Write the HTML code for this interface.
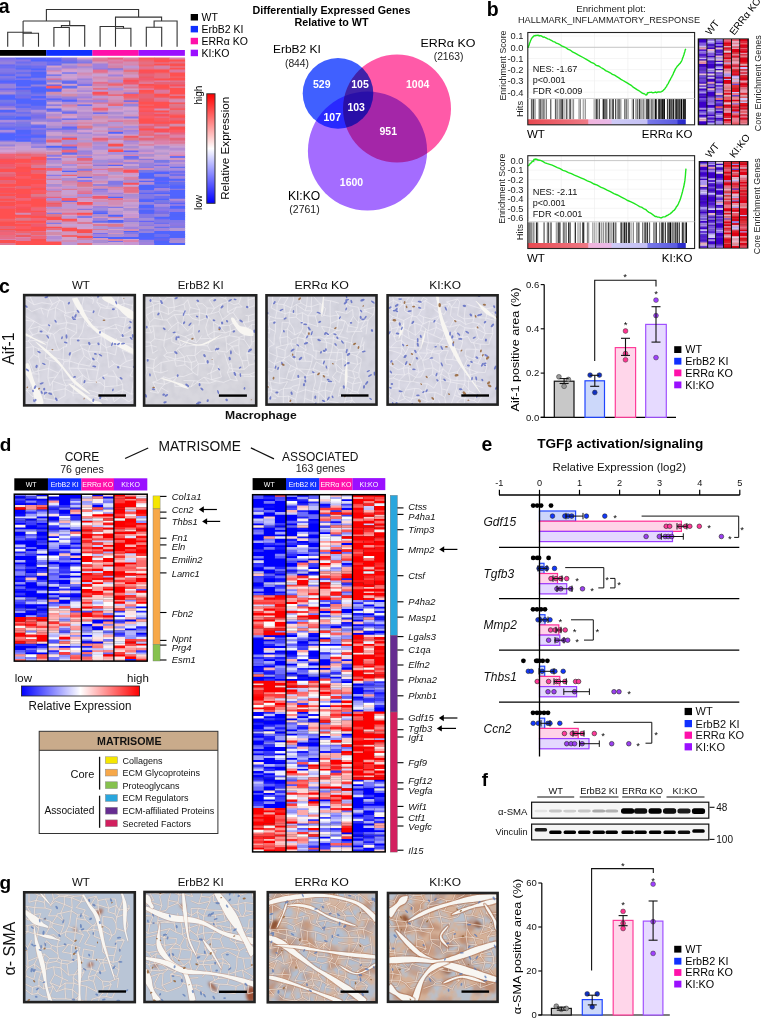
<!DOCTYPE html>
<html><head><meta charset="utf-8"><style>
html,body{margin:0;padding:0;background:#fff;}
svg{display:block;}
text{font-family:"Liberation Sans",sans-serif;}
</style></head><body>
<svg width="761" height="1019" viewBox="0 0 761 1019">
<rect width="761" height="1019" fill="#fff"/>
<text x="-1.2" y="12.8" font-size="19.50" font-weight="bold">a</text>
<polyline points="23.1,46.8 23.1,33.3 38.5,33.3 38.5,46.8" fill="none" stroke="#333" stroke-width="1.10"/>
<polyline points="7.7,46.8 7.7,32.2 31.2,32.2 31.2,33.3" fill="none" stroke="#333" stroke-width="1.10"/>
<line x1="23.1" y1="33.3" x2="23.1" y2="21.0" stroke="#333" stroke-width="1.10"/>
<polyline points="53.9,46.8 53.9,27.5 69.3,27.5 69.3,46.8" fill="none" stroke="#333" stroke-width="1.10"/>
<polyline points="61.4,27.5 61.4,25.6 84.7,25.6 84.7,46.8" fill="none" stroke="#333" stroke-width="1.10"/>
<polyline points="23.1,21.0 69.7,21.0 69.7,25.6" fill="none" stroke="#333" stroke-width="1.10"/>
<polyline points="46.4,21.0 46.4,9.5 138.6,9.5 138.6,17.1" fill="none" stroke="#333" stroke-width="1.10"/>
<polyline points="115.5,46.8 115.5,28.3 130.9,28.3 130.9,46.8" fill="none" stroke="#333" stroke-width="1.10"/>
<polyline points="100.1,46.8 100.1,26.5 123.5,26.5 123.5,28.3" fill="none" stroke="#333" stroke-width="1.10"/>
<polyline points="115.5,28.3 115.5,17.1 161.6,17.1 161.6,21.0" fill="none" stroke="#333" stroke-width="1.10"/>
<polyline points="146.3,46.8 146.3,27.3 161.7,27.3 161.7,46.8" fill="none" stroke="#333" stroke-width="1.10"/>
<polyline points="154.1,27.3 154.1,21.0 177.1,21.0 177.1,46.8" fill="none" stroke="#333" stroke-width="1.10"/>
<rect x="0.0" y="50.0" width="46.3" height="5.8" fill="#000000"/>
<rect x="46.2" y="50.0" width="46.3" height="5.8" fill="#1030ff"/>
<rect x="92.4" y="50.0" width="46.3" height="5.8" fill="#ff10aa"/>
<rect x="138.6" y="50.0" width="46.3" height="5.8" fill="#9a10ff"/>
<path stroke="#786ef0" stroke-width="2.76" d="M0 59h15.7M30.8 115.2h15.7M0 123.2h15.7M15.4 129.2h15.7M154 165.3h15.7M154 171.3h15.7M154 211.4h15.7M154 219.4h15.7M92.4 233.5h15.7M107.8 241.5h15.7"/>
<path stroke="#5a64fa" stroke-width="2.76" d="M15.4 59h15.7M30.8 59h15.7M46.2 65h15.7M30.8 75h15.7M61.6 83.1h15.7M46.2 85.1h15.7M77 85.1h15.7M30.8 87.1h15.7M0 95.1h15.7M123.2 101.1h15.7M92.4 113.1h15.7M61.6 119.2h15.7M30.8 127.2h15.7M30.8 135.2h15.7M107.8 165.3h15.7M77 177.3h15.7M154 177.3h15.7M138.6 181.3h15.7M169.4 185.3h15.7M154 187.3h15.7M138.6 193.4h15.7M138.6 199.4h15.7M169.4 203.4h15.7M138.6 213.4h15.7"/>
<path stroke="#6464fa" stroke-width="2.76" d="M46.2 59h15.7M0 65h15.7M0 83.1h15.7M0 89.1h15.7M0 105.1h15.7M61.6 127.2h15.7M0 133.2h15.7M15.4 135.2h15.7M15.4 139.2h15.7M123.2 151.2h15.7M154 181.3h15.7M138.6 221.4h15.7M138.6 239.5h15.7"/>
<path stroke="#8c78dc" stroke-width="2.76" d="M61.6 59h15.7M0 107.1h15.7M30.8 113.1h15.7M138.6 159.3h15.7M92.4 165.3h15.7M169.4 181.3h15.7M169.4 189.4h15.7M77 209.4h15.7M169.4 225.4h15.7"/>
<path stroke="#d2a0c8" stroke-width="2.76" d="M77 59h15.7M46.2 67h15.7M92.4 81.1h15.7M46.2 83.1h15.7M61.6 85.1h15.7M77 87.1h15.7M92.4 87.1h15.7M61.6 89.1h15.7M123.2 89.1h15.7M123.2 107.1h15.7M123.2 119.2h15.7M92.4 121.2h15.7M123.2 125.2h15.7M46.2 135.2h15.7M123.2 135.2h15.7M138.6 143.2h15.7M46.2 145.2h15.7M123.2 145.2h15.7M154 145.2h15.7M0 147.2h15.7M46.2 151.2h15.7M92.4 153.3h15.7M61.6 155.3h15.7M107.8 155.3h15.7M154 155.3h15.7M46.2 157.3h15.7M138.6 157.3h15.7M107.8 167.3h15.7M92.4 173.3h15.7M107.8 175.3h15.7M77 179.3h15.7M46.2 183.3h15.7M92.4 183.3h15.7M77 201.4h15.7M123.2 207.4h15.7M61.6 215.4h15.7M77 221.4h15.7M92.4 223.4h15.7M107.8 229.5h15.7M46.2 235.5h15.7M61.6 237.5h15.7M61.6 239.5h15.7M123.2 239.5h15.7"/>
<path stroke="#dc82a0" stroke-width="2.76" d="M92.4 59h15.7M169.4 67h15.7M46.2 71h15.7M92.4 73h15.7M169.4 87.1h15.7M169.4 95.1h15.7M169.4 99.1h15.7M123.2 121.2h15.7M77 123.2h15.7M107.8 127.2h15.7M107.8 131.2h15.7M169.4 135.2h15.7M169.4 141.2h15.7M77 143.2h15.7M77 145.2h15.7M138.6 145.2h15.7M30.8 153.3h15.7M107.8 171.3h15.7M123.2 177.3h15.7M107.8 187.3h15.7M107.8 217.4h15.7M61.6 227.5h15.7M61.6 231.5h15.7M77 235.5h15.7M107.8 239.5h15.7"/>
<path stroke="#e66482" stroke-width="2.76" d="M107.8 59h15.7M169.4 133.2h15.7M154 135.2h15.7M46.2 197.4h15.7"/>
<path stroke="#dc82aa" stroke-width="2.76" d="M123.2 59h15.7M169.4 59h15.7M107.8 61h15.7M123.2 65h15.7M154 81.1h15.7M138.6 83.1h15.7M138.6 89.1h15.7M123.2 103.1h15.7M169.4 137.2h15.7M92.4 141.2h15.7M154 141.2h15.7M154 143.2h15.7M0 153.3h15.7M123.2 155.3h15.7M169.4 155.3h15.7M61.6 163.3h15.7M77 215.4h15.7M15.4 237.5h15.7M0 239.5h15.7M123.2 241.5h15.7"/>
<path stroke="#fa5a5a" stroke-width="2.76" d="M138.6 59h15.7M123.2 71h15.7M138.6 93.1h15.7M107.8 105.1h15.7M169.4 115.2h15.7M30.8 193.4h15.7M15.4 217.4h15.7M0 221.4h15.7"/>
<path stroke="#f05a64" stroke-width="2.76" d="M154 59h15.7M138.6 77.1h15.7M154 89.1h15.7M107.8 95.1h15.7M154 97.1h15.7M138.6 99.1h15.7M138.6 101.1h15.7M138.6 115.2h15.7M154 121.2h15.7M123.2 137.2h15.7M30.8 179.3h15.7M30.8 187.3h15.7M0 193.4h15.7M46.2 203.4h15.7M30.8 215.4h15.7M15.4 235.5h15.7"/>
<path stroke="#8c78e6" stroke-width="2.76" d="M0 61h15.7M15.4 61h15.7M30.8 65h15.7M0 69h15.7M92.4 69h15.7M30.8 71h15.7M15.4 79.1h15.7M15.4 87.1h15.7M0 91.1h15.7M123.2 93.1h15.7M30.8 95.1h15.7M30.8 99.1h15.7M61.6 99.1h15.7M0 113.1h15.7M30.8 119.2h15.7M46.2 121.2h15.7M30.8 129.2h15.7M0 141.2h15.7M46.2 155.3h15.7M46.2 159.3h15.7M138.6 167.3h15.7M169.4 173.3h15.7M46.2 175.3h15.7M77 181.3h15.7M169.4 201.4h15.7M169.4 205.4h15.7M154 209.4h15.7M169.4 209.4h15.7M169.4 211.4h15.7M123.2 221.4h15.7M169.4 223.4h15.7M138.6 225.4h15.7"/>
<path stroke="#5064ff" stroke-width="2.76" d="M30.8 61h15.7M46.2 61h15.7M15.4 69h15.7M30.8 69h15.7M15.4 73h15.7M61.6 73h15.7M0 75h15.7M15.4 77.1h15.7M30.8 77.1h15.7M0 81.1h15.7M15.4 81.1h15.7M30.8 81.1h15.7M15.4 83.1h15.7M15.4 85.1h15.7M15.4 89.1h15.7M30.8 89.1h15.7M46.2 89.1h15.7M46.2 91.1h15.7M0 97.1h15.7M30.8 97.1h15.7M0 99.1h15.7M15.4 99.1h15.7M46.2 99.1h15.7M15.4 101.1h15.7M30.8 101.1h15.7M61.6 101.1h15.7M15.4 103.1h15.7M30.8 105.1h15.7M77 105.1h15.7M15.4 107.1h15.7M46.2 109.1h15.7M15.4 117.2h15.7M0 119.2h15.7M15.4 119.2h15.7M0 129.2h15.7M15.4 133.2h15.7M107.8 133.2h15.7M0 135.2h15.7M0 137.2h15.7M15.4 137.2h15.7M30.8 137.2h15.7M0 139.2h15.7M15.4 141.2h15.7M61.6 147.2h15.7M61.6 171.3h15.7M138.6 173.3h15.7M154 173.3h15.7M138.6 175.3h15.7M154 179.3h15.7M169.4 179.3h15.7M154 183.3h15.7M138.6 185.3h15.7M169.4 187.3h15.7M138.6 189.4h15.7M169.4 191.4h15.7M154 193.4h15.7M169.4 193.4h15.7M169.4 195.4h15.7M107.8 197.4h15.7M154 199.4h15.7M138.6 201.4h15.7M138.6 205.4h15.7M138.6 207.4h15.7M169.4 207.4h15.7M92.4 213.4h15.7M169.4 213.4h15.7M107.8 215.4h15.7M154 217.4h15.7M169.4 217.4h15.7M169.4 219.4h15.7M123.2 231.5h15.7M154 231.5h15.7M169.4 231.5h15.7M138.6 233.5h15.7M154 233.5h15.7M169.4 233.5h15.7M92.4 237.5h15.7M107.8 237.5h15.7M123.2 237.5h15.7M138.6 237.5h15.7M154 237.5h15.7M169.4 237.5h15.7M154 243.5h15.7M169.4 243.5h15.7"/>
<path stroke="#786ee6" stroke-width="2.76" d="M61.6 61h15.7M0 73h15.7M15.4 91.1h15.7M15.4 97.1h15.7M46.2 105.1h15.7M30.8 117.2h15.7M30.8 133.2h15.7M154 203.4h15.7M154 213.4h15.7"/>
<path stroke="#9682dc" stroke-width="2.76" d="M77 61h15.7M0 63h15.7M77 67h15.7M77 79.1h15.7M0 85.1h15.7M30.8 85.1h15.7M0 87.1h15.7M61.6 97.1h15.7M123.2 105.1h15.7M15.4 111.1h15.7M61.6 111.1h15.7M46.2 119.2h15.7M15.4 121.2h15.7M30.8 121.2h15.7M77 129.2h15.7M77 133.2h15.7M61.6 137.2h15.7M0 145.2h15.7M77 151.2h15.7M123.2 159.3h15.7M138.6 163.3h15.7M138.6 165.3h15.7M154 175.3h15.7M92.4 185.3h15.7M107.8 185.3h15.7M154 195.4h15.7M138.6 203.4h15.7M154 215.4h15.7M138.6 223.4h15.7M138.6 231.5h15.7M138.6 241.5h15.7"/>
<path stroke="#dc7896" stroke-width="2.76" d="M92.4 61h15.7M154 63h15.7M138.6 67h15.7M154 69h15.7M169.4 81.1h15.7M107.8 83.1h15.7M123.2 87.1h15.7M154 93.1h15.7M123.2 99.1h15.7M154 99.1h15.7M92.4 103.1h15.7M107.8 103.1h15.7M154 113.1h15.7M107.8 139.2h15.7M154 139.2h15.7M169.4 143.2h15.7M107.8 149.2h15.7M15.4 153.3h15.7M77 163.3h15.7M30.8 165.3h15.7M30.8 167.3h15.7M123.2 169.3h15.7M77 171.3h15.7M46.2 179.3h15.7M61.6 189.4h15.7M46.2 191.4h15.7M77 197.4h15.7M46.2 201.4h15.7M61.6 221.4h15.7M77 223.4h15.7M92.4 225.4h15.7M92.4 229.5h15.7M15.4 233.5h15.7M30.8 235.5h15.7M46.2 241.5h15.7M0 243.5h15.7"/>
<path stroke="#e66e8c" stroke-width="2.76" d="M123.2 61h15.7M138.6 69h15.7M92.4 71h15.7M46.2 79.1h15.7M92.4 83.1h15.7M154 101.1h15.7M154 117.2h15.7M107.8 121.2h15.7M138.6 131.2h15.7M61.6 145.2h15.7M77 183.3h15.7M123.2 189.4h15.7M77 193.4h15.7M107.8 199.4h15.7M61.6 213.4h15.7M30.8 231.5h15.7M0 237.5h15.7"/>
<path stroke="#f0646e" stroke-width="2.76" d="M138.6 61h15.7M138.6 65h15.7M154 73h15.7M169.4 77.1h15.7M107.8 85.1h15.7M123.2 97.1h15.7M138.6 105.1h15.7M138.6 135.2h15.7M15.4 155.3h15.7M15.4 163.3h15.7M30.8 163.3h15.7M30.8 173.3h15.7M61.6 175.3h15.7M0 183.3h15.7M0 187.3h15.7M0 201.4h15.7M30.8 207.4h15.7M0 219.4h15.7M15.4 223.4h15.7M30.8 223.4h15.7M77 229.5h15.7M15.4 231.5h15.7M30.8 233.5h15.7M61.6 235.5h15.7"/>
<path stroke="#ff5050" stroke-width="2.76" d="M154 61h15.7M169.4 61h15.7M154 65h15.7M169.4 69h15.7M138.6 71h15.7M154 71h15.7M169.4 73h15.7M169.4 75h15.7M154 79.1h15.7M169.4 79.1h15.7M154 85.1h15.7M154 87.1h15.7M169.4 89.1h15.7M138.6 91.1h15.7M169.4 91.1h15.7M169.4 93.1h15.7M154 95.1h15.7M138.6 103.1h15.7M154 103.1h15.7M169.4 103.1h15.7M154 105.1h15.7M138.6 107.1h15.7M169.4 109.1h15.7M138.6 111.1h15.7M154 111.1h15.7M169.4 117.2h15.7M138.6 119.2h15.7M138.6 121.2h15.7M169.4 121.2h15.7M138.6 123.2h15.7M154 123.2h15.7M169.4 123.2h15.7M138.6 129.2h15.7M154 129.2h15.7M169.4 129.2h15.7M61.6 139.2h15.7M107.8 151.2h15.7M30.8 157.3h15.7M15.4 159.3h15.7M30.8 159.3h15.7M0 161.3h15.7M15.4 161.3h15.7M0 169.3h15.7M15.4 169.3h15.7M30.8 169.3h15.7M0 171.3h15.7M15.4 171.3h15.7M15.4 175.3h15.7M30.8 175.3h15.7M30.8 177.3h15.7M0 179.3h15.7M15.4 179.3h15.7M15.4 181.3h15.7M30.8 181.3h15.7M15.4 183.3h15.7M30.8 183.3h15.7M0 185.3h15.7M15.4 185.3h15.7M15.4 189.4h15.7M30.8 189.4h15.7M0 191.4h15.7M15.4 191.4h15.7M15.4 193.4h15.7M0 195.4h15.7M15.4 197.4h15.7M0 199.4h15.7M30.8 199.4h15.7M15.4 201.4h15.7M30.8 201.4h15.7M15.4 203.4h15.7M30.8 203.4h15.7M0 205.4h15.7M30.8 205.4h15.7M0 209.4h15.7M0 211.4h15.7M30.8 211.4h15.7M0 213.4h15.7M77 213.4h15.7M0 215.4h15.7M15.4 215.4h15.7M0 217.4h15.7M30.8 217.4h15.7M46.2 217.4h15.7M46.2 219.4h15.7M61.6 219.4h15.7M15.4 221.4h15.7M30.8 221.4h15.7M0 225.4h15.7M15.4 225.4h15.7M30.8 227.5h15.7M46.2 227.5h15.7M0 229.5h15.7M15.4 229.5h15.7M30.8 229.5h15.7M61.6 229.5h15.7M15.4 241.5h15.7M30.8 241.5h15.7M15.4 243.5h15.7M30.8 243.5h15.7M46.2 243.5h15.7"/>
<path stroke="#6e6ef0" stroke-width="2.76" d="M15.4 63h15.7M46.2 63h15.7M0 67h15.7M30.8 67h15.7M0 79.1h15.7M15.4 95.1h15.7M0 103.1h15.7M15.4 105.1h15.7M30.8 107.1h15.7M30.8 109.1h15.7M46.2 111.1h15.7M15.4 113.1h15.7M61.6 113.1h15.7M30.8 125.2h15.7M0 127.2h15.7M15.4 127.2h15.7M30.8 131.2h15.7M30.8 141.2h15.7M123.2 157.3h15.7M169.4 157.3h15.7M169.4 171.3h15.7M169.4 175.3h15.7M154 191.4h15.7M154 197.4h15.7M61.6 201.4h15.7M138.6 209.4h15.7M92.4 211.4h15.7M154 223.4h15.7M154 235.5h15.7"/>
<path stroke="#8278e6" stroke-width="2.76" d="M30.8 63h15.7M77 63h15.7M15.4 65h15.7M0 71h15.7M15.4 71h15.7M15.4 75h15.7M0 77.1h15.7M30.8 79.1h15.7M46.2 101.1h15.7M15.4 109.1h15.7M0 115.2h15.7M15.4 115.2h15.7M123.2 117.2h15.7M77 119.2h15.7M15.4 123.2h15.7M0 125.2h15.7M30.8 139.2h15.7M30.8 143.2h15.7M30.8 147.2h15.7M61.6 149.2h15.7M77 169.3h15.7M107.8 181.3h15.7M107.8 183.3h15.7M92.4 189.4h15.7M138.6 191.4h15.7M138.6 195.4h15.7M138.6 197.4h15.7M107.8 207.4h15.7M154 207.4h15.7M46.2 213.4h15.7M138.6 215.4h15.7M77 217.4h15.7M138.6 217.4h15.7M154 221.4h15.7M169.4 221.4h15.7M46.2 223.4h15.7M169.4 227.5h15.7M138.6 229.5h15.7M123.2 233.5h15.7"/>
<path stroke="#646ef0" stroke-width="2.76" d="M61.6 63h15.7M15.4 67h15.7M107.8 69h15.7M46.2 75h15.7M61.6 81.1h15.7M61.6 87.1h15.7M30.8 93.1h15.7M0 117.2h15.7M46.2 129.2h15.7M61.6 129.2h15.7M61.6 153.3h15.7M169.4 167.3h15.7M169.4 183.3h15.7M154 185.3h15.7M92.4 221.4h15.7M154 227.5h15.7"/>
<path stroke="#d296be" stroke-width="2.76" d="M92.4 63h15.7M61.6 69h15.7M77 75h15.7M107.8 77.1h15.7M123.2 77.1h15.7M92.4 79.1h15.7M61.6 91.1h15.7M107.8 97.1h15.7M77 99.1h15.7M107.8 99.1h15.7M77 103.1h15.7M61.6 107.1h15.7M92.4 107.1h15.7M107.8 109.1h15.7M61.6 115.2h15.7M123.2 115.2h15.7M92.4 119.2h15.7M107.8 119.2h15.7M77 121.2h15.7M77 125.2h15.7M92.4 127.2h15.7M123.2 129.2h15.7M61.6 135.2h15.7M77 139.2h15.7M107.8 143.2h15.7M169.4 145.2h15.7M123.2 149.2h15.7M15.4 151.2h15.7M30.8 151.2h15.7M169.4 159.3h15.7M123.2 161.3h15.7M107.8 177.3h15.7M61.6 185.3h15.7M77 187.3h15.7M123.2 193.4h15.7M61.6 195.4h15.7M92.4 195.4h15.7M92.4 199.4h15.7M123.2 199.4h15.7M92.4 205.4h15.7M107.8 205.4h15.7M46.2 211.4h15.7M61.6 211.4h15.7M77 211.4h15.7M92.4 217.4h15.7M123.2 217.4h15.7M61.6 223.4h15.7M46.2 225.4h15.7M61.6 233.5h15.7M107.8 233.5h15.7M92.4 239.5h15.7"/>
<path stroke="#dc78a0" stroke-width="2.76" d="M107.8 63h15.7M169.4 71h15.7M154 91.1h15.7M92.4 99.1h15.7M138.6 125.2h15.7M92.4 169.3h15.7M77 191.4h15.7M15.4 239.5h15.7"/>
<path stroke="#d28cb4" stroke-width="2.76" d="M123.2 63h15.7M77 65h15.7M107.8 65h15.7M77 73h15.7M92.4 77.1h15.7M107.8 79.1h15.7M123.2 85.1h15.7M107.8 87.1h15.7M107.8 91.1h15.7M123.2 91.1h15.7M107.8 93.1h15.7M107.8 101.1h15.7M169.4 101.1h15.7M154 109.1h15.7M92.4 111.1h15.7M46.2 117.2h15.7M92.4 123.2h15.7M154 127.2h15.7M92.4 131.2h15.7M154 133.2h15.7M138.6 137.2h15.7M46.2 139.2h15.7M138.6 141.2h15.7M77 147.2h15.7M77 155.3h15.7M61.6 157.3h15.7M61.6 161.3h15.7M77 161.3h15.7M107.8 163.3h15.7M138.6 169.3h15.7M77 175.3h15.7M92.4 181.3h15.7M61.6 183.3h15.7M92.4 187.3h15.7M77 189.4h15.7M107.8 189.4h15.7M46.2 193.4h15.7M46.2 195.4h15.7M92.4 201.4h15.7M107.8 201.4h15.7M123.2 201.4h15.7M61.6 203.4h15.7M107.8 203.4h15.7M77 205.4h15.7M46.2 209.4h15.7M61.6 209.4h15.7M15.4 213.4h15.7M46.2 221.4h15.7M123.2 229.5h15.7M77 233.5h15.7M61.6 241.5h15.7"/>
<path stroke="#e66e82" stroke-width="2.76" d="M138.6 63h15.7M169.4 63h15.7M154 75h15.7M154 77.1h15.7M123.2 79.1h15.7M138.6 81.1h15.7M92.4 89.1h15.7M92.4 95.1h15.7M169.4 107.1h15.7M169.4 113.1h15.7M138.6 133.2h15.7M154 137.2h15.7M30.8 155.3h15.7M15.4 157.3h15.7M0 173.3h15.7M123.2 187.3h15.7M123.2 191.4h15.7M46.2 229.5h15.7M0 235.5h15.7M77 243.5h15.7"/>
<path stroke="#b496d2" stroke-width="2.76" d="M61.6 65h15.7M46.2 95.1h15.7M123.2 111.1h15.7M107.8 123.2h15.7M61.6 133.2h15.7M77 137.2h15.7M77 141.2h15.7M0 143.2h15.7M15.4 143.2h15.7M107.8 147.2h15.7M154 149.2h15.7M154 153.3h15.7M46.2 163.3h15.7M107.8 173.3h15.7M107.8 211.4h15.7M123.2 223.4h15.7M92.4 227.5h15.7M169.4 229.5h15.7"/>
<path stroke="#a082dc" stroke-width="2.76" d="M92.4 65h15.7M61.6 67h15.7M92.4 67h15.7M107.8 75h15.7M77 83.1h15.7M77 91.1h15.7M46.2 97.1h15.7M77 97.1h15.7M77 101.1h15.7M92.4 101.1h15.7M46.2 131.2h15.7M61.6 131.2h15.7M123.2 131.2h15.7M123.2 141.2h15.7M77 153.3h15.7M77 157.3h15.7M107.8 161.3h15.7M169.4 161.3h15.7M123.2 163.3h15.7M169.4 177.3h15.7M154 189.4h15.7M92.4 191.4h15.7M107.8 193.4h15.7M92.4 207.4h15.7M92.4 219.4h15.7M123.2 219.4h15.7M154 225.4h15.7M123.2 227.5h15.7M154 229.5h15.7M92.4 235.5h15.7M123.2 235.5h15.7M169.4 239.5h15.7M138.6 243.5h15.7"/>
<path stroke="#fa5050" stroke-width="2.76" d="M169.4 65h15.7M138.6 85.1h15.7M169.4 97.1h15.7M169.4 127.2h15.7M107.8 145.2h15.7M15.4 167.3h15.7M0 203.4h15.7M15.4 209.4h15.7M0 223.4h15.7M77 231.5h15.7M77 237.5h15.7M30.8 239.5h15.7M0 241.5h15.7"/>
<path stroke="#d282aa" stroke-width="2.76" d="M107.8 67h15.7M154 67h15.7M123.2 69h15.7M92.4 85.1h15.7M61.6 105.1h15.7M61.6 123.2h15.7M92.4 175.3h15.7M123.2 179.3h15.7M61.6 181.3h15.7M77 239.5h15.7"/>
<path stroke="#be96d2" stroke-width="2.76" d="M123.2 67h15.7M77 69h15.7M46.2 77.1h15.7M61.6 79.1h15.7M77 89.1h15.7M92.4 91.1h15.7M92.4 97.1h15.7M77 107.1h15.7M107.8 107.1h15.7M77 109.1h15.7M77 115.2h15.7M92.4 115.2h15.7M61.6 121.2h15.7M46.2 123.2h15.7M46.2 125.2h15.7M107.8 125.2h15.7M77 135.2h15.7M15.4 145.2h15.7M92.4 145.2h15.7M0 149.2h15.7M77 149.2h15.7M138.6 149.2h15.7M92.4 155.3h15.7M92.4 159.3h15.7M154 159.3h15.7M169.4 163.3h15.7M92.4 167.3h15.7M61.6 173.3h15.7M46.2 177.3h15.7M92.4 179.3h15.7M61.6 187.3h15.7M61.6 197.4h15.7M92.4 203.4h15.7M61.6 205.4h15.7M123.2 205.4h15.7M61.6 207.4h15.7M107.8 213.4h15.7M61.6 217.4h15.7M107.8 223.4h15.7M123.2 225.4h15.7M92.4 231.5h15.7M46.2 239.5h15.7M77 241.5h15.7M61.6 243.5h15.7"/>
<path stroke="#aa8cdc" stroke-width="2.76" d="M46.2 69h15.7M77 81.1h15.7M107.8 89.1h15.7M61.6 103.1h15.7M30.8 111.1h15.7M0 121.2h15.7M123.2 127.2h15.7M0 131.2h15.7M123.2 133.2h15.7M61.6 143.2h15.7M30.8 145.2h15.7M92.4 147.2h15.7M92.4 149.2h15.7M107.8 153.3h15.7M123.2 153.3h15.7M107.8 159.3h15.7M154 163.3h15.7M61.6 165.3h15.7M169.4 165.3h15.7M169.4 169.3h15.7M92.4 193.4h15.7M77 195.4h15.7M46.2 199.4h15.7M154 205.4h15.7M107.8 227.5h15.7"/>
<path stroke="#d2a0d2" stroke-width="2.76" d="M61.6 71h15.7M46.2 73h15.7M61.6 77.1h15.7M123.2 109.1h15.7M107.8 111.1h15.7M61.6 117.2h15.7M77 131.2h15.7M107.8 135.2h15.7M0 151.2h15.7M123.2 213.4h15.7M77 219.4h15.7M77 227.5h15.7"/>
<path stroke="#c8a0d2" stroke-width="2.76" d="M77 71h15.7M61.6 75h15.7M92.4 75h15.7M61.6 93.1h15.7M77 93.1h15.7M46.2 103.1h15.7M46.2 107.1h15.7M61.6 109.1h15.7M77 111.1h15.7M46.2 113.1h15.7M123.2 113.1h15.7M107.8 115.2h15.7M30.8 123.2h15.7M92.4 129.2h15.7M46.2 133.2h15.7M92.4 133.2h15.7M107.8 141.2h15.7M46.2 143.2h15.7M15.4 147.2h15.7M138.6 147.2h15.7M169.4 147.2h15.7M15.4 149.2h15.7M30.8 149.2h15.7M92.4 151.2h15.7M154 151.2h15.7M169.4 151.2h15.7M92.4 157.3h15.7M107.8 157.3h15.7M154 157.3h15.7M61.6 159.3h15.7M46.2 165.3h15.7M123.2 165.3h15.7M61.6 167.3h15.7M46.2 171.3h15.7M46.2 173.3h15.7M123.2 175.3h15.7M61.6 177.3h15.7M107.8 179.3h15.7M46.2 181.3h15.7M123.2 185.3h15.7M61.6 191.4h15.7M61.6 193.4h15.7M123.2 203.4h15.7M107.8 209.4h15.7M123.2 211.4h15.7M107.8 219.4h15.7M61.6 225.4h15.7M77 225.4h15.7M46.2 231.5h15.7M92.4 243.5h15.7M107.8 243.5h15.7"/>
<path stroke="#b48cd2" stroke-width="2.76" d="M107.8 71h15.7M107.8 81.1h15.7M77 95.1h15.7M0 109.1h15.7M77 113.1h15.7M46.2 115.2h15.7M77 117.2h15.7M107.8 117.2h15.7M61.6 125.2h15.7M92.4 135.2h15.7M107.8 137.2h15.7M123.2 143.2h15.7M169.4 149.2h15.7M138.6 151.2h15.7M46.2 161.3h15.7M138.6 161.3h15.7M92.4 163.3h15.7M154 167.3h15.7M61.6 169.3h15.7M92.4 177.3h15.7M138.6 179.3h15.7M138.6 183.3h15.7M46.2 189.4h15.7M107.8 195.4h15.7M123.2 197.4h15.7M169.4 199.4h15.7M46.2 207.4h15.7M107.8 231.5h15.7M46.2 237.5h15.7"/>
<path stroke="#5064fa" stroke-width="2.76" d="M30.8 73h15.7M30.8 83.1h15.7M30.8 91.1h15.7M30.8 103.1h15.7M0 111.1h15.7M15.4 131.2h15.7M46.2 147.2h15.7M138.6 177.3h15.7M138.6 187.3h15.7M169.4 197.4h15.7M138.6 211.4h15.7M169.4 215.4h15.7M107.8 221.4h15.7M138.6 235.5h15.7M169.4 235.5h15.7M154 241.5h15.7"/>
<path stroke="#d296c8" stroke-width="2.76" d="M107.8 73h15.7M123.2 75h15.7M92.4 105.1h15.7M92.4 137.2h15.7M138.6 153.3h15.7M169.4 153.3h15.7M77 165.3h15.7M123.2 173.3h15.7M46.2 187.3h15.7M77 199.4h15.7"/>
<path stroke="#d28caa" stroke-width="2.76" d="M123.2 73h15.7M46.2 93.1h15.7M61.6 95.1h15.7M92.4 117.2h15.7M123.2 123.2h15.7M169.4 125.2h15.7M46.2 153.3h15.7M77 167.3h15.7M77 173.3h15.7M46.2 233.5h15.7"/>
<path stroke="#fa505a" stroke-width="2.76" d="M138.6 73h15.7M123.2 81.1h15.7M169.4 85.1h15.7M92.4 93.1h15.7M154 107.1h15.7M154 115.2h15.7M154 131.2h15.7M0 159.3h15.7M0 163.3h15.7M123.2 171.3h15.7M15.4 173.3h15.7M0 177.3h15.7M123.2 183.3h15.7M0 189.4h15.7M15.4 195.4h15.7M77 203.4h15.7M15.4 207.4h15.7M15.4 211.4h15.7"/>
<path stroke="#e66478" stroke-width="2.76" d="M138.6 75h15.7M154 83.1h15.7M169.4 83.1h15.7M138.6 95.1h15.7M138.6 97.1h15.7M169.4 119.2h15.7M154 125.2h15.7M138.6 127.2h15.7M92.4 139.2h15.7M138.6 139.2h15.7M169.4 139.2h15.7M46.2 141.2h15.7M0 157.3h15.7M77 159.3h15.7M0 167.3h15.7M30.8 171.3h15.7M0 175.3h15.7M0 181.3h15.7M15.4 187.3h15.7M0 197.4h15.7M46.2 205.4h15.7M0 227.5h15.7M0 231.5h15.7"/>
<path stroke="#c896d2" stroke-width="2.76" d="M77 77.1h15.7M92.4 171.3h15.7M107.8 191.4h15.7M77 207.4h15.7M123.2 215.4h15.7M123.2 243.5h15.7"/>
<path stroke="#f05a6e" stroke-width="2.76" d="M138.6 79.1h15.7M123.2 83.1h15.7M138.6 113.1h15.7M30.8 161.3h15.7M0 165.3h15.7M30.8 197.4h15.7M92.4 197.4h15.7M0 207.4h15.7M30.8 213.4h15.7M30.8 225.4h15.7"/>
<path stroke="#8c82dc" stroke-width="2.76" d="M46.2 81.1h15.7"/>
<path stroke="#fa5a64" stroke-width="2.76" d="M46.2 87.1h15.7M138.6 87.1h15.7M123.2 95.1h15.7M138.6 109.1h15.7M138.6 117.2h15.7M154 119.2h15.7M169.4 131.2h15.7M15.4 165.3h15.7M15.4 177.3h15.7M30.8 185.3h15.7M30.8 191.4h15.7M61.6 199.4h15.7M15.4 205.4h15.7M15.4 227.5h15.7"/>
<path stroke="#aa8cd2" stroke-width="2.76" d="M0 93.1h15.7M107.8 113.1h15.7M92.4 125.2h15.7M46.2 127.2h15.7M46.2 137.2h15.7M61.6 141.2h15.7M92.4 143.2h15.7M123.2 147.2h15.7M154 147.2h15.7M46.2 149.2h15.7M138.6 155.3h15.7M46.2 167.3h15.7M123.2 167.3h15.7M61.6 179.3h15.7M123.2 181.3h15.7M46.2 185.3h15.7M123.2 195.4h15.7M123.2 209.4h15.7M92.4 215.4h15.7M138.6 227.5h15.7M107.8 235.5h15.7M92.4 241.5h15.7M169.4 241.5h15.7"/>
<path stroke="#7878e6" stroke-width="2.76" d="M15.4 93.1h15.7M0 101.1h15.7M15.4 125.2h15.7M154 161.3h15.7M138.6 171.3h15.7M154 201.4h15.7"/>
<path stroke="#dc788c" stroke-width="2.76" d="M169.4 105.1h15.7M169.4 111.1h15.7M77 127.2h15.7M123.2 139.2h15.7M107.8 169.3h15.7M77 185.3h15.7M30.8 195.4h15.7M46.2 215.4h15.7M15.4 219.4h15.7M107.8 225.4h15.7"/>
<path stroke="#f06478" stroke-width="2.76" d="M92.4 109.1h15.7M61.6 151.2h15.7M0 155.3h15.7M46.2 169.3h15.7M15.4 199.4h15.7M30.8 209.4h15.7M30.8 219.4h15.7M0 233.5h15.7M30.8 237.5h15.7"/>
<path stroke="#a08cdc" stroke-width="2.76" d="M107.8 129.2h15.7M92.4 161.3h15.7M154 169.3h15.7M92.4 209.4h15.7M138.6 219.4h15.7"/>
<path stroke="#6464f0" stroke-width="2.76" d="M154 239.5h15.7"/>
<rect x="190.7" y="14.0" width="7.3" height="6.5" fill="#000000"/>
<text x="201.5" y="21.0" font-size="10.50">WT</text>
<rect x="190.7" y="25.9" width="7.3" height="6.5" fill="#1030ff"/>
<text x="201.5" y="32.9" font-size="10.50">ErbB2 KI</text>
<rect x="190.7" y="37.8" width="7.3" height="6.5" fill="#ff10aa"/>
<text x="201.5" y="44.8" font-size="10.50">ERR&#945; KO</text>
<rect x="190.7" y="49.7" width="7.3" height="6.5" fill="#9a10ff"/>
<text x="201.5" y="56.7" font-size="10.50">KI:KO</text>
<defs><linearGradient id="gA" x1="0" y1="0" x2="0" y2="1"><stop offset="0" stop-color="#ff0000"/><stop offset="0.5" stop-color="#ffffff"/><stop offset="1" stop-color="#0000ff"/></linearGradient><linearGradient id="gH" x1="0" y1="0" x2="1" y2="0"><stop offset="0" stop-color="#0000ff"/><stop offset="0.5" stop-color="#ffffff"/><stop offset="1" stop-color="#ff0000"/></linearGradient></defs>
<rect x="206.8" y="93.8" width="8.2" height="109.5" fill="url(#gA)" stroke="#333" stroke-width="1.00"/>
<text x="201.5" y="104.5" font-size="10.00" transform="rotate(-90 201.5 104.5)">high</text>
<text x="201.5" y="210.0" font-size="10.00" transform="rotate(-90 201.5 210.0)">low</text>
<text x="229.0" y="199.8" font-size="11.70" transform="rotate(-90 229.0 199.8)" textLength="103.0" lengthAdjust="spacingAndGlyphs">Relative Expression</text>
<text x="331.5" y="13.6" font-size="10.70" font-weight="bold" text-anchor="middle" textLength="158.0" lengthAdjust="spacingAndGlyphs">Differentially Expressed Genes</text>
<text x="331.5" y="25.7" font-size="10.70" font-weight="bold" text-anchor="middle" textLength="74.0" lengthAdjust="spacingAndGlyphs">Relative to WT</text>
<g style="isolation:isolate">
<circle cx="397" cy="108.6" r="54" fill="#ff5aa8" style="mix-blend-mode:multiply"/>
<circle cx="367.5" cy="151" r="59.6" fill="#a46cff" style="mix-blend-mode:multiply"/>
<circle cx="338" cy="93.4" r="35.3" fill="#4060ff" style="mix-blend-mode:multiply"/>
</g>
<text x="272.9" y="53.1" font-size="11.70" textLength="48.0" lengthAdjust="spacingAndGlyphs">ErbB2 KI</text>
<text x="297.0" y="66.5" font-size="10.30" text-anchor="middle" fill="#222">(844)</text>
<text x="420.5" y="47.1" font-size="11.70" textLength="55.0" lengthAdjust="spacingAndGlyphs">ERR&#945; KO</text>
<text x="448.6" y="60.2" font-size="10.30" text-anchor="middle" fill="#222">(2163)</text>
<text x="287.9" y="199.8" font-size="12.10">KI:KO</text>
<text x="304.5" y="213.3" font-size="10.50" text-anchor="middle" fill="#222">(2761)</text>
<text x="321.8" y="88.0" font-size="10.50" font-weight="bold" text-anchor="middle" fill="#fff">529</text>
<text x="360.0" y="88.0" font-size="10.50" font-weight="bold" text-anchor="middle" fill="#fff">105</text>
<text x="417.7" y="88.0" font-size="10.50" font-weight="bold" text-anchor="middle" fill="#fff">1004</text>
<text x="356.2" y="110.8" font-size="10.50" font-weight="bold" text-anchor="middle" fill="#fff">103</text>
<text x="332.3" y="121.3" font-size="10.50" font-weight="bold" text-anchor="middle" fill="#fff">107</text>
<text x="388.3" y="135.0" font-size="10.50" font-weight="bold" text-anchor="middle" fill="#fff">951</text>
<text x="351.5" y="185.8" font-size="10.50" font-weight="bold" text-anchor="middle" fill="#fff">1600</text>
<text x="486.7" y="15.8" font-size="19.50" font-weight="bold">b</text>
<text x="611.0" y="12.0" font-size="9.60" text-anchor="middle" fill="#222">Enrichment plot:</text>
<text x="609.0" y="23.0" font-size="9.60" text-anchor="middle" fill="#222" textLength="182.0" lengthAdjust="spacingAndGlyphs">HALLMARK_INFLAMMATORY_RESPONSE</text>
<line x1="561.2" y1="32.5" x2="561.2" y2="98.5" stroke="#ededed" stroke-width="0.60"/>
<line x1="594.5" y1="32.5" x2="594.5" y2="98.5" stroke="#ededed" stroke-width="0.60"/>
<line x1="627.9" y1="32.5" x2="627.9" y2="98.5" stroke="#ededed" stroke-width="0.60"/>
<line x1="661.2" y1="32.5" x2="661.2" y2="98.5" stroke="#ededed" stroke-width="0.60"/>
<line x1="527.8" y1="36.0" x2="694.6" y2="36.0" stroke="#efefef" stroke-width="0.60"/>
<text x="523.5" y="39.3" font-size="9.30" text-anchor="end" fill="#222">0.1</text>
<line x1="527.8" y1="47.3" x2="694.6" y2="47.3" stroke="#efefef" stroke-width="0.60"/>
<text x="523.5" y="50.6" font-size="9.30" text-anchor="end" fill="#222">0.0</text>
<line x1="527.8" y1="58.5" x2="694.6" y2="58.5" stroke="#efefef" stroke-width="0.60"/>
<text x="523.5" y="61.8" font-size="9.30" text-anchor="end" fill="#222">-0.1</text>
<line x1="527.8" y1="69.6" x2="694.6" y2="69.6" stroke="#efefef" stroke-width="0.60"/>
<text x="523.5" y="72.9" font-size="9.30" text-anchor="end" fill="#222">-0.2</text>
<line x1="527.8" y1="80.9" x2="694.6" y2="80.9" stroke="#efefef" stroke-width="0.60"/>
<text x="523.5" y="84.2" font-size="9.30" text-anchor="end" fill="#222">-0.3</text>
<line x1="527.8" y1="92.2" x2="694.6" y2="92.2" stroke="#efefef" stroke-width="0.60"/>
<text x="523.5" y="95.5" font-size="9.30" text-anchor="end" fill="#222">-0.4</text>
<line x1="527.8" y1="47.3" x2="694.6" y2="47.3" stroke="#bbbbbb" stroke-width="0.80"/>
<polyline points="528.1,47.9 528.3,47.2 528.5,46.4 528.8,45.6 529.1,45.2 529.4,43.8 529.7,42.9 530.1,42.0 530.5,40.8 530.9,40.0 531.2,39.2 531.6,38.7 532.0,37.9 532.4,37.4 532.7,37.4 533.1,36.7 533.4,36.6 533.8,36.2 534.1,35.6 534.5,35.7 535.0,35.6 535.4,35.7 535.9,35.3 536.4,35.5 537.0,35.4 537.6,35.2 538.2,35.7 538.8,35.3 539.5,35.9 540.2,35.6 540.9,35.7 541.6,36.1 542.5,36.7 543.3,37.2 544.3,36.9 545.4,37.7 546.5,38.2 547.7,38.9 549.0,39.1 550.3,39.9 551.7,40.5 553.2,41.6 554.7,41.9 556.3,43.2 558.0,43.6 559.8,44.5 561.6,45.8 563.6,46.7 565.6,47.5 567.8,49.1 570.1,50.0 572.5,51.8 575.1,53.2 577.7,54.7 580.4,56.1 583.1,57.5 585.9,59.1 588.5,60.6 591.2,62.4 593.7,63.3 596.2,65.3 598.6,66.0 600.9,67.5 603.3,68.8 605.6,70.6 607.9,71.6 610.2,72.8 612.4,74.4 614.6,75.2 616.8,76.6 618.9,77.9 621.0,79.3 623.0,80.5 625.0,81.7 627.1,82.8 629.1,84.1 631.2,85.3 633.2,87.2 635.1,88.4 637.0,89.7 638.7,90.5 640.4,91.7 641.9,92.9 643.2,93.5 644.4,93.8 645.3,94.5 646.0,95.0 646.5,94.6 646.8,94.6 646.9,94.5 647.0,94.5 647.1,94.3 647.2,93.5 647.4,93.2 647.6,92.9 648.1,92.8 648.7,92.7 649.5,92.4 650.5,92.4 651.6,92.3 652.8,92.8 654.1,92.6 655.4,92.1 656.7,92.7 658.0,92.0 659.2,92.0 660.4,92.1 661.4,91.7 662.4,91.2 663.2,90.4 664.0,89.6 664.7,89.1 665.4,87.9 666.0,87.1 666.6,86.3 667.1,85.1 667.6,84.3 668.2,83.6 668.7,82.5 669.2,81.4 669.8,80.5 670.4,79.4 670.9,78.1 671.5,77.3 672.1,76.0 672.6,75.1 673.1,74.1 673.7,72.6 674.2,71.6 674.7,70.7 675.2,69.4 675.7,68.4 676.2,67.9 676.7,67.2 677.1,66.5 677.6,65.9 678.1,65.6 678.5,65.0 678.9,64.6 679.4,64.1 679.8,63.5 680.2,63.3 680.6,62.4 681.0,62.0 681.4,61.5 681.8,60.6 682.2,59.5 682.6,58.1 683.1,57.0 683.5,55.8 683.9,54.7 684.3,53.3 684.6,52.3 684.9,51.4 685.2,49.9 685.5,49.4 685.7,48.7" fill="none" stroke="#1ee61e" stroke-width="1.40"/>
<rect x="530.9" y="99.1" width="1.6" height="20.2" fill="#656565"/>
<rect x="532.8" y="99.1" width="1.6" height="20.2" fill="#454545"/>
<rect x="534.4" y="99.1" width="1.6" height="20.2" fill="#b1b1b1"/>
<rect x="538.7" y="99.1" width="0.8" height="20.2" fill="#383838"/>
<rect x="539.5" y="99.1" width="1.6" height="20.2" fill="#646464"/>
<rect x="541.4" y="99.1" width="1.0" height="20.2" fill="#727272"/>
<rect x="542.4" y="99.1" width="1.6" height="20.2" fill="#818181"/>
<rect x="544.0" y="99.1" width="1.3" height="20.2" fill="#9c9c9c"/>
<rect x="545.9" y="99.1" width="0.8" height="20.2" fill="#4a4a4a"/>
<rect x="550.3" y="99.1" width="1.0" height="20.2" fill="#333333"/>
<rect x="554.9" y="99.1" width="1.6" height="20.2" fill="#5e5e5e"/>
<rect x="557.1" y="99.1" width="1.3" height="20.2" fill="#8c8c8c"/>
<rect x="559.4" y="99.1" width="0.8" height="20.2" fill="#535353"/>
<rect x="560.2" y="99.1" width="0.8" height="20.2" fill="#747474"/>
<rect x="561.3" y="99.1" width="1.6" height="20.2" fill="#282828"/>
<rect x="563.2" y="99.1" width="1.6" height="20.2" fill="#adadad"/>
<rect x="565.8" y="99.1" width="1.0" height="20.2" fill="#3b3b3b"/>
<rect x="567.4" y="99.1" width="0.8" height="20.2" fill="#828282"/>
<rect x="569.3" y="99.1" width="1.6" height="20.2" fill="#494949"/>
<rect x="571.5" y="99.1" width="1.3" height="20.2" fill="#b3b3b3"/>
<rect x="573.1" y="99.1" width="1.0" height="20.2" fill="#868686"/>
<rect x="578.4" y="99.1" width="1.0" height="20.2" fill="#9c9c9c"/>
<rect x="579.7" y="99.1" width="1.0" height="20.2" fill="#5f5f5f"/>
<rect x="582.6" y="99.1" width="1.6" height="20.2" fill="#aeaeae"/>
<rect x="584.8" y="99.1" width="1.0" height="20.2" fill="#838383"/>
<rect x="593.4" y="99.1" width="1.6" height="20.2" fill="#b8b8b8"/>
<rect x="595.6" y="99.1" width="1.3" height="20.2" fill="#2a2a2a"/>
<rect x="596.9" y="99.1" width="1.3" height="20.2" fill="#7a7a7a"/>
<rect x="598.8" y="99.1" width="1.0" height="20.2" fill="#313131"/>
<rect x="602.1" y="99.1" width="0.8" height="20.2" fill="#b3b3b3"/>
<rect x="602.9" y="99.1" width="1.3" height="20.2" fill="#262626"/>
<rect x="604.2" y="99.1" width="1.6" height="20.2" fill="#4e4e4e"/>
<rect x="606.1" y="99.1" width="1.3" height="20.2" fill="#565656"/>
<rect x="609.0" y="99.1" width="1.6" height="20.2" fill="#5f5f5f"/>
<rect x="611.6" y="99.1" width="1.6" height="20.2" fill="#626262"/>
<rect x="613.2" y="99.1" width="0.8" height="20.2" fill="#272727"/>
<rect x="615.0" y="99.1" width="1.3" height="20.2" fill="#4e4e4e"/>
<rect x="617.3" y="99.1" width="1.6" height="20.2" fill="#6c6c6c"/>
<rect x="618.9" y="99.1" width="1.3" height="20.2" fill="#757575"/>
<rect x="620.5" y="99.1" width="0.8" height="20.2" fill="#616161"/>
<rect x="624.2" y="99.1" width="1.3" height="20.2" fill="#616161"/>
<rect x="625.8" y="99.1" width="1.3" height="20.2" fill="#7b7b7b"/>
<rect x="627.4" y="99.1" width="1.3" height="20.2" fill="#989898"/>
<rect x="631.7" y="99.1" width="1.0" height="20.2" fill="#8e8e8e"/>
<rect x="633.0" y="99.1" width="1.0" height="20.2" fill="#3f3f3f"/>
<rect x="635.4" y="99.1" width="1.0" height="20.2" fill="#777777"/>
<rect x="636.7" y="99.1" width="1.6" height="20.2" fill="#6f6f6f"/>
<rect x="638.9" y="99.1" width="1.6" height="20.2" fill="#404040"/>
<rect x="641.1" y="99.1" width="0.8" height="20.2" fill="#949494"/>
<rect x="642.5" y="99.1" width="1.3" height="20.2" fill="#686868"/>
<rect x="644.1" y="99.1" width="1.6" height="20.2" fill="#bbbbbb"/>
<rect x="646.3" y="99.1" width="1.0" height="20.2" fill="#0c0c0c"/>
<rect x="647.3" y="99.1" width="1.6" height="20.2" fill="#1d1d1d"/>
<rect x="649.5" y="99.1" width="0.8" height="20.2" fill="#333333"/>
<rect x="651.3" y="99.1" width="1.3" height="20.2" fill="#3f3f3f"/>
<rect x="653.6" y="99.1" width="0.8" height="20.2" fill="#2e2e2e"/>
<rect x="655.0" y="99.1" width="1.0" height="20.2" fill="#0d0d0d"/>
<rect x="656.3" y="99.1" width="0.8" height="20.2" fill="#060606"/>
<rect x="658.1" y="99.1" width="1.0" height="20.2" fill="#333333"/>
<rect x="659.1" y="99.1" width="1.6" height="20.2" fill="#161616"/>
<rect x="661.3" y="99.1" width="1.6" height="20.2" fill="#010101"/>
<rect x="662.9" y="99.1" width="0.8" height="20.2" fill="#060606"/>
<rect x="663.7" y="99.1" width="1.3" height="20.2" fill="#0d0d0d"/>
<rect x="666.9" y="99.1" width="1.3" height="20.2" fill="#3d3d3d"/>
<rect x="668.8" y="99.1" width="1.6" height="20.2" fill="#202020"/>
<rect x="670.4" y="99.1" width="1.0" height="20.2" fill="#3b3b3b"/>
<rect x="671.4" y="99.1" width="1.0" height="20.2" fill="#131313"/>
<rect x="672.7" y="99.1" width="1.6" height="20.2" fill="#1e1e1e"/>
<rect x="675.3" y="99.1" width="1.6" height="20.2" fill="#131313"/>
<rect x="677.2" y="99.1" width="1.6" height="20.2" fill="#2d2d2d"/>
<rect x="679.1" y="99.1" width="1.3" height="20.2" fill="#272727"/>
<rect x="680.7" y="99.1" width="1.3" height="20.2" fill="#020202"/>
<rect x="682.6" y="99.1" width="1.6" height="20.2" fill="#1d1d1d"/>
<rect x="684.2" y="99.1" width="1.6" height="20.2" fill="#010101"/>
<defs><linearGradient id="rb11" x1="0" y1="0" x2="1" y2="0"><stop offset="0" stop-color="#e84850"/><stop offset="0.36" stop-color="#ee7a86"/><stop offset="0.365" stop-color="#f2b4dc"/><stop offset="0.5" stop-color="#e8b8e8"/><stop offset="0.505" stop-color="#cdcaf6"/><stop offset="0.715" stop-color="#c4c0f4"/><stop offset="0.72" stop-color="#7878e8"/><stop offset="0.895" stop-color="#5a5ae0"/><stop offset="0.9" stop-color="#3030d0"/><stop offset="0.945" stop-color="#2828c8"/><stop offset="0.947" stop-color="#ffffff"/><stop offset="1" stop-color="#ffffff"/></linearGradient></defs>
<rect x="527.8" y="119.3" width="166.8" height="5.5" fill="url(#rb11)"/>
<rect x="527.8" y="32.5" width="166.8" height="92.3" fill="none" stroke="#222" stroke-width="1.10"/>
<line x1="527.8" y1="98.5" x2="694.6" y2="98.5" stroke="#c8c8c8" stroke-width="0.80"/>
<text x="532.7" y="71.6" font-size="9.90" fill="#111" textLength="44.7" lengthAdjust="spacingAndGlyphs">NES: -1.67</text>
<text x="532.7" y="82.6" font-size="9.90" fill="#111" textLength="32.9" lengthAdjust="spacingAndGlyphs">p&lt;0.001</text>
<text x="532.7" y="93.6" font-size="9.90" fill="#111" textLength="49.7" lengthAdjust="spacingAndGlyphs">FDR &lt;0.009</text>
<text x="505.5" y="65.5" font-size="9.40" text-anchor="middle" fill="#222" transform="rotate(-90 505.5 65.5)" textLength="70.0" lengthAdjust="spacingAndGlyphs">Enrichment Score</text>
<text x="523.2" y="108.9" font-size="9.40" text-anchor="middle" fill="#222" transform="rotate(-90 523.2 108.9)">Hits</text>
<text x="527.0" y="138.0" font-size="11.50">WT</text>
<text x="692.5" y="138.0" font-size="11.50" text-anchor="end">ERR&#945; KO</text>
<rect x="697.7" y="38.4" width="51.2" height="86.9" fill="#111"/>
<path stroke="#3c00c8" stroke-width="2.03" d="M699.2 40.2h7.2M699.2 41.9h7.2M699.2 50h7.2M699.2 54.9h7.2M699.2 59.8h7.2M699.2 64.7h7.2M699.2 89.2h7.2M699.2 94.1h7.2M699.2 97.4h7.2M699.2 102.3h7.2M699.2 103.9h7.2M699.2 105.5h7.2M699.2 107.2h7.2M699.2 110.4h7.2M699.2 115.3h7.2M699.2 121.9h7.2M699.2 123.5h7.2M707.4 48.4h7.2M707.4 56.6h7.2M707.4 64.7h7.2M707.4 66.4h7.2M707.4 68h7.2M707.4 72.9h7.2M707.4 76.2h7.2M707.4 79.4h7.2M707.4 81.1h7.2M707.4 87.6h7.2M707.4 92.5h7.2M707.4 94.1h7.2M707.4 95.8h7.2M707.4 105.5h7.2M707.4 107.2h7.2M707.4 115.3h7.2M707.4 121.9h7.2M715.6 43.5h7.2M715.6 46.8h7.2M715.6 54.9h7.2M715.6 61.5h7.2M715.6 69.6h7.2M715.6 77.8h7.2M715.6 82.7h7.2M715.6 86h7.2M715.6 100.7h7.2M715.6 118.6h7.2"/>
<path stroke="#825adc" stroke-width="2.03" d="M699.2 43.5h7.2M699.2 45.1h7.2M699.2 53.3h7.2M707.4 53.3h7.2M707.4 54.9h7.2M715.6 89.2h7.2"/>
<path stroke="#c8b4f0" stroke-width="2.03" d="M699.2 46.8h7.2M699.2 58.2h7.2M699.2 87.6h7.2M707.4 51.7h7.2M707.4 59.8h7.2M707.4 77.8h7.2"/>
<path stroke="#e696aa" stroke-width="2.03" d="M699.2 48.4h7.2M723.8 59.8h7.2M723.8 71.3h7.2M723.8 84.3h7.2M732 48.4h7.2M732 54.9h7.2M732 61.5h7.2M740.2 53.3h7.2M740.2 74.5h7.2"/>
<path stroke="#9678e6" stroke-width="2.03" d="M699.2 51.7h7.2M707.4 40.2h7.2M707.4 120.2h7.2M715.6 90.9h7.2M715.6 117h7.2M732 112.1h7.2"/>
<path stroke="#6e3cd2" stroke-width="2.03" d="M699.2 56.6h7.2"/>
<path stroke="#e6aabe" stroke-width="2.03" d="M699.2 61.5h7.2M723.8 72.9h7.2M723.8 108.8h7.2M732 63.1h7.2M740.2 81.1h7.2"/>
<path stroke="#e68ca0" stroke-width="2.03" d="M699.2 63.1h7.2M723.8 86h7.2M723.8 102.3h7.2M723.8 123.5h7.2M732 58.2h7.2M732 99h7.2M740.2 92.5h7.2M740.2 117h7.2"/>
<path stroke="#460ac8" stroke-width="2.03" d="M699.2 66.4h7.2"/>
<path stroke="#6432d2" stroke-width="2.03" d="M699.2 68h7.2M699.2 72.9h7.2M715.6 72.9h7.2"/>
<path stroke="#5a28d2" stroke-width="2.03" d="M699.2 69.6h7.2M707.4 63.1h7.2M715.6 81.1h7.2M715.6 103.9h7.2M715.6 108.8h7.2"/>
<path stroke="#6e46d2" stroke-width="2.03" d="M699.2 71.3h7.2M699.2 79.4h7.2M699.2 86h7.2M707.4 46.8h7.2M707.4 97.4h7.2M732 84.3h7.2"/>
<path stroke="#e6bed2" stroke-width="2.03" d="M699.2 74.5h7.2M699.2 84.3h7.2M715.6 59.8h7.2M723.8 103.9h7.2"/>
<path stroke="#785adc" stroke-width="2.03" d="M699.2 76.2h7.2M707.4 90.9h7.2M715.6 53.3h7.2M715.6 102.3h7.2"/>
<path stroke="#643cd2" stroke-width="2.03" d="M699.2 77.8h7.2M699.2 90.9h7.2M707.4 84.3h7.2M715.6 76.2h7.2M715.6 120.2h7.2M732 95.8h7.2"/>
<path stroke="#6e46dc" stroke-width="2.03" d="M699.2 81.1h7.2"/>
<path stroke="#501ec8" stroke-width="2.03" d="M699.2 82.7h7.2M699.2 95.8h7.2M715.6 51.7h7.2"/>
<path stroke="#aa96e6" stroke-width="2.03" d="M699.2 92.5h7.2"/>
<path stroke="#7850dc" stroke-width="2.03" d="M699.2 99h7.2M707.4 113.7h7.2M715.6 41.9h7.2"/>
<path stroke="#5a32d2" stroke-width="2.03" d="M699.2 100.7h7.2M715.6 95.8h7.2"/>
<path stroke="#aa8ce6" stroke-width="2.03" d="M699.2 108.8h7.2M715.6 87.6h7.2"/>
<path stroke="#6e50dc" stroke-width="2.03" d="M699.2 112.1h7.2"/>
<path stroke="#a082e6" stroke-width="2.03" d="M699.2 113.7h7.2M707.4 58.2h7.2M707.4 103.9h7.2M707.4 117h7.2M715.6 92.5h7.2M715.6 110.4h7.2M715.6 123.5h7.2"/>
<path stroke="#461ec8" stroke-width="2.03" d="M699.2 117h7.2M715.6 50h7.2"/>
<path stroke="#e6c8dc" stroke-width="2.03" d="M699.2 118.6h7.2M732 41.9h7.2"/>
<path stroke="#e6b4c8" stroke-width="2.03" d="M699.2 120.2h7.2M707.4 50h7.2M707.4 89.2h7.2M715.6 48.4h7.2M715.6 56.6h7.2M715.6 94.1h7.2M723.8 112.1h7.2"/>
<path stroke="#c8befa" stroke-width="2.03" d="M707.4 41.9h7.2M715.6 68h7.2M723.8 76.2h7.2M732 81.1h7.2M732 92.5h7.2"/>
<path stroke="#8c6ee6" stroke-width="2.03" d="M707.4 43.5h7.2M715.6 45.1h7.2"/>
<path stroke="#4614c8" stroke-width="2.03" d="M707.4 45.1h7.2M707.4 61.5h7.2M707.4 118.6h7.2M715.6 105.5h7.2"/>
<path stroke="#beaaf0" stroke-width="2.03" d="M707.4 69.6h7.2M715.6 84.3h7.2M715.6 115.3h7.2M723.8 79.4h7.2"/>
<path stroke="#a08ce6" stroke-width="2.03" d="M707.4 71.3h7.2M715.6 121.9h7.2"/>
<path stroke="#e6d2dc" stroke-width="2.03" d="M707.4 74.5h7.2"/>
<path stroke="#e6a0b4" stroke-width="2.03" d="M707.4 82.7h7.2M723.8 46.8h7.2M723.8 118.6h7.2M740.2 71.3h7.2M740.2 90.9h7.2M740.2 113.7h7.2"/>
<path stroke="#8264dc" stroke-width="2.03" d="M707.4 86h7.2M707.4 112.1h7.2M715.6 113.7h7.2"/>
<path stroke="#8c6edc" stroke-width="2.03" d="M707.4 99h7.2M707.4 102.3h7.2M715.6 66.4h7.2M715.6 74.5h7.2M715.6 79.4h7.2M715.6 97.4h7.2M732 103.9h7.2"/>
<path stroke="#8c64dc" stroke-width="2.03" d="M707.4 100.7h7.2"/>
<path stroke="#b4a0f0" stroke-width="2.03" d="M707.4 108.8h7.2M715.6 58.2h7.2M732 76.2h7.2"/>
<path stroke="#beb4f0" stroke-width="2.03" d="M707.4 110.4h7.2M723.8 63.1h7.2"/>
<path stroke="#b4aaf0" stroke-width="2.03" d="M707.4 123.5h7.2"/>
<path stroke="#9682e6" stroke-width="2.03" d="M715.6 40.2h7.2"/>
<path stroke="#c8bef0" stroke-width="2.03" d="M715.6 63.1h7.2M740.2 102.3h7.2"/>
<path stroke="#3c0ac8" stroke-width="2.03" d="M715.6 64.7h7.2M715.6 112.1h7.2"/>
<path stroke="#e6d2e6" stroke-width="2.03" d="M715.6 71.3h7.2M732 45.1h7.2M732 68h7.2"/>
<path stroke="#e66e82" stroke-width="2.03" d="M715.6 99h7.2M732 46.8h7.2M740.2 87.6h7.2"/>
<path stroke="#e65a6e" stroke-width="2.03" d="M715.6 107.2h7.2M732 40.2h7.2M732 108.8h7.2M740.2 48.4h7.2"/>
<path stroke="#e66478" stroke-width="2.03" d="M723.8 40.2h7.2M740.2 82.7h7.2M740.2 120.2h7.2"/>
<path stroke="#e65064" stroke-width="2.03" d="M723.8 41.9h7.2M723.8 61.5h7.2M723.8 64.7h7.2M723.8 97.4h7.2M732 64.7h7.2"/>
<path stroke="#dc0014" stroke-width="2.03" d="M723.8 43.5h7.2M723.8 53.3h7.2M723.8 58.2h7.2M723.8 66.4h7.2M723.8 68h7.2M723.8 77.8h7.2M723.8 81.1h7.2M723.8 82.7h7.2M723.8 100.7h7.2M723.8 105.5h7.2M723.8 113.7h7.2M723.8 115.3h7.2M723.8 120.2h7.2M732 50h7.2M732 51.7h7.2M732 100.7h7.2M732 110.4h7.2M732 117h7.2M740.2 40.2h7.2M740.2 45.1h7.2M740.2 51.7h7.2M740.2 58.2h7.2M740.2 59.8h7.2M740.2 61.5h7.2M740.2 66.4h7.2M740.2 79.4h7.2M740.2 84.3h7.2M740.2 105.5h7.2M740.2 108.8h7.2"/>
<path stroke="#dc141e" stroke-width="2.03" d="M723.8 45.1h7.2M732 71.3h7.2M732 89.2h7.2M740.2 103.9h7.2"/>
<path stroke="#dc1428" stroke-width="2.03" d="M723.8 48.4h7.2M732 56.6h7.2M732 107.2h7.2"/>
<path stroke="#dc3246" stroke-width="2.03" d="M723.8 50h7.2M723.8 54.9h7.2M732 115.3h7.2M740.2 54.9h7.2M740.2 107.2h7.2M740.2 115.3h7.2"/>
<path stroke="#e6c8d2" stroke-width="2.03" d="M723.8 51.7h7.2"/>
<path stroke="#e6465a" stroke-width="2.03" d="M723.8 56.6h7.2M723.8 121.9h7.2"/>
<path stroke="#e68296" stroke-width="2.03" d="M723.8 69.6h7.2M723.8 110.4h7.2M732 43.5h7.2M732 118.6h7.2M732 120.2h7.2M740.2 89.2h7.2M740.2 100.7h7.2M740.2 110.4h7.2M740.2 123.5h7.2"/>
<path stroke="#aa96f0" stroke-width="2.03" d="M723.8 74.5h7.2"/>
<path stroke="#e67882" stroke-width="2.03" d="M723.8 87.6h7.2M740.2 56.6h7.2"/>
<path stroke="#e68c96" stroke-width="2.03" d="M723.8 89.2h7.2"/>
<path stroke="#dc3c46" stroke-width="2.03" d="M723.8 90.9h7.2M732 53.3h7.2"/>
<path stroke="#e6788c" stroke-width="2.03" d="M723.8 92.5h7.2M732 82.7h7.2M732 94.1h7.2M732 113.7h7.2M732 121.9h7.2"/>
<path stroke="#dc0a1e" stroke-width="2.03" d="M723.8 94.1h7.2M732 74.5h7.2M732 90.9h7.2M740.2 46.8h7.2M740.2 77.8h7.2M740.2 118.6h7.2"/>
<path stroke="#e6aab4" stroke-width="2.03" d="M723.8 95.8h7.2M732 79.4h7.2"/>
<path stroke="#e65a64" stroke-width="2.03" d="M723.8 99h7.2M732 123.5h7.2M740.2 43.5h7.2M740.2 97.4h7.2"/>
<path stroke="#dc1e32" stroke-width="2.03" d="M723.8 107.2h7.2M723.8 117h7.2M732 72.9h7.2M740.2 50h7.2M740.2 86h7.2"/>
<path stroke="#e6828c" stroke-width="2.03" d="M732 59.8h7.2M732 97.4h7.2"/>
<path stroke="#dc283c" stroke-width="2.03" d="M732 66.4h7.2M740.2 41.9h7.2"/>
<path stroke="#dc323c" stroke-width="2.03" d="M732 69.6h7.2M732 86h7.2M740.2 69.6h7.2"/>
<path stroke="#d2befa" stroke-width="2.03" d="M732 77.8h7.2M740.2 68h7.2"/>
<path stroke="#dc2832" stroke-width="2.03" d="M732 87.6h7.2M740.2 94.1h7.2"/>
<path stroke="#e696a0" stroke-width="2.03" d="M732 102.3h7.2"/>
<path stroke="#e6505a" stroke-width="2.03" d="M732 105.5h7.2"/>
<path stroke="#dc1e28" stroke-width="2.03" d="M740.2 63.1h7.2M740.2 76.2h7.2"/>
<path stroke="#e6a0aa" stroke-width="2.03" d="M740.2 64.7h7.2M740.2 95.8h7.2"/>
<path stroke="#dc3c50" stroke-width="2.03" d="M740.2 72.9h7.2"/>
<path stroke="#d2c8fa" stroke-width="2.03" d="M740.2 99h7.2"/>
<path stroke="#e6646e" stroke-width="2.03" d="M740.2 112.1h7.2"/>
<path stroke="#e66e78" stroke-width="2.03" d="M740.2 121.9h7.2"/>
<text x="760.9" y="83.3" font-size="9.60" text-anchor="middle" fill="#222" transform="rotate(-90 760.9 83.3)" textLength="96.0" lengthAdjust="spacingAndGlyphs">Core Enrichment Genes</text>
<text x="710.2" y="35.8" font-size="10.00" fill="#000" transform="rotate(-52 710.2 35.8)">WT</text>
<text x="734.2" y="35.8" font-size="10.00" fill="#000" transform="rotate(-52 734.2 35.8)">ERR&#945; KO</text>
<line x1="561.2" y1="155.7" x2="561.2" y2="221.7" stroke="#ededed" stroke-width="0.60"/>
<line x1="594.5" y1="155.7" x2="594.5" y2="221.7" stroke="#ededed" stroke-width="0.60"/>
<line x1="627.9" y1="155.7" x2="627.9" y2="221.7" stroke="#ededed" stroke-width="0.60"/>
<line x1="661.2" y1="155.7" x2="661.2" y2="221.7" stroke="#ededed" stroke-width="0.60"/>
<line x1="527.8" y1="160.6" x2="694.6" y2="160.6" stroke="#efefef" stroke-width="0.60"/>
<text x="523.5" y="163.9" font-size="9.30" text-anchor="end" fill="#222">0.0</text>
<line x1="527.8" y1="170.1" x2="694.6" y2="170.1" stroke="#efefef" stroke-width="0.60"/>
<text x="523.5" y="173.4" font-size="9.30" text-anchor="end" fill="#222">-0.1</text>
<line x1="527.8" y1="179.7" x2="694.6" y2="179.7" stroke="#efefef" stroke-width="0.60"/>
<text x="523.5" y="183.0" font-size="9.30" text-anchor="end" fill="#222">-0.2</text>
<line x1="527.8" y1="189.2" x2="694.6" y2="189.2" stroke="#efefef" stroke-width="0.60"/>
<text x="523.5" y="192.5" font-size="9.30" text-anchor="end" fill="#222">-0.3</text>
<line x1="527.8" y1="198.8" x2="694.6" y2="198.8" stroke="#efefef" stroke-width="0.60"/>
<text x="523.5" y="202.1" font-size="9.30" text-anchor="end" fill="#222">-0.4</text>
<line x1="527.8" y1="208.3" x2="694.6" y2="208.3" stroke="#efefef" stroke-width="0.60"/>
<text x="523.5" y="211.6" font-size="9.30" text-anchor="end" fill="#222">-0.5</text>
<line x1="527.8" y1="217.8" x2="694.6" y2="217.8" stroke="#efefef" stroke-width="0.60"/>
<text x="523.5" y="221.1" font-size="9.30" text-anchor="end" fill="#222">-0.6</text>
<line x1="527.8" y1="160.6" x2="694.6" y2="160.6" stroke="#bbbbbb" stroke-width="0.80"/>
<polyline points="528.1,166.3 528.3,165.6 528.6,165.4 529.0,165.1 529.4,164.8 529.8,164.2 530.2,163.4 530.7,163.1 531.2,162.9 531.7,162.1 532.1,161.5 532.6,161.6 533.0,161.2 533.3,160.7 533.6,160.2 533.7,160.4 533.8,159.5 533.9,159.8 534.1,159.5 534.3,159.5 534.7,159.4 535.2,159.1 535.9,159.2 536.8,159.3 538.0,160.0 539.5,160.2 541.2,160.7 543.1,161.7 545.1,162.8 547.4,163.7 549.7,164.3 552.2,165.2 554.8,166.4 557.4,167.6 560.1,168.6 562.9,170.3 565.6,171.2 568.4,172.6 571.4,173.7 574.4,175.2 577.5,176.4 580.8,177.8 584.0,179.1 587.3,180.8 590.7,182.1 594.0,184.0 597.3,185.2 600.6,187.2 603.8,188.4 607.1,190.2 610.4,191.7 613.9,193.7 617.4,195.0 620.9,196.8 624.3,198.5 627.7,200.5 631.0,201.8 634.1,203.3 637.0,205.0 639.6,206.6 642.0,207.4 644.1,209.0 645.9,209.7 647.5,211.2 649.0,212.4 650.2,212.9 651.4,213.5 652.4,214.5 653.4,215.0 654.4,215.9 655.3,216.5 656.3,216.5 657.4,217.1 658.5,217.1 659.6,217.3 660.6,217.9 661.6,217.8 662.6,217.2 663.5,216.9 664.4,216.9 665.4,216.6 666.3,215.9 667.1,215.5 668.0,215.1 668.9,214.3 669.8,214.2 670.6,213.3 671.5,212.7 672.4,211.7 673.2,210.8 674.0,210.5 674.8,209.5 675.6,208.5 676.3,206.9 677.1,206.1 677.7,205.2 678.4,203.7 679.0,202.3 679.6,201.0 680.2,199.6 680.7,198.0 681.2,196.3 681.7,194.6 682.2,192.8 682.6,191.4 683.0,189.4 683.4,188.1 683.8,186.5 684.1,184.8 684.4,183.5 684.7,181.7 684.9,180.4 685.1,178.5 685.3,176.9 685.4,175.8 685.5,174.2 685.6,172.9 685.7,171.2 685.8,170.7 685.9,169.4 686.0,168.7" fill="none" stroke="#1ee61e" stroke-width="1.40"/>
<rect x="528.3" y="222.3" width="1.6" height="20.7" fill="#6d6d6d"/>
<rect x="530.5" y="222.3" width="1.0" height="20.7" fill="#1a1a1a"/>
<rect x="532.5" y="222.3" width="1.3" height="20.7" fill="#797979"/>
<rect x="534.1" y="222.3" width="0.8" height="20.7" fill="#b2b2b2"/>
<rect x="535.9" y="222.3" width="1.3" height="20.7" fill="#2a2a2a"/>
<rect x="537.2" y="222.3" width="1.0" height="20.7" fill="#515151"/>
<rect x="543.3" y="222.3" width="1.6" height="20.7" fill="#808080"/>
<rect x="546.8" y="222.3" width="0.8" height="20.7" fill="#717171"/>
<rect x="547.6" y="222.3" width="1.6" height="20.7" fill="#545454"/>
<rect x="550.2" y="222.3" width="1.6" height="20.7" fill="#6b6b6b"/>
<rect x="555.7" y="222.3" width="1.3" height="20.7" fill="#a2a2a2"/>
<rect x="557.6" y="222.3" width="1.3" height="20.7" fill="#3b3b3b"/>
<rect x="559.2" y="222.3" width="0.8" height="20.7" fill="#323232"/>
<rect x="560.0" y="222.3" width="0.8" height="20.7" fill="#7f7f7f"/>
<rect x="562.8" y="222.3" width="1.0" height="20.7" fill="#4f4f4f"/>
<rect x="563.8" y="222.3" width="1.6" height="20.7" fill="#8e8e8e"/>
<rect x="565.4" y="222.3" width="1.6" height="20.7" fill="#8f8f8f"/>
<rect x="568.0" y="222.3" width="1.6" height="20.7" fill="#333333"/>
<rect x="569.9" y="222.3" width="1.0" height="20.7" fill="#6a6a6a"/>
<rect x="573.9" y="222.3" width="1.0" height="20.7" fill="#cacaca"/>
<rect x="574.9" y="222.3" width="1.0" height="20.7" fill="#1c1c1c"/>
<rect x="577.6" y="222.3" width="0.8" height="20.7" fill="#6d6d6d"/>
<rect x="579.4" y="222.3" width="1.6" height="20.7" fill="#9d9d9d"/>
<rect x="582.0" y="222.3" width="1.0" height="20.7" fill="#5d5d5d"/>
<rect x="583.0" y="222.3" width="1.3" height="20.7" fill="#323232"/>
<rect x="586.9" y="222.3" width="0.8" height="20.7" fill="#505050"/>
<rect x="588.0" y="222.3" width="1.3" height="20.7" fill="#a0a0a0"/>
<rect x="592.5" y="222.3" width="0.8" height="20.7" fill="#626262"/>
<rect x="594.3" y="222.3" width="1.0" height="20.7" fill="#8d8d8d"/>
<rect x="595.9" y="222.3" width="1.6" height="20.7" fill="#c8c8c8"/>
<rect x="598.6" y="222.3" width="1.6" height="20.7" fill="#3f3f3f"/>
<rect x="601.2" y="222.3" width="0.8" height="20.7" fill="#888888"/>
<rect x="602.6" y="222.3" width="1.6" height="20.7" fill="#929292"/>
<rect x="605.2" y="222.3" width="1.0" height="20.7" fill="#6f6f6f"/>
<rect x="606.2" y="222.3" width="1.3" height="20.7" fill="#979797"/>
<rect x="608.1" y="222.3" width="1.3" height="20.7" fill="#313131"/>
<rect x="610.4" y="222.3" width="1.3" height="20.7" fill="#858585"/>
<rect x="612.7" y="222.3" width="1.6" height="20.7" fill="#3f3f3f"/>
<rect x="614.9" y="222.3" width="1.6" height="20.7" fill="#737373"/>
<rect x="620.5" y="222.3" width="1.3" height="20.7" fill="#191919"/>
<rect x="622.4" y="222.3" width="1.0" height="20.7" fill="#6a6a6a"/>
<rect x="623.7" y="222.3" width="1.6" height="20.7" fill="#222222"/>
<rect x="625.6" y="222.3" width="1.6" height="20.7" fill="#313131"/>
<rect x="628.2" y="222.3" width="1.6" height="20.7" fill="#101010"/>
<rect x="630.4" y="222.3" width="1.3" height="20.7" fill="#a3a3a3"/>
<rect x="632.7" y="222.3" width="1.3" height="20.7" fill="#8b8b8b"/>
<rect x="636.3" y="222.3" width="1.3" height="20.7" fill="#646464"/>
<rect x="638.2" y="222.3" width="1.3" height="20.7" fill="#454545"/>
<rect x="642.3" y="222.3" width="1.0" height="20.7" fill="#434343"/>
<rect x="644.3" y="222.3" width="1.6" height="20.7" fill="#414141"/>
<rect x="646.5" y="222.3" width="1.6" height="20.7" fill="#333333"/>
<rect x="649.1" y="222.3" width="1.0" height="20.7" fill="#515151"/>
<rect x="653.4" y="222.3" width="1.0" height="20.7" fill="#464646"/>
<rect x="654.7" y="222.3" width="0.8" height="20.7" fill="#616161"/>
<rect x="655.8" y="222.3" width="1.0" height="20.7" fill="#1c1c1c"/>
<rect x="659.0" y="222.3" width="0.8" height="20.7" fill="#5b5b5b"/>
<rect x="660.8" y="222.3" width="1.0" height="20.7" fill="#303030"/>
<rect x="662.1" y="222.3" width="1.6" height="20.7" fill="#252525"/>
<rect x="664.7" y="222.3" width="1.3" height="20.7" fill="#3e3e3e"/>
<rect x="667.0" y="222.3" width="0.8" height="20.7" fill="#494949"/>
<rect x="668.1" y="222.3" width="1.6" height="20.7" fill="#404040"/>
<rect x="669.7" y="222.3" width="1.6" height="20.7" fill="#030303"/>
<rect x="671.9" y="222.3" width="0.8" height="20.7" fill="#585858"/>
<rect x="672.7" y="222.3" width="1.0" height="20.7" fill="#5d5d5d"/>
<rect x="674.5" y="222.3" width="0.8" height="20.7" fill="#2c2c2c"/>
<rect x="675.3" y="222.3" width="1.0" height="20.7" fill="#141414"/>
<rect x="676.6" y="222.3" width="1.6" height="20.7" fill="#3a3a3a"/>
<rect x="678.8" y="222.3" width="1.0" height="20.7" fill="#232323"/>
<rect x="681.8" y="222.3" width="1.0" height="20.7" fill="#070707"/>
<rect x="683.1" y="222.3" width="1.3" height="20.7" fill="#4e4e4e"/>
<rect x="685.4" y="222.3" width="1.6" height="20.7" fill="#111111"/>
<defs><linearGradient id="rb12" x1="0" y1="0" x2="1" y2="0"><stop offset="0" stop-color="#e84850"/><stop offset="0.36" stop-color="#ee7a86"/><stop offset="0.365" stop-color="#f2b4dc"/><stop offset="0.5" stop-color="#e8b8e8"/><stop offset="0.505" stop-color="#cdcaf6"/><stop offset="0.715" stop-color="#c4c0f4"/><stop offset="0.72" stop-color="#7878e8"/><stop offset="0.895" stop-color="#5a5ae0"/><stop offset="0.9" stop-color="#3030d0"/><stop offset="0.945" stop-color="#2828c8"/><stop offset="0.947" stop-color="#ffffff"/><stop offset="1" stop-color="#ffffff"/></linearGradient></defs>
<rect x="527.8" y="243.0" width="166.8" height="5.5" fill="url(#rb12)"/>
<rect x="527.8" y="155.7" width="166.8" height="92.8" fill="none" stroke="#222" stroke-width="1.10"/>
<line x1="527.8" y1="221.7" x2="694.6" y2="221.7" stroke="#c8c8c8" stroke-width="0.80"/>
<text x="532.7" y="194.6" font-size="9.90" fill="#111" textLength="44.7" lengthAdjust="spacingAndGlyphs">NES: -2.11</text>
<text x="532.7" y="205.6" font-size="9.90" fill="#111" textLength="32.9" lengthAdjust="spacingAndGlyphs">p&lt;0.001</text>
<text x="532.7" y="216.6" font-size="9.90" fill="#111" textLength="49.7" lengthAdjust="spacingAndGlyphs">FDR &lt;0.001</text>
<text x="505.5" y="188.7" font-size="9.40" text-anchor="middle" fill="#222" transform="rotate(-90 505.5 188.7)" textLength="70.0" lengthAdjust="spacingAndGlyphs">Enrichment Score</text>
<text x="523.2" y="232.1" font-size="9.40" text-anchor="middle" fill="#222" transform="rotate(-90 523.2 232.1)">Hits</text>
<text x="527.0" y="261.7" font-size="11.50">WT</text>
<text x="692.5" y="261.7" font-size="11.50" text-anchor="end">KI:KO</text>
<rect x="698.7" y="161.0" width="49.7" height="87.6" fill="#111"/>
<path stroke="#3c0ac8" stroke-width="2.05" d="M700.2 162.8h6.9M700.2 187.5h6.9M716.1 167.8h6.9"/>
<path stroke="#aa96e6" stroke-width="2.05" d="M700.2 164.5h6.9M700.2 220.5h6.9"/>
<path stroke="#e696aa" stroke-width="2.05" d="M700.2 166.1h6.9M716.1 202.4h6.9M724 232h6.9M740 177.7h6.9"/>
<path stroke="#3c00c8" stroke-width="2.05" d="M700.2 167.8h6.9M700.2 169.4h6.9M700.2 172.7h6.9M700.2 174.4h6.9M700.2 179.3h6.9M700.2 199.1h6.9M700.2 202.4h6.9M700.2 212.2h6.9M700.2 222.1h6.9M700.2 228.7h6.9M700.2 232h6.9M708.2 172.7h6.9M708.2 174.4h6.9M708.2 176h6.9M708.2 177.7h6.9M708.2 185.9h6.9M708.2 190.8h6.9M708.2 197.4h6.9M708.2 199.1h6.9M708.2 200.7h6.9M708.2 204h6.9M708.2 210.6h6.9M708.2 212.2h6.9M708.2 220.5h6.9M708.2 238.6h6.9M708.2 241.9h6.9M708.2 243.5h6.9M716.1 164.5h6.9M716.1 174.4h6.9M716.1 176h6.9M716.1 177.7h6.9M716.1 190.8h6.9M716.1 192.5h6.9M716.1 194.1h6.9M716.1 199.1h6.9M716.1 205.6h6.9M716.1 210.6h6.9M716.1 212.2h6.9M716.1 217.2h6.9M716.1 223.8h6.9M716.1 225.4h6.9M716.1 227h6.9M716.1 233.6h6.9M716.1 235.3h6.9M716.1 238.6h6.9M716.1 240.2h6.9M716.1 241.9h6.9M716.1 243.5h6.9"/>
<path stroke="#6e46d2" stroke-width="2.05" d="M700.2 171.1h6.9M708.2 169.4h6.9M708.2 192.5h6.9"/>
<path stroke="#460ac8" stroke-width="2.05" d="M700.2 176h6.9M700.2 197.4h6.9M700.2 204h6.9M716.1 185.9h6.9"/>
<path stroke="#9678e6" stroke-width="2.05" d="M700.2 177.7h6.9M708.2 218.8h6.9M708.2 233.6h6.9M708.2 246.8h6.9M716.1 215.5h6.9"/>
<path stroke="#b496f0" stroke-width="2.05" d="M700.2 181h6.9"/>
<path stroke="#aa96f0" stroke-width="2.05" d="M700.2 182.6h6.9M700.2 184.2h6.9M700.2 207.3h6.9M700.2 208.9h6.9M700.2 217.2h6.9M732 207.3h6.9"/>
<path stroke="#e6bed2" stroke-width="2.05" d="M700.2 185.9h6.9M724 189.2h6.9M732 179.3h6.9M732 205.6h6.9M732 241.9h6.9M732 245.2h6.9"/>
<path stroke="#643cd2" stroke-width="2.05" d="M700.2 189.2h6.9M700.2 210.6h6.9M700.2 213.9h6.9M700.2 241.9h6.9"/>
<path stroke="#beaaf0" stroke-width="2.05" d="M700.2 190.8h6.9M708.2 179.3h6.9M716.1 204h6.9M732 197.4h6.9"/>
<path stroke="#d2c8fa" stroke-width="2.05" d="M700.2 192.5h6.9M708.2 208.9h6.9M708.2 235.3h6.9M708.2 236.9h6.9"/>
<path stroke="#b4a0f0" stroke-width="2.05" d="M700.2 194.1h6.9M708.2 164.5h6.9M708.2 182.6h6.9M716.1 189.2h6.9M716.1 230.3h6.9M724 181h6.9M732 227h6.9M740 232h6.9"/>
<path stroke="#4614c8" stroke-width="2.05" d="M700.2 195.8h6.9M700.2 200.7h6.9M700.2 240.2h6.9M708.2 166.1h6.9M708.2 184.2h6.9M708.2 189.2h6.9M716.1 169.4h6.9M716.1 187.5h6.9M716.1 213.9h6.9"/>
<path stroke="#501ec8" stroke-width="2.05" d="M700.2 205.6h6.9M700.2 227h6.9M700.2 236.9h6.9M708.2 181h6.9M708.2 217.2h6.9M708.2 222.1h6.9M708.2 225.4h6.9M716.1 184.2h6.9M716.1 236.9h6.9"/>
<path stroke="#8c6edc" stroke-width="2.05" d="M700.2 215.5h6.9M708.2 215.5h6.9M708.2 228.7h6.9M708.2 245.2h6.9M716.1 171.1h6.9M732 200.7h6.9"/>
<path stroke="#785adc" stroke-width="2.05" d="M700.2 218.8h6.9"/>
<path stroke="#a082e6" stroke-width="2.05" d="M700.2 223.8h6.9M708.2 171.1h6.9M708.2 223.8h6.9M732 164.5h6.9"/>
<path stroke="#aa8ce6" stroke-width="2.05" d="M700.2 225.4h6.9M708.2 240.2h6.9M716.1 200.7h6.9"/>
<path stroke="#c8befa" stroke-width="2.05" d="M700.2 230.3h6.9M708.2 194.1h6.9M716.1 181h6.9"/>
<path stroke="#a08ce6" stroke-width="2.05" d="M700.2 233.6h6.9"/>
<path stroke="#5028d2" stroke-width="2.05" d="M700.2 235.3h6.9M732 189.2h6.9"/>
<path stroke="#5a28d2" stroke-width="2.05" d="M700.2 238.6h6.9M708.2 195.8h6.9M708.2 202.4h6.9M708.2 232h6.9M716.1 207.3h6.9"/>
<path stroke="#e6aab4" stroke-width="2.05" d="M700.2 243.5h6.9"/>
<path stroke="#e6c8dc" stroke-width="2.05" d="M700.2 245.2h6.9"/>
<path stroke="#6432d2" stroke-width="2.05" d="M700.2 246.8h6.9M708.2 205.6h6.9M716.1 179.3h6.9M716.1 245.2h6.9"/>
<path stroke="#8c6ee6" stroke-width="2.05" d="M708.2 162.8h6.9M716.1 232h6.9"/>
<path stroke="#e6a0b4" stroke-width="2.05" d="M708.2 167.8h6.9M724 200.7h6.9M732 238.6h6.9M740 236.9h6.9"/>
<path stroke="#7850dc" stroke-width="2.05" d="M708.2 187.5h6.9M708.2 207.3h6.9M708.2 227h6.9M708.2 230.3h6.9M716.1 197.4h6.9M716.1 218.8h6.9M716.1 228.7h6.9M724 218.8h6.9"/>
<path stroke="#e6b4c8" stroke-width="2.05" d="M708.2 213.9h6.9M724 236.9h6.9M732 177.7h6.9M732 194.1h6.9M732 195.8h6.9M732 212.2h6.9M732 225.4h6.9"/>
<path stroke="#e6d2e6" stroke-width="2.05" d="M716.1 162.8h6.9M716.1 172.7h6.9M732 236.9h6.9"/>
<path stroke="#beb4f0" stroke-width="2.05" d="M716.1 166.1h6.9M732 181h6.9"/>
<path stroke="#8264dc" stroke-width="2.05" d="M716.1 182.6h6.9M716.1 222.1h6.9"/>
<path stroke="#c8b4f0" stroke-width="2.05" d="M716.1 195.8h6.9M716.1 208.9h6.9M724 194.1h6.9M740 215.5h6.9"/>
<path stroke="#5a32d2" stroke-width="2.05" d="M716.1 220.5h6.9M732 169.4h6.9"/>
<path stroke="#8c64dc" stroke-width="2.05" d="M716.1 246.8h6.9"/>
<path stroke="#dc2832" stroke-width="2.05" d="M724 162.8h6.9M732 162.8h6.9M732 218.8h6.9"/>
<path stroke="#dc283c" stroke-width="2.05" d="M724 164.5h6.9M724 182.6h6.9M724 204h6.9M740 218.8h6.9M740 245.2h6.9"/>
<path stroke="#dc0a14" stroke-width="2.05" d="M724 166.1h6.9M732 171.1h6.9M740 238.6h6.9"/>
<path stroke="#dc4650" stroke-width="2.05" d="M724 167.8h6.9M724 243.5h6.9M740 223.8h6.9"/>
<path stroke="#e66478" stroke-width="2.05" d="M724 169.4h6.9M724 185.9h6.9M724 223.8h6.9"/>
<path stroke="#e65a6e" stroke-width="2.05" d="M724 171.1h6.9M732 182.6h6.9M732 187.5h6.9M732 213.9h6.9M740 171.1h6.9"/>
<path stroke="#dc0014" stroke-width="2.05" d="M724 172.7h6.9M724 176h6.9M724 177.7h6.9M724 179.3h6.9M724 184.2h6.9M724 208.9h6.9M724 210.6h6.9M724 222.1h6.9M724 225.4h6.9M724 233.6h6.9M724 246.8h6.9M732 166.1h6.9M732 176h6.9M732 192.5h6.9M732 202.4h6.9M732 210.6h6.9M732 217.2h6.9M732 220.5h6.9M732 223.8h6.9M732 233.6h6.9M732 235.3h6.9M732 246.8h6.9M740 164.5h6.9M740 172.7h6.9M740 174.4h6.9M740 182.6h6.9M740 190.8h6.9M740 194.1h6.9M740 200.7h6.9M740 202.4h6.9M740 208.9h6.9M740 217.2h6.9M740 230.3h6.9M740 233.6h6.9M740 235.3h6.9M740 243.5h6.9"/>
<path stroke="#e65064" stroke-width="2.05" d="M724 174.4h6.9M732 190.8h6.9M732 199.1h6.9M740 228.7h6.9"/>
<path stroke="#e6788c" stroke-width="2.05" d="M724 187.5h6.9M724 190.8h6.9M724 205.6h6.9M724 207.3h6.9M724 227h6.9M732 167.8h6.9M740 204h6.9"/>
<path stroke="#dc3c46" stroke-width="2.05" d="M724 192.5h6.9M724 195.8h6.9M724 199.1h6.9M740 192.5h6.9"/>
<path stroke="#e68c96" stroke-width="2.05" d="M724 197.4h6.9M732 243.5h6.9"/>
<path stroke="#dc3246" stroke-width="2.05" d="M724 202.4h6.9"/>
<path stroke="#e68296" stroke-width="2.05" d="M724 212.2h6.9M732 172.7h6.9"/>
<path stroke="#dc141e" stroke-width="2.05" d="M724 213.9h6.9M732 232h6.9M740 169.4h6.9"/>
<path stroke="#e6aabe" stroke-width="2.05" d="M724 215.5h6.9M732 240.2h6.9M740 167.8h6.9M740 176h6.9"/>
<path stroke="#e66e78" stroke-width="2.05" d="M724 217.2h6.9M740 205.6h6.9M740 241.9h6.9"/>
<path stroke="#e66e82" stroke-width="2.05" d="M724 220.5h6.9M740 179.3h6.9M740 227h6.9"/>
<path stroke="#dc1e28" stroke-width="2.05" d="M724 228.7h6.9M724 241.9h6.9M740 162.8h6.9M740 220.5h6.9M740 240.2h6.9"/>
<path stroke="#e6465a" stroke-width="2.05" d="M724 230.3h6.9M740 166.1h6.9M740 184.2h6.9"/>
<path stroke="#e68ca0" stroke-width="2.05" d="M724 235.3h6.9M732 204h6.9"/>
<path stroke="#dc323c" stroke-width="2.05" d="M724 238.6h6.9M732 208.9h6.9M740 222.1h6.9"/>
<path stroke="#dc0a1e" stroke-width="2.05" d="M724 240.2h6.9M724 245.2h6.9M740 185.9h6.9M740 210.6h6.9M740 212.2h6.9M740 213.9h6.9"/>
<path stroke="#e6505a" stroke-width="2.05" d="M732 174.4h6.9M732 215.5h6.9M740 181h6.9M740 189.2h6.9"/>
<path stroke="#dc1e32" stroke-width="2.05" d="M732 184.2h6.9"/>
<path stroke="#dc3c50" stroke-width="2.05" d="M732 185.9h6.9M732 230.3h6.9M740 195.8h6.9M740 225.4h6.9"/>
<path stroke="#9682e6" stroke-width="2.05" d="M732 222.1h6.9"/>
<path stroke="#c8bef0" stroke-width="2.05" d="M732 228.7h6.9"/>
<path stroke="#e65a64" stroke-width="2.05" d="M740 187.5h6.9"/>
<path stroke="#dc1428" stroke-width="2.05" d="M740 197.4h6.9M740 199.1h6.9"/>
<path stroke="#e696a0" stroke-width="2.05" d="M740 207.3h6.9"/>
<path stroke="#dc465a" stroke-width="2.05" d="M740 246.8h6.9"/>
<text x="760.4" y="206.3" font-size="9.60" text-anchor="middle" fill="#222" transform="rotate(-90 760.4 206.3)" textLength="96.0" lengthAdjust="spacingAndGlyphs">Core Enrichment Genes</text>
<text x="710.2" y="158.4" font-size="10.00" fill="#000" transform="rotate(-52 710.2 158.4)">WT</text>
<text x="734.2" y="158.4" font-size="10.00" fill="#000" transform="rotate(-52 734.2 158.4)">KI:KO</text>
<defs><filter id="mb" x="-5%" y="-5%" width="110%" height="110%"><feGaussianBlur stdDeviation="0.55"/></filter><filter id="pb" x="-20%" y="-20%" width="140%" height="140%"><feGaussianBlur stdDeviation="1.6"/></filter><filter id="tb1" x="0" y="0" width="100%" height="100%"><feTurbulence type="fractalNoise" baseFrequency="0.07" numOctaves="3" seed="4"/><feColorMatrix type="matrix" values="0 0 0 0 0.68  0 0 0 0 0.46  0 0 0 0 0.34  3.4 0 0 0 -1.25"/></filter><filter id="tb2" x="0" y="0" width="100%" height="100%"><feTurbulence type="fractalNoise" baseFrequency="0.07" numOctaves="3" seed="9"/><feColorMatrix type="matrix" values="0 0 0 0 0.66  0 0 0 0 0.44  0 0 0 0 0.32  3.6 0 0 0 -1.25"/></filter><filter id="tb3" x="0" y="0" width="100%" height="100%"><feTurbulence type="fractalNoise" baseFrequency="0.12" numOctaves="2" seed="2"/><feColorMatrix type="matrix" values="0 0 0 0 0.55  0 0 0 0 0.55  0 0 0 0 0.62  2.0 0 0 0 -0.8"/></filter></defs>
<text x="-0.9" y="292.5" font-size="19.50" font-weight="bold">c</text>
<text x="80.9" y="288.8" font-size="11.50" text-anchor="middle" fill="#111">WT</text>
<text x="200.7" y="288.8" font-size="11.50" text-anchor="middle" fill="#111" textLength="46.0" lengthAdjust="spacingAndGlyphs">ErbB2 KI</text>
<text x="321.7" y="288.8" font-size="11.50" text-anchor="middle" fill="#111" textLength="54.5" lengthAdjust="spacingAndGlyphs">ERR&#945; KO</text>
<text x="445.2" y="288.8" font-size="11.50" text-anchor="middle" fill="#111" textLength="31.7" lengthAdjust="spacingAndGlyphs">KI:KO</text>
<text x="14.5" y="348.6" font-size="16.30" text-anchor="middle" fill="#111" transform="rotate(-90 14.5 348.6)" textLength="32.2" lengthAdjust="spacingAndGlyphs">Aif-1</text>
<text x="260.9" y="419.4" font-size="11.00" font-weight="bold" text-anchor="middle" fill="#111" textLength="71.6" lengthAdjust="spacingAndGlyphs">Macrophage</text>
<defs><clipPath id="cl1"><rect x="24.2" y="295.1" width="110.6" height="110.3"/></clipPath></defs>
<g clip-path="url(#cl1)"><g filter="url(#mb)">
<rect x="21.2" y="292.1" width="116.6" height="116.3" fill="#d9d8e2"/>
<rect x="24.2" y="295.1" width="110.6" height="110.3" filter="url(#tb3)" opacity="0.50"/>
<path d="M13.9 291.2L18.7 294.7M18.7 294.7L23.3 291.8M18.7 294.7L16.8 299.7M16.8 299.7L13.6 306.9M13.6 306.9L24.3 306.3M16.6 313.2L20.5 313.1M16.6 313.2L18.3 319M18.3 319L20.6 319.7M18.3 319L12.8 325.8M12.8 325.8L24.4 330.4M12.8 325.8L16.5 334.5M14.3 340.9L22.7 342.3M14.3 340.9L15.2 348.2M15.2 348.2L25.2 347.9M15.2 348.2L12.1 355.1M12.1 355.1L24.9 357.2M12.6 359.7L23.6 359.3M12.6 359.7L15.8 370.4M15.8 370.4L19.3 366.1M15.8 370.4L14.5 378.5M14.5 378.5L20.7 379.1M14.5 378.5L12.6 381.8M12.6 381.8L24.1 385.2M12.5 388.7L18.8 390.9M14.1 392.8L23 398.5M24.1 288.6L34.8 286.2M24.1 288.6L23.3 291.8M23.3 291.8L30.4 297.3M23.3 291.8L25.5 298.6M25.5 298.6L33.9 304.8M25.5 298.6L24.3 306.3M24.3 306.3L31.8 311.5M24.3 306.3L20.5 313.1M20.5 313.1L29.5 318.6M20.5 313.1L20.6 319.7M20.6 319.7L34.4 321.3M24.4 330.4L22.1 336.6M22.1 336.6L32.7 334.9M22.1 336.6L22.7 342.3M22.7 342.3L28.3 341M22.7 342.3L25.2 347.9M25.2 347.9L33.3 346.6M25.2 347.9L24.9 357.2M23.6 359.3L19.3 366.1M19.3 366.1L20.7 379.1M20.7 379.1L24.1 385.2M24.1 385.2L18.8 390.9M18.8 390.9L26.5 390.6M18.8 390.9L23 398.5M34.8 286.2L41.6 290.9M34.8 286.2L30.4 297.3M30.4 297.3L39.3 294M30.4 297.3L33.9 304.8M33.9 304.8L41.9 302.7M31.8 311.5L40.9 308M29.5 318.6L34.4 321.3M34.4 321.3L41.3 325.3M34.4 321.3L28.7 329.3M28.7 329.3L39.4 326.3M28.7 329.3L32.7 334.9M32.7 334.9L38 333.1M32.7 334.9L28.3 341M28.3 341L37.3 340.2M28.3 341L33.3 346.6M33.3 346.6L38.4 348.7M33.3 346.6L33.8 354.5M33.8 354.5L38.8 357.4M33.8 354.5L28.7 360.2M28.7 360.2L33.6 372.4M33.6 372.4L37.9 370.9M33.6 372.4L29.1 373.6M29.1 373.6L39 374.1M29.1 373.6L31 385.7M31 385.7L26.5 390.6M26.5 390.6L39.4 391.7M26.5 390.6L32 396.4M32 396.4L36.3 396.3M41.6 290.9L39.3 294M39.3 294L46.4 292.7M41.9 302.7L52.5 304.3M40.9 308L48.6 310.4M40.9 308L43.4 314.5M41.3 325.3L51.6 324.8M39.4 326.3L48.1 332.8M39.4 326.3L38 333.1M38 333.1L51.1 333.4M37.3 340.2L47.4 342.7M38.4 348.7L46.3 350.6M38.4 348.7L38.8 357.4M38.8 357.4L40.2 364.4M40.2 364.4L37.9 370.9M37.9 370.9L48.6 368.5M37.9 370.9L39 374.1M39 374.1L38.8 382.1M39.4 391.7L45.5 391.8M39.4 391.7L36.3 396.3M49.3 287.7L46.4 292.7M46.4 292.7L56.1 294.1M46.4 292.7L52.5 304.3M52.5 304.3L59.7 300.2M52.5 304.3L48.6 310.4M48.6 310.4L55.7 307.5M48.6 310.4L47.2 317.5M51.6 324.8L48.1 332.8M48.1 332.8L51.1 333.4M51.1 333.4L53.6 334.4M51.1 333.4L47.4 342.7M47.4 342.7L46.3 350.6M46.3 350.6L59 350.2M46.3 350.6L45.2 358.2M45.2 358.2L54.2 357.4M45.2 358.2L49.9 360.4M49.9 360.4L58.8 362.5M49.9 360.4L48.6 368.5M48.6 368.5L58.4 373.1M48.6 368.5L47.9 378.1M47.9 378.1L55.9 377M47.9 378.1L50 385.7M50 385.7L52.8 381.1M45.5 391.8L51.9 391.2M45.5 391.8L44 398.4M44 398.4L56.2 400.7M57.5 287.7L56.1 294.1M56.1 294.1L65.6 293.8M56.1 294.1L59.7 300.2M59.7 300.2L63.1 301.6M59.7 300.2L55.7 307.5M55.7 307.5L65.9 313.1M55.7 307.5L54.9 317.8M54.9 317.8L57.6 324.2M57.6 324.2L66.9 322.6M59.5 329.6L65.7 327.7M59.5 329.6L53.6 334.4M53.6 334.4L56.5 344.8M56.5 344.8L59 350.2M59 350.2L63.6 347.1M54.2 357.4L63 359.7M58.4 373.1L61.7 368.2M58.4 373.1L55.9 377M55.9 377L52.8 381.1M52.8 381.1L66.2 385.9M52.8 381.1L51.9 391.2M51.9 391.2L65.2 388.8M51.9 391.2L56.2 400.7M56.2 400.7L65.1 395.8M67 292.9L65.6 293.8M63.1 301.6L65.9 313.1M65.9 313.1L75.1 311.3M65.9 313.1L64.3 314.8M64.3 314.8L73.1 318.8M64.3 314.8L66.9 322.6M66.9 322.6L76.7 324.5M66.9 322.6L65.7 327.7M65.7 327.7L76.7 332.8M65.7 327.7L67.3 339.7M67.3 339.7L66.4 346.6M66.4 346.6L63.6 347.1M63.6 347.1L63 359.7M63 359.7L69.7 360.2M63 359.7L64.1 361.8M64.1 361.8L69.6 361M64.1 361.8L61.7 368.2M61.7 368.2L63.3 380.2M63.3 380.2L75.4 379.9M63.3 380.2L66.2 385.9M66.2 385.9L74.9 382.3M66.2 385.9L65.2 388.8M65.2 388.8L73 393.1M65.2 388.8L65.1 395.8M75 286.7L86.3 291.7M75 286.7L77.3 294.1M75 304.4L82 305.3M75 304.4L75.1 311.3M75.1 311.3L82.7 310.2M75.1 311.3L73.1 318.8M73.1 318.8L85.2 316.6M76.7 324.5L76.7 332.8M76.7 332.8L70.4 338.1M70.4 338.1L78.5 338.5M70.4 338.1L70.4 344.8M72.1 352.9L82.3 348.4M72.1 352.9L69.7 360.2M69.6 361L78.6 363.9M69.6 361L69.1 368.2M69.1 368.2L78 368.3M69.1 368.2L75.4 379.9M75.4 379.9L82.5 375.1M75.4 379.9L74.9 382.3M74.9 382.3L80.6 387.2M74.9 382.3L73 393.1M73 393.1L79.8 393.4M73 393.1L73.2 396.3M86.3 291.7L88.7 292.2M86.3 291.7L84.3 295.4M84.3 295.4L93.8 299.5M84.3 295.4L82 305.3M82 305.3L82.7 310.2M82.7 310.2L94 312.3M82.7 310.2L85.2 316.6M85.2 316.6L92.5 320.1M85.2 316.6L84.7 320.8M84.7 320.8L87.5 325.6M84.7 320.8L82.2 332M82.2 332L78.5 338.5M78.5 338.5L88.5 339M80.1 344.9L90.2 344.7M80.1 344.9L82.3 348.4M82.3 348.4L88.4 351.5M82.3 348.4L84.2 355.9M84.2 355.9L92.1 361.1M84.2 355.9L78.6 363.9M78.6 363.9L89.7 366.1M78.6 363.9L78 368.3M78 368.3L86.5 368.8M78 368.3L82.5 375.1M82.5 375.1L89.3 380.3M82.5 375.1L80.6 387.2M80.6 387.2L86.3 382.4M82.3 395.9L86.1 395.9M88.7 292.2L99.4 292.5M88.7 292.2L93.8 299.5M93.8 299.5L92.6 303.9M92.5 320.1L87.5 325.6M87.5 325.6L97.1 326.9M87.5 325.6L91.1 327.5M91.1 327.5L96.5 332.5M88.5 339L101.4 336.2M90.2 344.7L100.9 343.4M90.2 344.7L88.4 351.5M88.4 351.5L100 351.9M88.4 351.5L92.1 361.1M92.1 361.1L96.9 360.6M92.1 361.1L89.7 366.1M86.5 368.8L98.1 370.2M86.5 368.8L89.3 380.3M89.3 380.3L95.9 381.2M86.3 382.4L100.5 382.8M88.7 390.2L99.8 393.3M86.1 395.9L93.6 395.8M99.4 292.5L107.9 293.4M97.5 299.3L96.8 302.3M96.8 302.3L107.5 307.2M96.8 302.3L100.6 307.5M100.6 307.5L105.9 308.3M100.6 307.5L98.1 315.2M98.1 315.2L107 319M97.1 326.9L109.8 327.2M97.1 326.9L96.5 332.5M96.5 332.5L104 329M96.5 332.5L101.4 336.2M101.4 336.2L104.5 338.6M101.4 336.2L100.9 343.4M100.9 343.4L106.1 347.6M100.9 343.4L100 351.9M100 351.9L107.3 352.4M100 351.9L96.9 360.6M96.9 360.6L99.2 363.6M99.2 363.6L98.1 370.2M98.1 370.2L95.9 381.2M95.9 381.2L103.7 375.5M95.9 381.2L100.5 382.8M100.5 382.8L104.7 386.7M99.8 393.3L103.3 394.5M93.6 395.8L107.6 400.2M107.9 293.4L110.7 296M110.7 296L118.7 295.7M110.7 296L107.5 307.2M107.5 307.2L116.3 306.3M107.5 307.2L105.9 308.3M105.9 308.3L117.1 309.5M107 319L118.6 316.9M109.8 327.2L115.3 324.4M109.8 327.2L104 329M104 329L117 328.5M104 329L104.5 338.6M104.5 338.6L106.1 347.6M106.1 347.6L117.2 344.2M106.1 347.6L107.3 352.4M107.3 352.4L115.4 355M107.3 352.4L107.7 356.3M107.7 356.3L108.8 367.6M108.8 367.6L114.4 363.9M108.1 373.8L103.7 375.5M103.7 375.5L116.6 376.9M103.7 375.5L104.7 386.7M104.7 386.7L117.1 385.8M104.7 386.7L103.3 394.5M103.3 394.5L112.3 394.2M103.3 394.5L107.6 400.2M116.7 288.7L122.7 292.5M116.7 288.7L118.7 295.7M118.7 295.7L121.9 295.8M118.7 295.7L116.3 306.3M116.3 306.3L124.2 303.5M116.3 306.3L117.1 309.5M117.1 309.5L118.6 316.9M118.6 316.9L126 317.8M115.3 324.4L124.2 327M115.3 324.4L117 328.5M117 328.5L122 335.1M116.3 338.2L117.2 344.2M117.2 344.2L125.8 343.6M117.2 344.2L115.4 355M111.8 360.4L114.4 363.9M114.4 363.9L120.2 365.7M112.9 370.1L116.6 376.9M116.6 376.9L120.7 380.4M116.6 376.9L117.1 385.8M117.1 385.8L122.6 384.4M112.3 394.2L122.8 389.7M112.3 394.2L114.1 401.7M114.1 401.7L121 396.5M122.7 292.5L135.8 290.8M122.7 292.5L121.9 295.8M121.9 295.8L134.8 297.2M121.9 295.8L124.2 303.5M124.2 303.5L132.6 305.5M124.2 303.5L123.1 312M126 317.8L134.7 315.7M126 317.8L124.2 327M124.2 327L130.6 322M124.2 327L122 335.1M122 335.1L132.4 329.4M122 335.1L120.6 337.6M120.6 337.6L132.4 336.5M125.8 343.6L132.2 344.1M122.3 349.8L133.4 354.5M122.3 349.8L126.3 361.4M126.3 361.4L134.7 358.9M126.3 361.4L120.2 365.7M120.2 365.7L133.9 368.3M120.2 365.7L120.6 369M120.7 380.4L122.6 384.4M122.6 384.4L122.8 389.7M122.8 389.7L131.3 394.2M122.8 389.7L121 396.5M121 396.5L128.8 401.8M135.8 290.8L143.5 289.7M134.8 297.2L132.6 305.5M132.6 305.5L138.7 302.1M132.6 305.5L131.3 312.1M131.3 312.1L134.7 315.7M134.7 315.7L142.6 321.7M134.7 315.7L130.6 322M130.6 322L132.4 329.4M132.4 329.4L132.4 336.5M132.4 336.5L139.8 338.5M132.2 344.1L139.5 347.9M132.2 344.1L133.4 354.5M133.4 354.5L140.9 354.6M133.4 354.5L134.7 358.9M134.7 358.9L142.4 361.2M134.7 358.9L133.9 368.3M133.9 368.3L139.9 365.4M133.9 368.3L130 375.8M130 375.8L134.1 377.1M134.1 377.1L140.5 381.9M134.1 377.1L132.5 387.4M132.5 387.4L140.4 384.7M132.5 387.4L131.3 394.2M131.3 394.2L139.4 392.7M128.8 401.8L136.3 397M143.5 289.7L149.9 295M143.5 289.7L144.8 300.2M144.8 300.2L138.7 302.1M138.7 302.1L139.1 313.1M139.1 313.1L150.5 309M139.1 313.1L142.6 321.7M142.6 321.7L148.3 317.9M142.6 321.7L143.6 323.6M143.6 323.6L149.3 323.2M143.6 323.6L138.8 329.4M138.8 329.4L150 333.3M138.8 329.4L139.8 338.5M139.5 347.9L149.2 343.4M139.5 347.9L140.9 354.6M140.9 354.6L150.7 355.3M140.9 354.6L142.4 361.2M142.4 361.2L150.7 361.4M142.4 361.2L139.9 365.4M139.9 365.4L146.5 364.8M139.8 372.5L144.9 374.9M139.8 372.5L140.5 381.9M140.5 381.9L150.1 382.8M140.5 381.9L140.4 384.7M140.4 384.7L148.2 388.6M140.4 384.7L139.4 392.7M139.4 392.7L149.8 390.8M136.3 397L144.2 402.5M151.6 295.8L152.7 307.1M152.7 307.1L150.5 309M150.5 309L148.3 317.9M148.3 317.9L149.3 323.2M149.3 323.2L150 333.3M150 333.3L149.9 339.3M149.2 343.4L150.7 355.3M144.9 374.9L150.1 382.8M150.1 382.8L148.2 388.6M148.2 388.6L149.8 390.8M149.8 390.8L144.2 402.5" fill="none" stroke="#f4f2f6" stroke-width="0.8" opacity="0.70"/>
<path d="M101.7 297.8L102.9 299.4L105 301.1L107.9 302.6L111.1 304.1L114.3 305.8L117.1 307.7L119.7 310.1L122.4 312.9L125.3 315.5L128.2 317.7L131 319L133.2 319.6L135.8 313.9L133.9 311.9L131.1 310L127.8 308.3L124.1 306.8L120.8 305.3L118 303.6L115.5 301.3L113.2 298.6L111 296L108.9 293.9L106.8 292.7z" fill="#f8f6f2"/>
<path d="M71.9 298.5L73.4 302L75.9 306.8L79.3 312.4L83.4 318.2L88 324L93 329.2L99 334.3L106.3 339.6L114.3 344.6L122.1 348.9L128.9 352.2L133.8 354.2L133.9 349.3L128.2 345.8L120.9 341.9L112.7 337.8L104.6 333.6L97.6 329.3L92.4 324.8L88.3 319.3L84.9 313.1L82.1 307.1L79.6 301.7L77.2 297.5z" fill="#f8f6f2"/>
<path d="M35.1 341.6L37.4 344L40.6 347.3L44.5 351L48.7 354.9L52.8 358.7L56.5 362.2L59.6 365.4L62.6 368.8L65.2 372.2L67.8 375.7L70.3 379.1L72.9 382.2L75.9 385L79.2 387.6L82.6 389.9L85.8 391.9L88.5 393.4L90.4 394.5L89.9 393.5L88 391.6L85.4 389.3L82.5 386.7L79.5 384.1L76.5 381.4L73.7 378.7L70.9 375.9L68.2 372.7L65.4 369.3L62.7 365.7L59.8 362.1L56.6 358.6L52.6 354.9L48.3 351.1L43.9 347.5L39.8 344.4L36.6 342.2z" fill="#f8f6f2"/>
<path d="M21.1 364.9L21.6 367.3L23 370.2L25 373.5L27.4 376.9L29.6 380.5L31.2 384.1L32.2 388L33 392.4L33.9 396.8L35 400.9L36.5 404.1L38 406.4L43.6 403.3L43.1 400.1L41.9 396.4L40.1 392.3L37.9 388.3L35.7 384.4L34.1 380.8L32.8 376.8L31.7 372.7L30.7 368.7L29.5 365.3L28.1 362.9z" fill="#f8f6f2"/>
<path d="M68.3 383.6L70.4 386L73.7 389.2L77.8 392.6L82.3 395.8L86.5 398.6L89.9 400.9L92.4 402.8L94.6 404.4L96.6 405.8L98.3 406.6L99.7 407L100.9 407L101.9 403.3L100.8 402.5L99.3 401.8L97.4 401.3L95.2 400.7L92.6 399.7L89.7 397.9L86.1 395L82 391.7L77.6 388.4L73.4 385.6L69.9 383.8z" fill="#f8f6f2"/>
<path d="M23.7 334.6L26.3 336.1L30.4 337.7L35 339.7L39.4 342.3L43.3 344L46.3 344.9L45.4 343.8L42.2 341.7L37.9 339.7L33.2 337.5L29.1 335L25.9 333.2z" fill="#f8f6f2"/>
<g fill="#4f5fc0" opacity="0.75"><ellipse cx="103.5" cy="378.1" rx="1.7" ry="0.8" transform="rotate(55 103.5 378.1)"/><ellipse cx="75.5" cy="315.9" rx="2.1" ry="1.0" transform="rotate(111 75.5 315.9)"/><ellipse cx="100.0" cy="332.3" rx="1.4" ry="0.9" transform="rotate(102 100.0 332.3)"/><ellipse cx="78.1" cy="311.3" rx="1.9" ry="0.9" transform="rotate(48 78.1 311.3)"/><ellipse cx="129.7" cy="327.6" rx="1.4" ry="1.0" transform="rotate(144 129.7 327.6)"/><ellipse cx="131.2" cy="338.3" rx="2.0" ry="0.8" transform="rotate(44 131.2 338.3)"/><ellipse cx="100.3" cy="397.3" rx="1.9" ry="1.1" transform="rotate(98 100.3 397.3)"/><ellipse cx="93.6" cy="311.8" rx="1.5" ry="0.9" transform="rotate(111 93.6 311.8)"/><ellipse cx="44.8" cy="393.1" rx="1.7" ry="0.8" transform="rotate(105 44.8 393.1)"/><ellipse cx="89.3" cy="343.5" rx="1.8" ry="1.1" transform="rotate(64 89.3 343.5)"/><ellipse cx="121.1" cy="378.3" rx="1.7" ry="0.9" transform="rotate(33 121.1 378.3)"/><ellipse cx="43.8" cy="363.9" rx="2.0" ry="0.8" transform="rotate(27 43.8 363.9)"/><ellipse cx="36.6" cy="366.5" rx="1.7" ry="1.1" transform="rotate(103 36.6 366.5)"/><ellipse cx="39.0" cy="352.0" rx="2.0" ry="0.8" transform="rotate(33 39.0 352.0)"/><ellipse cx="74.5" cy="376.9" rx="1.5" ry="0.8" transform="rotate(170 74.5 376.9)"/><ellipse cx="62.0" cy="337.8" rx="1.5" ry="0.8" transform="rotate(108 62.0 337.8)"/><ellipse cx="68.9" cy="303.1" rx="1.5" ry="0.9" transform="rotate(126 68.9 303.1)"/><ellipse cx="95.4" cy="353.9" rx="1.5" ry="0.9" transform="rotate(9 95.4 353.9)"/><ellipse cx="132.8" cy="335.9" rx="1.9" ry="1.0" transform="rotate(89 132.8 335.9)"/><ellipse cx="55.6" cy="321.2" rx="1.7" ry="0.9" transform="rotate(57 55.6 321.2)"/><ellipse cx="93.4" cy="359.1" rx="1.7" ry="1.0" transform="rotate(48 93.4 359.1)"/><ellipse cx="56.3" cy="399.3" rx="2.0" ry="1.1" transform="rotate(59 56.3 399.3)"/><ellipse cx="72.8" cy="317.6" rx="1.3" ry="1.1" transform="rotate(66 72.8 317.6)"/><ellipse cx="35.5" cy="400.2" rx="1.4" ry="1.0" transform="rotate(112 35.5 400.2)"/><ellipse cx="41.7" cy="392.4" rx="1.7" ry="0.9" transform="rotate(67 41.7 392.4)"/><ellipse cx="49.0" cy="325.2" rx="1.3" ry="0.8" transform="rotate(33 49.0 325.2)"/><ellipse cx="112.1" cy="344.2" rx="2.1" ry="0.8" transform="rotate(109 112.1 344.2)"/><ellipse cx="33.0" cy="390.9" rx="1.3" ry="0.9" transform="rotate(72 33.0 390.9)"/><ellipse cx="65.7" cy="342.6" rx="1.9" ry="0.8" transform="rotate(17 65.7 342.6)"/><ellipse cx="46.5" cy="297.1" rx="2.1" ry="0.9" transform="rotate(166 46.5 297.1)"/><ellipse cx="98.5" cy="343.8" rx="1.4" ry="1.1" transform="rotate(60 98.5 343.8)"/><ellipse cx="35.1" cy="387.2" rx="2.0" ry="1.1" transform="rotate(121 35.1 387.2)"/><ellipse cx="123.0" cy="343.6" rx="2.1" ry="0.8" transform="rotate(172 123.0 343.6)"/><ellipse cx="69.8" cy="353.8" rx="1.9" ry="1.0" transform="rotate(107 69.8 353.8)"/><ellipse cx="84.5" cy="381.7" rx="1.7" ry="0.9" transform="rotate(108 84.5 381.7)"/><ellipse cx="98.3" cy="296.3" rx="1.5" ry="1.0" transform="rotate(129 98.3 296.3)"/><ellipse cx="78.2" cy="340.5" rx="1.4" ry="1.0" transform="rotate(0 78.2 340.5)"/><ellipse cx="118.5" cy="344.0" rx="1.8" ry="0.9" transform="rotate(144 118.5 344.0)"/><ellipse cx="112.9" cy="389.9" rx="1.4" ry="0.8" transform="rotate(110 112.9 389.9)"/><ellipse cx="93.3" cy="400.2" rx="1.8" ry="1.0" transform="rotate(102 93.3 400.2)"/><ellipse cx="100.4" cy="355.1" rx="2.2" ry="0.8" transform="rotate(34 100.4 355.1)"/><ellipse cx="113.4" cy="309.2" rx="1.6" ry="1.0" transform="rotate(175 113.4 309.2)"/><ellipse cx="94.2" cy="366.4" rx="2.1" ry="0.9" transform="rotate(9 94.2 366.4)"/><ellipse cx="41.7" cy="383.3" rx="2.2" ry="0.9" transform="rotate(162 41.7 383.3)"/><ellipse cx="134.4" cy="366.4" rx="1.8" ry="1.0" transform="rotate(139 134.4 366.4)"/><ellipse cx="46.0" cy="392.8" rx="1.4" ry="0.8" transform="rotate(154 46.0 392.8)"/><ellipse cx="34.0" cy="400.8" rx="1.5" ry="0.8" transform="rotate(74 34.0 400.8)"/><ellipse cx="122.6" cy="335.5" rx="1.5" ry="1.0" transform="rotate(67 122.6 335.5)"/><ellipse cx="26.0" cy="306.4" rx="1.9" ry="1.0" transform="rotate(31 26.0 306.4)"/><ellipse cx="66.5" cy="336.5" rx="2.2" ry="1.0" transform="rotate(87 66.5 336.5)"/><ellipse cx="27.4" cy="370.0" rx="2.0" ry="1.0" transform="rotate(36 27.4 370.0)"/><ellipse cx="116.2" cy="302.7" rx="1.9" ry="0.8" transform="rotate(66 116.2 302.7)"/><ellipse cx="118.2" cy="367.2" rx="1.3" ry="1.1" transform="rotate(63 118.2 367.2)"/><ellipse cx="130.5" cy="322.0" rx="1.4" ry="0.9" transform="rotate(34 130.5 322.0)"/><ellipse cx="47.8" cy="336.8" rx="2.2" ry="0.8" transform="rotate(53 47.8 336.8)"/><ellipse cx="115.1" cy="344.0" rx="1.4" ry="1.0" transform="rotate(8 115.1 344.0)"/><ellipse cx="74.3" cy="319.2" rx="1.7" ry="0.9" transform="rotate(179 74.3 319.2)"/><ellipse cx="44.2" cy="389.1" rx="1.4" ry="1.1" transform="rotate(86 44.2 389.1)"/><ellipse cx="41.1" cy="331.4" rx="1.5" ry="1.0" transform="rotate(2 41.1 331.4)"/><ellipse cx="50.2" cy="393.7" rx="2.1" ry="1.0" transform="rotate(23 50.2 393.7)"/></g>
<g fill="#9a6a40" opacity="0.9"><ellipse cx="39.1" cy="388.6" rx="1.2" ry="0.7" transform="rotate(144 39.1 388.6)"/><ellipse cx="52.4" cy="349.7" rx="1.0" ry="0.6" transform="rotate(170 52.4 349.7)"/><ellipse cx="96.3" cy="382.1" rx="0.7" ry="0.4" transform="rotate(52 96.3 382.1)"/><ellipse cx="27.3" cy="387.3" rx="0.9" ry="0.6" transform="rotate(126 27.3 387.3)"/><ellipse cx="108.5" cy="295.3" rx="1.0" ry="0.6" transform="rotate(13 108.5 295.3)"/><ellipse cx="104.0" cy="320.3" rx="1.4" ry="0.8" transform="rotate(180 104.0 320.3)"/><ellipse cx="123.9" cy="298.5" rx="0.6" ry="0.4" transform="rotate(173 123.9 298.5)"/><ellipse cx="84.1" cy="398.7" rx="0.9" ry="0.5" transform="rotate(98 84.1 398.7)"/></g>
</g></g>
<rect x="24.2" y="295.1" width="110.6" height="110.3" fill="none" stroke="#222" stroke-width="2.60"/>
<line x1="98.4" y1="395.5" x2="126.0" y2="395.5" stroke="#000" stroke-width="2.40"/>
<defs><clipPath id="cl2"><rect x="144.1" y="295.3" width="112.1" height="110.3"/></clipPath></defs>
<g clip-path="url(#cl2)"><g filter="url(#mb)">
<rect x="141.1" y="292.3" width="118.1" height="116.3" fill="#d8d7de"/>
<rect x="144.1" y="295.3" width="112.1" height="110.3" filter="url(#tb3)" opacity="0.50"/>
<path d="M136.5 287.7L138.1 296.8M138.1 296.8L141.9 293.7M138.1 296.8L137 303.5M137 303.5L145.5 302.5M138.4 306.1L145.3 308.5M138.4 306.1L139.4 316.2M139.4 316.2L140.4 324.2M140.4 324.2L142 327.2M142 327.2L148.8 326.9M142 327.2L139.6 332.4M139.6 332.4L151.4 332.9M139.6 332.4L144.3 341.9M144.3 341.9L150.6 342.2M144.3 341.9L143.7 346.9M143.7 346.9L151.4 345.5M143.7 346.9L143.7 352M143.7 352L144.6 357.8M144.6 357.8L154.5 359.6M144.6 357.8L146.3 367.2M146.3 367.2L153.3 368.5M146.3 367.2L147 371.1M147 371.1L144.5 378.5M150 391.4L158.3 393.2M143 291.6L149.7 286.5M143 291.6L141.9 293.7M141.9 293.7L152.8 297M141.9 293.7L145.5 302.5M145.5 302.5L145.3 308.5M145.3 308.5L153.7 305.2M145.3 308.5L146.2 315.6M146.2 315.6L153 311.3M146.2 315.6L149.8 322.6M149.8 322.6L154.2 318.1M149.8 322.6L148.8 326.9M148.8 326.9L152.8 325.9M148.8 326.9L151.4 332.9M151.4 332.9L153.8 330.5M150.6 342.2L154.8 338.8M150.6 342.2L151.4 345.5M151.4 345.5L156.8 347M151.4 345.5L152.7 353.2M152.7 353.2L157.7 350.2M154.5 359.6L157.3 357.1M154.5 359.6L153.3 368.5M153.3 368.5L161.2 362.4M153.3 368.5L153.6 371.2M153.6 371.2L160.8 372.9M153.6 371.2L157.2 380.8M157.2 380.8L163.5 376.8M157.2 380.8L152.8 382.2M152.8 382.2L164.5 384.3M152.8 382.2L158.3 393.2M158.3 393.2L161.2 387.7M149.7 286.5L156.2 289.1M149.7 286.5L152.8 297M152.8 297L150.5 300.6M150.5 300.6L162.5 302M150.5 300.6L153.7 305.2M153.7 305.2L159.7 303M153.7 305.2L153 311.3M153 311.3L159.5 310.9M153 311.3L154.2 318.1M154.2 318.1L162.8 320M152.8 325.9L165.2 326.2M152.8 325.9L153.8 330.5M153.8 330.5L154.8 338.8M154.8 338.8L164.3 340.2M161.2 362.4L169.6 360.9M161.2 362.4L160.8 372.9M160.8 372.9L167.9 370.6M163.5 376.8L169.1 378.8M163.5 376.8L164.5 384.3M164.5 384.3L172.2 381.3M164.5 384.3L161.2 387.7M161.2 387.7L168.6 392M156.2 289.1L164.7 284.4M156.2 289.1L158.3 295.6M158.3 295.6L163.4 289.5M158.3 295.6L162.5 302M162.5 302L167 297.3M162.5 302L159.7 303M159.7 303L168.2 307.8M159.7 303L159.5 310.9M159.5 310.9L168.6 314.4M159.5 310.9L162.8 320M162.8 320L166.8 319.9M166.2 332.2L164.3 340.2M164.3 340.2L171.8 337.6M164.3 340.2L163.8 346.4M163.8 346.4L167.3 353M167.3 353L175.6 351.9M167.3 353L163.7 355.5M163.7 355.5L175.3 359M163.7 355.5L169.6 360.9M169.6 360.9L174.6 359.9M169.1 378.8L177.7 376.1M169.1 378.8L172.2 381.3M172.2 381.3L174.9 379.7M164.7 284.4L163.4 289.5M163.4 289.5L175.2 288.7M163.4 289.5L167 297.3M167 297.3L173 297.7M168.2 307.8L174.3 307.2M168.2 307.8L168.6 314.4M168.6 314.4L174 310.6M166.8 319.9L174.3 314.6M166.8 319.9L171.7 327M171.7 327L178.1 322.1M171.7 327L167.9 331.1M171.8 337.6L176 333.5M171.8 337.6L171.9 342M171.9 342L181 345.5M175.6 351.9L177.4 348.9M175.6 351.9L175.3 359M175.3 359L184.2 357M175.3 359L174.6 359.9M174.6 359.9L184.7 361.4M174.6 359.9L176.2 366.3M176.2 366.3L185 364.8M177.7 376.1L183.5 376.6M177.7 376.1L174.9 379.7M174.9 379.7L174.9 386.4M174.9 386.4L184.6 386.4M175 282.9L175.2 288.7M175.2 288.7L178.8 289.5M175.2 288.7L173 297.7M173 297.7L174.3 307.2M174.3 307.2L184 304.1M174.3 307.2L174 310.6M174 310.6L185.5 311.4M174.3 314.6L184.2 314.4M174.3 314.6L178.1 322.1M178.1 322.1L182.3 324.9M178.1 322.1L178 330.9M176 333.5L184.8 336.8M176 333.5L181 345.5M181 345.5L189.1 339.3M181 345.5L177.4 348.9M177.4 348.9L184.5 346.1M177.4 348.9L184.2 357M184.2 357L186.8 355.6M184.2 357L184.7 361.4M184.7 361.4L191.3 362.4M184.7 361.4L185 364.8M185 364.8L191.4 369.9M183.5 376.6L193.4 372.6M183.5 380.5L194.1 380.8M184.6 386.4L190.9 386.9M181.9 286.8L185 282.6M178.8 289.5L189.2 286M178.8 289.5L183.2 298.1M184 304.1L187.7 299.6M184 304.1L185.5 311.4M185.5 311.4L184.2 314.4M184.2 314.4L188.5 314.6M184.2 314.4L182.3 324.9M182.3 324.9L187.6 330.9M187.6 330.9L193.8 324.8M184.8 336.8L193 333.3M184.8 336.8L189.1 339.3M189.1 339.3L196.4 342.7M189.1 339.3L184.5 346.1M184.5 346.1L196.1 345.4M186.8 355.6L194.9 355.5M186.8 355.6L191.3 362.4M191.3 362.4L196.6 360.5M191.3 362.4L191.4 369.9M191.4 369.9L198.3 363.9M191.4 369.9L193.4 372.6M193.4 372.6L197.7 375.4M194.1 380.8L198.1 381.1M194.1 380.8L190.9 386.9M190.9 386.9L197.2 382.3M185 282.6L194.1 280.7M185 282.6L189.2 286M189.2 286L195.8 290.1M189.2 286L188.7 295.4M187.7 299.6L190.1 307.5M190.1 307.5L199.7 309.8M190.1 307.5L188.5 314.6M188.5 314.6L199.5 312.8M188.5 314.6L192.4 318.5M192.4 318.5L199.7 320.5M193.8 324.8L193 333.3M193 333.3L196.4 342.7M196.4 342.7L199.7 338.8M196.1 345.4L200 345.3M196.1 345.4L194.9 355.5M194.9 355.5L201.9 349.8M194.9 355.5L196.6 360.5M196.6 360.5L198.3 363.9M198.3 363.9L206.1 363.2M198.3 363.9L197.7 375.4M198.1 381.1L204 377.2M198.1 381.1L197.2 382.3M197.2 382.3L209.5 383.2M194.1 280.7L195.8 290.1M195.8 290.1L204.1 286.1M195.8 290.1L193.2 295.2M193.2 295.2L205.4 293.9M196.2 303.9L202.4 303.6M196.2 303.9L199.7 309.8M199.7 309.8L199.5 312.8M199.5 312.8L206.3 314.5M199.5 312.8L199.7 320.5M199.7 320.5L208.6 317.1M199.7 320.5L198.8 325.5M201.7 335.5L199.7 338.8M199.7 338.8L210.6 338.4M200 345.3L207.5 345.9M201.9 349.8L210.8 351.7M204.4 357.5L206.1 363.2M206.1 363.2L214.1 364.4M207 374.3L210.8 372.8M204 377.2L211.7 379.7M204 377.2L209.5 383.2M209.5 383.2L216.4 380.9M200.3 279L207.2 281.6M200.3 279L204.1 286.1M205.4 293.9L211.7 291.6M202.4 303.6L207.2 307.9M207.2 307.9L214.5 308.3M207.2 307.9L206.3 314.5M206.3 314.5L210.7 313.9M206.3 314.5L208.6 317.1M208.6 317.1L212.9 321.5M208.6 317.1L205.7 327.6M205.7 327.6L207.7 335.3M207.7 335.3L214.1 331.4M207.7 335.3L210.6 338.4M210.6 338.4L214.2 339.5M210.6 338.4L207.5 345.9M207.5 345.9L210.8 351.7M210.8 351.7L215.9 350.5M212.6 357.3L214.1 364.4M214.1 364.4L210.8 372.8M210.8 372.8L219.1 368.6M210.8 372.8L211.7 379.7M211.7 379.7L221.4 377M211.7 379.7L216.4 380.9M216.4 380.9L223.6 382.4M207.2 281.6L218.5 281.3M207.2 281.6L209.3 285.7M209.3 285.7L219.7 287.8M209.3 285.7L211.7 291.6M211.7 291.6L219 293M209.1 299.9L217.5 295.8M209.1 299.9L214.5 308.3M214.5 308.3L221.6 303.8M214.5 308.3L210.7 313.9M210.7 313.9L219.1 311.5M213.4 322.3L219.6 325.9M213.4 322.3L214.1 331.4M214.1 331.4L225.3 332.9M214.1 331.4L214.2 339.5M214.2 339.5L225.8 336.7M215.9 345.6L215.9 350.5M215.9 350.5L227.2 352.2M215.9 350.5L218.9 354.7M218.1 365.4L219.1 368.6M219.1 368.6L221.4 377M223.6 382.4L230.5 379.5M218.5 281.3L220.9 275.9M219 293L226.3 287.9M219 293L217.5 295.8M217.5 295.8L225.8 298.9M221.6 303.8L227.9 301.5M221.6 303.8L219.1 311.5M219.1 311.5L222.6 319.3M222.6 319.3L230.2 313.5M222.6 319.3L219.6 325.9M219.6 325.9L229.7 325.2M219.6 325.9L225.3 332.9M225.3 332.9L230.6 330.9M225.8 336.7L229.3 335.7M225.8 336.7L226.3 343.2M226.3 343.2L228.6 344.3M226.3 343.2L227.2 352.2M227.2 352.2L232.1 346.3M224.5 353.4L228.1 364.7M228.1 364.7L231.1 362.9M228.1 364.7L229.4 367.9M229.4 367.9L232.1 368.8M229.4 367.9L227.3 372.5M227.3 372.5L232.7 371.1M227.3 372.5L230.5 379.5M230.5 379.5L237.4 380.8M220.9 275.9L231.8 278.4M220.9 275.9L226.6 283.6M226.6 283.6L232.5 281.3M226.6 283.6L226.3 287.9M226.3 287.9L231.9 290.6M226.3 287.9L225.8 298.9M225.8 298.9L227.9 301.5M227.9 301.5L234 304.7M227.9 301.5L227.4 312.1M227.4 312.1L236.4 307.2M227.4 312.1L230.2 313.5M230.2 313.5L233.1 312.5M229.7 325.2L238.1 319.7M229.7 325.2L230.6 330.9M230.6 330.9L237.4 328.3M230.6 330.9L229.3 335.7M229.3 335.7L239 337.3M228.6 344.3L239.2 338.8M228.6 344.3L232.1 346.3M232.1 346.3L238.7 345.4M232.1 346.3L235.2 352.5M235.2 352.5L239.6 355.4M231.1 362.9L232.1 368.8M232.1 368.8L244.2 369.4M232.1 368.8L232.7 371.1M232.7 371.1L241.2 374.4M232.7 371.1L237.4 380.8M231.8 278.4L240.7 275.1M232.5 281.3L231.9 290.6M231.9 290.6L238.8 286.6M231.9 290.6L235.3 296.9M234 304.7L238.8 303.5M236.4 307.2L242.2 306.9M236.4 307.2L233.1 312.5M233.1 312.5L238.1 319.7M238.1 319.7L243.3 322.2M238.1 319.7L237.4 328.3M237.4 328.3L247.1 329.3M239 337.3L244.4 335.5M239 337.3L239.2 338.8M239.2 338.8L244.1 339.5M239.2 338.8L238.7 345.4M238.7 345.4L239.6 355.4M239.6 355.4L241.9 360.8M241.9 360.8L247.9 360.5M241.9 360.8L244.2 369.4M244.2 369.4L249 365.2M241.2 374.4L249.5 374.4M243.7 376.2L252.1 376.4M240.7 275.1L239.5 280.7M239.5 280.7L247.4 282M238.8 286.6L247.3 285.9M238.8 286.6L242.7 292M242.7 292L248.2 295.9M242.7 292L238.8 303.5M238.8 303.5L242.2 306.9M245.4 315.4L248.6 315.8M243.3 322.2L248.4 322M243.3 322.2L247.1 329.3M247.1 329.3L251.5 324.6M247.1 329.3L244.4 335.5M244.4 335.5L250.7 331.4M244.4 335.5L244.1 339.5M244.1 339.5L249.6 347.5M249.6 347.5L252.2 342.9M249.6 347.5L246.8 353.1M246.8 353.1L255.9 354.7M246.8 353.1L247.9 360.5M247.9 360.5L249 365.2M249 365.2L256.6 363.4M249.5 374.4L256.8 371.4M249.5 374.4L252.1 376.4M252.1 376.4L260.6 376.2M244.9 277.8L251.9 275.6M244.9 277.8L247.4 282M247.4 282L254 282.9M248.2 295.9L255 294M248.2 295.9L248 300.2M248 300.2L255.3 297.6M248 300.2L248.8 307.8M248.8 307.8L254.2 305.8M248.6 315.8L260.1 312.2M248.6 315.8L248.4 322M248.4 322L258 318.6M251.5 324.6L260.3 324.1M251.5 324.6L250.7 331.4M250.7 331.4L251.5 342.4M251.5 342.4L260.8 337.9M254 356.6L265.8 358.4M254 356.6L256.6 363.4M256.6 363.4L256.8 371.4M256.8 371.4L262.6 371.1M256.8 371.4L260.6 376.2M260.6 376.2L264.1 375.5M251.9 275.6L254 282.9M254 282.9L263.3 281.6M253.8 287.9L261.3 288.7M253.8 287.9L255 294M255 294L264 292.9M255.3 297.6L264.9 300.3M255.3 297.6L254.2 305.8M254.2 305.8L261 306.3M254.2 305.8L260.1 312.2M260.1 312.2L258 318.6M260.3 324.1L263.6 323.9M260.3 324.1L258.8 330.7M258.8 330.7L263.9 330.3M258.8 330.7L260.8 337.9M260.8 337.9L265 334.2M260.8 337.9L262.1 347.1M262.1 347.1L261.1 351.7M261.1 351.7L267.7 353.1M265.8 358.4L268.4 358.6M265.8 358.4L265.7 365.3M265.7 365.3L269.7 365.2M265.7 365.3L262.6 371.1M262.6 371.1L271.9 371.2M262.6 371.1L264.1 375.5M264.1 375.5L271.9 374M257.8 275.3L263.3 281.6M263.3 281.6L261.3 288.7M264 292.9L264.9 300.3M264.9 300.3L261 306.3M261 306.3L265.3 310.5M265.3 310.5L267.3 319.2M267.3 319.2L263.6 323.9M263.6 323.9L263.9 330.3M265 334.2L267.4 345M267.4 345L267.7 353.1M267.7 353.1L268.4 358.6M269.7 365.2L271.9 371.2M271.9 371.2L271.9 374" fill="none" stroke="#f4f2f6" stroke-width="0.8" opacity="0.70"/>
<path d="M231 317.7L231.1 319.3L231.7 321.3L232.9 323.5L234.4 325.8L236.1 328.1L237.8 330.5L240.1 332.8L242.9 334.5L246 335.6L249 336L251.5 335.9L253.3 335.9L253.9 331.4L252 330.1L249.7 328.7L247 327.6L244.4 326.8L242 326.4L240 325.9L238.3 324.6L236.8 322.6L235.6 320.5L234.3 318.6L232.7 317.4z" fill="#f8f6f2"/>
<path d="M160.8 378.3L162.6 379.2L165.3 380.2L168.4 381.2L171.7 382.2L174.8 383.3L177.3 384.5L179.5 385.8L181.6 387L183.8 387.8L185.9 388.3L187.6 388.8L188.9 389.2L188.5 388.6L187.3 387.5L185.8 386.2L184 384.9L181.8 383.7L179.4 382.9L176.8 382.2L173.8 381.3L170.5 380.3L167.2 379.2L164.3 378.4L161.9 377.9z" fill="#f8f6f2"/>
<path d="M177.7 339.6L180.1 340.5L183.4 341.9L187.4 343.3L191.7 344.6L196.1 345.4L200.2 345.6L204.4 344.7L208.9 342.9L213.1 340.4L217 337.8L220.3 335.5L222.6 334L221.4 334.4L218.4 336L214.5 338L210.2 340.2L205.9 342.3L201.9 343.9L198.2 344.5L194.1 344.1L189.8 343.1L185.6 341.7L181.9 340.4L178.9 339.5z" fill="#f8f6f2"/>
<g fill="#4f5fc0" opacity="0.75"><ellipse cx="176.2" cy="298.1" rx="1.8" ry="1.0" transform="rotate(158 176.2 298.1)"/><ellipse cx="207.7" cy="361.9" rx="1.9" ry="1.1" transform="rotate(86 207.7 361.9)"/><ellipse cx="147.7" cy="360.3" rx="1.4" ry="1.0" transform="rotate(88 147.7 360.3)"/><ellipse cx="199.6" cy="384.6" rx="1.7" ry="1.0" transform="rotate(88 199.6 384.6)"/><ellipse cx="249.7" cy="350.8" rx="2.2" ry="0.8" transform="rotate(151 249.7 350.8)"/><ellipse cx="158.4" cy="314.0" rx="1.6" ry="1.0" transform="rotate(124 158.4 314.0)"/><ellipse cx="187.2" cy="385.3" rx="2.3" ry="1.0" transform="rotate(37 187.2 385.3)"/><ellipse cx="240.4" cy="375.0" rx="2.1" ry="0.8" transform="rotate(82 240.4 375.0)"/><ellipse cx="234.8" cy="373.9" rx="2.2" ry="1.1" transform="rotate(67 234.8 373.9)"/><ellipse cx="201.9" cy="389.0" rx="2.0" ry="0.9" transform="rotate(43 201.9 389.0)"/><ellipse cx="241.1" cy="321.0" rx="2.1" ry="1.0" transform="rotate(35 241.1 321.0)"/><ellipse cx="184.1" cy="322.7" rx="1.6" ry="0.9" transform="rotate(125 184.1 322.7)"/><ellipse cx="206.8" cy="316.8" rx="1.7" ry="0.8" transform="rotate(72 206.8 316.8)"/><ellipse cx="229.7" cy="358.6" rx="1.8" ry="1.1" transform="rotate(78 229.7 358.6)"/><ellipse cx="254.3" cy="331.3" rx="1.7" ry="1.0" transform="rotate(92 254.3 331.3)"/><ellipse cx="222.1" cy="322.9" rx="1.5" ry="1.1" transform="rotate(73 222.1 322.9)"/><ellipse cx="145.8" cy="395.8" rx="1.9" ry="1.1" transform="rotate(66 145.8 395.8)"/><ellipse cx="175.9" cy="352.6" rx="2.0" ry="1.0" transform="rotate(39 175.9 352.6)"/><ellipse cx="153.4" cy="389.2" rx="1.7" ry="1.0" transform="rotate(6 153.4 389.2)"/><ellipse cx="214.0" cy="320.3" rx="1.4" ry="0.9" transform="rotate(13 214.0 320.3)"/><ellipse cx="250.2" cy="349.7" rx="1.9" ry="0.9" transform="rotate(163 250.2 349.7)"/><ellipse cx="183.7" cy="314.1" rx="2.0" ry="0.8" transform="rotate(107 183.7 314.1)"/><ellipse cx="178.3" cy="337.1" rx="1.5" ry="0.9" transform="rotate(174 178.3 337.1)"/><ellipse cx="199.0" cy="331.3" rx="1.3" ry="0.8" transform="rotate(112 199.0 331.3)"/><ellipse cx="199.3" cy="402.5" rx="2.0" ry="1.1" transform="rotate(2 199.3 402.5)"/><ellipse cx="146.7" cy="327.2" rx="1.4" ry="1.0" transform="rotate(84 146.7 327.2)"/><ellipse cx="150.0" cy="374.9" rx="1.7" ry="0.8" transform="rotate(84 150.0 374.9)"/><ellipse cx="227.1" cy="321.2" rx="1.3" ry="1.0" transform="rotate(57 227.1 321.2)"/><ellipse cx="218.1" cy="392.1" rx="2.1" ry="0.8" transform="rotate(73 218.1 392.1)"/><ellipse cx="174.1" cy="332.4" rx="1.7" ry="0.8" transform="rotate(164 174.1 332.4)"/><ellipse cx="216.1" cy="349.2" rx="1.6" ry="0.8" transform="rotate(130 216.1 349.2)"/><ellipse cx="255.9" cy="361.9" rx="2.2" ry="0.9" transform="rotate(72 255.9 361.9)"/><ellipse cx="235.1" cy="299.4" rx="1.6" ry="0.8" transform="rotate(17 235.1 299.4)"/><ellipse cx="166.3" cy="395.3" rx="2.0" ry="1.0" transform="rotate(150 166.3 395.3)"/><ellipse cx="230.9" cy="352.4" rx="2.1" ry="0.9" transform="rotate(90 230.9 352.4)"/><ellipse cx="219.7" cy="328.1" rx="1.6" ry="1.1" transform="rotate(63 219.7 328.1)"/><ellipse cx="190.0" cy="324.2" rx="2.2" ry="0.8" transform="rotate(133 190.0 324.2)"/><ellipse cx="214.8" cy="300.2" rx="1.6" ry="1.0" transform="rotate(153 214.8 300.2)"/><ellipse cx="150.5" cy="300.5" rx="1.5" ry="1.0" transform="rotate(89 150.5 300.5)"/><ellipse cx="218.0" cy="348.9" rx="1.5" ry="1.0" transform="rotate(145 218.0 348.9)"/><ellipse cx="244.5" cy="388.4" rx="1.3" ry="0.9" transform="rotate(110 244.5 388.4)"/><ellipse cx="247.2" cy="307.0" rx="1.3" ry="1.1" transform="rotate(24 247.2 307.0)"/><ellipse cx="177.7" cy="375.6" rx="1.3" ry="1.0" transform="rotate(99 177.7 375.6)"/><ellipse cx="197.1" cy="316.5" rx="1.3" ry="0.8" transform="rotate(27 197.1 316.5)"/><ellipse cx="222.0" cy="306.9" rx="2.0" ry="1.0" transform="rotate(132 222.0 306.9)"/><ellipse cx="219.0" cy="369.2" rx="1.5" ry="0.8" transform="rotate(49 219.0 369.2)"/><ellipse cx="233.9" cy="331.4" rx="1.4" ry="1.0" transform="rotate(147 233.9 331.4)"/><ellipse cx="197.7" cy="403.8" rx="1.8" ry="1.0" transform="rotate(4 197.7 403.8)"/><ellipse cx="197.8" cy="300.8" rx="1.5" ry="1.0" transform="rotate(28 197.8 300.8)"/><ellipse cx="161.5" cy="302.1" rx="2.2" ry="1.1" transform="rotate(66 161.5 302.1)"/><ellipse cx="226.6" cy="399.9" rx="1.4" ry="1.1" transform="rotate(45 226.6 399.9)"/><ellipse cx="204.5" cy="355.6" rx="1.7" ry="1.1" transform="rotate(54 204.5 355.6)"/><ellipse cx="240.1" cy="367.6" rx="1.5" ry="0.8" transform="rotate(146 240.1 367.6)"/><ellipse cx="163.7" cy="394.6" rx="1.4" ry="1.1" transform="rotate(154 163.7 394.6)"/><ellipse cx="165.1" cy="402.3" rx="1.8" ry="1.0" transform="rotate(165 165.1 402.3)"/><ellipse cx="184.9" cy="311.6" rx="1.4" ry="0.8" transform="rotate(110 184.9 311.6)"/><ellipse cx="164.2" cy="328.8" rx="1.7" ry="0.9" transform="rotate(39 164.2 328.8)"/><ellipse cx="230.1" cy="300.3" rx="2.1" ry="0.8" transform="rotate(149 230.1 300.3)"/><ellipse cx="176.3" cy="338.4" rx="2.2" ry="0.9" transform="rotate(95 176.3 338.4)"/><ellipse cx="207.7" cy="400.7" rx="1.4" ry="1.1" transform="rotate(107 207.7 400.7)"/></g>
<g fill="#9a6a40" opacity="0.9"><ellipse cx="251.3" cy="399.8" rx="0.7" ry="0.4" transform="rotate(169 251.3 399.8)"/><ellipse cx="153.6" cy="387.5" rx="1.3" ry="0.8" transform="rotate(2 153.6 387.5)"/><ellipse cx="219.2" cy="329.3" rx="1.1" ry="0.7" transform="rotate(29 219.2 329.3)"/><ellipse cx="212.1" cy="359.4" rx="0.7" ry="0.4" transform="rotate(5 212.1 359.4)"/><ellipse cx="192.4" cy="338.7" rx="1.3" ry="0.8" transform="rotate(156 192.4 338.7)"/></g>
</g></g>
<rect x="144.1" y="295.3" width="112.1" height="110.3" fill="none" stroke="#222" stroke-width="2.60"/>
<line x1="218.9" y1="395.6" x2="246.9" y2="395.6" stroke="#000" stroke-width="2.40"/>
<defs><clipPath id="cl3"><rect x="266.5" y="295.3" width="110.0" height="109.3"/></clipPath></defs>
<g clip-path="url(#cl3)"><g filter="url(#mb)">
<rect x="263.5" y="292.3" width="116.0" height="115.3" fill="#d6d6e0"/>
<rect x="266.5" y="295.3" width="110.0" height="109.3" filter="url(#tb3)" opacity="0.50"/>
<path d="M260.5 289.1L269.7 292M260.5 289.1L261.5 292.5M261.5 292.5L268.5 295.9M261.5 292.5L256.6 300.5M256.6 300.5L256.1 305.4M256.1 305.4L264.7 305.5M256.1 305.4L258.6 315.4M258.6 315.4L263.3 312.3M258.6 315.4L254.3 315.9M254.3 315.9L259.9 322.4M254.3 315.9L253.1 326.9M253.1 326.9L259 328M251.7 329.2L251.2 334.9M251.2 334.9L252.3 341.9M252.3 341.9L260.9 346M250.1 351.4L258.6 352.9M250.1 351.4L251.1 356M251.1 356L255.2 357.6M251.1 356L250.2 363.2M250.2 363.2L255.9 363.2M249.8 367.5L246 375.3M246 375.3L248 382.3M248 382.3L252.5 379.5M242.9 391.6L250.4 395.3M269.7 292L275 288.8M268.5 295.9L266.8 300.5M266.8 300.5L264.7 305.5M264.7 305.5L263.3 312.3M263.3 312.3L270.1 316.4M259.9 322.4L267.9 322.4M259.9 322.4L259 328M259 328L269.7 328.3M259 328L261.9 330.3M261.9 330.3L269.6 333.2M261.9 330.3L258.8 341.9M258.8 341.9L268.4 338.6M258.8 341.9L260.9 346M260.9 346L258.6 352.9M258.6 352.9L261.3 352.8M258.6 352.9L255.2 357.6M255.9 363.2L256 369.9M256 369.9L259.8 371.9M256 369.9L255 373.7M255 373.7L258 374.1M255 373.7L252.5 379.5M252.5 379.5L260.7 384.9M252.5 379.5L251.7 391.1M251.7 391.1L256.1 389.1M251.7 391.1L250.4 395.3M250.4 395.3L255.3 398.2M275 288.8L279.2 292.8M275 288.8L272.4 296.9M272.4 296.9L272.9 302.2M272.9 302.2L277.2 303.9M272.9 302.2L271.1 307.9M271.1 307.9L276.9 310.8M270.1 316.4L275.3 318.2M270.1 316.4L267.9 322.4M267.9 322.4L275.4 320.4M267.9 322.4L269.7 328.3M269.7 328.3L275.5 331.7M269.7 328.3L269.6 333.2M268.4 338.6L274 344.5M264.4 361.9L263 364.2M263 364.2L259.8 371.9M259.8 371.9L266.6 369.2M259.8 371.9L258 374.1M258 374.1L260.7 384.9M260.7 384.9L266 382.6M256.1 389.1L261.6 393.4M256.1 389.1L255.3 398.2M255.3 398.2L263.1 399.7M281 297L287.9 297.9M281 297L277.2 303.9M277.2 303.9L283.8 304.7M277.2 303.9L276.9 310.8M276.9 310.8L285.2 313.7M276.9 310.8L275.3 318.2M275.3 318.2L284.3 318.5M275.4 320.4L275.5 331.7M275.5 331.7L274.4 335.6M274.4 335.6L274 344.5M274 344.5L268.9 347M268.9 347L268.1 352.3M268.1 352.3L277.3 356.4M268.1 352.3L268.1 359.6M268.1 359.6L274.4 363.8M269 368.7L274.4 369.2M269 368.7L266.6 369.2M266.6 369.2L271.8 371.9M266.6 369.2L268.7 381M268.7 381L270.1 381.3M268.7 381L266 382.6M266 382.6L271.5 389.1M266 382.6L261.6 393.4M261.6 393.4L271.6 391.5M263.1 399.7L269.2 397.7M288.3 294.7L292.4 291.4M288.3 294.7L287.9 297.9M287.9 297.9L283.8 304.7M283.8 304.7L291.1 307.9M283.8 304.7L285.2 313.7M285.2 313.7L289.5 312.2M285.2 313.7L284.3 318.5M282.2 322.1L289.8 322.9M282.2 322.1L281.7 331.3M281.7 331.3L287.4 329M281.7 331.3L279.8 337.9M279.8 337.9L287.6 336.6M279.8 337.9L281 345.9M281 345.9L288 344.3M281 345.9L276.1 347.2M276.1 347.2L285.3 350.5M276.1 347.2L277.3 356.4M277.3 356.4L284.9 358M277.3 356.4L274.4 363.8M274.4 363.8L283.7 359.8M274.4 363.8L274.4 369.2M274.4 369.2L271.8 371.9M270.1 381.3L279.8 383.4M270.1 381.3L271.5 389.1M271.5 389.1L279.2 390.6M271.5 389.1L271.6 391.5M271.6 391.5L277.8 396.6M271.6 391.5L269.2 397.7M269.2 397.7L276.2 398.4M292.4 291.4L293.6 299.4M293.6 299.4L291.1 307.9M291.1 307.9L296.2 304.5M291.1 307.9L289.5 312.2M289.5 312.2L296.9 314.3M289.5 312.2L288.8 317.8M288.8 317.8L295.9 317.2M288.8 317.8L289.8 322.9M289.8 322.9L293.5 328.6M289.8 322.9L287.4 329M287.4 329L294.9 335M287.4 329L287.6 336.6M287.6 336.6L291.7 339.8M287.6 336.6L288 344.3M288 344.3L290.7 343.7M288 344.3L285.3 350.5M285.3 350.5L284.9 358M284.9 358L289.2 355.7M284.9 358L283.7 359.8M283.7 359.8L290.7 365.4M283.7 359.8L279.3 370M279.3 370L279.5 377.9M279.5 377.9L286.3 378.9M279.5 377.9L279.8 383.4M279.8 383.4L287.6 381.6M279.2 390.6L283.5 388.7M279.2 390.6L277.8 396.6M277.8 396.6L283.3 396.7M298.4 293.5L301 303M301 303L306.5 306.2M301 303L296.2 304.5M296.2 304.5L305.2 310.6M296.2 304.5L296.9 314.3M296.9 314.3L302.6 312.7M296.9 314.3L295.9 317.2M295.9 317.2L302.3 322.1M293.5 328.6L294.9 335M294.9 335L301.2 331.5M291.7 339.8L297.6 337.4M291.7 339.8L290.7 343.7M290.7 343.7L297.9 344.7M290.7 343.7L293.7 350.1M293.7 350.1L289.2 355.7M289.2 355.7L295.4 360.8M290.7 365.4L297.3 368.7M290.7 365.4L288.1 372.4M288.1 372.4L296.2 368.6M288.1 372.4L286.3 378.9M286.3 378.9L291.6 380.4M287.6 381.6L283.5 388.7M283.5 388.7L290.2 388.1M283.5 388.7L283.3 396.7M283.3 396.7L288.3 396M283.3 396.7L283.4 402.9M307.5 295.3L311.8 294.6M307.5 295.3L306.5 306.2M306.5 306.2L311.2 306.7M306.5 306.2L305.2 310.6M305.2 310.6L311.9 311M302.6 312.7L308 315.8M302.6 312.7L302.3 322.1M302.3 322.1L308.3 323.5M302.3 322.1L302.8 327.9M302.8 327.9L301.2 331.5M301.2 331.5L305.7 336.5M301.2 331.5L297.6 337.4M297.6 337.4L303.9 338.8M297.6 337.4L297.9 344.7M297.9 344.7L306.3 350.2M297.9 344.7L295.8 351.3M295.8 351.3L303.4 351.9M295.8 351.3L295.4 360.8M295.4 360.8L305.4 361.2M295.4 360.8L297.3 368.7M297.3 368.7L299.4 369M297.3 368.7L296.2 368.6M296.2 368.6L301.6 371.4M296.2 368.6L291.6 380.4M291.6 380.4L300.2 378M293.1 386.2L299.5 384.6M293.1 386.2L290.2 388.1M290.2 388.1L297.1 392.6M288.3 396L295.6 399.4M288.3 396L288.8 402.2M288.8 402.2L296.8 406.8M311.8 294.6L317.6 301.1M311.8 294.6L311.2 306.7M311.2 306.7L320.2 303.7M311.2 306.7L311.9 311M311.9 311L308 315.8M308 315.8L315.3 315.8M308 315.8L308.3 323.5M308.3 323.5L318 326.5M308.3 323.5L307.3 330.8M307.3 330.8L312.9 332.5M307.3 330.8L305.7 336.5M305.7 336.5L311 337.3M305.7 336.5L303.9 338.8M303.9 338.8L313 345.2M303.9 338.8L306.3 350.2M306.3 350.2L303.4 351.9M303.4 351.9L312.4 355.4M303.4 351.9L305.4 361.2M305.4 361.2L311.9 361.5M299.4 369L309.5 369.5M299.4 369L301.6 371.4M301.6 371.4L306.7 375.8M300.2 378L308 378.2M300.2 378L299.5 384.6M299.5 384.6L297.1 392.6M297.1 392.6L305.5 389.7M297.1 392.6L295.6 399.4M295.6 399.4L296.8 406.8M296.8 406.8L304 403.6M317.6 301.1L320.2 303.7M320.2 303.7L325.7 308.6M320.2 303.7L319.9 312.1M319.9 312.1L324.1 315.3M319.9 312.1L315.3 315.8M315.3 315.8L318 326.5M312.9 332.5L311 337.3M311 337.3L320.8 337M311 337.3L313 345.2M313 345.2L313.5 350.9M313.5 350.9L316.2 350.8M312.4 355.4L315.8 359.3M312.4 355.4L311.9 361.5M311.9 361.5L309.5 369.5M309.5 369.5L313.4 368.8M309.5 369.5L306.7 375.8M306.7 375.8L314.4 373.7M306 386.3L305.5 389.7M305.5 389.7L313.2 391.7M305.5 389.7L304.7 398.4M304.7 398.4L312.3 401.1M304.7 398.4L304 403.6M323.8 299.8L330.6 300.8M325.7 308.6L324.1 315.3M324.1 315.3L330.2 316.3M324.1 315.3L321.8 316.5M321.5 326.3L330.1 327.7M321.5 326.3L323 329.2M323 329.2L327.8 335.8M320.8 337L324.7 338.8M319.7 341.6L326.4 342.3M316.2 350.8L326.5 353M316.2 350.8L315.8 359.3M315.8 359.3L322.5 359.4M316.3 361.8L322.3 365.4M316.3 361.8L313.4 368.8M313.4 368.8L321.5 372.5M313.4 368.8L314.4 373.7M314.4 373.7L321.1 373.9M314.4 373.7L315.5 381.9M315.5 381.9L313.3 389M313.3 389L318.5 391.6M313.3 389L313.2 391.7M313.2 391.7L319.2 392.6M313.2 391.7L312.3 401.1M312.3 401.1L317.9 404.6M330.6 300.8L339.1 303.2M330.6 300.8L330.1 304.8M330.1 304.8L330.2 316.3M330.2 316.3L338.1 315M330.2 316.3L330.7 323.4M330.7 323.4L338.3 320M330.7 323.4L330.1 327.7M330.1 327.7L336.9 330.6M330.1 327.7L327.8 335.8M327.8 335.8L334.5 331.7M327.8 335.8L324.7 338.8M324.7 338.8L333.4 337.9M324.7 338.8L326.4 342.3M326.4 342.3L332.8 344.4M326.4 342.3L326.5 353M326.5 353L331.4 352.3M322.5 359.4L329.2 359.4M322.5 359.4L322.3 365.4M322.3 365.4L329 367.7M321.5 372.5L327.8 371.9M321.1 373.9L328.7 375.8M321.1 373.9L321.2 381.2M321.2 381.2L326.6 382M321.2 381.2L318.5 391.6M318.5 391.6L325.1 390.2M319.2 392.6L325.7 399.7M319.2 392.6L317.9 404.6M317.9 404.6L321.7 404.6M315.6 406L321.7 407.1M335.6 311L346.8 313.5M335.6 311L338.1 315M338.1 315L340.9 319.3M338.1 315L338.3 320M338.3 320L345.2 321.1M338.3 320L336.9 330.6M336.9 330.6L342.6 329.7M336.9 330.6L334.5 331.7M334.5 331.7L338.8 336.3M334.5 331.7L333.4 337.9M333.4 337.9L337.4 340.2M333.4 337.9L332.8 344.4M332.8 344.4L338.5 349.7M332.8 344.4L331.4 352.3M331.4 352.3L337.5 352.7M331.4 352.3L329.2 359.4M329.2 359.4L336.5 360.5M329.2 359.4L329 367.7M329 367.7L327.8 371.9M327.8 371.9L328.7 375.8M326.6 382L335.5 383M326.6 382L325.1 390.2M325.1 390.2L332.2 392M325.1 390.2L325.7 399.7M325.7 399.7L328.9 399.1M325.7 399.7L321.7 404.6M321.7 404.6L328.3 401.1M321.7 407.1L326 410.6M346.6 303.2L349.9 305.8M346.6 303.2L346.8 313.5M346.8 313.5L352.6 309.5M340.9 319.3L345.2 321.1M345.2 321.1L348.1 325.9M345.2 321.1L342.6 329.7M342.6 329.7L338.8 336.3M338.8 336.3L348.1 338.5M338.8 336.3L337.4 340.2M337.4 340.2L345.9 341.4M338.5 349.7L345 349.9M338.5 349.7L337.5 352.7M337.5 352.7L342.2 352.3M337.5 352.7L336.5 360.5M336.5 360.5L342.5 358.6M336.5 360.5L335.6 363.9M335.6 363.9L343.1 371M335.6 363.9L336.8 371.3M336.8 371.3L341.5 373M336.8 371.3L332.3 376.9M332.3 376.9L339.4 382.5M332.3 376.9L335.5 383M335.5 383L332.2 392M332.2 392L328.9 399.1M328.9 399.1L328.3 401.1M328.3 401.1L338.6 402.7M326 410.6L333.6 409.1M349.9 305.8L358.2 307.2M352.6 309.5L353.2 316.2M353.2 316.2L358.3 322.7M353.2 316.2L348.1 325.9M348.1 325.9L357.5 327.8M348.1 325.9L346.8 332M346.8 332L355.2 331.5M345.9 341.4L351.5 343M345.9 341.4L345 349.9M345 349.9L349.1 352.8M342.2 352.3L342.5 358.6M342.5 358.6L347.9 362.1M342.5 358.6L343.1 371M343.1 371L346.4 369.7M343.1 371L341.5 373M341.5 373L346.6 376M341.5 373L339.4 382.5M340.3 387.1L347.7 387.9M340.3 387.1L338.5 395.4M338.5 395.4L346.7 395.5M338.5 395.4L338.1 397.2M358.2 307.2L359.8 311.9M359.8 311.9L366.7 311.7M359.8 311.9L358.3 322.7M358.3 322.7L364.9 320.5M358.3 322.7L357.5 327.8M357.5 327.8L355.2 331.5M355.2 331.5L362 331.5M355.2 331.5L352.2 336.9M352.2 336.9L351.5 343M351.5 343L360.2 347.1M351.5 343L349.1 352.8M349.1 352.8L359.6 351.7M350.8 354L356.6 355.9M347.9 362.1L357.7 364.4M347.9 362.1L346.4 369.7M346.4 369.7L352.6 371.1M346.4 369.7L346.6 376M346.6 376L355.2 378.6M346 380.7L352.9 383.9M347.7 387.9L352.5 390.9M347.7 387.9L346.7 395.5M346.7 395.5L350.3 393.2M346.7 395.5L344.7 401.9M344.7 401.9L352.2 400.3M344.7 401.9L343.2 405.3M343.2 405.3L346.5 408.3M343.2 405.3L343.1 409.9M363.8 309.7L374.9 307.2M363.8 309.7L366.7 311.7M366.7 311.7L373.5 314.7M364.9 320.5L368.2 320.1M364.9 320.5L360.5 329.1M360.5 329.1L367.3 324.6M360.5 329.1L362 331.5M363 336.9L360.2 347.1M360.2 347.1L363.6 344.5M360.2 347.1L359.6 351.7M359.6 351.7L363.5 350.2M359.6 351.7L356.6 355.9M356.6 355.9L361.2 358.7M356.6 355.9L357.7 364.4M357.7 364.4L361 362.6M357.7 364.4L352.6 371.1M352.6 371.1L358.9 373.2M352.6 371.1L355.2 378.6M355.2 378.6L359.1 376.9M355.2 378.6L352.9 383.9M352.9 383.9L361.6 382.1M352.9 383.9L352.5 390.9M352.5 390.9L357.7 392.2M352.5 390.9L350.3 393.2M350.3 393.2L358.8 394.4M350.3 393.2L352.2 400.3M352.2 400.3L356.5 404.8M352.2 400.3L346.5 408.3M349.3 416.5L352.8 417.4M374.9 307.2L373.5 314.7M373.5 314.7L368.2 320.1M368.2 320.1L367.3 324.6M367.3 324.6L366 334.3M364.3 341.7L363.6 344.5M363.6 344.5L363.5 350.2M361.2 358.7L361 362.6M361 362.6L358.9 373.2M358.9 373.2L359.1 376.9M359.1 376.9L361.6 382.1M361.6 382.1L357.7 392.2M357.7 392.2L358.8 394.4M356.2 407.6L352.8 417.4" fill="none" stroke="#f4f2f6" stroke-width="0.8" opacity="0.70"/>
<path d="M322.6 295.2L322.8 297.9L322.4 301.7L321.5 306.1L321 310.6L321.3 314.5L321.4 317.2L321.8 316.1L322.7 312.8L323.6 308.6L323.7 304.1L323.8 299.8L324.5 296.5z" fill="#f8f6f2"/>
<path d="M346.6 355.4L346.2 359.7L345.7 366.1L344.9 373.4L344.7 380.8L345.3 387.1L345.6 391.5L346 389.6L346.8 384.2L347.6 377.2L347.4 369.7L347.1 362.8L347.1 357.3z" fill="#f8f6f2"/>
<g fill="#4f5fc0" opacity="0.75"><ellipse cx="346.5" cy="296.7" rx="1.7" ry="0.8" transform="rotate(79 346.5 296.7)"/><ellipse cx="334.9" cy="334.3" rx="1.8" ry="0.8" transform="rotate(16 334.9 334.3)"/><ellipse cx="319.7" cy="321.9" rx="1.6" ry="1.0" transform="rotate(153 319.7 321.9)"/><ellipse cx="342.4" cy="342.0" rx="2.2" ry="0.8" transform="rotate(52 342.4 342.0)"/><ellipse cx="270.3" cy="398.0" rx="1.8" ry="1.0" transform="rotate(101 270.3 398.0)"/><ellipse cx="360.7" cy="317.4" rx="1.6" ry="1.0" transform="rotate(71 360.7 317.4)"/><ellipse cx="326.4" cy="367.1" rx="1.7" ry="0.8" transform="rotate(75 326.4 367.1)"/><ellipse cx="346.7" cy="351.0" rx="2.3" ry="0.9" transform="rotate(104 346.7 351.0)"/><ellipse cx="343.8" cy="387.0" rx="1.8" ry="1.1" transform="rotate(85 343.8 387.0)"/><ellipse cx="281.5" cy="309.9" rx="2.1" ry="0.8" transform="rotate(154 281.5 309.9)"/><ellipse cx="309.2" cy="328.6" rx="2.2" ry="1.0" transform="rotate(52 309.2 328.6)"/><ellipse cx="285.1" cy="318.5" rx="1.8" ry="0.9" transform="rotate(151 285.1 318.5)"/><ellipse cx="365.4" cy="317.4" rx="1.8" ry="0.8" transform="rotate(128 365.4 317.4)"/><ellipse cx="366.7" cy="383.0" rx="2.3" ry="1.0" transform="rotate(127 366.7 383.0)"/><ellipse cx="282.1" cy="363.6" rx="1.8" ry="0.9" transform="rotate(78 282.1 363.6)"/><ellipse cx="278.1" cy="368.4" rx="1.6" ry="0.8" transform="rotate(111 278.1 368.4)"/><ellipse cx="332.6" cy="396.9" rx="1.4" ry="0.8" transform="rotate(64 332.6 396.9)"/><ellipse cx="335.6" cy="344.5" rx="1.7" ry="0.8" transform="rotate(50 335.6 344.5)"/><ellipse cx="348.2" cy="363.1" rx="1.7" ry="1.1" transform="rotate(162 348.2 363.1)"/><ellipse cx="374.4" cy="373.6" rx="2.2" ry="0.8" transform="rotate(86 374.4 373.6)"/><ellipse cx="304.0" cy="384.7" rx="1.6" ry="1.0" transform="rotate(92 304.0 384.7)"/><ellipse cx="274.4" cy="302.7" rx="1.8" ry="1.0" transform="rotate(125 274.4 302.7)"/><ellipse cx="370.6" cy="398.9" rx="1.5" ry="0.8" transform="rotate(34 370.6 398.9)"/><ellipse cx="323.9" cy="362.4" rx="2.1" ry="0.8" transform="rotate(113 323.9 362.4)"/><ellipse cx="325.9" cy="349.7" rx="1.4" ry="1.0" transform="rotate(82 325.9 349.7)"/><ellipse cx="315.5" cy="403.7" rx="1.4" ry="0.9" transform="rotate(126 315.5 403.7)"/><ellipse cx="306.0" cy="343.3" rx="2.2" ry="1.0" transform="rotate(162 306.0 343.3)"/><ellipse cx="372.0" cy="330.5" rx="1.5" ry="1.1" transform="rotate(66 372.0 330.5)"/><ellipse cx="318.6" cy="312.8" rx="2.2" ry="0.8" transform="rotate(21 318.6 312.8)"/><ellipse cx="274.4" cy="322.6" rx="1.4" ry="1.0" transform="rotate(144 274.4 322.6)"/><ellipse cx="291.6" cy="393.3" rx="1.8" ry="1.0" transform="rotate(73 291.6 393.3)"/><ellipse cx="348.5" cy="354.3" rx="2.0" ry="1.1" transform="rotate(140 348.5 354.3)"/><ellipse cx="363.8" cy="351.4" rx="2.0" ry="0.8" transform="rotate(165 363.8 351.4)"/><ellipse cx="351.4" cy="301.5" rx="1.9" ry="0.9" transform="rotate(74 351.4 301.5)"/><ellipse cx="267.4" cy="313.3" rx="1.3" ry="1.0" transform="rotate(138 267.4 313.3)"/><ellipse cx="337.4" cy="337.8" rx="1.5" ry="1.0" transform="rotate(57 337.4 337.8)"/><ellipse cx="297.8" cy="345.2" rx="1.7" ry="0.8" transform="rotate(38 297.8 345.2)"/><ellipse cx="339.9" cy="317.7" rx="1.6" ry="0.8" transform="rotate(118 339.9 317.7)"/><ellipse cx="321.0" cy="352.3" rx="1.4" ry="0.9" transform="rotate(105 321.0 352.3)"/><ellipse cx="327.3" cy="333.7" rx="2.1" ry="0.8" transform="rotate(31 327.3 333.7)"/><ellipse cx="328.4" cy="398.5" rx="2.2" ry="0.9" transform="rotate(125 328.4 398.5)"/><ellipse cx="351.0" cy="322.9" rx="1.3" ry="0.8" transform="rotate(5 351.0 322.9)"/><ellipse cx="283.9" cy="331.2" rx="1.3" ry="0.9" transform="rotate(75 283.9 331.2)"/><ellipse cx="298.3" cy="376.4" rx="1.7" ry="1.0" transform="rotate(83 298.3 376.4)"/><ellipse cx="305.1" cy="377.4" rx="1.4" ry="1.0" transform="rotate(76 305.1 377.4)"/><ellipse cx="294.1" cy="357.1" rx="1.7" ry="1.0" transform="rotate(9 294.1 357.1)"/><ellipse cx="323.5" cy="400.9" rx="1.8" ry="0.9" transform="rotate(25 323.5 400.9)"/><ellipse cx="325.3" cy="333.5" rx="1.7" ry="1.0" transform="rotate(119 325.3 333.5)"/><ellipse cx="330.0" cy="381.4" rx="2.2" ry="0.9" transform="rotate(7 330.0 381.4)"/><ellipse cx="305.2" cy="324.3" rx="1.9" ry="0.8" transform="rotate(5 305.2 324.3)"/><ellipse cx="324.2" cy="350.9" rx="1.4" ry="1.1" transform="rotate(6 324.2 350.9)"/><ellipse cx="372.8" cy="302.1" rx="2.2" ry="0.9" transform="rotate(36 372.8 302.1)"/><ellipse cx="362.5" cy="300.1" rx="2.3" ry="1.1" transform="rotate(160 362.5 300.1)"/><ellipse cx="370.0" cy="375.5" rx="2.2" ry="0.9" transform="rotate(151 370.0 375.5)"/><ellipse cx="293.5" cy="311.5" rx="1.5" ry="0.8" transform="rotate(95 293.5 311.5)"/><ellipse cx="328.1" cy="379.7" rx="1.4" ry="0.9" transform="rotate(5 328.1 379.7)"/><ellipse cx="292.6" cy="350.1" rx="2.3" ry="1.0" transform="rotate(146 292.6 350.1)"/><ellipse cx="346.2" cy="309.0" rx="1.6" ry="0.8" transform="rotate(112 346.2 309.0)"/><ellipse cx="305.3" cy="381.1" rx="1.5" ry="1.0" transform="rotate(81 305.3 381.1)"/><ellipse cx="347.1" cy="299.8" rx="2.1" ry="0.9" transform="rotate(165 347.1 299.8)"/><ellipse cx="301.7" cy="322.8" rx="1.3" ry="0.8" transform="rotate(3 301.7 322.8)"/><ellipse cx="311.8" cy="333.2" rx="2.2" ry="0.8" transform="rotate(107 311.8 333.2)"/><ellipse cx="364.0" cy="386.9" rx="1.9" ry="1.0" transform="rotate(95 364.0 386.9)"/><ellipse cx="361.1" cy="311.1" rx="1.7" ry="0.8" transform="rotate(52 361.1 311.1)"/><ellipse cx="276.9" cy="392.5" rx="1.6" ry="1.1" transform="rotate(0 276.9 392.5)"/><ellipse cx="363.0" cy="319.4" rx="1.8" ry="0.9" transform="rotate(3 363.0 319.4)"/><ellipse cx="368.3" cy="371.1" rx="1.8" ry="0.8" transform="rotate(153 368.3 371.1)"/><ellipse cx="345.2" cy="365.2" rx="1.5" ry="0.8" transform="rotate(131 345.2 365.2)"/><ellipse cx="275.5" cy="367.2" rx="1.8" ry="0.8" transform="rotate(108 275.5 367.2)"/><ellipse cx="300.5" cy="358.5" rx="2.2" ry="1.1" transform="rotate(137 300.5 358.5)"/><ellipse cx="313.3" cy="372.2" rx="1.5" ry="0.8" transform="rotate(26 313.3 372.2)"/><ellipse cx="319.1" cy="340.1" rx="1.9" ry="1.0" transform="rotate(22 319.1 340.1)"/><ellipse cx="307.2" cy="336.8" rx="1.8" ry="0.8" transform="rotate(124 307.2 336.8)"/><ellipse cx="315.3" cy="397.2" rx="1.7" ry="1.0" transform="rotate(94 315.3 397.2)"/><ellipse cx="345.5" cy="302.7" rx="2.3" ry="1.1" transform="rotate(137 345.5 302.7)"/></g>
<g fill="#9a6a40" opacity="0.9"><ellipse cx="292.7" cy="354.8" rx="1.2" ry="0.7" transform="rotate(86 292.7 354.8)"/><ellipse cx="332.9" cy="363.7" rx="1.0" ry="0.6" transform="rotate(36 332.9 363.7)"/><ellipse cx="267.9" cy="386.8" rx="1.1" ry="0.7" transform="rotate(25 267.9 386.8)"/><ellipse cx="292.3" cy="404.1" rx="1.3" ry="0.8" transform="rotate(162 292.3 404.1)"/><ellipse cx="358.5" cy="347.4" rx="1.5" ry="0.9" transform="rotate(107 358.5 347.4)"/><ellipse cx="283.1" cy="364.7" rx="1.7" ry="1.0" transform="rotate(31 283.1 364.7)"/><ellipse cx="324.0" cy="376.3" rx="1.5" ry="0.9" transform="rotate(45 324.0 376.3)"/><ellipse cx="273.5" cy="378.2" rx="1.4" ry="0.9" transform="rotate(104 273.5 378.2)"/><ellipse cx="299.6" cy="298.7" rx="1.7" ry="1.0" transform="rotate(135 299.6 298.7)"/><ellipse cx="318.5" cy="373.9" rx="1.7" ry="1.0" transform="rotate(140 318.5 373.9)"/><ellipse cx="345.1" cy="396.0" rx="1.3" ry="0.8" transform="rotate(135 345.1 396.0)"/><ellipse cx="354.6" cy="343.9" rx="1.7" ry="1.0" transform="rotate(151 354.6 343.9)"/><ellipse cx="363.2" cy="306.0" rx="1.0" ry="0.6" transform="rotate(119 363.2 306.0)"/><ellipse cx="290.4" cy="400.8" rx="1.3" ry="0.8" transform="rotate(119 290.4 400.8)"/><ellipse cx="335.4" cy="328.2" rx="1.4" ry="0.8" transform="rotate(141 335.4 328.2)"/><ellipse cx="308.9" cy="333.7" rx="1.4" ry="0.9" transform="rotate(95 308.9 333.7)"/></g>
</g></g>
<rect x="266.5" y="295.3" width="110.0" height="109.3" fill="none" stroke="#222" stroke-width="2.60"/>
<line x1="341.0" y1="395.5" x2="368.5" y2="395.5" stroke="#000" stroke-width="2.40"/>
<defs><clipPath id="cl4"><rect x="387.6" y="295.3" width="110.0" height="109.3"/></clipPath></defs>
<g clip-path="url(#cl4)"><g filter="url(#mb)">
<rect x="384.6" y="292.3" width="116.0" height="115.3" fill="#d9d8e4"/>
<rect x="387.6" y="295.3" width="110.0" height="109.3" filter="url(#tb3)" opacity="0.50"/>
<path d="M383.7 289.7L386 289.7M383.7 289.7L379.7 292.8M379.7 292.8L389.2 295.9M380.8 302.4L376.8 304M380.5 310.8L385.2 311.1M380.5 310.8L378.1 318.1M378.1 318.1L383.4 317.9M376.5 327.6L380.8 326.9M376.5 327.6L375.6 330.8M375.6 330.8L373.1 338.2M373.1 338.2L373.9 343.4M373.9 343.4L372 350.3M372 350.3L379.2 352.8M370.2 354.1L371 360.1M371 360.1L376.8 365.1M371 360.1L369.5 370.7M369.5 370.7L374.5 371.9M369.5 370.7L370.2 373.7M366.4 383.7L375.6 384.9M366.4 383.7L365 390.3M365 390.3L373 388.8M363.4 395.5L373.1 395.6M386 289.7L392.3 292.4M386 289.7L389.2 295.9M389.2 295.9L392.6 296.1M389.2 295.9L386.9 304.2M386.9 304.2L393.4 300.2M386.9 304.2L388.6 306.2M388.6 306.2L392.6 309.6M385.2 311.1L392.8 316.2M385.2 311.1L383.4 317.9M383.4 317.9L389.2 321.6M383.4 317.9L380.8 326.9M380.8 326.9L379.9 330.1M379.9 330.1L377.8 340.3M377.8 340.3L378.8 342.2M378.8 342.2L384.8 344.9M378.8 342.2L379.2 352.8M379.2 352.8L378.5 357.9M378.5 357.9L383.2 356.8M378.5 357.9L376.8 365.1M376.8 365.1L381.8 366.6M376.8 365.1L374.5 371.9M374.5 371.9L380.6 368.9M374.5 371.9L375.6 378.6M375.6 378.6L379.1 377M375.6 378.6L375.6 384.9M375.6 384.9L379.1 383.6M373 388.8L373.1 395.6M392.3 292.4L403.8 292.3M392.3 292.4L392.6 296.1M392.6 296.1L400.2 298M392.6 296.1L393.4 300.2M393.4 300.2L402.2 304.4M393.4 300.2L392.6 309.6M392.6 309.6L398.6 308.3M392.8 316.2L397 318M392.8 316.2L389.2 321.6M389.2 321.6L397.7 321.4M389.2 321.6L391.6 328.9M391.6 328.9L398.4 327M391.6 328.9L390.7 331.2M390.7 331.2L393.9 336.7M390.7 331.2L388.7 338.5M388.7 338.5L384.8 344.9M384.8 344.9L390.4 347.4M384.1 349.6L392.1 350.8M384.1 349.6L383.2 356.8M383.2 356.8L389.9 362.2M383.2 356.8L381.8 366.6M381.8 366.6L387.9 363.7M381.8 366.6L380.6 368.9M380.6 368.9L379.1 377M379.1 377L386.9 379.6M379.1 377L379.1 383.6M379.1 383.6L388.5 382M378.4 387.7L386.2 388.7M378.9 393.4L386.8 397.5M403.8 292.3L407.4 294.6M403.8 292.3L400.2 298M400.2 298L409.6 296.6M400.2 298L402.2 304.4M402.2 304.4L404.5 303.7M402.2 304.4L398.6 308.3M398.6 308.3L397 318M397 318L403.7 320.5M397.7 321.4L404 326.9M397.7 321.4L398.4 327M398.4 327L403.5 328.5M398.4 327L393.9 336.7M393.9 336.7L402.3 334.3M393.9 336.7L396.2 341.5M396.2 341.5L401.4 340.4M396.2 341.5L390.4 347.4M390.4 347.4L402.1 347.9M392.1 350.8L401 353.6M389.9 362.2L396.4 359.3M389.9 362.2L387.9 363.7M387.9 363.7L398.1 369.8M387.9 363.7L387 373.9M387 373.9L396.9 374.3M386.9 379.6L393.1 377.9M388.5 382L390.9 388.3M388.5 382L386.2 388.7M386.2 388.7L390.6 393.3M386.2 388.7L386.8 397.5M386.8 397.5L389.4 396.7M407.4 294.6L415.9 292.1M409.6 296.6L404.5 303.7M404.5 303.7L412.5 303.1M404.5 303.7L404.6 310.9M404.6 310.9L412.7 315.9M403.7 320.5L411.9 316M403.7 320.5L404 326.9M404 326.9L403.5 328.5M403.5 328.5L407.9 330.5M403.5 328.5L402.3 334.3M402.3 334.3L409.3 338.7M402.3 334.3L401.4 340.4M401.4 340.4L408.6 346.9M401.4 340.4L402.1 347.9M402.1 347.9L405.9 353M402.1 347.9L401 353.6M401 353.6L403.2 355.9M401 353.6L396.4 359.3M396.4 359.3L404.8 365.3M398.1 369.8L403.2 368.2M396.9 374.3L404.5 375.1M396.9 374.3L393.1 377.9M393.1 377.9L399.1 380.4M390.9 388.3L399 388.1M390.6 393.3L389.4 396.7M389.4 396.7L397.1 402.1M415.9 292.1L411.4 302.2M411.4 302.2L419.7 304.1M411.4 302.2L412.5 303.1M412.5 303.1L421.3 310M412.5 303.1L412.7 315.9M412.7 315.9L411.9 316M411.9 316L416.3 316.8M411.9 316L409.6 325.7M409.6 325.7L414.7 323.1M409.6 325.7L407.9 330.5M407.9 330.5L415.4 335.3M407.9 330.5L409.3 338.7M409.3 338.7L415 340.6M408.6 346.9L414.8 348M408.6 346.9L405.9 353M405.9 353L403.2 355.9M404.8 365.3L412.1 363.3M404.8 365.3L403.2 368.2M403.2 368.2L408.4 367.7M403.2 368.2L404.5 375.1M404.5 375.1L408.7 373M404.5 375.1L399.1 380.4M399.1 380.4L410.2 381.8M399.1 380.4L399 388.1M399 388.1L401.5 391M401.5 391L403.2 395.9M401.5 391L397.1 402.1M397.1 402.1L405.2 398.4M423.1 297.3L427.3 299.3M423.1 297.3L419.7 304.1M419.7 304.1L425.1 300.8M419.7 304.1L421.3 310M421.3 310L424.6 309.1M421.3 310L418.9 314.8M418.9 314.8L423.4 317M418.9 314.8L416.3 316.8M416.3 316.8L423.2 324M414.7 323.1L421.7 325.5M414.7 323.1L415.4 335.3M415.4 335.3L420.4 330.5M415 340.6L419.7 340.2M415 340.6L414.8 348M414.8 348L420.5 347.7M411.7 351L418 352.8M411.7 351L414.3 356.8M414.3 356.8L412.1 363.3M412.1 363.3L408.4 367.7M408.4 367.7L418.9 372.4M408.4 367.7L408.7 373M408.7 373L415.6 377.3M408.7 373L410.2 381.8M410.2 381.8L412.7 381.4M410.2 381.8L405.3 390.1M405.3 390.1L414.9 388.4M405.3 390.1L403.2 395.9M403.2 395.9L412.3 398.5M403.2 395.9L405.2 398.4M405.2 398.4L410 401.7M427.3 299.3L425.1 300.8M425.1 300.8L435.3 306.7M425.1 300.8L424.6 309.1M423.4 317L431.6 319M423.4 317L423.2 324M423.2 324L429.6 321M423.2 324L421.7 325.5M421.7 325.5L428.1 330.8M421.7 325.5L420.4 330.5M420.4 330.5L427.3 332.4M419.7 340.2L428.4 342.7M419.7 340.2L420.5 347.7M420.5 347.7L418 352.8M418 352.8L427.3 353.2M418 352.8L421.3 358M421.3 358L422.7 360.6M421.3 358L416.5 362.7M416.5 362.7L418.9 372.4M418.9 372.4L424.7 369.8M418.9 372.4L415.6 377.3M415.6 377.3L420.8 377M415.6 377.3L412.7 381.4M412.7 381.4L422.6 383.8M414.9 388.4L419.2 388.8M414.9 388.4L412.3 398.5M412.3 398.5L418.1 397M412.3 398.5L410 401.7M410 401.7L419.1 405.8M436.1 299.4L439.4 298.8M435.3 306.7L443.2 304.9M433.7 308.5L437.5 311.9M431.6 319L440.8 315M429.6 321L435.6 322.1M429.6 321L428.1 330.8M428.1 330.8L436.3 327.5M428.1 330.8L427.3 332.4M427.3 332.4L433.6 335.3M427.3 332.4L428.4 342.7M428.4 342.7L437.1 343.3M428.4 342.7L426.5 348.9M426.5 348.9L432.1 351.3M426.5 348.9L427.3 353.2M427.3 353.2L432 352.4M427.3 353.2L422.7 360.6M422.7 360.6L430.2 357.8M422.7 360.6L424.4 369.1M424.4 369.1L433 367.9M424.7 369.8L420.8 377M422.6 383.8L427.4 383.7M419.2 388.8L424.5 393M418.1 397L427.4 401.5M418.1 397L419.1 405.8M443.2 304.9L449.9 303.7M443.2 304.9L437.5 311.9M437.5 311.9L444.2 314.5M437.5 311.9L440.8 315M440.8 315L435.6 322.1M435.6 322.1L441.9 325.2M435.6 322.1L436.3 327.5M436.3 327.5L444.7 331.9M436.3 327.5L433.6 335.3M433.6 335.3L442.3 339.2M437.1 343.3L438.9 343.6M437.1 343.3L432.1 351.3M432.1 351.3L442.8 350.6M432.1 351.3L432 352.4M432 352.4L439 353.7M432 352.4L430.2 357.8M430.2 357.8L440.3 363.8M430.2 357.8L433 367.9M433 367.9L439.4 371.9M433 367.9L432.3 374.3M432.3 374.3L437.1 377.2M432.3 374.3L426.7 378.5M427.4 383.7L433.9 388.2M427.4 383.7L424.5 393M424.5 393L435.2 392.2M424.5 393L427.4 401.5M427.4 401.5L433.9 400.6M427.4 401.5L423.4 405.1M446.5 302L457.5 299M446.5 302L449.9 303.7M449.9 303.7L451.4 307.1M449.9 303.7L444.2 314.5M447.5 321.4L441.9 325.2M441.9 325.2L449.9 327.1M441.9 325.2L444.7 331.9M444.7 331.9L451.8 333.7M444.7 331.9L442.3 339.2M442.3 339.2L451.2 338M442.3 339.2L438.9 343.6M438.9 343.6L447.6 346M438.9 343.6L442.8 350.6M442.8 350.6L448.4 350.6M442.8 350.6L439 353.7M439 353.7L440.3 363.8M440.3 363.8L439.4 371.9M439.4 371.9L442.9 368.7M437.1 377.2L441.1 374M436.9 382.8L440.2 380.1M436.9 382.8L433.9 388.2M435.2 392.2L441.9 395.4M435.2 392.2L433.9 400.6M433.9 400.6L431 405.3M431 405.3L440.4 404.4M457.5 299L459.7 301.9M457.5 299L451.4 307.1M451.4 307.1L458.7 307.8M451.4 307.1L450.4 315.6M450.4 315.6L454.2 319.5M454.2 319.5L460.5 320.9M454.2 319.5L449.9 327.1M449.9 327.1L459.5 324.6M451.8 333.7L454.8 331.1M451.2 338L457.3 338.8M447.6 346L454.6 348.4M448.4 350.6L444.9 359.3M444.9 359.3L452.7 359.6M444.9 359.3L445.9 363.9M445.9 363.9L452.1 365.1M442.9 368.7L448.3 373.6M442.9 368.7L441.1 374M441.1 374L450.5 379.8M441.1 374L440.2 380.1M440.2 380.1L450.5 382M440.2 380.1L441.7 388.9M441.7 388.9L447.3 390.2M441.7 388.9L441.9 395.4M441.9 395.4L444.7 397.5M438.5 399.8L440.4 404.4M440.4 404.4L447.2 407.6M459.7 301.9L458.7 307.8M458.7 307.8L457.6 315.4M457.6 315.4L464.1 318.9M460.5 320.9L465.6 324.4M459.5 324.6L465 327.7M459.5 324.6L454.8 331.1M454.8 331.1L462 337.5M454.8 331.1L457.3 338.8M457.3 338.8L462.7 341.9M454.6 348.4L460.4 349.8M454.6 348.4L454 351.8M454 351.8L452.7 359.6M452.7 359.6L460.1 361.4M452.1 365.1L448.3 373.6M448.3 373.6L457.5 371.7M448.3 373.6L450.5 379.8M450.5 379.8L456.9 380.8M450.5 379.8L450.5 382M450.5 382L457 383.2M450.5 382L447.3 390.2M447.3 390.2L444.7 397.5M444.7 397.5L445.6 402.6M445.6 402.6L447.2 407.6M447.2 407.6L449.3 410.6M467.1 304.2L475.3 306.9M465.2 308.1L464.1 318.9M464.1 318.9L474 318M464.1 318.9L465.6 324.4M465.6 324.4L472.8 322.3M465 327.7L471.5 328.6M465 327.7L462 337.5M462 337.5L467.8 336.4M462 337.5L462.7 341.9M462.7 341.9L460.4 349.8M460.4 349.8L458.4 355.6M458.4 355.6L460.1 361.4M460.1 361.4L460.9 366.4M460.9 366.4L457.5 371.7M457.5 371.7L456.9 380.8M456.9 380.8L465.2 380.7M457 383.2L464.5 384.5M457 383.2L456.5 388.3M456.5 388.3L459.2 394.8M456.5 388.3L454.5 395.2M454.5 395.2L461.6 397.9M454.5 395.2L451.4 403.6M451.4 403.6L449.3 410.6M449.3 410.6L458 407.7M475.3 306.9L481.5 308.9M473.3 313.3L474 318M474 318L472.8 322.3M472.8 322.3L479.1 323.7M471.5 328.6L475.4 328M467.8 336.4L471.1 342.5M471.1 342.5L473.5 342.7M465.9 349.1L475.9 349.3M465.9 349.1L465.1 355.4M465.1 355.4L473.8 359.2M465.1 355.4L467.4 359.4M467.4 359.4L471.8 361.8M467.4 359.4L463.9 366.7M463.9 366.7L469.5 369.3M463.9 366.7L464.6 374.8M464.6 374.8L470.4 374.9M464.6 374.8L465.2 380.7M465.2 380.7L468.4 381.5M465.2 380.7L464.5 384.5M464.5 384.5L468.7 389.8M464.5 384.5L459.2 394.8M459.2 394.8L469.4 391M461.6 397.9L464.7 398.5M461.6 397.9L456.9 402.6M456.9 402.6L464.3 403.5M458 407.7L462.6 413.8M481.5 308.9L485.5 308.8M481.5 308.9L479.6 311.3M478.3 317.8L486 318.1M479.1 323.7L484 328.5M479.1 323.7L475.4 328M475.4 328L485.3 333.5M475.4 328L478.5 338.7M478.5 338.7L482.3 340M478.5 338.7L473.5 342.7M473.5 342.7L480.2 344.2M473.5 342.7L475.9 349.3M475.9 349.3L480.4 350.3M475.9 349.3L473.8 359.2M473.8 359.2L482.1 355.4M471.8 361.8L477.9 363.6M471.8 361.8L469.5 369.3M469.5 369.3L476.7 372M469.5 369.3L470.4 374.9M470.4 374.9L477.3 372.7M470.4 374.9L468.4 381.5M468.4 381.5L475.2 380.5M468.4 381.5L468.7 389.8M468.7 389.8L469.4 391M469.4 391L476.6 394.5M469.4 391L464.7 398.5M464.7 398.5L474.4 400.7M464.7 398.5L464.3 403.5M485.5 308.8L494.9 307.3M485.5 308.8L486.6 315.1M486.6 315.1L493 312.2M486.6 315.1L486 318.1M486 318.1L495.2 320.4M486 318.1L484 328.5M484 328.5L485.3 333.5M485.3 333.5L492.9 333.6M485.3 333.5L482.3 340M480.2 344.2L489.2 344.4M480.2 344.2L480.4 350.3M480.4 350.3L482.1 355.4M482.1 355.4L485.6 358.9M482.1 355.4L477.9 363.6M477.9 363.6L486.9 366.8M476.7 372L485.1 372.7M476.7 372L477.3 372.7M475.2 380.5L482.1 382.5M475.2 380.5L475.2 385.1M475.2 385.1L483.4 387.9M476.6 394.5L482.9 394.6M476.6 394.5L474.4 400.7M474.4 400.7L477.8 403.1M472.2 405.7L477.7 409.6M472.2 405.7L473.8 411.4M473.8 411.4L476.6 412.7M493 312.2L495.2 320.4M495.2 320.4L492.4 329M492.4 329L492.9 333.6M492.9 333.6L489.3 341.8M489.3 341.8L489.2 344.4M486.6 354.6L485.6 358.9M485.6 358.9L486.9 366.8M486.9 366.8L485.1 372.7M482.9 394.6L477.8 403.1M477.8 403.1L477.7 409.6M477.7 409.6L476.6 412.7" fill="none" stroke="#f4f2f6" stroke-width="0.8" opacity="0.70"/>
<path d="M435.5 295.6L436.3 298.3L437 302.1L437.7 306.8L438.4 312L439.4 317.5L440.8 323.2L442.6 329.2L444.9 335.6L447.6 342.4L450.7 349.1L454.1 355.6L457.6 361.7L461.6 367.7L466.1 373.9L470.6 380.1L474.7 385.7L478.3 390.4L480.9 393.8L480.2 391.9L477.4 387.6L473.7 382.3L469.6 376.1L465.6 369.7L462.1 363.2L459.2 357L456.3 350.5L453.4 343.8L450.6 337.1L448 330.7L445.5 324.8L443.4 319.4L441.7 314.1L440.5 308.9L439.6 304L439 299.8L438.8 296.4z" fill="#f8f6f2"/>
<path d="M475.5 300.9L476.5 302.3L478 304.1L479.7 306.4L481.4 309L483.3 311.3L485.3 313.2L487.5 314.7L489.8 316L492.2 317.1L494.2 318.3L495.8 319.5L496.8 320.5L497.8 317.9L496.2 317.2L494.3 316L492.5 314.4L490.6 312.7L488.8 310.9L487 309.4L484.8 307.7L482.3 306L479.9 304.2L477.9 302.5L476.3 301.1z" fill="#f8f6f2"/>
<path d="M403.9 322.6L403 324.5L401.3 327.1L399.8 330.3L399.2 333.8L398.8 336.9L398.4 339L399.2 338.3L400.4 335.9L402.2 333L403.4 329.6L403.7 326.2L404.1 323.6z" fill="#f8f6f2"/>
<path d="M426 328.1L425.2 330.7L423.8 334.4L422.4 338.8L421.6 343.3L421 347.3L420.5 349.9L421.1 348.9L422.1 345.6L423.6 341.5L424.8 337L425.4 332.6L426 329.3z" fill="#f8f6f2"/>
<g fill="#4f5fc0" opacity="0.75"><ellipse cx="396.5" cy="403.3" rx="1.3" ry="1.1" transform="rotate(154 396.5 403.3)"/><ellipse cx="391.4" cy="361.4" rx="1.4" ry="1.0" transform="rotate(135 391.4 361.4)"/><ellipse cx="482.3" cy="380.0" rx="1.3" ry="0.9" transform="rotate(54 482.3 380.0)"/><ellipse cx="419.7" cy="307.8" rx="1.7" ry="0.9" transform="rotate(12 419.7 307.8)"/><ellipse cx="399.8" cy="324.0" rx="1.8" ry="1.1" transform="rotate(81 399.8 324.0)"/><ellipse cx="401.8" cy="328.4" rx="1.9" ry="0.8" transform="rotate(115 401.8 328.4)"/><ellipse cx="406.2" cy="363.1" rx="2.3" ry="0.9" transform="rotate(114 406.2 363.1)"/><ellipse cx="441.8" cy="364.3" rx="2.3" ry="0.8" transform="rotate(66 441.8 364.3)"/><ellipse cx="474.3" cy="337.6" rx="1.8" ry="0.8" transform="rotate(150 474.3 337.6)"/><ellipse cx="478.7" cy="315.1" rx="1.7" ry="0.9" transform="rotate(159 478.7 315.1)"/><ellipse cx="485.0" cy="322.2" rx="1.5" ry="1.0" transform="rotate(130 485.0 322.2)"/><ellipse cx="416.9" cy="358.3" rx="1.4" ry="1.0" transform="rotate(46 416.9 358.3)"/><ellipse cx="484.9" cy="365.2" rx="1.3" ry="0.9" transform="rotate(29 484.9 365.2)"/><ellipse cx="400.6" cy="391.3" rx="2.1" ry="0.9" transform="rotate(8 400.6 391.3)"/><ellipse cx="472.0" cy="378.7" rx="1.9" ry="0.8" transform="rotate(99 472.0 378.7)"/><ellipse cx="471.5" cy="361.9" rx="1.4" ry="1.0" transform="rotate(26 471.5 361.9)"/><ellipse cx="434.4" cy="321.3" rx="1.6" ry="0.8" transform="rotate(125 434.4 321.3)"/><ellipse cx="476.9" cy="357.6" rx="1.6" ry="1.1" transform="rotate(32 476.9 357.6)"/><ellipse cx="441.7" cy="347.8" rx="2.3" ry="0.9" transform="rotate(62 441.7 347.8)"/><ellipse cx="496.4" cy="388.0" rx="1.9" ry="1.0" transform="rotate(130 496.4 388.0)"/><ellipse cx="412.3" cy="404.4" rx="1.7" ry="1.0" transform="rotate(84 412.3 404.4)"/><ellipse cx="453.1" cy="344.5" rx="1.9" ry="0.9" transform="rotate(82 453.1 344.5)"/><ellipse cx="495.6" cy="312.6" rx="1.3" ry="0.9" transform="rotate(63 495.6 312.6)"/><ellipse cx="492.4" cy="325.4" rx="2.3" ry="1.1" transform="rotate(133 492.4 325.4)"/><ellipse cx="417.9" cy="395.3" rx="1.8" ry="0.9" transform="rotate(175 417.9 395.3)"/><ellipse cx="400.2" cy="299.1" rx="2.1" ry="0.8" transform="rotate(180 400.2 299.1)"/><ellipse cx="444.6" cy="379.9" rx="1.6" ry="0.9" transform="rotate(43 444.6 379.9)"/><ellipse cx="415.4" cy="351.5" rx="1.8" ry="1.0" transform="rotate(57 415.4 351.5)"/><ellipse cx="485.2" cy="363.3" rx="1.4" ry="0.8" transform="rotate(168 485.2 363.3)"/><ellipse cx="396.4" cy="309.3" rx="1.8" ry="1.0" transform="rotate(129 396.4 309.3)"/><ellipse cx="391.9" cy="384.0" rx="1.3" ry="1.0" transform="rotate(1 391.9 384.0)"/><ellipse cx="450.1" cy="333.7" rx="2.1" ry="0.9" transform="rotate(91 450.1 333.7)"/><ellipse cx="390.5" cy="387.8" rx="1.4" ry="0.9" transform="rotate(21 390.5 387.8)"/><ellipse cx="423.4" cy="392.0" rx="1.3" ry="0.8" transform="rotate(148 423.4 392.0)"/><ellipse cx="486.2" cy="355.5" rx="2.1" ry="1.0" transform="rotate(35 486.2 355.5)"/><ellipse cx="467.2" cy="332.2" rx="2.2" ry="0.9" transform="rotate(32 467.2 332.2)"/><ellipse cx="412.8" cy="322.5" rx="1.9" ry="1.0" transform="rotate(127 412.8 322.5)"/><ellipse cx="389.3" cy="333.0" rx="2.2" ry="0.8" transform="rotate(123 389.3 333.0)"/><ellipse cx="403.1" cy="345.1" rx="1.5" ry="0.8" transform="rotate(53 403.1 345.1)"/><ellipse cx="405.2" cy="356.5" rx="1.4" ry="1.0" transform="rotate(109 405.2 356.5)"/><ellipse cx="482.4" cy="364.7" rx="2.2" ry="1.0" transform="rotate(125 482.4 364.7)"/><ellipse cx="396.7" cy="305.4" rx="2.1" ry="1.0" transform="rotate(145 396.7 305.4)"/><ellipse cx="390.9" cy="372.0" rx="1.8" ry="0.8" transform="rotate(55 390.9 372.0)"/><ellipse cx="436.5" cy="374.5" rx="2.2" ry="0.8" transform="rotate(108 436.5 374.5)"/><ellipse cx="396.9" cy="311.2" rx="1.4" ry="0.9" transform="rotate(25 396.9 311.2)"/><ellipse cx="445.8" cy="308.6" rx="2.3" ry="0.8" transform="rotate(65 445.8 308.6)"/><ellipse cx="495.2" cy="367.6" rx="2.2" ry="1.0" transform="rotate(114 495.2 367.6)"/><ellipse cx="426.6" cy="390.7" rx="1.7" ry="0.9" transform="rotate(122 426.6 390.7)"/><ellipse cx="409.7" cy="311.1" rx="2.2" ry="0.8" transform="rotate(169 409.7 311.1)"/><ellipse cx="393.0" cy="404.0" rx="2.0" ry="1.0" transform="rotate(72 393.0 404.0)"/><ellipse cx="464.4" cy="305.8" rx="1.8" ry="1.1" transform="rotate(5 464.4 305.8)"/><ellipse cx="470.8" cy="314.9" rx="1.6" ry="1.1" transform="rotate(56 470.8 314.9)"/><ellipse cx="477.1" cy="396.0" rx="1.9" ry="0.9" transform="rotate(113 477.1 396.0)"/><ellipse cx="479.1" cy="296.3" rx="1.4" ry="0.8" transform="rotate(180 479.1 296.3)"/><ellipse cx="476.2" cy="378.3" rx="2.2" ry="0.9" transform="rotate(78 476.2 378.3)"/><ellipse cx="417.7" cy="340.1" rx="2.2" ry="0.9" transform="rotate(90 417.7 340.1)"/><ellipse cx="397.5" cy="333.5" rx="1.9" ry="1.1" transform="rotate(5 397.5 333.5)"/><ellipse cx="494.2" cy="306.7" rx="1.5" ry="1.0" transform="rotate(69 494.2 306.7)"/><ellipse cx="435.5" cy="346.7" rx="1.3" ry="0.8" transform="rotate(169 435.5 346.7)"/><ellipse cx="394.5" cy="310.6" rx="1.7" ry="0.8" transform="rotate(174 394.5 310.6)"/><ellipse cx="437.4" cy="380.3" rx="1.4" ry="0.8" transform="rotate(43 437.4 380.3)"/><ellipse cx="417.8" cy="344.6" rx="2.2" ry="1.0" transform="rotate(79 417.8 344.6)"/><ellipse cx="460.6" cy="389.3" rx="1.9" ry="1.0" transform="rotate(7 460.6 389.3)"/><ellipse cx="431.4" cy="358.0" rx="1.9" ry="0.8" transform="rotate(171 431.4 358.0)"/><ellipse cx="390.0" cy="307.6" rx="1.7" ry="1.0" transform="rotate(150 390.0 307.6)"/><ellipse cx="419.7" cy="301.7" rx="2.1" ry="0.9" transform="rotate(13 419.7 301.7)"/><ellipse cx="420.8" cy="336.4" rx="1.8" ry="0.9" transform="rotate(70 420.8 336.4)"/><ellipse cx="485.9" cy="340.1" rx="1.5" ry="1.0" transform="rotate(106 485.9 340.1)"/><ellipse cx="452.3" cy="337.0" rx="1.7" ry="1.1" transform="rotate(106 452.3 337.0)"/><ellipse cx="468.4" cy="365.5" rx="1.5" ry="0.9" transform="rotate(12 468.4 365.5)"/><ellipse cx="460.3" cy="338.9" rx="2.2" ry="0.9" transform="rotate(0 460.3 338.9)"/><ellipse cx="458.6" cy="334.2" rx="2.2" ry="0.9" transform="rotate(43 458.6 334.2)"/><ellipse cx="480.7" cy="314.7" rx="1.6" ry="0.9" transform="rotate(158 480.7 314.7)"/><ellipse cx="405.1" cy="356.4" rx="2.0" ry="1.0" transform="rotate(139 405.1 356.4)"/><ellipse cx="413.9" cy="369.4" rx="1.8" ry="0.9" transform="rotate(8 413.9 369.4)"/></g>
<g fill="#9a6a40" opacity="0.9"><ellipse cx="413.6" cy="306.6" rx="1.5" ry="0.9" transform="rotate(177 413.6 306.6)"/><ellipse cx="404.6" cy="302.6" rx="1.5" ry="0.9" transform="rotate(106 404.6 302.6)"/><ellipse cx="488.6" cy="382.8" rx="1.9" ry="1.2" transform="rotate(135 488.6 382.8)"/><ellipse cx="412.0" cy="354.0" rx="1.3" ry="0.8" transform="rotate(23 412.0 354.0)"/><ellipse cx="406.6" cy="306.9" rx="1.3" ry="0.8" transform="rotate(72 406.6 306.9)"/><ellipse cx="489.6" cy="385.9" rx="2.0" ry="1.2" transform="rotate(26 489.6 385.9)"/><ellipse cx="475.6" cy="316.4" rx="1.4" ry="0.8" transform="rotate(65 475.6 316.4)"/><ellipse cx="456.6" cy="375.3" rx="2.0" ry="1.2" transform="rotate(169 456.6 375.3)"/><ellipse cx="484.4" cy="304.8" rx="1.7" ry="1.0" transform="rotate(8 484.4 304.8)"/><ellipse cx="461.5" cy="350.6" rx="1.2" ry="0.7" transform="rotate(137 461.5 350.6)"/><ellipse cx="439.7" cy="305.1" rx="2.1" ry="1.3" transform="rotate(88 439.7 305.1)"/><ellipse cx="482.8" cy="355.2" rx="1.4" ry="0.8" transform="rotate(118 482.8 355.2)"/><ellipse cx="487.6" cy="357.9" rx="2.1" ry="1.2" transform="rotate(137 487.6 357.9)"/><ellipse cx="480.9" cy="350.9" rx="1.5" ry="0.9" transform="rotate(106 480.9 350.9)"/><ellipse cx="453.5" cy="342.4" rx="1.2" ry="0.7" transform="rotate(113 453.5 342.4)"/><ellipse cx="421.2" cy="384.1" rx="1.1" ry="0.6" transform="rotate(52 421.2 384.1)"/><ellipse cx="392.7" cy="363.8" rx="1.3" ry="0.8" transform="rotate(61 392.7 363.8)"/><ellipse cx="446.4" cy="346.8" rx="1.4" ry="0.8" transform="rotate(4 446.4 346.8)"/><ellipse cx="497.3" cy="316.7" rx="1.5" ry="0.9" transform="rotate(137 497.3 316.7)"/><ellipse cx="409.9" cy="364.5" rx="1.3" ry="0.8" transform="rotate(29 409.9 364.5)"/><ellipse cx="426.7" cy="376.9" rx="1.4" ry="0.8" transform="rotate(50 426.7 376.9)"/><ellipse cx="449.0" cy="394.1" rx="1.1" ry="0.7" transform="rotate(38 449.0 394.1)"/><ellipse cx="394.4" cy="320.3" rx="1.9" ry="1.2" transform="rotate(9 394.4 320.3)"/><ellipse cx="455.3" cy="321.2" rx="1.4" ry="0.8" transform="rotate(41 455.3 321.2)"/><ellipse cx="407.1" cy="345.5" rx="1.1" ry="0.6" transform="rotate(165 407.1 345.5)"/><ellipse cx="464.3" cy="393.2" rx="2.1" ry="1.3" transform="rotate(45 464.3 393.2)"/><ellipse cx="468.4" cy="400.2" rx="1.0" ry="0.6" transform="rotate(180 468.4 400.2)"/><ellipse cx="419.4" cy="400.9" rx="1.9" ry="1.2" transform="rotate(48 419.4 400.9)"/><ellipse cx="432.7" cy="398.4" rx="1.7" ry="1.0" transform="rotate(47 432.7 398.4)"/><ellipse cx="477.6" cy="327.4" rx="1.2" ry="0.7" transform="rotate(47 477.6 327.4)"/></g>
</g></g>
<rect x="387.6" y="295.3" width="110.0" height="109.3" fill="none" stroke="#222" stroke-width="2.60"/>
<line x1="461.3" y1="395.5" x2="489.0" y2="395.5" stroke="#000" stroke-width="2.40"/>
<line x1="540.7" y1="417.3" x2="676.0" y2="417.3" stroke="#000" stroke-width="1.20"/>
<line x1="544.2" y1="284.6" x2="544.2" y2="417.3" stroke="#000" stroke-width="1.20"/>
<line x1="540.7" y1="417.3" x2="544.2" y2="417.3" stroke="#000" stroke-width="1.10"/>
<text x="539.2" y="420.6" font-size="9.50" text-anchor="end" fill="#111">0.0</text>
<line x1="540.7" y1="373.1" x2="544.2" y2="373.1" stroke="#000" stroke-width="1.10"/>
<text x="539.2" y="376.4" font-size="9.50" text-anchor="end" fill="#111">0.2</text>
<line x1="540.7" y1="328.8" x2="544.2" y2="328.8" stroke="#000" stroke-width="1.10"/>
<text x="539.2" y="332.1" font-size="9.50" text-anchor="end" fill="#111">0.4</text>
<line x1="540.7" y1="284.6" x2="544.2" y2="284.6" stroke="#000" stroke-width="1.10"/>
<text x="539.2" y="287.9" font-size="9.50" text-anchor="end" fill="#111">0.6</text>
<rect x="554.3" y="381.2" width="19.7" height="36.1" fill="#c8c8c8" stroke="#111" stroke-width="1.20"/>
<circle cx="558.9" cy="376.8" r="2.40" fill="#999" stroke="#333" stroke-width="0.50"/>
<circle cx="568.4" cy="379.5" r="2.40" fill="#999" stroke="#333" stroke-width="0.50"/>
<circle cx="564.1" cy="386.3" r="2.40" fill="#999" stroke="#333" stroke-width="0.50"/>
<line x1="564.1" y1="383.5" x2="564.1" y2="378.6" stroke="#111" stroke-width="1.10"/>
<line x1="559.6" y1="383.5" x2="568.6" y2="383.5" stroke="#111" stroke-width="1.10"/>
<line x1="559.6" y1="378.6" x2="568.6" y2="378.6" stroke="#111" stroke-width="1.10"/>
<rect x="585.0" y="380.8" width="19.5" height="36.5" fill="#ccd8fa" stroke="#1f45ff" stroke-width="1.20"/>
<circle cx="590.1" cy="375.1" r="2.40" fill="#1030c0" stroke="#333" stroke-width="0.50"/>
<circle cx="599.4" cy="375.1" r="2.40" fill="#1030c0" stroke="#333" stroke-width="0.50"/>
<circle cx="594.8" cy="392.5" r="2.40" fill="#1030c0" stroke="#333" stroke-width="0.50"/>
<line x1="594.8" y1="386.3" x2="594.8" y2="375.3" stroke="#111" stroke-width="1.10"/>
<line x1="590.2" y1="386.3" x2="599.2" y2="386.3" stroke="#111" stroke-width="1.10"/>
<line x1="590.2" y1="375.3" x2="599.2" y2="375.3" stroke="#111" stroke-width="1.10"/>
<rect x="615.3" y="347.6" width="20.3" height="69.7" fill="#ffd6ea" stroke="#ff3d9a" stroke-width="1.20"/>
<circle cx="625.5" cy="331.0" r="2.40" fill="#ff3390" stroke="#333" stroke-width="0.50"/>
<circle cx="625.5" cy="353.6" r="2.40" fill="#ff3390" stroke="#333" stroke-width="0.50"/>
<circle cx="625.5" cy="359.8" r="2.40" fill="#ff3390" stroke="#333" stroke-width="0.50"/>
<line x1="625.5" y1="355.4" x2="625.5" y2="338.3" stroke="#111" stroke-width="1.10"/>
<line x1="621.0" y1="355.4" x2="630.0" y2="355.4" stroke="#111" stroke-width="1.10"/>
<line x1="621.0" y1="338.3" x2="630.0" y2="338.3" stroke="#111" stroke-width="1.10"/>
<text x="625.5" y="327.7" font-size="9.60" text-anchor="middle">*</text>
<rect x="645.7" y="324.4" width="20.6" height="92.9" fill="#e6daff" stroke="#a050ff" stroke-width="1.20"/>
<circle cx="656.0" cy="300.1" r="2.40" fill="#a040ff" stroke="#333" stroke-width="0.50"/>
<circle cx="656.0" cy="315.6" r="2.40" fill="#a040ff" stroke="#333" stroke-width="0.50"/>
<circle cx="656.0" cy="357.6" r="2.40" fill="#a040ff" stroke="#333" stroke-width="0.50"/>
<line x1="656.0" y1="342.1" x2="656.0" y2="306.7" stroke="#111" stroke-width="1.10"/>
<line x1="651.5" y1="342.1" x2="660.5" y2="342.1" stroke="#111" stroke-width="1.10"/>
<line x1="651.5" y1="306.7" x2="660.5" y2="306.7" stroke="#111" stroke-width="1.10"/>
<text x="656.0" y="297.3" font-size="9.60" text-anchor="middle">*</text>
<rect x="674.2" y="346.2" width="7.2" height="6.8" fill="#000000"/>
<text x="685.3" y="353.4" font-size="10.80">WT</text>
<rect x="674.2" y="357.8" width="7.2" height="6.8" fill="#1030ff"/>
<text x="685.3" y="365.0" font-size="10.80">ErbB2 KI</text>
<rect x="674.2" y="369.5" width="7.2" height="6.8" fill="#ff10aa"/>
<text x="685.3" y="376.7" font-size="10.80">ERR&#945; KO</text>
<rect x="674.2" y="381.5" width="7.2" height="6.8" fill="#9a10ff"/>
<text x="685.3" y="388.7" font-size="10.80">KI:KO</text>
<text x="519.3" y="349.5" font-size="11.20" text-anchor="middle" transform="rotate(-90 519.3 349.5)" textLength="124.0" lengthAdjust="spacingAndGlyphs">Aif-1 positive area (%)</text>
<polyline points="594.7,361.0 594.7,280.3 656.0,280.3 656.0,286.5" fill="none" stroke="#111" stroke-width="1.10"/>
<text x="625.2" y="280.0" font-size="9.60" text-anchor="middle">*</text>
<text x="-0.2" y="450.6" font-size="19.00" font-weight="bold">d</text>
<text x="199.7" y="451.2" font-size="13.80" text-anchor="middle" fill="#111" textLength="82.5" lengthAdjust="spacingAndGlyphs">MATRISOME</text>
<line x1="125.1" y1="458.5" x2="148.2" y2="448.0" stroke="#111" stroke-width="1.30"/>
<line x1="250.9" y1="447.9" x2="274.0" y2="458.9" stroke="#111" stroke-width="1.30"/>
<text x="82.0" y="461.2" font-size="12.00" text-anchor="middle" fill="#111">CORE</text>
<text x="82.0" y="472.6" font-size="10.60" text-anchor="middle" fill="#222">76 genes</text>
<text x="320.2" y="461.2" font-size="12.00" text-anchor="middle" fill="#111" textLength="76.3" lengthAdjust="spacingAndGlyphs">ASSOCIATED</text>
<text x="320.4" y="472.4" font-size="10.60" text-anchor="middle" fill="#222">163 genes</text>
<rect x="14.3" y="494.2" width="132.9" height="166.9" fill="#000"/>
<path stroke="#6c6cfc" stroke-width="2.60" d="M14.3 495.3h11.2M25.5 548h11.2M36.7 585.4h11.2M25.5 609.5h11.2M25.5 649h11.2M70.2 537h11.2M59.1 556.8h11.2M47.9 561.2h11.2M92.2 504.1h10.9M103.1 508.5h10.9M81.4 627.1h10.9M81.4 640.3h10.9M103.1 653.4h10.9M136.1 629.3h11.1"/>
<path stroke="#a8a8fc" stroke-width="2.60" d="M25.5 495.3h11.2M36.7 550.2h11.2M25.5 616.1h11.2M36.7 649h11.2M25.5 660h11.2M59.1 530.5h11.2M47.9 545.8h11.2M70.2 552.4h11.2M59.1 618.3h11.2M59.1 633.7h11.2M59.1 640.3h11.2M59.1 657.8h11.2M81.4 497.5h10.9M81.4 504.1h10.9M103.1 512.9h10.9M103.1 552.4h10.9M103.1 576.6h10.9M136.1 653.4h11.1"/>
<path stroke="#0000fc" stroke-width="2.60" d="M36.7 495.3h11.2M14.3 497.5h11.2M25.5 499.7h11.2M36.7 499.7h11.2M14.3 504.1h11.2M14.3 510.7h11.2M14.3 512.9h11.2M36.7 517.3h11.2M25.5 519.5h11.2M14.3 523.9h11.2M36.7 523.9h11.2M25.5 526.1h11.2M14.3 528.3h11.2M25.5 528.3h11.2M36.7 528.3h11.2M14.3 532.7h11.2M36.7 532.7h11.2M14.3 534.9h11.2M36.7 534.9h11.2M36.7 539.2h11.2M14.3 541.4h11.2M25.5 541.4h11.2M14.3 543.6h11.2M25.5 543.6h11.2M25.5 545.8h11.2M36.7 545.8h11.2M36.7 548h11.2M25.5 550.2h11.2M36.7 554.6h11.2M14.3 556.8h11.2M25.5 556.8h11.2M14.3 559h11.2M25.5 559h11.2M14.3 563.4h11.2M25.5 563.4h11.2M25.5 565.6h11.2M36.7 567.8h11.2M25.5 572.2h11.2M14.3 576.6h11.2M36.7 576.6h11.2M36.7 578.8h11.2M25.5 583.2h11.2M14.3 585.4h11.2M25.5 585.4h11.2M25.5 587.6h11.2M36.7 587.6h11.2M14.3 591.9h11.2M25.5 591.9h11.2M25.5 594.1h11.2M36.7 594.1h11.2M14.3 596.3h11.2M25.5 596.3h11.2M36.7 596.3h11.2M25.5 605.1h11.2M36.7 605.1h11.2M25.5 607.3h11.2M36.7 609.5h11.2M14.3 613.9h11.2M25.5 613.9h11.2M14.3 616.1h11.2M36.7 644.7h11.2M14.3 646.9h11.2M25.5 646.9h11.2M14.3 649h11.2M25.5 653.4h11.2M36.7 653.4h11.2M59.1 495.3h11.2M70.2 495.3h11.2M47.9 497.5h11.2M59.1 497.5h11.2M70.2 497.5h11.2M59.1 499.7h11.2M59.1 501.9h11.2M59.1 504.1h11.2M59.1 510.7h11.2M59.1 512.9h11.2M70.2 515.1h11.2M47.9 517.3h11.2M47.9 519.5h11.2M59.1 528.3h11.2M47.9 541.4h11.2M70.2 543.6h11.2M59.1 548h11.2M47.9 552.4h11.2M47.9 554.6h11.2M70.2 554.6h11.2M70.2 559h11.2M47.9 563.4h11.2M59.1 563.4h11.2M70.2 563.4h11.2M59.1 565.6h11.2M70.2 576.6h11.2M59.1 581h11.2M59.1 583.2h11.2M47.9 587.6h11.2M70.2 589.8h11.2M47.9 594.1h11.2M59.1 596.3h11.2M70.2 596.3h11.2M59.1 600.7h11.2M59.1 602.9h11.2M59.1 646.9h11.2M92.2 495.3h10.9M103.1 497.5h10.9M92.2 506.3h10.9M92.2 620.5h10.9M92.2 622.7h10.9M81.4 624.9h10.9M92.2 627.1h10.9M92.2 629.3h10.9M81.4 635.9h10.9M92.2 642.5h10.9M136.1 607.3h11.1M125 620.5h11.1M125 629.3h11.1M136.1 633.7h11.1"/>
<path stroke="#4848fc" stroke-width="2.60" d="M25.5 497.5h11.2M14.3 499.7h11.2M25.5 521.7h11.2M36.7 530.5h11.2M14.3 537h11.2M36.7 543.6h11.2M14.3 548h11.2M36.7 572.2h11.2M25.5 600.7h11.2M36.7 613.9h11.2M47.9 510.7h11.2M47.9 530.5h11.2M70.2 565.6h11.2M47.9 602.9h11.2M59.1 631.5h11.2M81.4 611.7h10.9M136.1 589.8h11.1M113.9 622.7h11.1M113.9 635.9h11.1M136.1 635.9h11.1"/>
<path stroke="#d8d8fc" stroke-width="2.60" d="M36.7 497.5h11.2M14.3 517.3h11.2M25.5 517.3h11.2M36.7 559h11.2M36.7 565.6h11.2M36.7 602.9h11.2M70.2 526.1h11.2M47.9 559h11.2M59.1 587.6h11.2M47.9 591.9h11.2M59.1 598.5h11.2M70.2 607.3h11.2M70.2 624.9h11.2M59.1 660h11.2M103.1 506.3h10.9M81.4 572.2h10.9M92.2 633.7h10.9M81.4 638.1h10.9M125 559h11.1M136.1 622.7h11.1M125 653.4h11.1"/>
<path stroke="#1818fc" stroke-width="2.60" d="M14.3 501.9h11.2M14.3 552.4h11.2M14.3 589.8h11.2M36.7 589.8h11.2M14.3 607.3h11.2M47.9 499.7h11.2M47.9 581h11.2M47.9 598.5h11.2M81.4 646.9h10.9M81.4 651.2h10.9"/>
<path stroke="#8484fc" stroke-width="2.60" d="M25.5 501.9h11.2M25.5 510.7h11.2M14.3 530.5h11.2M25.5 530.5h11.2M36.7 561.2h11.2M14.3 572.2h11.2M14.3 574.4h11.2M25.5 631.5h11.2M14.3 653.4h11.2M25.5 657.8h11.2M59.1 508.5h11.2M59.1 534.9h11.2M59.1 539.2h11.2M70.2 545.8h11.2M59.1 550.2h11.2M59.1 561.2h11.2M59.1 574.4h11.2M59.1 578.8h11.2M47.9 596.3h11.2M59.1 620.5h11.2M103.1 624.9h10.9M81.4 631.5h10.9M125 600.7h11.1M125 607.3h11.1"/>
<path stroke="#2424fc" stroke-width="2.60" d="M36.7 501.9h11.2M36.7 537h11.2M36.7 570h11.2M25.5 576.6h11.2M14.3 578.8h11.2M36.7 611.7h11.2M47.9 508.5h11.2M70.2 508.5h11.2M47.9 528.3h11.2M59.1 545.8h11.2M59.1 567.8h11.2M70.2 587.6h11.2M47.9 589.8h11.2M136.1 611.7h11.1M136.1 627.1h11.1M125 660h11.1"/>
<path stroke="#0c0cfc" stroke-width="2.60" d="M25.5 504.1h11.2M14.3 515.1h11.2M25.5 561.2h11.2M25.5 570h11.2M14.3 581h11.2M36.7 598.5h11.2M14.3 605.1h11.2M25.5 611.7h11.2M70.2 530.5h11.2M47.9 537h11.2M70.2 572.2h11.2M59.1 576.6h11.2M70.2 594.1h11.2M103.1 620.5h10.9M81.4 642.5h10.9"/>
<path stroke="#3030fc" stroke-width="2.60" d="M36.7 504.1h11.2M25.5 512.9h11.2M36.7 526.1h11.2M25.5 539.2h11.2M36.7 541.4h11.2M25.5 589.8h11.2M36.7 607.3h11.2M36.7 616.1h11.2M14.3 644.7h11.2M25.5 644.7h11.2M36.7 646.9h11.2M59.1 506.3h11.2M70.2 517.3h11.2M70.2 519.5h11.2M70.2 548h11.2M59.1 572.2h11.2M59.1 589.8h11.2M59.1 594.1h11.2M47.9 651.2h11.2M113.9 611.7h11.1M113.9 616.1h11.1M113.9 633.7h11.1"/>
<path stroke="#fcd8d8" stroke-width="2.60" d="M14.3 506.3h11.2M36.7 574.4h11.2M36.7 642.5h11.2M70.2 583.2h11.2M59.1 591.9h11.2M70.2 622.7h11.2M59.1 635.9h11.2M59.1 644.7h11.2M103.1 495.3h10.9M103.1 530.5h10.9M103.1 532.7h10.9M103.1 570h10.9M81.4 609.5h10.9M103.1 642.5h10.9M92.2 660h10.9M125 530.5h11.1M136.1 567.8h11.1M136.1 585.4h11.1M113.9 629.3h11.1M113.9 651.2h11.1M136.1 655.6h11.1"/>
<path stroke="#fc9090" stroke-width="2.60" d="M25.5 506.3h11.2M25.5 508.5h11.2M14.3 655.6h11.2M47.9 501.9h11.2M47.9 600.7h11.2M47.9 613.9h11.2M70.2 620.5h11.2M70.2 629.3h11.2M59.1 649h11.2M92.2 517.3h10.9M103.1 517.3h10.9M92.2 521.7h10.9M103.1 554.6h10.9M92.2 565.6h10.9M92.2 567.8h10.9M103.1 618.3h10.9M103.1 622.7h10.9M92.2 644.7h10.9M92.2 651.2h10.9M125 499.7h11.1M125 534.9h11.1M113.9 559h11.1M136.1 587.6h11.1M113.9 600.7h11.1"/>
<path stroke="#fc6c6c" stroke-width="2.60" d="M36.7 506.3h11.2M25.5 620.5h11.2M14.3 622.7h11.2M25.5 627.1h11.2M14.3 660h11.2M47.9 627.1h11.2M59.1 642.5h11.2M70.2 655.6h11.2M81.4 526.1h10.9M81.4 539.2h10.9M81.4 543.6h10.9M92.2 550.2h10.9M92.2 556.8h10.9M81.4 620.5h10.9M81.4 653.4h10.9M125 528.3h11.1M113.9 534.9h11.1M136.1 561.2h11.1M136.1 563.4h11.1M136.1 565.6h11.1M125 570h11.1M125 655.6h11.1"/>
<path stroke="#fc0000" stroke-width="2.60" d="M14.3 508.5h11.2M14.3 618.3h11.2M14.3 620.5h11.2M36.7 620.5h11.2M14.3 633.7h11.2M14.3 635.9h11.2M36.7 635.9h11.2M36.7 638.1h11.2M36.7 640.3h11.2M59.1 638.1h11.2M92.2 515.1h10.9M103.1 515.1h10.9M81.4 521.7h10.9M103.1 528.3h10.9M81.4 530.5h10.9M81.4 534.9h10.9M103.1 534.9h10.9M81.4 537h10.9M103.1 537h10.9M103.1 545.8h10.9M92.2 548h10.9M103.1 550.2h10.9M81.4 556.8h10.9M81.4 559h10.9M103.1 559h10.9M81.4 561.2h10.9M103.1 561.2h10.9M103.1 565.6h10.9M92.2 570h10.9M103.1 572.2h10.9M81.4 574.4h10.9M103.1 578.8h10.9M81.4 581h10.9M92.2 583.2h10.9M81.4 589.8h10.9M103.1 589.8h10.9M81.4 591.9h10.9M92.2 591.9h10.9M81.4 607.3h10.9M81.4 613.9h10.9M81.4 616.1h10.9M103.1 616.1h10.9M103.1 655.6h10.9M113.9 495.3h11.1M125 497.5h11.1M125 501.9h11.1M113.9 504.1h11.1M125 504.1h11.1M113.9 506.3h11.1M125 506.3h11.1M113.9 510.7h11.1M136.1 510.7h11.1M113.9 512.9h11.1M136.1 512.9h11.1M113.9 517.3h11.1M125 519.5h11.1M113.9 521.7h11.1M125 521.7h11.1M113.9 523.9h11.1M136.1 523.9h11.1M113.9 526.1h11.1M125 526.1h11.1M136.1 530.5h11.1M113.9 532.7h11.1M125 532.7h11.1M113.9 539.2h11.1M125 539.2h11.1M125 541.4h11.1M136.1 541.4h11.1M113.9 543.6h11.1M125 543.6h11.1M113.9 545.8h11.1M136.1 545.8h11.1M113.9 548h11.1M125 548h11.1M113.9 550.2h11.1M136.1 550.2h11.1M125 552.4h11.1M136.1 552.4h11.1M113.9 563.4h11.1M125 563.4h11.1M113.9 565.6h11.1M113.9 572.2h11.1M113.9 574.4h11.1M136.1 574.4h11.1M136.1 578.8h11.1M136.1 581h11.1M125 583.2h11.1M113.9 587.6h11.1M113.9 589.8h11.1M113.9 591.9h11.1M136.1 591.9h11.1M113.9 596.3h11.1M113.9 598.5h11.1M113.9 602.9h11.1M136.1 602.9h11.1M125 642.5h11.1M136.1 644.7h11.1M113.9 655.6h11.1M125 657.8h11.1"/>
<path stroke="#fc2424" stroke-width="2.60" d="M36.7 508.5h11.2M25.5 618.3h11.2M14.3 624.9h11.2M92.2 534.9h10.9M81.4 541.4h10.9M81.4 552.4h10.9M81.4 602.9h10.9M92.2 611.7h10.9M136.1 515.1h11.1M113.9 528.3h11.1M136.1 548h11.1"/>
<path stroke="#3c3cfc" stroke-width="2.60" d="M36.7 510.7h11.2M14.3 521.7h11.2M25.5 523.9h11.2M25.5 554.6h11.2M25.5 567.8h11.2M14.3 570h11.2M36.7 581h11.2M14.3 594.1h11.2M14.3 602.9h11.2M25.5 651.2h11.2M59.1 515.1h11.2M47.9 526.1h11.2M70.2 539.2h11.2M59.1 552.4h11.2M59.1 570h11.2M47.9 583.2h11.2M70.2 598.5h11.2M113.9 620.5h11.1M136.1 651.2h11.1"/>
<path stroke="#9090fc" stroke-width="2.60" d="M36.7 512.9h11.2M36.7 519.5h11.2M25.5 537h11.2M14.3 583.2h11.2M59.1 523.9h11.2M59.1 543.6h11.2M47.9 548h11.2M47.9 572.2h11.2M70.2 635.9h11.2M47.9 646.9h11.2M70.2 653.4h11.2M59.1 655.6h11.2M136.1 521.7h11.1M113.9 627.1h11.1M125 638.1h11.1"/>
<path stroke="#9c9cfc" stroke-width="2.60" d="M25.5 515.1h11.2M36.7 583.2h11.2M36.7 600.7h11.2M14.3 611.7h11.2M14.3 657.8h11.2M70.2 528.3h11.2M47.9 532.7h11.2M70.2 561.2h11.2M59.1 605.1h11.2M103.1 499.7h10.9M81.4 501.9h10.9M92.2 510.7h10.9M103.1 633.7h10.9M136.1 517.3h11.1M136.1 631.5h11.1M125 635.9h11.1"/>
<path stroke="#ccccfc" stroke-width="2.60" d="M36.7 515.1h11.2M70.2 501.9h11.2M59.1 526.1h11.2M59.1 532.7h11.2M70.2 550.2h11.2M47.9 567.8h11.2M47.9 585.4h11.2M59.1 613.9h11.2M47.9 633.7h11.2M81.4 519.5h10.9M92.2 541.4h10.9M103.1 541.4h10.9M92.2 545.8h10.9M92.2 572.2h10.9M103.1 583.2h10.9M81.4 633.7h10.9M103.1 644.7h10.9M103.1 649h10.9M125 554.6h11.1M125 561.2h11.1M113.9 605.1h11.1"/>
<path stroke="#5454fc" stroke-width="2.60" d="M14.3 519.5h11.2M14.3 565.6h11.2M25.5 574.4h11.2M14.3 600.7h11.2M14.3 609.5h11.2M47.9 506.3h11.2M47.9 512.9h11.2M47.9 521.7h11.2M47.9 550.2h11.2M59.1 559h11.2M47.9 574.4h11.2M70.2 611.7h11.2M47.9 640.3h11.2M47.9 642.5h11.2M70.2 646.9h11.2M136.1 618.3h11.1"/>
<path stroke="#6060fc" stroke-width="2.60" d="M36.7 521.7h11.2M25.5 534.9h11.2M14.3 539.2h11.2M25.5 552.4h11.2M36.7 563.4h11.2M14.3 587.6h11.2M25.5 598.5h11.2M14.3 651.2h11.2M70.2 499.7h11.2M70.2 504.1h11.2M70.2 541.4h11.2M59.1 585.4h11.2M70.2 600.7h11.2M103.1 631.5h10.9M81.4 655.6h10.9"/>
<path stroke="#fcf0f0" stroke-width="2.60" d="M14.3 526.1h11.2M14.3 627.1h11.2M25.5 633.7h11.2M25.5 638.1h11.2M70.2 534.9h11.2M70.2 640.3h11.2M47.9 644.7h11.2M92.2 499.7h10.9M92.2 501.9h10.9M103.1 521.7h10.9M81.4 554.6h10.9M103.1 556.8h10.9M81.4 587.6h10.9M103.1 598.5h10.9M103.1 638.1h10.9M103.1 646.9h10.9M113.9 519.5h11.1M136.1 556.8h11.1M113.9 640.3h11.1M113.9 644.7h11.1"/>
<path stroke="#f0f0fc" stroke-width="2.60" d="M25.5 532.7h11.2M14.3 550.2h11.2M59.1 517.3h11.2M47.9 523.9h11.2M59.1 537h11.2M59.1 541.4h11.2M70.2 605.1h11.2M59.1 651.2h11.2M81.4 512.9h10.9M92.2 519.5h10.9M81.4 523.9h10.9M92.2 532.7h10.9M92.2 559h10.9M81.4 563.4h10.9M92.2 605.1h10.9M103.1 629.3h10.9M92.2 655.6h10.9M136.1 504.1h11.1M125 515.1h11.1M125 589.8h11.1M125 616.1h11.1M113.9 618.3h11.1M136.1 646.9h11.1"/>
<path stroke="#c0c0fc" stroke-width="2.60" d="M14.3 545.8h11.2M36.7 591.9h11.2M14.3 598.5h11.2M70.2 506.3h11.2M59.1 519.5h11.2M70.2 521.7h11.2M70.2 581h11.2M59.1 627.1h11.2M70.2 644.7h11.2M92.2 526.1h10.9M92.2 554.6h10.9M81.4 583.2h10.9M81.4 649h10.9M92.2 649h10.9M125 510.7h11.1M125 594.1h11.1M136.1 616.1h11.1M125 624.9h11.1M136.1 642.5h11.1"/>
<path stroke="#e4e4fc" stroke-width="2.60" d="M36.7 552.4h11.2M36.7 651.2h11.2M47.9 504.1h11.2M70.2 570h11.2M70.2 574.4h11.2M70.2 578.8h11.2M70.2 602.9h11.2M47.9 607.3h11.2M59.1 609.5h11.2M70.2 631.5h11.2M103.1 504.1h10.9M103.1 526.1h10.9M103.1 567.8h10.9M92.2 600.7h10.9M103.1 609.5h10.9M81.4 622.7h10.9M92.2 631.5h10.9M92.2 635.9h10.9M92.2 653.4h10.9M136.1 497.5h11.1M136.1 519.5h11.1M125 537h11.1M125 576.6h11.1M113.9 613.9h11.1M136.1 613.9h11.1M136.1 624.9h11.1M125 627.1h11.1M136.1 638.1h11.1M113.9 642.5h11.1"/>
<path stroke="#7878fc" stroke-width="2.60" d="M14.3 554.6h11.2M14.3 567.8h11.2M25.5 581h11.2M47.9 565.6h11.2M47.9 570h11.2M47.9 576.6h11.2M47.9 578.8h11.2M70.2 585.4h11.2M47.9 605.1h11.2M59.1 629.3h11.2M47.9 653.4h11.2M47.9 657.8h11.2M47.9 660h11.2M103.1 501.9h10.9M103.1 613.9h10.9M81.4 629.3h10.9M103.1 640.3h10.9M113.9 631.5h11.1"/>
<path stroke="#fcfcfc" stroke-width="2.60" d="M36.7 556.8h11.2M25.5 655.6h11.2M47.9 495.3h11.2M70.2 523.9h11.2M47.9 539.2h11.2M47.9 556.8h11.2M70.2 567.8h11.2M47.9 638.1h11.2M70.2 649h11.2M81.4 495.3h10.9M81.4 508.5h10.9M92.2 512.9h10.9M81.4 515.1h10.9M103.1 602.9h10.9M103.1 605.1h10.9M136.1 506.3h11.1M136.1 605.1h11.1M136.1 609.5h11.1"/>
<path stroke="#b4b4fc" stroke-width="2.60" d="M14.3 561.2h11.2M25.5 602.9h11.2M47.9 543.6h11.2M70.2 591.9h11.2M47.9 635.9h11.2M92.2 602.9h10.9M92.2 609.5h10.9M125 631.5h11.1M125 633.7h11.1"/>
<path stroke="#fcc0c0" stroke-width="2.60" d="M25.5 578.8h11.2M59.1 554.6h11.2M70.2 556.8h11.2M59.1 611.7h11.2M59.1 622.7h11.2M47.9 649h11.2M81.4 499.7h10.9M92.2 563.4h10.9M103.1 600.7h10.9M103.1 611.7h10.9M81.4 618.3h10.9M92.2 618.3h10.9M92.2 624.9h10.9M103.1 660h10.9M136.1 534.9h11.1M125 556.8h11.1M113.9 561.2h11.1M125 572.2h11.1M113.9 607.3h11.1M113.9 624.9h11.1M125 646.9h11.1M113.9 660h11.1"/>
<path stroke="#fc1818" stroke-width="2.60" d="M36.7 618.3h11.2M25.5 624.9h11.2M25.5 635.9h11.2M103.1 523.9h10.9M92.2 594.1h10.9M81.4 596.3h10.9M136.1 528.3h11.1M113.9 576.6h11.1"/>
<path stroke="#fc4848" stroke-width="2.60" d="M25.5 622.7h11.2M14.3 640.3h11.2M25.5 640.3h11.2M36.7 657.8h11.2M70.2 609.5h11.2M81.4 528.3h10.9M92.2 528.3h10.9M92.2 539.2h10.9M92.2 574.4h10.9M81.4 594.1h10.9M92.2 607.3h10.9M113.9 497.5h11.1M125 581h11.1M125 587.6h11.1M136.1 598.5h11.1M113.9 609.5h11.1M125 644.7h11.1"/>
<path stroke="#fca8a8" stroke-width="2.60" d="M36.7 622.7h11.2M36.7 660h11.2M47.9 609.5h11.2M47.9 616.1h11.2M47.9 624.9h11.2M92.2 537h10.9M103.1 548h10.9M81.4 567.8h10.9M103.1 596.3h10.9M81.4 605.1h10.9M103.1 635.9h10.9M103.1 657.8h10.9M125 517.3h11.1M113.9 578.8h11.1M113.9 583.2h11.1M136.1 596.3h11.1M136.1 657.8h11.1"/>
<path stroke="#fc9c9c" stroke-width="2.60" d="M36.7 624.9h11.2M36.7 631.5h11.2M59.1 616.1h11.2M70.2 627.1h11.2M47.9 629.3h11.2M70.2 660h11.2M103.1 563.4h10.9M92.2 587.6h10.9M92.2 589.8h10.9M103.1 627.1h10.9M125 495.3h11.1M113.9 554.6h11.1M125 591.9h11.1M136.1 620.5h11.1M125 649h11.1"/>
<path stroke="#fc3c3c" stroke-width="2.60" d="M36.7 627.1h11.2M59.1 653.4h11.2M103.1 519.5h10.9M92.2 552.4h10.9M81.4 565.6h10.9M103.1 587.6h10.9M113.9 499.7h11.1M113.9 501.9h11.1M113.9 515.1h11.1M125 550.2h11.1M113.9 552.4h11.1M125 640.3h11.1M113.9 653.4h11.1M136.1 660h11.1"/>
<path stroke="#fc7878" stroke-width="2.60" d="M14.3 629.3h11.2M36.7 633.7h11.2M14.3 638.1h11.2M70.2 532.7h11.2M70.2 613.9h11.2M81.4 510.7h10.9M92.2 613.9h10.9M92.2 646.9h10.9M81.4 660h10.9M113.9 530.5h11.1M136.1 532.7h11.1M136.1 543.6h11.1M125 565.6h11.1M113.9 594.1h11.1M125 598.5h11.1M125 605.1h11.1M125 651.2h11.1"/>
<path stroke="#fccccc" stroke-width="2.60" d="M25.5 629.3h11.2M47.9 534.9h11.2M70.2 618.3h11.2M47.9 620.5h11.2M47.9 631.5h11.2M81.4 506.3h10.9M92.2 523.9h10.9M92.2 581h10.9M103.1 591.9h10.9M92.2 596.3h10.9M81.4 598.5h10.9M92.2 598.5h10.9M92.2 640.3h10.9M125 602.9h11.1"/>
<path stroke="#fcb4b4" stroke-width="2.60" d="M36.7 629.3h11.2M70.2 512.9h11.2M59.1 521.7h11.2M47.9 618.3h11.2M70.2 633.7h11.2M70.2 638.1h11.2M103.1 543.6h10.9M103.1 607.3h10.9M125 508.5h11.1M125 545.8h11.1M125 609.5h11.1M125 618.3h11.1M125 622.7h11.1M113.9 649h11.1"/>
<path stroke="#fc8484" stroke-width="2.60" d="M14.3 631.5h11.2M70.2 510.7h11.2M92.2 497.5h10.9M81.4 517.3h10.9M81.4 545.8h10.9M81.4 550.2h10.9M81.4 600.7h10.9M81.4 644.7h10.9M103.1 651.2h10.9M136.1 501.9h11.1M136.1 508.5h11.1M136.1 559h11.1M136.1 576.6h11.1M136.1 583.2h11.1M125 585.4h11.1M136.1 649h11.1"/>
<path stroke="#fc0c0c" stroke-width="2.60" d="M14.3 642.5h11.2M103.1 574.4h10.9M92.2 578.8h10.9M81.4 585.4h10.9M113.9 508.5h11.1M125 523.9h11.1M136.1 537h11.1M125 574.4h11.1M113.9 646.9h11.1"/>
<path stroke="#fc6060" stroke-width="2.60" d="M25.5 642.5h11.2M103.1 594.1h10.9M81.4 657.8h10.9M136.1 526.1h11.1M113.9 541.4h11.1M113.9 567.8h11.1M113.9 570h11.1M136.1 570h11.1M125 578.8h11.1M113.9 585.4h11.1"/>
<path stroke="#fc5454" stroke-width="2.60" d="M36.7 655.6h11.2M59.1 607.3h11.2M70.2 616.1h11.2M59.1 624.9h11.2M70.2 657.8h11.2M92.2 508.5h10.9M92.2 530.5h10.9M81.4 532.7h10.9M103.1 539.2h10.9M92.2 561.2h10.9M103.1 581h10.9M136.1 499.7h11.1M125 512.9h11.1M113.9 537h11.1M136.1 539.2h11.1M125 567.8h11.1M136.1 600.7h11.1M136.1 640.3h11.1"/>
<path stroke="#fce4e4" stroke-width="2.60" d="M47.9 515.1h11.2M47.9 611.7h11.2M70.2 642.5h11.2M70.2 651.2h11.2M47.9 655.6h11.2M103.1 510.7h10.9M92.2 585.4h10.9M103.1 585.4h10.9M92.2 638.1h10.9M92.2 657.8h10.9M136.1 495.3h11.1M136.1 572.2h11.1M136.1 594.1h11.1M125 611.7h11.1M125 613.9h11.1M113.9 638.1h11.1M113.9 657.8h11.1"/>
<path stroke="#fc3030" stroke-width="2.60" d="M47.9 622.7h11.2M92.2 543.6h10.9M81.4 548h10.9M81.4 570h10.9M81.4 576.6h10.9M92.2 576.6h10.9M81.4 578.8h10.9M92.2 616.1h10.9M136.1 554.6h11.1M113.9 556.8h11.1M113.9 581h11.1M125 596.3h11.1"/>
<rect x="14.3" y="494.2" width="132.9" height="166.9" fill="none" stroke="#000" stroke-width="1.50"/>
<line x1="47.9" y1="494.2" x2="47.9" y2="661.1" stroke="#000" stroke-width="1.30"/>
<line x1="81.4" y1="494.2" x2="81.4" y2="661.1" stroke="#000" stroke-width="1.30"/>
<line x1="113.9" y1="494.2" x2="113.9" y2="661.1" stroke="#000" stroke-width="1.30"/>
<rect x="14.3" y="478.3" width="33.7" height="12.2" fill="#000000"/>
<text x="31.1" y="486.9" font-size="7.00" text-anchor="middle" fill="#fff">WT</text>
<rect x="47.9" y="478.3" width="33.6" height="12.2" fill="#1030ff"/>
<text x="64.7" y="486.9" font-size="7.00" text-anchor="middle" fill="#fff">ErbB2 KI</text>
<rect x="81.4" y="478.3" width="32.6" height="12.2" fill="#ff10aa"/>
<text x="97.7" y="486.9" font-size="7.00" text-anchor="middle" fill="#fff">ERR&#945; KO</text>
<rect x="113.9" y="478.3" width="33.4" height="12.2" fill="#9a10ff"/>
<text x="130.6" y="486.9" font-size="7.00" text-anchor="middle" fill="#fff">KI:KO</text>
<rect x="252.6" y="494.7" width="132.6" height="357.2" fill="#000"/>
<path stroke="#5454fc" stroke-width="2.59" d="M252.6 495.8h11.2M252.6 498h11.2M274.9 500.2h11.2M252.6 511.2h11.2M274.9 638.3h11.2M274.9 660.2h11.2M263.7 664.6h11.2M263.7 741.3h11.2M252.6 745.6h11.2M252.6 774.1h11.2M274.9 776.3h11.2M252.6 793.9h11.2M308.3 495.8h11.2M286 541.8h11.2M308.3 541.8h11.2M286 552.8h11.2M308.3 555h11.2M286 633.9h11.2M297.1 640.5h11.2M308.3 662.4h11.2M286 747.8h11.2M286 780.7h11.2M286 785.1h11.2M297.1 828.9h11.2M341.5 565.9h11.1M319.4 601h11.1M319.4 625.1h11.1M330.4 625.1h11.1M341.5 666.8h11.1M319.4 677.7h11.1M330.4 750h11.1M341.5 842.1h11.1M374.3 620.7h10.9M374.3 633.9h10.9M352.5 686.5h10.9M363.4 686.5h10.9M374.3 686.5h10.9M374.3 697.4h10.9M363.4 787.3h10.9M352.5 793.9h10.9M352.5 809.2h10.9M352.5 813.6h10.9M352.5 837.7h10.9M374.3 846.4h10.9"/>
<path stroke="#0000fc" stroke-width="2.59" d="M263.7 495.8h11.2M252.6 500.2h11.2M263.7 500.2h11.2M252.6 502.4h11.2M274.9 502.4h11.2M252.6 504.6h11.2M263.7 504.6h11.2M274.9 504.6h11.2M252.6 506.8h11.2M274.9 506.8h11.2M263.7 509h11.2M274.9 509h11.2M274.9 511.2h11.2M263.7 513.4h11.2M252.6 515.5h11.2M263.7 515.5h11.2M274.9 515.5h11.2M252.6 517.7h11.2M274.9 517.7h11.2M274.9 519.9h11.2M274.9 522.1h11.2M252.6 524.3h11.2M274.9 526.5h11.2M263.7 528.7h11.2M263.7 530.9h11.2M274.9 530.9h11.2M263.7 533.1h11.2M252.6 535.3h11.2M263.7 535.3h11.2M274.9 535.3h11.2M252.6 537.5h11.2M252.6 539.6h11.2M274.9 539.6h11.2M274.9 541.8h11.2M252.6 544h11.2M252.6 546.2h11.2M263.7 546.2h11.2M274.9 546.2h11.2M252.6 548.4h11.2M263.7 550.6h11.2M274.9 550.6h11.2M252.6 552.8h11.2M263.7 552.8h11.2M274.9 552.8h11.2M252.6 555h11.2M263.7 555h11.2M263.7 557.2h11.2M252.6 559.4h11.2M263.7 559.4h11.2M274.9 559.4h11.2M263.7 561.6h11.2M274.9 561.6h11.2M263.7 563.8h11.2M274.9 563.8h11.2M263.7 565.9h11.2M274.9 565.9h11.2M252.6 568.1h11.2M252.6 570.3h11.2M263.7 570.3h11.2M263.7 572.5h11.2M274.9 574.7h11.2M263.7 579.1h11.2M263.7 581.3h11.2M252.6 583.5h11.2M252.6 585.7h11.2M263.7 587.9h11.2M263.7 590.1h11.2M252.6 592.2h11.2M263.7 592.2h11.2M263.7 636.1h11.2M274.9 636.1h11.2M252.6 640.5h11.2M263.7 640.5h11.2M252.6 642.6h11.2M252.6 644.8h11.2M252.6 647h11.2M263.7 647h11.2M274.9 647h11.2M252.6 649.2h11.2M252.6 651.4h11.2M274.9 651.4h11.2M252.6 653.6h11.2M263.7 653.6h11.2M263.7 660.2h11.2M274.9 662.4h11.2M274.9 664.6h11.2M252.6 666.8h11.2M263.7 666.8h11.2M252.6 671.1h11.2M252.6 677.7h11.2M263.7 677.7h11.2M252.6 679.9h11.2M274.9 679.9h11.2M252.6 712.8h11.2M252.6 715h11.2M274.9 715h11.2M263.7 717.2h11.2M274.9 717.2h11.2M252.6 719.3h11.2M252.6 721.5h11.2M263.7 721.5h11.2M274.9 721.5h11.2M263.7 723.7h11.2M274.9 723.7h11.2M252.6 725.9h11.2M252.6 728.1h11.2M263.7 730.3h11.2M274.9 732.5h11.2M252.6 736.9h11.2M252.6 741.3h11.2M274.9 741.3h11.2M252.6 743.5h11.2M263.7 747.8h11.2M274.9 747.8h11.2M252.6 750h11.2M263.7 750h11.2M274.9 750h11.2M252.6 754.4h11.2M274.9 754.4h11.2M263.7 758.8h11.2M252.6 761h11.2M263.7 761h11.2M263.7 763.2h11.2M274.9 763.2h11.2M263.7 767.6h11.2M274.9 767.6h11.2M274.9 769.7h11.2M252.6 771.9h11.2M263.7 774.1h11.2M252.6 776.3h11.2M263.7 780.7h11.2M274.9 780.7h11.2M274.9 782.9h11.2M263.7 787.3h11.2M263.7 789.5h11.2M252.6 791.7h11.2M263.7 793.9h11.2M252.6 796h11.2M252.6 798.2h11.2M252.6 800.4h11.2M263.7 800.4h11.2M274.9 802.6h11.2M263.7 804.8h11.2M274.9 804.8h11.2M263.7 807h11.2M274.9 807h11.2M297.1 495.8h11.2M286 498h11.2M297.1 502.4h11.2M308.3 511.2h11.2M308.3 513.4h11.2M286 515.5h11.2M286 517.7h11.2M286 519.9h11.2M308.3 519.9h11.2M286 524.3h11.2M308.3 524.3h11.2M308.3 526.5h11.2M286 528.7h11.2M308.3 528.7h11.2M286 530.9h11.2M297.1 530.9h11.2M308.3 530.9h11.2M286 533.1h11.2M286 535.3h11.2M308.3 535.3h11.2M308.3 537.5h11.2M297.1 541.8h11.2M308.3 544h11.2M286 546.2h11.2M308.3 546.2h11.2M297.1 555h11.2M286 557.2h11.2M308.3 559.4h11.2M297.1 561.6h11.2M286 563.8h11.2M286 565.9h11.2M308.3 568.1h11.2M308.3 572.5h11.2M297.1 574.7h11.2M286 636.1h11.2M308.3 636.1h11.2M308.3 640.5h11.2M297.1 642.6h11.2M286 651.4h11.2M308.3 651.4h11.2M286 653.6h11.2M308.3 653.6h11.2M308.3 655.8h11.2M297.1 660.2h11.2M286 664.6h11.2M308.3 664.6h11.2M308.3 668.9h11.2M286 673.3h11.2M297.1 675.5h11.2M308.3 677.7h11.2M286 679.9h11.2M297.1 679.9h11.2M308.3 679.9h11.2M297.1 712.8h11.2M297.1 717.2h11.2M286 719.3h11.2M308.3 719.3h11.2M286 730.3h11.2M286 734.7h11.2M308.3 739.1h11.2M297.1 743.5h11.2M308.3 743.5h11.2M308.3 745.6h11.2M286 758.8h11.2M308.3 758.8h11.2M297.1 769.7h11.2M308.3 800.4h11.2M341.5 500.2h11.1M341.5 509h11.1M319.4 533.1h11.1M341.5 544h11.1M341.5 609.8h11.1M319.4 612h11.1M341.5 612h11.1M330.4 627.3h11.1M319.4 638.3h11.1M319.4 644.8h11.1M330.4 644.8h11.1M319.4 660.2h11.1M319.4 662.4h11.1M319.4 664.6h11.1M319.4 668.9h11.1M341.5 668.9h11.1M330.4 677.7h11.1M341.5 682.1h11.1M319.4 706.2h11.1M341.5 734.7h11.1M319.4 736.9h11.1M319.4 800.4h11.1M341.5 833.3h11.1M319.4 837.7h11.1M341.5 839.9h11.1M374.3 601h10.9M363.4 605.4h10.9M374.3 607.6h10.9M352.5 609.8h10.9M363.4 614.2h10.9M352.5 620.7h10.9M352.5 625.1h10.9M374.3 631.7h10.9M352.5 633.9h10.9M363.4 633.9h10.9M352.5 684.3h10.9M352.5 688.7h10.9M352.5 690.9h10.9M352.5 693h10.9M352.5 697.4h10.9M374.3 708.4h10.9M374.3 710.6h10.9M374.3 780.7h10.9M352.5 785.1h10.9M352.5 789.5h10.9M363.4 789.5h10.9M363.4 791.7h10.9M363.4 793.9h10.9M374.3 793.9h10.9M374.3 796h10.9M352.5 798.2h10.9M363.4 798.2h10.9M352.5 800.4h10.9M352.5 802.6h10.9M374.3 802.6h10.9M352.5 804.8h10.9M363.4 804.8h10.9M374.3 804.8h10.9M352.5 807h10.9M363.4 811.4h10.9M352.5 815.8h10.9M374.3 818h10.9M352.5 824.5h10.9M363.4 824.5h10.9M352.5 826.7h10.9M352.5 828.9h10.9M363.4 828.9h10.9M352.5 831.1h10.9M363.4 831.1h10.9M374.3 831.1h10.9M352.5 835.5h10.9M352.5 839.9h10.9M374.3 844.3h10.9M352.5 846.4h10.9M363.4 848.6h10.9"/>
<path stroke="#fc4848" stroke-width="2.59" d="M274.9 495.8h11.2M274.9 603.2h11.2M274.9 607.6h11.2M252.6 612h11.2M274.9 618.5h11.2M252.6 625.1h11.2M274.9 697.4h11.2M252.6 704h11.2M263.7 833.3h11.2M252.6 835.5h11.2M263.7 835.5h11.2M263.7 846.4h11.2M308.3 579.1h11.2M286 585.7h11.2M297.1 585.7h11.2M308.3 609.8h11.2M297.1 622.9h11.2M308.3 686.5h11.2M308.3 706.2h11.2M286 710.6h11.2M297.1 780.7h11.2M286 846.4h11.2M308.3 848.6h11.2M319.4 513.4h11.1M319.4 596.6h11.1M330.4 710.6h11.1M319.4 732.5h11.1M319.4 758.8h11.1M341.5 767.6h11.1M330.4 769.7h11.1M319.4 778.5h11.1M374.3 498h10.9M352.5 504.6h10.9M374.3 511.2h10.9M374.3 546.2h10.9M363.4 579.1h10.9M374.3 596.6h10.9M363.4 732.5h10.9M352.5 745.6h10.9M352.5 769.7h10.9"/>
<path stroke="#2424fc" stroke-width="2.59" d="M263.7 498h11.2M274.9 568.1h11.2M263.7 576.9h11.2M274.9 581.3h11.2M252.6 587.9h11.2M263.7 644.8h11.2M252.6 658h11.2M263.7 671.1h11.2M263.7 712.8h11.2M252.6 723.7h11.2M263.7 725.9h11.2M263.7 736.9h11.2M252.6 778.5h11.2M274.9 796h11.2M297.1 500.2h11.2M308.3 502.4h11.2M297.1 504.6h11.2M297.1 511.2h11.2M297.1 517.7h11.2M297.1 544h11.2M308.3 644.8h11.2M297.1 668.9h11.2M319.4 506.8h11.1M341.5 579.1h11.1M341.5 618.5h11.1M319.4 675.5h11.1M352.5 603.2h10.9M374.3 612h10.9M374.3 616.3h10.9M374.3 625.1h10.9M363.4 690.9h10.9M352.5 699.6h10.9M374.3 787.3h10.9M374.3 800.4h10.9M363.4 820.1h10.9M352.5 833.3h10.9M363.4 835.5h10.9M374.3 835.5h10.9"/>
<path stroke="#4848fc" stroke-width="2.59" d="M274.9 498h11.2M263.7 526.5h11.2M274.9 544h11.2M252.6 579.1h11.2M252.6 581.3h11.2M274.9 640.5h11.2M274.9 642.6h11.2M263.7 658h11.2M274.9 675.5h11.2M274.9 677.7h11.2M252.6 780.7h11.2M274.9 800.4h11.2M286 509h11.2M286 561.6h11.2M308.3 563.8h11.2M286 572.5h11.2M297.1 647h11.2M297.1 725.9h11.2M297.1 824.5h11.2M308.3 850.8h11.2M319.4 515.5h11.1M330.4 535.3h11.1M319.4 579.1h11.1M341.5 664.6h11.1M341.5 736.9h11.1M363.4 601h10.9M363.4 616.3h10.9M363.4 802.6h10.9M363.4 815.8h10.9M352.5 818h10.9M363.4 818h10.9M374.3 848.6h10.9"/>
<path stroke="#7878fc" stroke-width="2.59" d="M263.7 502.4h11.2M263.7 539.6h11.2M263.7 548.4h11.2M274.9 668.9h11.2M263.7 734.7h11.2M252.6 747.8h11.2M308.3 548.4h11.2M308.3 552.8h11.2M286 559.4h11.2M308.3 614.2h11.2M297.1 631.7h11.2M286 666.8h11.2M297.1 673.3h11.2M308.3 675.5h11.2M297.1 715h11.2M308.3 750h11.2M308.3 754.4h11.2M308.3 787.3h11.2M308.3 842.1h11.2M341.5 629.5h11.1M341.5 712.8h11.1M319.4 723.7h11.1M319.4 791.7h11.1M330.4 815.8h11.1M330.4 831.1h11.1M330.4 839.9h11.1M352.5 607.6h10.9M352.5 616.3h10.9M363.4 688.7h10.9M363.4 782.9h10.9M363.4 785.1h10.9"/>
<path stroke="#0c0cfc" stroke-width="2.59" d="M263.7 506.8h11.2M252.6 528.7h11.2M274.9 579.1h11.2M274.9 592.2h11.2M263.7 594.4h11.2M252.6 638.3h11.2M252.6 668.9h11.2M274.9 761h11.2M263.7 778.5h11.2M308.3 633.9h11.2M319.4 504.6h11.1M330.4 522.1h11.1M330.4 550.6h11.1M341.5 563.8h11.1M341.5 660.2h11.1M352.5 710.6h10.9M363.4 813.6h10.9M363.4 850.8h10.9"/>
<path stroke="#8484fc" stroke-width="2.59" d="M252.6 509h11.2M252.6 533.1h11.2M274.9 555h11.2M252.6 557.2h11.2M263.7 585.7h11.2M252.6 655.8h11.2M263.7 743.5h11.2M274.9 793.9h11.2M252.6 807h11.2M286 495.8h11.2M297.1 552.8h11.2M297.1 559.4h11.2M286 590.1h11.2M286 640.5h11.2M286 728.1h11.2M308.3 736.9h11.2M308.3 747.8h11.2M286 752.2h11.2M297.1 756.6h11.2M286 763.2h11.2M286 778.5h11.2M286 802.6h11.2M308.3 831.1h11.2M330.4 524.3h11.1M330.4 568.1h11.1M341.5 636.1h11.1M330.4 640.5h11.1M330.4 653.6h11.1M330.4 671.1h11.1M319.4 824.5h11.1M319.4 831.1h11.1M330.4 842.1h11.1M363.4 622.9h10.9M363.4 697.4h10.9M352.5 787.3h10.9M374.3 820.1h10.9M374.3 828.9h10.9M374.3 837.7h10.9M352.5 848.6h10.9"/>
<path stroke="#6c6cfc" stroke-width="2.59" d="M263.7 511.2h11.2M274.9 528.7h11.2M252.6 530.9h11.2M274.9 570.3h11.2M274.9 576.9h11.2M263.7 642.6h11.2M252.6 662.4h11.2M274.9 671.1h11.2M252.6 673.3h11.2M274.9 673.3h11.2M274.9 730.3h11.2M252.6 752.2h11.2M274.9 765.4h11.2M252.6 767.6h11.2M252.6 787.3h11.2M252.6 789.5h11.2M297.1 513.4h11.2M297.1 515.5h11.2M308.3 515.5h11.2M308.3 517.7h11.2M308.3 539.6h11.2M286 550.6h11.2M297.1 570.3h11.2M308.3 585.7h11.2M286 594.4h11.2M297.1 638.3h11.2M286 701.8h11.2M297.1 721.5h11.2M297.1 734.7h11.2M308.3 734.7h11.2M319.4 522.1h11.1M319.4 552.8h11.1M341.5 552.8h11.1M341.5 585.7h11.1M319.4 627.3h11.1M319.4 673.3h11.1M330.4 682.1h11.1M330.4 745.6h11.1M341.5 747.8h11.1M341.5 811.4h11.1M330.4 822.3h11.1M319.4 828.9h11.1M330.4 835.5h11.1M330.4 846.4h11.1M363.4 607.6h10.9M352.5 618.5h10.9M374.3 701.8h10.9M374.3 782.9h10.9M374.3 791.7h10.9M374.3 811.4h10.9M374.3 839.9h10.9M352.5 844.3h10.9"/>
<path stroke="#ccccfc" stroke-width="2.59" d="M252.6 513.4h11.2M252.6 519.9h11.2M263.7 605.4h11.2M286 513.4h11.2M308.3 581.3h11.2M286 583.5h11.2M308.3 603.2h11.2M297.1 688.7h11.2M286 695.2h11.2M286 761h11.2M308.3 771.9h11.2M297.1 778.5h11.2M286 842.1h11.2M297.1 848.6h11.2M341.5 519.9h11.1M319.4 528.7h11.1M341.5 535.3h11.1M330.4 596.6h11.1M319.4 607.6h11.1M341.5 627.3h11.1M330.4 636.1h11.1M330.4 675.5h11.1M330.4 688.7h11.1M330.4 695.2h11.1M330.4 736.9h11.1M319.4 782.9h11.1M341.5 787.3h11.1M341.5 791.7h11.1M319.4 809.2h11.1M330.4 820.1h11.1M319.4 822.3h11.1M319.4 835.5h11.1M363.4 506.8h10.9M363.4 524.3h10.9M352.5 706.2h10.9M363.4 708.4h10.9M374.3 785.1h10.9"/>
<path stroke="#a8a8fc" stroke-width="2.59" d="M274.9 513.4h11.2M274.9 533.1h11.2M252.6 541.8h11.2M263.7 662.4h11.2M297.1 548.4h11.2M286 574.7h11.2M297.1 627.3h11.2M297.1 655.8h11.2M297.1 719.3h11.2M286 732.5h11.2M297.1 741.3h11.2M308.3 756.6h11.2M308.3 789.5h11.2M286 809.2h11.2M297.1 815.8h11.2M286 831.1h11.2M330.4 498h11.1M319.4 502.4h11.1M330.4 546.2h11.1M330.4 555h11.1M330.4 559.4h11.1M341.5 561.6h11.1M330.4 570.3h11.1M341.5 607.6h11.1M330.4 616.3h11.1M330.4 638.3h11.1M341.5 647h11.1M319.4 701.8h11.1M319.4 730.3h11.1M341.5 750h11.1M341.5 802.6h11.1M330.4 818h11.1M352.5 605.4h10.9M374.3 609.8h10.9M352.5 695.2h10.9M352.5 704h10.9M374.3 739.1h10.9M374.3 809.2h10.9M363.4 822.3h10.9"/>
<path stroke="#fccccc" stroke-width="2.59" d="M263.7 517.7h11.2M263.7 616.3h11.2M252.6 684.3h11.2M274.9 686.5h11.2M274.9 693h11.2M274.9 842.1h11.2M297.1 579.1h11.2M286 587.9h11.2M286 618.5h11.2M308.3 647h11.2M286 706.2h11.2M308.3 708.4h11.2M286 721.5h11.2M297.1 739.1h11.2M297.1 800.4h11.2M297.1 822.3h11.2M286 844.3h11.2M319.4 500.2h11.1M330.4 563.8h11.1M319.4 574.7h11.1M330.4 666.8h11.1M341.5 704h11.1M330.4 721.5h11.1M341.5 739.1h11.1M341.5 741.3h11.1M341.5 774.1h11.1M330.4 776.3h11.1M330.4 780.7h11.1M341.5 835.5h11.1M363.4 517.7h10.9M363.4 636.1h10.9M363.4 653.6h10.9M363.4 673.3h10.9M363.4 730.3h10.9M363.4 745.6h10.9"/>
<path stroke="#b4b4fc" stroke-width="2.59" d="M263.7 519.9h11.2M252.6 572.5h11.2M263.7 583.5h11.2M274.9 712.8h11.2M252.6 732.5h11.2M263.7 756.6h11.2M274.9 758.8h11.2M263.7 765.4h11.2M274.9 789.5h11.2M286 504.6h11.2M297.1 533.1h11.2M286 548.4h11.2M297.1 550.6h11.2M297.1 572.5h11.2M286 614.2h11.2M286 662.4h11.2M308.3 673.3h11.2M297.1 736.9h11.2M297.1 758.8h11.2M308.3 774.1h11.2M286 791.7h11.2M297.1 802.6h11.2M286 813.6h11.2M286 824.5h11.2M297.1 844.3h11.2M319.4 570.3h11.1M330.4 581.3h11.1M330.4 649.2h11.1M341.5 649.2h11.1M341.5 675.5h11.1M330.4 699.6h11.1M319.4 747.8h11.1M330.4 758.8h11.1M319.4 789.5h11.1M341.5 800.4h11.1M374.3 603.2h10.9M374.3 622.9h10.9M374.3 629.5h10.9M363.4 710.6h10.9M363.4 800.4h10.9"/>
<path stroke="#9c9cfc" stroke-width="2.59" d="M252.6 522.1h11.2M263.7 524.3h11.2M263.7 541.8h11.2M263.7 568.1h11.2M274.9 666.8h11.2M263.7 675.5h11.2M263.7 728.1h11.2M274.9 736.9h11.2M274.9 739.1h11.2M252.6 756.6h11.2M252.6 758.8h11.2M297.1 498h11.2M286 647h11.2M286 671.1h11.2M297.1 699.6h11.2M297.1 730.3h11.2M286 745.6h11.2M308.3 752.2h11.2M297.1 809.2h11.2M297.1 831.1h11.2M297.1 850.8h11.2M330.4 519.9h11.1M341.5 524.3h11.1M341.5 614.2h11.1M341.5 631.7h11.1M330.4 679.9h11.1M341.5 695.2h11.1M341.5 719.3h11.1M330.4 747.8h11.1M319.4 802.6h11.1M330.4 813.6h11.1M319.4 842.1h11.1M352.5 601h10.9M363.4 627.3h10.9M374.3 688.7h10.9M352.5 701.8h10.9M374.3 704h10.9M363.4 809.2h10.9M374.3 842.1h10.9"/>
<path stroke="#c0c0fc" stroke-width="2.59" d="M263.7 522.1h11.2M263.7 715h11.2M252.6 769.7h11.2M263.7 771.9h11.2M252.6 782.9h11.2M308.3 506.8h11.2M308.3 509h11.2M286 592.2h11.2M297.1 596.6h11.2M286 620.7h11.2M308.3 666.8h11.2M286 688.7h11.2M297.1 690.9h11.2M286 756.6h11.2M297.1 767.6h11.2M308.3 782.9h11.2M308.3 813.6h11.2M341.5 495.8h11.1M330.4 504.6h11.1M330.4 557.2h11.1M319.4 603.2h11.1M319.4 614.2h11.1M319.4 629.5h11.1M330.4 631.7h11.1M330.4 668.9h11.1M319.4 750h11.1M341.5 785.1h11.1M319.4 813.6h11.1M341.5 815.8h11.1M330.4 833.3h11.1M363.4 509h10.9M374.3 605.4h10.9M363.4 620.7h10.9M363.4 780.7h10.9M352.5 811.4h10.9M363.4 826.7h10.9"/>
<path stroke="#3c3cfc" stroke-width="2.59" d="M274.9 524.3h11.2M252.6 565.9h11.2M252.6 576.9h11.2M274.9 587.9h11.2M274.9 594.4h11.2M263.7 719.3h11.2M263.7 752.2h11.2M252.6 765.4h11.2M274.9 787.3h11.2M274.9 798.2h11.2M252.6 804.8h11.2M308.3 565.9h11.2M308.3 638.3h11.2M297.1 649.2h11.2M286 675.5h11.2M297.1 704h11.2M308.3 761h11.2M341.5 504.6h11.1M341.5 515.5h11.1M319.4 526.5h11.1M330.4 603.2h11.1M319.4 616.3h11.1M341.5 679.9h11.1M330.4 752.2h11.1M319.4 818h11.1M319.4 846.4h11.1M319.4 848.6h11.1M374.3 695.2h10.9M374.3 699.6h10.9M363.4 701.8h10.9M363.4 796h10.9M374.3 798.2h10.9"/>
<path stroke="#fce4e4" stroke-width="2.59" d="M252.6 526.5h11.2M252.6 763.2h11.2M263.7 791.7h11.2M286 581.3h11.2M297.1 587.9h11.2M297.1 708.4h11.2M308.3 769.7h11.2M297.1 807h11.2M308.3 807h11.2M319.4 524.3h11.1M341.5 548.4h11.1M330.4 618.5h11.1M330.4 622.9h11.1M341.5 651.4h11.1M341.5 677.7h11.1M341.5 686.5h11.1M319.4 708.4h11.1M319.4 715h11.1M319.4 734.7h11.1M330.4 743.5h11.1M319.4 761h11.1M341.5 780.7h11.1M341.5 807h11.1M330.4 848.6h11.1M374.3 636.1h10.9M363.4 649.2h10.9M352.5 653.6h10.9M374.3 747.8h10.9M374.3 769.7h10.9"/>
<path stroke="#fc9c9c" stroke-width="2.59" d="M263.7 537.5h11.2M252.6 616.3h11.2M252.6 844.3h11.2M286 576.9h11.2M286 601h11.2M308.3 631.7h11.2M297.1 651.4h11.2M297.1 701.8h11.2M286 708.4h11.2M286 743.5h11.2M286 787.3h11.2M286 835.5h11.2M297.1 837.7h11.2M297.1 842.1h11.2M319.4 517.7h11.1M319.4 541.8h11.1M341.5 570.3h11.1M330.4 629.5h11.1M341.5 633.9h11.1M319.4 690.9h11.1M319.4 756.6h11.1M341.5 761h11.1M319.4 796h11.1M352.5 498h10.9M363.4 535.3h10.9M363.4 651.4h10.9M363.4 695.2h10.9M363.4 739.1h10.9M374.3 826.7h10.9"/>
<path stroke="#e4e4fc" stroke-width="2.59" d="M274.9 537.5h11.2M274.9 745.6h11.2M274.9 778.5h11.2M286 642.6h11.2M297.1 697.4h11.2M286 699.6h11.2M308.3 701.8h11.2M297.1 750h11.2M286 754.4h11.2M286 767.6h11.2M297.1 776.3h11.2M308.3 776.3h11.2M297.1 798.2h11.2M297.1 820.1h11.2M286 828.9h11.2M308.3 839.9h11.2M330.4 502.4h11.1M330.4 528.7h11.1M319.4 535.3h11.1M341.5 539.6h11.1M330.4 583.5h11.1M341.5 616.3h11.1M319.4 618.5h11.1M319.4 651.4h11.1M341.5 655.8h11.1M341.5 699.6h11.1M319.4 774.1h11.1M341.5 818h11.1M319.4 826.7h11.1M330.4 850.8h11.1M352.5 612h10.9M374.3 789.5h10.9M352.5 820.1h10.9"/>
<path stroke="#3030fc" stroke-width="2.59" d="M263.7 544h11.2M252.6 550.6h11.2M252.6 563.8h11.2M274.9 572.5h11.2M274.9 585.7h11.2M263.7 679.9h11.2M252.6 730.3h11.2M263.7 745.6h11.2M263.7 754.4h11.2M263.7 769.7h11.2M263.7 776.3h11.2M274.9 785.1h11.2M274.9 791.7h11.2M252.6 802.6h11.2M286 506.8h11.2M286 544h11.2M308.3 550.6h11.2M286 555h11.2M308.3 574.7h11.2M286 622.9h11.2M308.3 741.3h11.2M297.1 765.4h11.2M308.3 820.1h11.2M308.3 846.4h11.2M330.4 511.2h11.1M341.5 583.5h11.1M341.5 625.1h11.1M319.4 653.6h11.1M330.4 673.3h11.1M330.4 771.9h11.1M319.4 807h11.1M330.4 828.9h11.1M363.4 625.1h10.9M352.5 629.5h10.9M374.3 682.1h10.9M363.4 684.3h10.9M363.4 699.6h10.9M374.3 706.2h10.9M352.5 822.3h10.9M374.3 822.3h10.9"/>
<path stroke="#1818fc" stroke-width="2.59" d="M274.9 548.4h11.2M274.9 653.6h11.2M274.9 658h11.2M263.7 673.3h11.2M274.9 719.3h11.2M274.9 728.1h11.2M252.6 734.7h11.2M263.7 739.1h11.2M263.7 782.9h11.2M286 500.2h11.2M308.3 522.1h11.2M297.1 528.7h11.2M297.1 537.5h11.2M286 539.6h11.2M286 570.3h11.2M297.1 644.8h11.2M286 655.8h11.2M308.3 658h11.2M297.1 677.7h11.2M308.3 715h11.2M308.3 721.5h11.2M297.1 728.1h11.2M297.1 745.6h11.2M297.1 752.2h11.2M319.4 605.4h11.1M341.5 622.9h11.1M330.4 701.8h11.1M319.4 752.2h11.1M319.4 844.3h11.1M352.5 614.2h10.9M374.3 618.5h10.9M363.4 631.7h10.9M374.3 693h10.9M352.5 780.7h10.9M363.4 837.7h10.9M363.4 842.1h10.9M352.5 850.8h10.9"/>
<path stroke="#6060fc" stroke-width="2.59" d="M274.9 557.2h11.2M263.7 574.7h11.2M252.6 594.4h11.2M252.6 660.2h11.2M252.6 664.6h11.2M274.9 725.9h11.2M274.9 734.7h11.2M252.6 739.1h11.2M263.7 785.1h11.2M263.7 796h11.2M308.3 498h11.2M286 522.1h11.2M297.1 522.1h11.2M286 526.5h11.2M308.3 533.1h11.2M297.1 605.4h11.2M286 644.8h11.2M286 658h11.2M297.1 671.1h11.2M286 723.7h11.2M297.1 754.4h11.2M297.1 761h11.2M341.5 592.2h11.1M330.4 601h11.1M330.4 662.4h11.1M341.5 697.4h11.1M341.5 846.4h11.1M352.5 627.3h10.9M374.3 627.3h10.9M363.4 682.1h10.9M374.3 684.3h10.9M374.3 690.9h10.9M363.4 693h10.9M352.5 791.7h10.9M363.4 807h10.9M374.3 807h10.9M363.4 833.3h10.9M363.4 839.9h10.9M363.4 844.3h10.9"/>
<path stroke="#d8d8fc" stroke-width="2.59" d="M252.6 561.6h11.2M274.9 583.5h11.2M252.6 605.4h11.2M274.9 649.2h11.2M263.7 651.4h11.2M274.9 699.6h11.2M297.1 524.3h11.2M286 609.8h11.2M297.1 636.1h11.2M286 638.3h11.2M297.1 666.8h11.2M286 668.9h11.2M297.1 684.3h11.2M308.3 697.4h11.2M286 776.3h11.2M341.5 502.4h11.1M341.5 528.7h11.1M319.4 539.6h11.1M319.4 581.3h11.1M341.5 603.2h11.1M330.4 609.8h11.1M319.4 633.9h11.1M319.4 642.6h11.1M319.4 649.2h11.1M341.5 717.2h11.1M341.5 769.7h11.1M330.4 793.9h11.1M319.4 804.8h11.1M363.4 603.2h10.9M352.5 796h10.9"/>
<path stroke="#fcc0c0" stroke-width="2.59" d="M252.6 574.7h11.2M252.6 609.8h11.2M263.7 649.2h11.2M274.9 710.6h11.2M263.7 831.1h11.2M263.7 839.9h11.2M274.9 844.3h11.2M297.1 506.8h11.2M297.1 526.5h11.2M297.1 603.2h11.2M308.3 660.2h11.2M308.3 723.7h11.2M308.3 725.9h11.2M286 818h11.2M308.3 833.3h11.2M319.4 511.2h11.1M330.4 515.5h11.1M330.4 544h11.1M330.4 572.5h11.1M319.4 594.4h11.1M341.5 598.8h11.1M341.5 605.4h11.1M341.5 620.7h11.1M319.4 671.1h11.1M330.4 684.3h11.1M330.4 730.3h11.1M319.4 754.4h11.1M330.4 807h11.1M374.3 515.5h10.9M363.4 587.9h10.9M363.4 592.2h10.9M374.3 598.8h10.9M352.5 622.9h10.9M363.4 776.3h10.9"/>
<path stroke="#9090fc" stroke-width="2.59" d="M252.6 590.1h11.2M274.9 590.1h11.2M274.9 631.7h11.2M252.6 636.1h11.2M274.9 644.8h11.2M274.9 655.8h11.2M252.6 785.1h11.2M263.7 802.6h11.2M308.3 504.6h11.2M286 568.1h11.2M297.1 620.7h11.2M308.3 642.6h11.2M297.1 662.4h11.2M286 725.9h11.2M297.1 732.5h11.2M286 811.4h11.2M308.3 824.5h11.2M308.3 837.7h11.2M308.3 844.3h11.2M297.1 846.4h11.2M341.5 506.8h11.1M319.4 530.9h11.1M341.5 533.1h11.1M341.5 594.4h11.1M341.5 638.3h11.1M330.4 642.6h11.1M319.4 655.8h11.1M319.4 658h11.1M319.4 739.1h11.1M330.4 739.1h11.1M319.4 745.6h11.1M330.4 789.5h11.1M330.4 824.5h11.1M374.3 833.3h10.9M352.5 842.1h10.9"/>
<path stroke="#fc6060" stroke-width="2.59" d="M252.6 596.6h11.2M274.9 627.3h11.2M252.6 633.9h11.2M274.9 815.8h11.2M274.9 818h11.2M274.9 822.3h11.2M263.7 848.6h11.2M297.1 607.6h11.2M286 774.1h11.2M319.4 519.9h11.1M330.4 533.1h11.1M319.4 550.6h11.1M330.4 561.6h11.1M341.5 590.1h11.1M330.4 598.8h11.1M319.4 609.8h11.1M330.4 633.9h11.1M330.4 693h11.1M330.4 717.2h11.1M330.4 765.4h11.1M330.4 844.3h11.1M374.3 500.2h10.9M352.5 506.8h10.9M374.3 526.5h10.9M352.5 552.8h10.9M374.3 570.3h10.9M374.3 585.7h10.9M374.3 592.2h10.9M363.4 638.3h10.9M374.3 640.5h10.9M352.5 717.2h10.9M374.3 761h10.9M374.3 774.1h10.9M352.5 776.3h10.9"/>
<path stroke="#fc7878" stroke-width="2.59" d="M263.7 596.6h11.2M263.7 607.6h11.2M252.6 629.5h11.2M252.6 631.7h11.2M274.9 682.1h11.2M263.7 693h11.2M263.7 697.4h11.2M263.7 706.2h11.2M252.6 833.3h11.2M308.3 690.9h11.2M297.1 695.2h11.2M308.3 778.5h11.2M297.1 839.9h11.2M330.4 526.5h11.1M330.4 541.8h11.1M341.5 541.8h11.1M319.4 565.9h11.1M330.4 605.4h11.1M341.5 708.4h11.1M319.4 710.6h11.1M363.4 519.9h10.9M363.4 533.1h10.9M352.5 535.3h10.9M374.3 587.9h10.9M374.3 671.1h10.9M352.5 752.2h10.9"/>
<path stroke="#fc0000" stroke-width="2.59" d="M274.9 596.6h11.2M263.7 598.8h11.2M263.7 609.8h11.2M274.9 612h11.2M252.6 614.2h11.2M263.7 614.2h11.2M274.9 614.2h11.2M274.9 616.3h11.2M252.6 620.7h11.2M263.7 620.7h11.2M274.9 622.9h11.2M274.9 625.1h11.2M263.7 631.7h11.2M263.7 633.9h11.2M274.9 633.9h11.2M252.6 682.1h11.2M263.7 682.1h11.2M263.7 684.3h11.2M274.9 684.3h11.2M252.6 686.5h11.2M263.7 686.5h11.2M263.7 688.7h11.2M274.9 688.7h11.2M263.7 690.9h11.2M274.9 690.9h11.2M252.6 697.4h11.2M252.6 699.6h11.2M263.7 701.8h11.2M274.9 704h11.2M252.6 708.4h11.2M252.6 809.2h11.2M274.9 809.2h11.2M252.6 811.4h11.2M263.7 811.4h11.2M252.6 813.6h11.2M274.9 813.6h11.2M252.6 818h11.2M263.7 818h11.2M263.7 820.1h11.2M252.6 822.3h11.2M263.7 822.3h11.2M252.6 824.5h11.2M274.9 826.7h11.2M252.6 828.9h11.2M263.7 842.1h11.2M252.6 848.6h11.2M263.7 850.8h11.2M297.1 581.3h11.2M297.1 583.5h11.2M286 603.2h11.2M297.1 616.3h11.2M308.3 616.3h11.2M308.3 618.5h11.2M286 682.1h11.2M286 686.5h11.2M286 690.9h11.2M308.3 765.4h11.2M286 771.9h11.2M308.3 802.6h11.2M286 822.3h11.2M308.3 828.9h11.2M341.5 537.5h11.1M330.4 552.8h11.1M319.4 563.8h11.1M341.5 576.9h11.1M319.4 583.5h11.1M319.4 587.9h11.1M319.4 598.8h11.1M319.4 686.5h11.1M319.4 693h11.1M341.5 701.8h11.1M341.5 706.2h11.1M341.5 752.2h11.1M330.4 761h11.1M330.4 763.2h11.1M341.5 763.2h11.1M319.4 769.7h11.1M319.4 787.3h11.1M330.4 787.3h11.1M341.5 789.5h11.1M341.5 796h11.1M341.5 798.2h11.1M341.5 809.2h11.1M341.5 828.9h11.1M341.5 831.1h11.1M352.5 495.8h10.9M363.4 495.8h10.9M374.3 495.8h10.9M352.5 500.2h10.9M363.4 500.2h10.9M352.5 502.4h10.9M374.3 502.4h10.9M374.3 506.8h10.9M352.5 509h10.9M374.3 509h10.9M352.5 513.4h10.9M352.5 515.5h10.9M363.4 515.5h10.9M352.5 517.7h10.9M374.3 519.9h10.9M352.5 522.1h10.9M363.4 522.1h10.9M352.5 524.3h10.9M374.3 524.3h10.9M352.5 526.5h10.9M363.4 526.5h10.9M374.3 528.7h10.9M352.5 530.9h10.9M352.5 533.1h10.9M374.3 533.1h10.9M374.3 535.3h10.9M352.5 537.5h10.9M363.4 537.5h10.9M352.5 539.6h10.9M363.4 539.6h10.9M374.3 541.8h10.9M352.5 544h10.9M363.4 544h10.9M374.3 544h10.9M352.5 546.2h10.9M352.5 548.4h10.9M363.4 548.4h10.9M363.4 552.8h10.9M374.3 552.8h10.9M363.4 555h10.9M374.3 555h10.9M352.5 557.2h10.9M374.3 557.2h10.9M352.5 559.4h10.9M374.3 559.4h10.9M352.5 561.6h10.9M363.4 561.6h10.9M374.3 561.6h10.9M363.4 563.8h10.9M352.5 565.9h10.9M363.4 565.9h10.9M374.3 568.1h10.9M352.5 570.3h10.9M363.4 570.3h10.9M352.5 572.5h10.9M374.3 572.5h10.9M352.5 574.7h10.9M363.4 574.7h10.9M374.3 574.7h10.9M352.5 576.9h10.9M352.5 579.1h10.9M374.3 581.3h10.9M352.5 583.5h10.9M374.3 583.5h10.9M352.5 585.7h10.9M363.4 585.7h10.9M352.5 590.1h10.9M363.4 590.1h10.9M374.3 590.1h10.9M352.5 592.2h10.9M352.5 594.4h10.9M363.4 594.4h10.9M374.3 594.4h10.9M352.5 596.6h10.9M352.5 598.8h10.9M352.5 636.1h10.9M352.5 638.3h10.9M374.3 638.3h10.9M352.5 642.6h10.9M374.3 642.6h10.9M363.4 644.8h10.9M352.5 647h10.9M374.3 647h10.9M352.5 649.2h10.9M374.3 649.2h10.9M352.5 651.4h10.9M374.3 653.6h10.9M352.5 655.8h10.9M363.4 655.8h10.9M352.5 658h10.9M363.4 658h10.9M374.3 658h10.9M352.5 660.2h10.9M374.3 660.2h10.9M352.5 662.4h10.9M374.3 662.4h10.9M352.5 664.6h10.9M374.3 664.6h10.9M363.4 666.8h10.9M352.5 671.1h10.9M352.5 673.3h10.9M352.5 675.5h10.9M363.4 675.5h10.9M363.4 677.7h10.9M352.5 679.9h10.9M363.4 712.8h10.9M374.3 712.8h10.9M352.5 715h10.9M363.4 715h10.9M363.4 717.2h10.9M363.4 719.3h10.9M352.5 721.5h10.9M363.4 721.5h10.9M374.3 721.5h10.9M352.5 723.7h10.9M363.4 723.7h10.9M374.3 723.7h10.9M352.5 725.9h10.9M363.4 725.9h10.9M363.4 728.1h10.9M352.5 730.3h10.9M352.5 732.5h10.9M352.5 734.7h10.9M363.4 734.7h10.9M374.3 734.7h10.9M352.5 736.9h10.9M363.4 736.9h10.9M374.3 736.9h10.9M352.5 741.3h10.9M363.4 741.3h10.9M374.3 741.3h10.9M352.5 743.5h10.9M363.4 743.5h10.9M352.5 747.8h10.9M363.4 747.8h10.9M352.5 750h10.9M363.4 752.2h10.9M352.5 754.4h10.9M363.4 754.4h10.9M352.5 756.6h10.9M363.4 756.6h10.9M352.5 758.8h10.9M363.4 758.8h10.9M374.3 758.8h10.9M352.5 761h10.9M363.4 763.2h10.9M374.3 765.4h10.9M352.5 767.6h10.9M363.4 769.7h10.9M352.5 771.9h10.9M374.3 771.9h10.9M352.5 774.1h10.9M363.4 774.1h10.9M352.5 778.5h10.9M363.4 778.5h10.9M374.3 778.5h10.9"/>
<path stroke="#fca8a8" stroke-width="2.59" d="M252.6 598.8h11.2M263.7 813.6h11.2M308.3 561.6h11.2M297.1 565.9h11.2M297.1 592.2h11.2M286 598.8h11.2M297.1 625.1h11.2M286 631.7h11.2M286 697.4h11.2M308.3 791.7h11.2M286 807h11.2M297.1 811.4h11.2M297.1 813.6h11.2M330.4 506.8h11.1M341.5 555h11.1M341.5 568.1h11.1M341.5 587.9h11.1M319.4 590.1h11.1M330.4 664.6h11.1M341.5 688.7h11.1M341.5 690.9h11.1M319.4 699.6h11.1M341.5 721.5h11.1M341.5 723.7h11.1M330.4 754.4h11.1M330.4 756.6h11.1M341.5 776.3h11.1M341.5 778.5h11.1M330.4 804.8h11.1M319.4 811.4h11.1M341.5 822.3h11.1M374.3 719.3h10.9M374.3 750h10.9M363.4 761h10.9M374.3 824.5h10.9"/>
<path stroke="#fc0c0c" stroke-width="2.59" d="M274.9 598.8h11.2M274.9 605.4h11.2M252.6 695.2h11.2M263.7 815.8h11.2M263.7 824.5h11.2M274.9 850.8h11.2M308.3 607.6h11.2M297.1 706.2h11.2M308.3 793.9h11.2M286 800.4h11.2M286 848.6h11.2M341.5 574.7h11.1M330.4 592.2h11.1M330.4 706.2h11.1M341.5 715h11.1M330.4 741.3h11.1M330.4 796h11.1M330.4 800.4h11.1M374.3 537.5h10.9M374.3 548.4h10.9M352.5 568.1h10.9M363.4 598.8h10.9M374.3 675.5h10.9M352.5 765.4h10.9M374.3 767.6h10.9M374.3 776.3h10.9"/>
<path stroke="#fc5454" stroke-width="2.59" d="M252.6 601h11.2M263.7 601h11.2M274.9 601h11.2M263.7 710.6h11.2M252.6 826.7h11.2M252.6 839.9h11.2M252.6 846.4h11.2M297.1 618.5h11.2M308.3 627.3h11.2M308.3 699.6h11.2M297.1 763.2h11.2M297.1 787.3h11.2M297.1 793.9h11.2M341.5 530.9h11.1M319.4 688.7h11.1M319.4 695.2h11.1M319.4 719.3h11.1M319.4 728.1h11.1M319.4 765.4h11.1M341.5 771.9h11.1M319.4 798.2h11.1M330.4 802.6h11.1M341.5 844.3h11.1M352.5 587.9h10.9M352.5 677.7h10.9M352.5 719.3h10.9M374.3 725.9h10.9M374.3 743.5h10.9"/>
<path stroke="#fc3c3c" stroke-width="2.59" d="M252.6 603.2h11.2M263.7 603.2h11.2M263.7 618.5h11.2M263.7 695.2h11.2M274.9 695.2h11.2M274.9 706.2h11.2M252.6 815.8h11.2M274.9 820.1h11.2M263.7 828.9h11.2M286 596.6h11.2M297.1 601h11.2M297.1 612h11.2M308.3 682.1h11.2M286 684.3h11.2M297.1 785.1h11.2M286 804.8h11.2M319.4 509h11.1M330.4 509h11.1M319.4 559.4h11.1M341.5 559.4h11.1M319.4 640.5h11.1M341.5 653.6h11.1M319.4 679.9h11.1M319.4 684.3h11.1M330.4 774.1h11.1M341.5 782.9h11.1M341.5 837.7h11.1M363.4 498h10.9M374.3 539.6h10.9M374.3 668.9h10.9M352.5 728.1h10.9M374.3 730.3h10.9"/>
<path stroke="#fc8484" stroke-width="2.59" d="M252.6 607.6h11.2M252.6 618.5h11.2M252.6 622.9h11.2M274.9 708.4h11.2M274.9 846.4h11.2M308.3 590.1h11.2M308.3 592.2h11.2M308.3 612h11.2M297.1 629.5h11.2M308.3 710.6h11.2M286 715h11.2M308.3 728.1h11.2M286 769.7h11.2M308.3 815.8h11.2M286 826.7h11.2M341.5 557.2h11.1M330.4 587.9h11.1M319.4 666.8h11.1M341.5 671.1h11.1M330.4 712.8h11.1M319.4 725.9h11.1M330.4 725.9h11.1M319.4 763.2h11.1M319.4 793.9h11.1M363.4 502.4h10.9M352.5 519.9h10.9M374.3 644.8h10.9M363.4 647h10.9M363.4 660.2h10.9M374.3 728.1h10.9M374.3 745.6h10.9M374.3 756.6h10.9M363.4 771.9h10.9"/>
<path stroke="#fc3030" stroke-width="2.59" d="M274.9 609.8h11.2M252.6 627.3h11.2M252.6 820.1h11.2M274.9 831.1h11.2M252.6 842.1h11.2M308.3 598.8h11.2M286 693h11.2M308.3 767.6h11.2M297.1 833.3h11.2M286 839.9h11.2M319.4 576.9h11.1M330.4 579.1h11.1M319.4 585.7h11.1M319.4 631.7h11.1M330.4 697.4h11.1M330.4 715h11.1M341.5 728.1h11.1M330.4 809.2h11.1M363.4 513.4h10.9M363.4 530.9h10.9M352.5 541.8h10.9M352.5 550.6h10.9M352.5 563.8h10.9M374.3 565.9h10.9M374.3 576.9h10.9M374.3 673.3h10.9M374.3 677.7h10.9M352.5 739.1h10.9M374.3 752.2h10.9M363.4 765.4h10.9M363.4 767.6h10.9"/>
<path stroke="#fcb4b4" stroke-width="2.59" d="M263.7 612h11.2M274.9 620.7h11.2M263.7 627.3h11.2M263.7 638.3h11.2M263.7 668.9h11.2M286 511.2h11.2M308.3 587.9h11.2M297.1 594.4h11.2M308.3 622.9h11.2M286 627.3h11.2M286 660.2h11.2M308.3 730.3h11.2M297.1 747.8h11.2M297.1 796h11.2M286 833.3h11.2M286 837.7h11.2M330.4 495.8h11.1M330.4 530.9h11.1M319.4 546.2h11.1M319.4 555h11.1M319.4 592.2h11.1M330.4 614.2h11.1M319.4 622.9h11.1M341.5 662.4h11.1M330.4 708.4h11.1M330.4 734.7h11.1M330.4 782.9h11.1M341.5 793.9h11.1M330.4 811.4h11.1M363.4 511.2h10.9M363.4 568.1h10.9M363.4 596.6h10.9M352.5 631.7h10.9M352.5 668.9h10.9M374.3 715h10.9"/>
<path stroke="#fcfcfc" stroke-width="2.59" d="M263.7 622.9h11.2M263.7 625.1h11.2M263.7 704h11.2M252.6 706.2h11.2M263.7 798.2h11.2M252.6 831.1h11.2M252.6 850.8h11.2M286 502.4h11.2M297.1 557.2h11.2M297.1 568.1h11.2M308.3 576.9h11.2M308.3 601h11.2M286 605.4h11.2M308.3 620.7h11.2M286 629.5h11.2M308.3 649.2h11.2M297.1 658h11.2M297.1 682.1h11.2M308.3 695.2h11.2M286 736.9h11.2M286 798.2h11.2M297.1 804.8h11.2M308.3 811.4h11.2M286 815.8h11.2M297.1 835.5h11.2M319.4 495.8h11.1M330.4 500.2h11.1M341.5 517.7h11.1M319.4 537.5h11.1M319.4 636.1h11.1M319.4 647h11.1M330.4 647h11.1M330.4 655.8h11.1M319.4 682.1h11.1M319.4 697.4h11.1M319.4 704h11.1M330.4 732.5h11.1M319.4 743.5h11.1M341.5 743.5h11.1M341.5 758.8h11.1M319.4 771.9h11.1M319.4 820.1h11.1M341.5 820.1h11.1M330.4 837.7h11.1M363.4 557.2h10.9M363.4 609.8h10.9M363.4 629.5h10.9M363.4 668.9h10.9M374.3 679.9h10.9M363.4 704h10.9M374.3 717.2h10.9M374.3 754.4h10.9M374.3 813.6h10.9"/>
<path stroke="#fc2424" stroke-width="2.59" d="M263.7 629.5h11.2M252.6 690.9h11.2M252.6 693h11.2M274.9 811.4h11.2M252.6 837.7h11.2M297.1 576.9h11.2M308.3 594.4h11.2M297.1 686.5h11.2M297.1 710.6h11.2M286 741.3h11.2M286 793.9h11.2M308.3 798.2h11.2M308.3 835.5h11.2M341.5 513.4h11.1M341.5 550.6h11.1M341.5 596.6h11.1M341.5 644.8h11.1M330.4 658h11.1M330.4 728.1h11.1M341.5 826.7h11.1M363.4 504.6h10.9M363.4 528.7h10.9M363.4 541.8h10.9M352.5 555h10.9M374.3 563.8h10.9M363.4 576.9h10.9M374.3 579.1h10.9M352.5 640.5h10.9M374.3 655.8h10.9M363.4 664.6h10.9M363.4 671.1h10.9"/>
<path stroke="#fc1818" stroke-width="2.59" d="M274.9 629.5h11.2M263.7 708.4h11.2M274.9 835.5h11.2M263.7 837.7h11.2M274.9 848.6h11.2M286 612h11.2M330.4 513.4h11.1M319.4 557.2h11.1M330.4 594.4h11.1M330.4 612h11.1M319.4 721.5h11.1M341.5 730.3h11.1M341.5 745.6h11.1M341.5 754.4h11.1M330.4 767.6h11.1M352.5 511.2h10.9M374.3 513.4h10.9M352.5 528.7h10.9M363.4 550.6h10.9M374.3 550.6h10.9M352.5 581.3h10.9M363.4 581.3h10.9M363.4 583.5h10.9M374.3 651.4h10.9M363.4 750h10.9M352.5 763.2h10.9"/>
<path stroke="#fcd8d8" stroke-width="2.59" d="M263.7 655.8h11.2M252.6 710.6h11.2M297.1 509h11.2M286 537.5h11.2M297.1 539.6h11.2M286 607.6h11.2M286 625.1h11.2M308.3 688.7h11.2M308.3 693h11.2M308.3 704h11.2M286 717.2h11.2M297.1 723.7h11.2M286 739.1h11.2M308.3 785.1h11.2M286 789.5h11.2M297.1 789.5h11.2M297.1 791.7h11.2M308.3 796h11.2M286 850.8h11.2M341.5 522.1h11.1M330.4 585.7h11.1M341.5 642.6h11.1M341.5 658h11.1M330.4 686.5h11.1M330.4 704h11.1M330.4 723.7h11.1M341.5 732.5h11.1M341.5 765.4h11.1M330.4 778.5h11.1M319.4 780.7h11.1M341.5 813.6h11.1M341.5 848.6h11.1M352.5 682.1h10.9M363.4 706.2h10.9M374.3 763.2h10.9M374.3 850.8h10.9"/>
<path stroke="#fc6c6c" stroke-width="2.59" d="M252.6 675.5h11.2M252.6 688.7h11.2M252.6 701.8h11.2M274.9 701.8h11.2M263.7 809.2h11.2M274.9 824.5h11.2M274.9 839.9h11.2M263.7 844.3h11.2M297.1 563.8h11.2M286 579.1h11.2M297.1 598.8h11.2M308.3 625.1h11.2M297.1 693h11.2M297.1 774.1h11.2M286 782.9h11.2M297.1 782.9h11.2M308.3 804.8h11.2M308.3 822.3h11.2M330.4 517.7h11.1M330.4 548.4h11.1M330.4 576.9h11.1M341.5 581.3h11.1M341.5 640.5h11.1M330.4 690.9h11.1M341.5 693h11.1M341.5 710.6h11.1M319.4 776.3h11.1M330.4 798.2h11.1M341.5 804.8h11.1M374.3 522.1h10.9M363.4 559.4h10.9M363.4 640.5h10.9M363.4 662.4h10.9M352.5 666.8h10.9M374.3 666.8h10.9M352.5 712.8h10.9M374.3 732.5h10.9"/>
<path stroke="#fc9090" stroke-width="2.59" d="M263.7 699.6h11.2M274.9 828.9h11.2M274.9 833.3h11.2M274.9 837.7h11.2M297.1 590.1h11.2M308.3 684.3h11.2M286 704h11.2M308.3 780.7h11.2M286 820.1h11.2M341.5 511.2h11.1M341.5 526.5h11.1M341.5 546.2h11.1M319.4 572.5h11.1M341.5 572.5h11.1M330.4 574.7h11.1M330.4 607.6h11.1M319.4 620.7h11.1M330.4 660.2h11.1M319.4 717.2h11.1M341.5 725.9h11.1M319.4 767.6h11.1M319.4 785.1h11.1M330.4 791.7h11.1M341.5 824.5h11.1M319.4 850.8h11.1M374.3 517.7h10.9M363.4 546.2h10.9M363.4 618.5h10.9M352.5 644.8h10.9M363.4 679.9h10.9"/>
<path stroke="#fcf0f0" stroke-width="2.59" d="M252.6 717.2h11.2M263.7 732.5h11.2M263.7 826.7h11.2M308.3 500.2h11.2M297.1 519.9h11.2M297.1 535.3h11.2M297.1 546.2h11.2M308.3 557.2h11.2M308.3 570.3h11.2M297.1 614.2h11.2M297.1 633.9h11.2M297.1 653.6h11.2M297.1 664.6h11.2M308.3 671.1h11.2M286 677.7h11.2M286 712.8h11.2M308.3 717.2h11.2M297.1 771.9h11.2M308.3 809.2h11.2M297.1 818h11.2M308.3 818h11.2M308.3 826.7h11.2M341.5 498h11.1M319.4 544h11.1M330.4 565.9h11.1M319.4 568.1h11.1M330.4 590.1h11.1M341.5 673.3h11.1M319.4 712.8h11.1M330.4 719.3h11.1M319.4 741.3h11.1M330.4 785.1h11.1M319.4 815.8h11.1M330.4 826.7h11.1M319.4 833.3h11.1M341.5 850.8h11.1M374.3 530.9h10.9M363.4 612h10.9M352.5 782.9h10.9M374.3 815.8h10.9M363.4 846.4h10.9"/>
<path stroke="#f0f0fc" stroke-width="2.59" d="M274.9 743.5h11.2M274.9 752.2h11.2M274.9 756.6h11.2M274.9 771.9h11.2M274.9 774.1h11.2M308.3 583.5h11.2M308.3 596.6h11.2M308.3 605.4h11.2M297.1 609.8h11.2M286 616.3h11.2M308.3 629.5h11.2M286 649.2h11.2M308.3 712.8h11.2M308.3 732.5h11.2M286 750h11.2M308.3 763.2h11.2M286 765.4h11.2M286 796h11.2M297.1 826.7h11.2M319.4 498h11.1M330.4 537.5h11.1M330.4 539.6h11.1M319.4 548.4h11.1M319.4 561.6h11.1M341.5 601h11.1M330.4 620.7h11.1M330.4 651.4h11.1M341.5 684.3h11.1M341.5 756.6h11.1M319.4 839.9h11.1M374.3 504.6h10.9M363.4 572.5h10.9M374.3 614.2h10.9M363.4 642.6h10.9M352.5 708.4h10.9"/>
<rect x="252.6" y="494.7" width="132.6" height="357.2" fill="none" stroke="#000" stroke-width="1.50"/>
<line x1="286.0" y1="494.7" x2="286.0" y2="851.9" stroke="#000" stroke-width="1.30"/>
<line x1="319.4" y1="494.7" x2="319.4" y2="851.9" stroke="#000" stroke-width="1.30"/>
<line x1="352.5" y1="494.7" x2="352.5" y2="851.9" stroke="#000" stroke-width="1.30"/>
<rect x="252.6" y="478.1" width="33.5" height="12.0" fill="#000000"/>
<text x="269.3" y="486.6" font-size="7.00" text-anchor="middle" fill="#fff">WT</text>
<rect x="286.0" y="478.1" width="33.5" height="12.0" fill="#1030ff"/>
<text x="302.7" y="486.6" font-size="7.00" text-anchor="middle" fill="#fff">ErbB2 KI</text>
<rect x="319.4" y="478.1" width="33.2" height="12.0" fill="#ff10aa"/>
<text x="335.9" y="486.6" font-size="7.00" text-anchor="middle" fill="#fff">ERR&#945; KO</text>
<rect x="352.5" y="478.1" width="32.8" height="12.0" fill="#9a10ff"/>
<text x="368.9" y="486.6" font-size="7.00" text-anchor="middle" fill="#fff">KI:KO</text>
<rect x="153.0" y="495.9" width="7.1" height="13.0" fill="#f5e600" stroke="#777" stroke-width="0.40"/>
<rect x="153.0" y="508.9" width="7.1" height="135.3" fill="#f7a849" stroke="#777" stroke-width="0.40"/>
<rect x="153.0" y="644.2" width="7.1" height="16.8" fill="#86c24e" stroke="#777" stroke-width="0.40"/>
<line x1="160.1" y1="496.4" x2="166.5" y2="496.4" stroke="#000" stroke-width="1.10"/>
<text x="171.7" y="500.2" font-size="9.40" font-style="italic" fill="#111">Col1a1</text>
<line x1="160.1" y1="512.1" x2="166.5" y2="512.1" stroke="#000" stroke-width="1.10"/>
<text x="171.7" y="513.3" font-size="9.40" font-style="italic" fill="#111">Ccn2</text>
<line x1="160.1" y1="518.2" x2="166.5" y2="518.2" stroke="#000" stroke-width="1.10"/>
<text x="171.7" y="524.8" font-size="9.40" font-style="italic" fill="#111">Thbs1</text>
<line x1="160.1" y1="538.2" x2="166.5" y2="538.2" stroke="#000" stroke-width="1.10"/>
<text x="171.7" y="540.9" font-size="9.40" font-style="italic" fill="#111">Fn1</text>
<line x1="160.1" y1="544.9" x2="166.5" y2="544.9" stroke="#000" stroke-width="1.10"/>
<text x="171.7" y="549.6" font-size="9.40" font-style="italic" fill="#111">Eln</text>
<line x1="160.1" y1="558.0" x2="166.5" y2="558.0" stroke="#000" stroke-width="1.10"/>
<text x="171.7" y="562.7" font-size="9.40" font-style="italic" fill="#111">Emilin2</text>
<line x1="160.1" y1="572.9" x2="166.5" y2="572.9" stroke="#000" stroke-width="1.10"/>
<text x="171.7" y="577.1" font-size="9.40" font-style="italic" fill="#111">Lamc1</text>
<line x1="160.1" y1="612.5" x2="166.5" y2="612.5" stroke="#000" stroke-width="1.10"/>
<text x="171.7" y="616.8" font-size="9.40" font-style="italic" fill="#111">Fbn2</text>
<line x1="160.1" y1="640.4" x2="166.5" y2="640.4" stroke="#000" stroke-width="1.10"/>
<text x="171.7" y="642.0" font-size="9.40" font-style="italic" fill="#111">Npnt</text>
<line x1="160.1" y1="645.1" x2="166.5" y2="645.1" stroke="#000" stroke-width="1.10"/>
<text x="171.7" y="651.4" font-size="9.40" font-style="italic" fill="#111">Prg4</text>
<line x1="160.1" y1="660.0" x2="166.5" y2="660.0" stroke="#000" stroke-width="1.10"/>
<text x="171.7" y="663.4" font-size="9.40" font-style="italic" fill="#111">Esm1</text>
<line x1="201.8" y1="509.5" x2="216.9" y2="509.5" stroke="#000" stroke-width="1.20"/>
<path d="M198.8 509.5l5 -3.2v6.4z" fill="#000"/>
<line x1="205.1" y1="521.4" x2="220.2" y2="521.4" stroke="#000" stroke-width="1.20"/>
<path d="M202.1 521.4l5 -3.2v6.4z" fill="#000"/>
<rect x="390.2" y="495.3" width="7.2" height="139.9" fill="#29a6dd" stroke="#777" stroke-width="0.40"/>
<rect x="390.2" y="635.2" width="7.2" height="76.8" fill="#662d91" stroke="#777" stroke-width="0.40"/>
<rect x="390.2" y="712.0" width="7.2" height="140.1" fill="#d21f5e" stroke="#777" stroke-width="0.40"/>
<line x1="397.4" y1="507.9" x2="403.5" y2="507.9" stroke="#000" stroke-width="1.10"/>
<text x="408.3" y="510.4" font-size="9.40" font-style="italic" fill="#111">Ctss</text>
<line x1="397.4" y1="514.4" x2="403.5" y2="514.4" stroke="#000" stroke-width="1.10"/>
<text x="408.3" y="520.1" font-size="9.40" font-style="italic" fill="#111">P4ha1</text>
<line x1="397.4" y1="529.7" x2="403.5" y2="529.7" stroke="#000" stroke-width="1.10"/>
<text x="408.3" y="533.0" font-size="9.40" font-style="italic" fill="#111">Timp3</text>
<line x1="397.4" y1="549.4" x2="403.5" y2="549.4" stroke="#000" stroke-width="1.10"/>
<text x="408.3" y="552.8" font-size="9.40" font-style="italic" fill="#111">Mmp2</text>
<line x1="397.4" y1="575.7" x2="403.5" y2="575.7" stroke="#000" stroke-width="1.10"/>
<text x="408.3" y="579.1" font-size="9.40" font-style="italic" fill="#111">Ctsf</text>
<line x1="397.4" y1="601.8" x2="403.5" y2="601.8" stroke="#000" stroke-width="1.10"/>
<text x="408.3" y="605.2" font-size="9.40" font-style="italic" fill="#111">P4ha2</text>
<line x1="397.4" y1="617.1" x2="403.5" y2="617.1" stroke="#000" stroke-width="1.10"/>
<text x="408.3" y="620.5" font-size="9.40" font-style="italic" fill="#111">Masp1</text>
<line x1="397.4" y1="636.6" x2="403.5" y2="636.6" stroke="#000" stroke-width="1.10"/>
<text x="408.3" y="640.0" font-size="9.40" font-style="italic" fill="#111">Lgals3</text>
<line x1="397.4" y1="650.0" x2="403.5" y2="650.0" stroke="#000" stroke-width="1.10"/>
<text x="408.3" y="653.4" font-size="9.40" font-style="italic" fill="#111">C1qa</text>
<line x1="397.4" y1="665.0" x2="403.5" y2="665.0" stroke="#000" stroke-width="1.10"/>
<text x="408.3" y="667.7" font-size="9.40" font-style="italic" fill="#111">Elfn2</text>
<line x1="397.4" y1="680.0" x2="403.5" y2="680.0" stroke="#000" stroke-width="1.10"/>
<text x="408.3" y="683.4" font-size="9.40" font-style="italic" fill="#111">Plxna2</text>
<line x1="397.4" y1="695.8" x2="403.5" y2="695.8" stroke="#000" stroke-width="1.10"/>
<text x="408.3" y="699.2" font-size="9.40" font-style="italic" fill="#111">Plxnb1</text>
<line x1="397.4" y1="719.0" x2="403.5" y2="719.0" stroke="#000" stroke-width="1.10"/>
<text x="408.3" y="721.4" font-size="9.40" font-style="italic" fill="#111">Gdf15</text>
<line x1="397.4" y1="729.7" x2="403.5" y2="729.7" stroke="#000" stroke-width="1.10"/>
<text x="408.3" y="732.0" font-size="9.40" font-style="italic" fill="#111">Tgfb3</text>
<line x1="397.4" y1="737.0" x2="403.5" y2="737.0" stroke="#000" stroke-width="1.10"/>
<text x="408.3" y="741.4" font-size="9.40" font-style="italic" fill="#111">Igf1</text>
<line x1="397.4" y1="762.7" x2="403.5" y2="762.7" stroke="#000" stroke-width="1.10"/>
<text x="408.3" y="766.1" font-size="9.40" font-style="italic" fill="#111">Fgf9</text>
<line x1="397.4" y1="782.8" x2="403.5" y2="782.8" stroke="#000" stroke-width="1.10"/>
<text x="408.3" y="784.4" font-size="9.40" font-style="italic" fill="#111">Fgf12</text>
<line x1="397.4" y1="789.0" x2="403.5" y2="789.0" stroke="#000" stroke-width="1.10"/>
<text x="408.3" y="793.9" font-size="9.40" font-style="italic" fill="#111">Vegfa</text>
<line x1="397.4" y1="806.4" x2="403.5" y2="806.4" stroke="#000" stroke-width="1.10"/>
<text x="408.3" y="809.8" font-size="9.40" font-style="italic" fill="#111">Wif1</text>
<line x1="397.4" y1="817.2" x2="403.5" y2="817.2" stroke="#000" stroke-width="1.10"/>
<text x="408.3" y="820.6" font-size="9.40" font-style="italic" fill="#111">Ctf1</text>
<line x1="397.4" y1="826.0" x2="403.5" y2="826.0" stroke="#000" stroke-width="1.10"/>
<text x="408.3" y="830.4" font-size="9.40" font-style="italic" fill="#111">Vegfc</text>
<line x1="397.4" y1="850.2" x2="403.5" y2="850.2" stroke="#000" stroke-width="1.10"/>
<text x="408.3" y="853.6" font-size="9.40" font-style="italic" fill="#111">Il15</text>
<line x1="442.2" y1="549.4" x2="457.4" y2="549.4" stroke="#000" stroke-width="1.20"/>
<path d="M439.2 549.4l5 -3.2v6.4z" fill="#000"/>
<line x1="441.8" y1="718.0" x2="457.4" y2="718.0" stroke="#000" stroke-width="1.20"/>
<path d="M438.8 718.0l5 -3.2v6.4z" fill="#000"/>
<line x1="439.8" y1="728.4" x2="456.0" y2="728.4" stroke="#000" stroke-width="1.20"/>
<path d="M436.8 728.4l5 -3.2v6.4z" fill="#000"/>
<text x="14.8" y="682.0" font-size="11.50" fill="#111">low</text>
<text x="148.8" y="682.0" font-size="11.50" text-anchor="end" fill="#111">high</text>
<rect x="21.4" y="686.0" width="118.2" height="10.0" fill="url(#gH)" stroke="#222" stroke-width="0.80"/>
<text x="80.0" y="710.0" font-size="12.00" text-anchor="middle" fill="#111" textLength="102.8" lengthAdjust="spacingAndGlyphs">Relative Expression</text>
<rect x="39.2" y="731.3" width="178.7" height="19.0" fill="#c9ab8b"/>
<rect x="39.2" y="731.3" width="178.7" height="102.2" fill="none" stroke="#333" stroke-width="1.00"/>
<line x1="39.2" y1="750.3" x2="217.9" y2="750.3" stroke="#333" stroke-width="1.00"/>
<text x="129.3" y="745.2" font-size="11.00" font-weight="bold" text-anchor="middle" fill="#111" textLength="64.4" lengthAdjust="spacingAndGlyphs">MATRISOME</text>
<rect x="105.4" y="756.8" width="12.0" height="6.8" fill="#f5e600" stroke="#888" stroke-width="0.50"/>
<text x="122.5" y="763.5" font-size="9.00" fill="#111">Collagens</text>
<rect x="105.4" y="769.2" width="12.0" height="6.8" fill="#f7a849" stroke="#888" stroke-width="0.50"/>
<text x="122.5" y="775.9" font-size="9.00" fill="#111">ECM Glycoproteins</text>
<rect x="105.4" y="781.8" width="12.0" height="6.8" fill="#86c24e" stroke="#888" stroke-width="0.50"/>
<text x="122.5" y="788.5" font-size="9.00" fill="#111">Proteoglycans</text>
<rect x="105.4" y="794.6" width="12.0" height="6.8" fill="#29a6dd" stroke="#888" stroke-width="0.50"/>
<text x="122.5" y="801.3" font-size="9.00" fill="#111">ECM Regulators</text>
<rect x="105.4" y="807.3" width="12.0" height="6.8" fill="#662d91" stroke="#888" stroke-width="0.50"/>
<text x="122.5" y="814.0" font-size="9.00" fill="#111">ECM-affiliated Proteins</text>
<rect x="105.4" y="819.9" width="12.0" height="6.8" fill="#d21f5e" stroke="#888" stroke-width="0.50"/>
<text x="122.5" y="826.6" font-size="9.00" fill="#111">Secreted Factors</text>
<text x="94.4" y="777.8" font-size="11.00" text-anchor="end" fill="#111">Core</text>
<text x="94.4" y="813.8" font-size="11.00" text-anchor="end" fill="#111" textLength="50.0" lengthAdjust="spacingAndGlyphs">Associated</text>
<line x1="99.6" y1="756.8" x2="99.6" y2="789.6" stroke="#111" stroke-width="1.30"/>
<line x1="99.6" y1="795.7" x2="99.6" y2="827.8" stroke="#111" stroke-width="1.30"/>
<text x="481.5" y="451.4" font-size="19.40" font-weight="bold">e</text>
<text x="620.2" y="448.1" font-size="13.60" font-weight="bold" text-anchor="middle" textLength="166.0" lengthAdjust="spacingAndGlyphs">TGF&#946; activation/signaling</text>
<text x="619.2" y="470.6" font-size="11.40" text-anchor="middle" fill="#111" textLength="133.5" lengthAdjust="spacingAndGlyphs">Relative Expression (log2)</text>
<line x1="499.0" y1="495.0" x2="739.8" y2="495.0" stroke="#000" stroke-width="1.30"/>
<line x1="499.4" y1="489.8" x2="499.4" y2="495.0" stroke="#000" stroke-width="1.20"/>
<text x="499.4" y="485.6" font-size="9.20" text-anchor="middle" fill="#111">-1</text>
<line x1="539.5" y1="489.8" x2="539.5" y2="495.0" stroke="#000" stroke-width="1.20"/>
<text x="539.5" y="485.6" font-size="9.20" text-anchor="middle" fill="#111">0</text>
<line x1="579.5" y1="489.8" x2="579.5" y2="495.0" stroke="#000" stroke-width="1.20"/>
<text x="579.5" y="485.6" font-size="9.20" text-anchor="middle" fill="#111">1</text>
<line x1="619.6" y1="489.8" x2="619.6" y2="495.0" stroke="#000" stroke-width="1.20"/>
<text x="619.6" y="485.6" font-size="9.20" text-anchor="middle" fill="#111">2</text>
<line x1="659.6" y1="489.8" x2="659.6" y2="495.0" stroke="#000" stroke-width="1.20"/>
<text x="659.6" y="485.6" font-size="9.20" text-anchor="middle" fill="#111">3</text>
<line x1="699.7" y1="489.8" x2="699.7" y2="495.0" stroke="#000" stroke-width="1.20"/>
<text x="699.7" y="485.6" font-size="9.20" text-anchor="middle" fill="#111">4</text>
<line x1="739.8" y1="489.8" x2="739.8" y2="495.0" stroke="#000" stroke-width="1.20"/>
<text x="739.8" y="485.6" font-size="9.20" text-anchor="middle" fill="#111">5</text>
<text x="483.5" y="525.5" font-size="12.00" font-style="italic" fill="#111">Gdf15</text>
<line x1="499.0" y1="547.3" x2="739.3" y2="547.3" stroke="#000" stroke-width="1.30"/>
<rect x="539.5" y="511.0" width="36.1" height="10.2" fill="#cdd6fb" stroke="#2448ff" stroke-width="1.20"/>
<rect x="539.5" y="521.2" width="141.9" height="10.2" fill="#ffd3e8" stroke="#ff2f95" stroke-width="1.20"/>
<rect x="539.5" y="531.4" width="133.0" height="10.2" fill="#e4d8ff" stroke="#9a3cff" stroke-width="1.20"/>
<polyline points="641.6,516.1 738.7,516.1 738.7,537.4 734.2,537.4" fill="none" stroke="#111" stroke-width="1.00"/>
<text x="742.1" y="532.6" font-size="9.60" text-anchor="middle">*</text>
<circle cx="533.2" cy="505.6" r="2.40" fill="#000"/>
<circle cx="537.2" cy="505.6" r="2.40" fill="#000"/>
<circle cx="541.1" cy="505.6" r="2.40" fill="#000"/>
<circle cx="551.0" cy="505.6" r="2.40" fill="#000"/>
<circle cx="552.5" cy="516.1" r="2.30" fill="#1238ff" stroke="#222" stroke-width="0.60"/>
<circle cx="564.8" cy="516.1" r="2.30" fill="#1238ff" stroke="#222" stroke-width="0.60"/>
<circle cx="568.0" cy="516.1" r="2.30" fill="#1238ff" stroke="#222" stroke-width="0.60"/>
<circle cx="571.7" cy="516.1" r="2.30" fill="#1238ff" stroke="#222" stroke-width="0.60"/>
<circle cx="586.4" cy="516.1" r="2.30" fill="#1238ff" stroke="#222" stroke-width="0.60"/>
<circle cx="604.8" cy="516.1" r="2.30" fill="#1238ff" stroke="#222" stroke-width="0.60"/>
<line x1="566.0" y1="516.1" x2="583.0" y2="516.1" stroke="#111" stroke-width="1.00"/>
<line x1="566.0" y1="512.9" x2="566.0" y2="519.3" stroke="#111" stroke-width="1.00"/>
<line x1="583.0" y1="512.9" x2="583.0" y2="519.3" stroke="#111" stroke-width="1.00"/>
<text x="615.0" y="521.1" font-size="9.60" text-anchor="middle">*</text>
<circle cx="666.2" cy="526.3" r="2.30" fill="#ff3a98" stroke="#222" stroke-width="0.60"/>
<circle cx="669.7" cy="526.3" r="2.30" fill="#ff3a98" stroke="#222" stroke-width="0.60"/>
<circle cx="680.0" cy="526.3" r="2.30" fill="#ff3a98" stroke="#222" stroke-width="0.60"/>
<circle cx="685.5" cy="526.3" r="2.30" fill="#ff3a98" stroke="#222" stroke-width="0.60"/>
<circle cx="689.8" cy="526.3" r="2.30" fill="#ff3a98" stroke="#222" stroke-width="0.60"/>
<circle cx="699.3" cy="526.3" r="2.30" fill="#ff3a98" stroke="#222" stroke-width="0.60"/>
<line x1="677.0" y1="526.3" x2="686.9" y2="526.3" stroke="#111" stroke-width="1.00"/>
<line x1="677.0" y1="523.1" x2="677.0" y2="529.5" stroke="#111" stroke-width="1.00"/>
<line x1="686.9" y1="523.1" x2="686.9" y2="529.5" stroke="#111" stroke-width="1.00"/>
<text x="709.0" y="531.3" font-size="9.60" text-anchor="middle">*</text>
<circle cx="646.1" cy="536.5" r="2.30" fill="#9a40f0" stroke="#222" stroke-width="0.60"/>
<circle cx="659.3" cy="536.5" r="2.30" fill="#9a40f0" stroke="#222" stroke-width="0.60"/>
<circle cx="665.2" cy="536.5" r="2.30" fill="#9a40f0" stroke="#222" stroke-width="0.60"/>
<circle cx="668.2" cy="536.5" r="2.30" fill="#9a40f0" stroke="#222" stroke-width="0.60"/>
<circle cx="671.7" cy="536.5" r="2.30" fill="#9a40f0" stroke="#222" stroke-width="0.60"/>
<circle cx="721.4" cy="536.5" r="2.30" fill="#9a40f0" stroke="#222" stroke-width="0.60"/>
<line x1="661.3" y1="536.5" x2="683.3" y2="536.5" stroke="#111" stroke-width="1.00"/>
<line x1="661.3" y1="533.3" x2="661.3" y2="539.7" stroke="#111" stroke-width="1.00"/>
<line x1="683.3" y1="533.3" x2="683.3" y2="539.7" stroke="#111" stroke-width="1.00"/>
<text x="729.9" y="541.5" font-size="9.60" text-anchor="middle">*</text>
<text x="483.5" y="577.8" font-size="12.00" font-style="italic" fill="#111">Tgfb3</text>
<line x1="499.0" y1="598.7" x2="739.3" y2="598.7" stroke="#000" stroke-width="1.30"/>
<rect x="539.5" y="563.3" width="4.5" height="10.2" fill="#cdd6fb" stroke="#2448ff" stroke-width="1.20"/>
<rect x="539.5" y="573.5" width="18.0" height="10.2" fill="#ffd3e8" stroke="#ff2f95" stroke-width="1.20"/>
<rect x="539.5" y="583.7" width="27.2" height="10.2" fill="#e4d8ff" stroke="#9a3cff" stroke-width="1.20"/>
<polyline points="565.2,567.6 603.8,567.6 603.8,587.9 598.3,587.9" fill="none" stroke="#111" stroke-width="1.00"/>
<text x="607.1" y="583.0" font-size="9.60" text-anchor="middle">*</text>
<polyline points="610.1,578.4 615.0,578.4 615.0,587.9 610.0,587.9" fill="none" stroke="#111" stroke-width="1.00"/>
<text x="619.0" y="588.4" font-size="9.60" text-anchor="middle">*</text>
<circle cx="533.2" cy="557.9" r="2.40" fill="#000"/>
<circle cx="537.2" cy="557.9" r="2.40" fill="#000"/>
<circle cx="539.1" cy="557.9" r="2.40" fill="#000"/>
<circle cx="548.6" cy="557.9" r="2.40" fill="#000"/>
<circle cx="539.0" cy="568.4" r="2.30" fill="#1238ff" stroke="#222" stroke-width="0.60"/>
<circle cx="542.0" cy="568.4" r="2.30" fill="#1238ff" stroke="#222" stroke-width="0.60"/>
<circle cx="546.6" cy="568.4" r="2.30" fill="#1238ff" stroke="#222" stroke-width="0.60"/>
<circle cx="554.5" cy="568.4" r="2.30" fill="#1238ff" stroke="#222" stroke-width="0.60"/>
<line x1="538.0" y1="568.4" x2="547.0" y2="568.4" stroke="#111" stroke-width="1.00"/>
<line x1="538.0" y1="565.2" x2="538.0" y2="571.6" stroke="#111" stroke-width="1.00"/>
<line x1="547.0" y1="565.2" x2="547.0" y2="571.6" stroke="#111" stroke-width="1.00"/>
<circle cx="551.0" cy="578.6" r="2.30" fill="#ff3a98" stroke="#222" stroke-width="0.60"/>
<circle cx="556.0" cy="578.6" r="2.30" fill="#ff3a98" stroke="#222" stroke-width="0.60"/>
<circle cx="560.8" cy="578.6" r="2.30" fill="#ff3a98" stroke="#222" stroke-width="0.60"/>
<circle cx="566.7" cy="578.6" r="2.30" fill="#ff3a98" stroke="#222" stroke-width="0.60"/>
<line x1="553.0" y1="578.6" x2="562.0" y2="578.6" stroke="#111" stroke-width="1.00"/>
<line x1="553.0" y1="575.4" x2="553.0" y2="581.8" stroke="#111" stroke-width="1.00"/>
<line x1="562.0" y1="575.4" x2="562.0" y2="581.8" stroke="#111" stroke-width="1.00"/>
<text x="577.2" y="583.6" font-size="9.60" text-anchor="middle">*</text>
<circle cx="556.9" cy="588.8" r="2.30" fill="#9a40f0" stroke="#222" stroke-width="0.60"/>
<circle cx="560.8" cy="588.8" r="2.30" fill="#9a40f0" stroke="#222" stroke-width="0.60"/>
<circle cx="570.7" cy="588.8" r="2.30" fill="#9a40f0" stroke="#222" stroke-width="0.60"/>
<circle cx="582.5" cy="588.8" r="2.30" fill="#9a40f0" stroke="#222" stroke-width="0.60"/>
<line x1="557.0" y1="588.8" x2="572.0" y2="588.8" stroke="#111" stroke-width="1.00"/>
<line x1="557.0" y1="585.6" x2="557.0" y2="592.0" stroke="#111" stroke-width="1.00"/>
<line x1="572.0" y1="585.6" x2="572.0" y2="592.0" stroke="#111" stroke-width="1.00"/>
<text x="592.0" y="593.8" font-size="9.60" text-anchor="middle">*</text>
<text x="483.5" y="629.2" font-size="12.00" font-style="italic" fill="#111">Mmp2</text>
<line x1="499.0" y1="650.2" x2="739.3" y2="650.2" stroke="#000" stroke-width="1.30"/>
<rect x="539.5" y="614.7" width="5.5" height="10.2" fill="#cdd6fb" stroke="#2448ff" stroke-width="1.20"/>
<rect x="539.5" y="624.9" width="19.3" height="10.2" fill="#ffd3e8" stroke="#ff2f95" stroke-width="1.20"/>
<rect x="539.5" y="635.1" width="20.3" height="10.2" fill="#e4d8ff" stroke="#9a3cff" stroke-width="1.20"/>
<polyline points="571.0,619.8 593.3,619.8 593.3,640.1 584.0,640.1" fill="none" stroke="#111" stroke-width="1.00"/>
<text x="597.3" y="635.3" font-size="9.60" text-anchor="middle">*</text>
<circle cx="533.0" cy="609.3" r="2.40" fill="#000"/>
<circle cx="537.0" cy="609.3" r="2.40" fill="#000"/>
<circle cx="541.0" cy="609.3" r="2.40" fill="#000"/>
<circle cx="545.0" cy="609.3" r="2.40" fill="#000"/>
<circle cx="538.0" cy="619.8" r="2.30" fill="#1238ff" stroke="#222" stroke-width="0.60"/>
<circle cx="540.1" cy="619.8" r="2.30" fill="#1238ff" stroke="#222" stroke-width="0.60"/>
<circle cx="545.0" cy="619.8" r="2.30" fill="#1238ff" stroke="#222" stroke-width="0.60"/>
<circle cx="550.0" cy="619.8" r="2.30" fill="#1238ff" stroke="#222" stroke-width="0.60"/>
<line x1="540.0" y1="619.8" x2="548.0" y2="619.8" stroke="#111" stroke-width="1.00"/>
<line x1="540.0" y1="616.6" x2="540.0" y2="623.0" stroke="#111" stroke-width="1.00"/>
<line x1="548.0" y1="616.6" x2="548.0" y2="623.0" stroke="#111" stroke-width="1.00"/>
<text x="560.4" y="624.8" font-size="9.60" text-anchor="middle">*</text>
<circle cx="550.6" cy="630.0" r="2.30" fill="#ff3a98" stroke="#222" stroke-width="0.60"/>
<circle cx="555.3" cy="630.0" r="2.30" fill="#ff3a98" stroke="#222" stroke-width="0.60"/>
<circle cx="559.8" cy="630.0" r="2.30" fill="#ff3a98" stroke="#222" stroke-width="0.60"/>
<circle cx="565.2" cy="630.0" r="2.30" fill="#ff3a98" stroke="#222" stroke-width="0.60"/>
<line x1="556.0" y1="630.0" x2="561.0" y2="630.0" stroke="#111" stroke-width="1.00"/>
<line x1="556.0" y1="626.8" x2="556.0" y2="633.2" stroke="#111" stroke-width="1.00"/>
<line x1="561.0" y1="626.8" x2="561.0" y2="633.2" stroke="#111" stroke-width="1.00"/>
<text x="574.6" y="635.0" font-size="9.60" text-anchor="middle">*</text>
<circle cx="548.6" cy="640.2" r="2.30" fill="#9a40f0" stroke="#222" stroke-width="0.60"/>
<circle cx="556.9" cy="640.2" r="2.30" fill="#9a40f0" stroke="#222" stroke-width="0.60"/>
<circle cx="563.8" cy="640.2" r="2.30" fill="#9a40f0" stroke="#222" stroke-width="0.60"/>
<circle cx="567.7" cy="640.2" r="2.30" fill="#9a40f0" stroke="#222" stroke-width="0.60"/>
<line x1="555.0" y1="640.2" x2="564.0" y2="640.2" stroke="#111" stroke-width="1.00"/>
<line x1="555.0" y1="637.0" x2="555.0" y2="643.4" stroke="#111" stroke-width="1.00"/>
<line x1="564.0" y1="637.0" x2="564.0" y2="643.4" stroke="#111" stroke-width="1.00"/>
<text x="577.0" y="645.2" font-size="9.60" text-anchor="middle">*</text>
<text x="483.5" y="680.7" font-size="12.00" font-style="italic" fill="#111">Thbs1</text>
<line x1="499.0" y1="702.2" x2="739.3" y2="702.2" stroke="#000" stroke-width="1.30"/>
<rect x="539.5" y="666.2" width="5.2" height="10.2" fill="#cdd6fb" stroke="#2448ff" stroke-width="1.20"/>
<rect x="539.5" y="676.4" width="20.3" height="10.2" fill="#ffd3e8" stroke="#ff2f95" stroke-width="1.20"/>
<rect x="539.5" y="686.6" width="37.1" height="10.2" fill="#e4d8ff" stroke="#9a3cff" stroke-width="1.20"/>
<circle cx="523.4" cy="660.8" r="2.40" fill="#000"/>
<circle cx="536.2" cy="660.8" r="2.40" fill="#000"/>
<circle cx="537.5" cy="660.8" r="2.40" fill="#000"/>
<circle cx="539.5" cy="660.8" r="2.40" fill="#000"/>
<circle cx="542.7" cy="660.8" r="2.40" fill="#000"/>
<circle cx="547.4" cy="660.8" r="2.40" fill="#000"/>
<circle cx="528.3" cy="671.3" r="2.30" fill="#1238ff" stroke="#222" stroke-width="0.60"/>
<circle cx="531.3" cy="671.3" r="2.30" fill="#1238ff" stroke="#222" stroke-width="0.60"/>
<circle cx="542.1" cy="671.3" r="2.30" fill="#1238ff" stroke="#222" stroke-width="0.60"/>
<circle cx="552.5" cy="671.3" r="2.30" fill="#1238ff" stroke="#222" stroke-width="0.60"/>
<circle cx="554.9" cy="671.3" r="2.30" fill="#1238ff" stroke="#222" stroke-width="0.60"/>
<circle cx="563.2" cy="671.3" r="2.30" fill="#1238ff" stroke="#222" stroke-width="0.60"/>
<line x1="539.0" y1="671.3" x2="554.0" y2="671.3" stroke="#111" stroke-width="1.00"/>
<line x1="539.0" y1="668.1" x2="539.0" y2="674.5" stroke="#111" stroke-width="1.00"/>
<line x1="554.0" y1="668.1" x2="554.0" y2="674.5" stroke="#111" stroke-width="1.00"/>
<circle cx="537.2" cy="681.5" r="2.30" fill="#ff3a98" stroke="#222" stroke-width="0.60"/>
<circle cx="548.6" cy="681.5" r="2.30" fill="#ff3a98" stroke="#222" stroke-width="0.60"/>
<circle cx="556.5" cy="681.5" r="2.30" fill="#ff3a98" stroke="#222" stroke-width="0.60"/>
<circle cx="558.5" cy="681.5" r="2.30" fill="#ff3a98" stroke="#222" stroke-width="0.60"/>
<circle cx="564.8" cy="681.5" r="2.30" fill="#ff3a98" stroke="#222" stroke-width="0.60"/>
<circle cx="575.6" cy="681.5" r="2.30" fill="#ff3a98" stroke="#222" stroke-width="0.60"/>
<circle cx="578.6" cy="681.5" r="2.30" fill="#ff3a98" stroke="#222" stroke-width="0.60"/>
<line x1="554.0" y1="681.5" x2="566.3" y2="681.5" stroke="#111" stroke-width="1.00"/>
<line x1="554.0" y1="678.3" x2="554.0" y2="684.7" stroke="#111" stroke-width="1.00"/>
<line x1="566.3" y1="678.3" x2="566.3" y2="684.7" stroke="#111" stroke-width="1.00"/>
<circle cx="548.0" cy="691.7" r="2.30" fill="#9a40f0" stroke="#222" stroke-width="0.60"/>
<circle cx="554.0" cy="691.7" r="2.30" fill="#9a40f0" stroke="#222" stroke-width="0.60"/>
<circle cx="574.6" cy="691.7" r="2.30" fill="#9a40f0" stroke="#222" stroke-width="0.60"/>
<circle cx="614.0" cy="691.7" r="2.30" fill="#9a40f0" stroke="#222" stroke-width="0.60"/>
<circle cx="619.0" cy="691.7" r="2.30" fill="#9a40f0" stroke="#222" stroke-width="0.60"/>
<line x1="563.8" y1="691.7" x2="589.4" y2="691.7" stroke="#111" stroke-width="1.00"/>
<line x1="563.8" y1="688.5" x2="563.8" y2="694.9" stroke="#111" stroke-width="1.00"/>
<line x1="589.4" y1="688.5" x2="589.4" y2="694.9" stroke="#111" stroke-width="1.00"/>
<text x="629.2" y="696.7" font-size="9.60" text-anchor="middle">*</text>
<text x="483.5" y="732.7" font-size="12.00" font-style="italic" fill="#111">Ccn2</text>
<rect x="539.5" y="718.2" width="5.2" height="10.2" fill="#cdd6fb" stroke="#2448ff" stroke-width="1.20"/>
<rect x="539.5" y="728.4" width="38.7" height="10.2" fill="#ffd3e8" stroke="#ff2f95" stroke-width="1.20"/>
<rect x="539.5" y="738.6" width="49.5" height="10.2" fill="#e4d8ff" stroke="#9a3cff" stroke-width="1.20"/>
<polyline points="573.6,722.3 651.8,722.3 651.8,743.2 645.5,743.2" fill="none" stroke="#111" stroke-width="1.00"/>
<text x="656.0" y="737.7" font-size="9.60" text-anchor="middle">*</text>
<circle cx="533.0" cy="712.8" r="2.40" fill="#000"/>
<circle cx="537.0" cy="712.8" r="2.40" fill="#000"/>
<circle cx="540.0" cy="712.8" r="2.40" fill="#000"/>
<circle cx="544.0" cy="712.8" r="2.40" fill="#000"/>
<circle cx="548.0" cy="712.8" r="2.40" fill="#000"/>
<circle cx="533.2" cy="723.3" r="2.30" fill="#1238ff" stroke="#222" stroke-width="0.60"/>
<circle cx="538.2" cy="723.3" r="2.30" fill="#1238ff" stroke="#222" stroke-width="0.60"/>
<circle cx="548.0" cy="723.3" r="2.30" fill="#1238ff" stroke="#222" stroke-width="0.60"/>
<circle cx="550.0" cy="723.3" r="2.30" fill="#1238ff" stroke="#222" stroke-width="0.60"/>
<circle cx="559.8" cy="723.3" r="2.30" fill="#1238ff" stroke="#222" stroke-width="0.60"/>
<line x1="541.0" y1="723.3" x2="550.0" y2="723.3" stroke="#111" stroke-width="1.00"/>
<line x1="541.0" y1="720.1" x2="541.0" y2="726.5" stroke="#111" stroke-width="1.00"/>
<line x1="550.0" y1="720.1" x2="550.0" y2="726.5" stroke="#111" stroke-width="1.00"/>
<circle cx="564.4" cy="733.5" r="2.30" fill="#ff3a98" stroke="#222" stroke-width="0.60"/>
<circle cx="572.3" cy="733.5" r="2.30" fill="#ff3a98" stroke="#222" stroke-width="0.60"/>
<circle cx="576.0" cy="733.5" r="2.30" fill="#ff3a98" stroke="#222" stroke-width="0.60"/>
<circle cx="582.1" cy="733.5" r="2.30" fill="#ff3a98" stroke="#222" stroke-width="0.60"/>
<circle cx="594.3" cy="733.5" r="2.30" fill="#ff3a98" stroke="#222" stroke-width="0.60"/>
<line x1="573.0" y1="733.5" x2="584.0" y2="733.5" stroke="#111" stroke-width="1.00"/>
<line x1="573.0" y1="730.3" x2="573.0" y2="736.7" stroke="#111" stroke-width="1.00"/>
<line x1="584.0" y1="730.3" x2="584.0" y2="736.7" stroke="#111" stroke-width="1.00"/>
<text x="603.2" y="738.5" font-size="9.60" text-anchor="middle">*</text>
<circle cx="566.7" cy="743.7" r="2.30" fill="#9a40f0" stroke="#222" stroke-width="0.60"/>
<circle cx="571.1" cy="743.7" r="2.30" fill="#9a40f0" stroke="#222" stroke-width="0.60"/>
<circle cx="574.6" cy="743.7" r="2.30" fill="#9a40f0" stroke="#222" stroke-width="0.60"/>
<circle cx="582.1" cy="743.7" r="2.30" fill="#9a40f0" stroke="#222" stroke-width="0.60"/>
<circle cx="611.7" cy="743.7" r="2.30" fill="#9a40f0" stroke="#222" stroke-width="0.60"/>
<circle cx="628.8" cy="743.7" r="2.30" fill="#9a40f0" stroke="#222" stroke-width="0.60"/>
<line x1="579.5" y1="743.7" x2="599.3" y2="743.7" stroke="#111" stroke-width="1.00"/>
<line x1="579.5" y1="740.5" x2="579.5" y2="746.9" stroke="#111" stroke-width="1.00"/>
<line x1="599.3" y1="740.5" x2="599.3" y2="746.9" stroke="#111" stroke-width="1.00"/>
<text x="638.1" y="748.7" font-size="9.60" text-anchor="middle">*</text>
<line x1="539.5" y1="495.0" x2="539.5" y2="756.4" stroke="#000" stroke-width="1.30"/>
<rect x="684.6" y="707.9" width="7.4" height="7.2" fill="#000000"/>
<text x="695.6" y="715.4" font-size="11.00" fill="#111">WT</text>
<rect x="684.6" y="720.0" width="7.4" height="7.2" fill="#1030ff"/>
<text x="695.6" y="727.5" font-size="11.00" fill="#111">ErbB2 KI</text>
<rect x="684.6" y="731.6" width="7.4" height="7.2" fill="#ff10aa"/>
<text x="695.6" y="739.1" font-size="11.00" fill="#111">ERR&#945; KO</text>
<rect x="684.6" y="743.2" width="7.4" height="7.2" fill="#9a10ff"/>
<text x="695.6" y="750.7" font-size="11.00" fill="#111">KI:KO</text>
<text x="481.7" y="785.9" font-size="18.70" font-weight="bold">f</text>
<text x="555.7" y="793.8" font-size="9.30" text-anchor="middle" fill="#111">WT</text>
<line x1="537.2" y1="797.0" x2="574.2" y2="797.0" stroke="#111" stroke-width="1.20"/>
<text x="598.9" y="793.8" font-size="9.30" text-anchor="middle" fill="#111">ErbB2 KI</text>
<line x1="579.7" y1="797.0" x2="618.5" y2="797.0" stroke="#111" stroke-width="1.20"/>
<text x="642.5" y="793.8" font-size="9.30" text-anchor="middle" fill="#111">ERR&#945; KO</text>
<line x1="622.2" y1="797.0" x2="661.0" y2="797.0" stroke="#111" stroke-width="1.20"/>
<text x="685.0" y="793.8" font-size="9.30" text-anchor="middle" fill="#111">KI:KO</text>
<line x1="666.5" y1="797.0" x2="704.5" y2="797.0" stroke="#111" stroke-width="1.20"/>
<text x="527.5" y="814.6" font-size="9.60" text-anchor="end" fill="#111">&#945;-SMA</text>
<text x="527.5" y="835.2" font-size="9.20" text-anchor="end" fill="#111">Vinculin</text>
<defs><filter id="bl" x="-20%" y="-50%" width="140%" height="200%"><feGaussianBlur stdDeviation="0.65"/></filter></defs>
<rect x="531.6" y="802.2" width="177.2" height="16.0" fill="#f6f6f6"/>
<rect x="531.6" y="824.1" width="177.2" height="15.8" fill="#f4f4f4"/>
<g filter="url(#bl)">
<rect x="534.3" y="809.8" width="13.2" height="2.4" rx="2.5" fill="#e3e3e3"/>
<rect x="548.8" y="809.6" width="13.2" height="2.8" rx="2.5" fill="#c6c6c6"/>
<rect x="563.2" y="809.7" width="13.2" height="2.7" rx="2.5" fill="#cecece"/>
<rect x="577.7" y="809.6" width="13.2" height="2.8" rx="2.5" fill="#c6c6c6"/>
<rect x="592.1" y="809.4" width="13.2" height="3.2" rx="2.5" fill="#aaaaaa"/>
<rect x="605.1" y="809.5" width="13.2" height="3.1" rx="2.5" fill="#b2b2b2"/>
<rect x="621.0" y="808.2" width="13.2" height="5.5" rx="2.5" fill="#030303"/>
<rect x="634.0" y="808.3" width="13.2" height="5.4" rx="2.5" fill="#0d0d0d"/>
<rect x="648.5" y="808.2" width="13.2" height="5.5" rx="2.5" fill="#020202"/>
<rect x="663.0" y="808.3" width="13.2" height="5.4" rx="2.5" fill="#080808"/>
<rect x="677.4" y="808.4" width="13.2" height="5.2" rx="2.5" fill="#1d1d1d"/>
<rect x="691.9" y="808.2" width="13.2" height="5.7" rx="2.5" fill="#020202"/>
<rect x="534.7" y="828.0" width="12.4" height="3.6" rx="1.6" fill="#1b1b1b"/>
<rect x="549.2" y="830.4" width="12.4" height="3.6" rx="1.6" fill="#030303"/>
<rect x="563.6" y="830.4" width="12.4" height="3.6" rx="1.6" fill="#030303"/>
<rect x="578.1" y="830.4" width="12.4" height="3.6" rx="1.6" fill="#000000"/>
<rect x="592.5" y="830.4" width="12.4" height="3.6" rx="1.6" fill="#000000"/>
<rect x="605.5" y="830.4" width="12.4" height="3.6" rx="1.6" fill="#000000"/>
<rect x="621.4" y="830.4" width="12.4" height="3.6" rx="1.6" fill="#000000"/>
<rect x="634.4" y="830.4" width="12.4" height="3.6" rx="1.6" fill="#000000"/>
<rect x="648.9" y="830.4" width="12.4" height="3.6" rx="1.6" fill="#000000"/>
<rect x="663.4" y="830.4" width="12.4" height="3.6" rx="1.6" fill="#000000"/>
<rect x="677.8" y="830.4" width="12.4" height="3.6" rx="1.6" fill="#0f0f0f"/>
<rect x="692.3" y="829.2" width="12.4" height="3.6" rx="1.6" fill="#030303"/>
</g>
<rect x="531.6" y="802.2" width="177.2" height="16.0" fill="none" stroke="#111" stroke-width="1.20"/>
<rect x="531.6" y="824.1" width="177.2" height="15.8" fill="none" stroke="#111" stroke-width="1.20"/>
<line x1="709.5" y1="807.3" x2="714.5" y2="807.3" stroke="#111" stroke-width="1.10"/>
<text x="716.3" y="811.0" font-size="10.00" fill="#111">48</text>
<line x1="709.5" y1="839.4" x2="714.5" y2="839.4" stroke="#111" stroke-width="1.10"/>
<text x="716.3" y="843.0" font-size="10.00" fill="#111">100</text>
<text x="-0.4" y="889.1" font-size="19.00" font-weight="bold">g</text>
<text x="80.9" y="885.9" font-size="11.50" text-anchor="middle" fill="#111">WT</text>
<text x="200.7" y="885.9" font-size="11.50" text-anchor="middle" fill="#111" textLength="46.0" lengthAdjust="spacingAndGlyphs">ErbB2 KI</text>
<text x="321.7" y="885.9" font-size="11.50" text-anchor="middle" fill="#111" textLength="54.5" lengthAdjust="spacingAndGlyphs">ERR&#945; KO</text>
<text x="445.2" y="885.9" font-size="11.50" text-anchor="middle" fill="#111" textLength="31.7" lengthAdjust="spacingAndGlyphs">KI:KO</text>
<text x="14.7" y="948.7" font-size="16.50" text-anchor="middle" fill="#111" transform="rotate(-90 14.7 948.7)" textLength="53.8" lengthAdjust="spacingAndGlyphs">&#945;- SMA</text>
<defs><clipPath id="cl5"><rect x="24.2" y="892.3" width="110.6" height="109.8"/></clipPath></defs>
<g clip-path="url(#cl5)"><g filter="url(#mb)">
<rect x="21.2" y="889.3" width="116.6" height="115.8" fill="#b9c5d6"/>
<g filter="url(#pb)">
<ellipse cx="99.4" cy="912.1" rx="2.5" ry="4.0" fill="#a85a3a" opacity="0.80" transform="rotate(45 99.4 912.1)"/>
<ellipse cx="90.6" cy="964.8" rx="3.0" ry="2.0" fill="#a85a3a" opacity="0.90" transform="rotate(-33 90.6 964.8)"/>
<ellipse cx="75.1" cy="929.6" rx="3.0" ry="1.5" fill="#b07050" opacity="0.80" transform="rotate(57 75.1 929.6)"/>
</g>
<path d="M18.3 889.1L25.5 892.4M18.3 889.1L14.7 896.7M14.7 896.7L22.8 901M14.7 896.7L13.7 904.7M13.7 904.7L19.9 905.9M13.7 904.7L14.1 909.4M14.1 909.4L22.8 909.5M12.5 914.6L22.1 916M13.3 925.8L21.7 926.4M13.3 925.8L10.4 931.2M10.4 931.2L18.1 931.1M10.4 931.2L9.2 937.3M9.2 937.3L20.1 936.6M9.2 937.3L8.1 942.3M8.1 942.3L14.6 944.3M7.7 950.8L18 948M7.7 950.8L9.4 952.7M9.4 952.7L16.1 955.7M9.4 952.7L4.5 960.7M4.5 960.7L4.4 965.7M6.8 977.3L13.7 978.7M6.8 977.3L1.5 976.9M1.5 976.9L8.2 984.1M1.5 976.9L3 989.8M3 989.8L11.4 986M27.1 887.5L32.7 885.7M27.1 887.5L25.5 892.4M25.5 892.4L29 890.2M25.5 892.4L22.8 901M22.8 901L19.9 905.9M19.9 905.9L26.7 906.4M22.8 909.5L30.4 912.2M22.8 909.5L22.1 916M22.1 916L28.3 919.9M22.1 916L21.7 926.4M21.7 926.4L27.7 925.6M18.1 931.1L28 931.6M20.1 936.6L23.1 935.5M14.6 944.3L22.4 941.9M16.1 955.7L14.6 962.6M14.6 962.6L15 969.8M15 969.8L13.7 978.7M13.7 978.7L17.7 978.2M13.7 978.7L8.2 984.1M8.2 984.1L15.9 979.6M8.2 984.1L11.4 986M32.7 885.7L29 890.2M29 890.2L38.3 895.2M29 890.2L29 902.2M29 902.2L36.1 900.4M26.7 906.4L34.7 907.6M26.7 906.4L30.4 912.2M30.4 912.2L28.3 919.9M28.3 919.9L36.8 919.6M27.7 925.6L34 924.2M27.7 925.6L28 931.6M28 931.6L33.9 933.6M28 931.6L23.1 935.5M22.4 941.9L27.7 947.8M22.4 941.9L25.1 949.1M23 959.4L20.7 960.8M20.7 960.8L28 967.7M20.7 960.8L17.4 972.6M17.4 972.6L25.4 971.5M17.4 972.6L17.7 978.2M17.7 978.2L26.2 976.1M17.7 978.2L15.9 979.6M15.9 979.6L22.3 982.7M15.9 979.6L15.9 988.2M15.9 988.2L21.6 986.9M37.2 889L43.7 891.5M38.3 895.2L45.2 897.6M38.3 895.2L36.1 900.4M36.1 900.4L44.3 902.3M36.1 900.4L34.7 907.6M34.7 907.6L45.2 908.1M34.7 907.6L34.3 914.7M34.3 914.7L40.8 913.5M34.3 914.7L36.8 919.6M36.8 919.6L39.1 918M34 924.2L38.6 928.5M34 924.2L33.9 933.6M33.9 933.6L37.4 933.8M31.6 939.9L27.7 947.8M27.7 947.8L26.8 949.7M26.8 949.7L27.8 961.3M27.8 961.3L37.8 957.1M27.8 961.3L28 967.7M28 967.7L34.3 964.2M28 967.7L25.4 971.5M25.4 971.5L26.2 976.1M26.2 976.1L33.9 979.3M26.2 976.1L22.3 982.7M22.3 982.7L32.5 987.5M21.6 986.9L31.9 994.5M43.7 891.5L52 891.8M43.7 891.5L45.2 897.6M45.2 897.6L44.3 902.3M44.3 902.3L45.2 908.1M45.2 908.1L51.4 909.8M40.8 913.5L39.1 918M39.1 918L50.5 921.4M39.1 918L38.6 928.5M38.6 928.5L37.4 933.8M37.4 933.8L44.3 936.7M37.4 933.8L36.6 942M36.6 942L35.7 946.4M35.7 946.4L42.8 948.5M35.7 946.4L37.3 955M37.3 955L44.5 954.1M37.3 955L37.8 957.1M37.8 957.1L34.3 964.2M34.3 964.2L42.5 970.3M34.3 964.2L35.6 971.3M35.6 971.3L41 972.3M35.6 971.3L33.9 979.3M32.5 987.5L39 985.5M32.5 987.5L31.9 994.5M31.9 994.5L37.8 993.2M52 891.8L59.4 895M52 891.8L53.7 899.5M53.7 899.5L58.4 896.7M53.7 899.5L50.1 905.6M50.1 905.6L55.4 901.1M51.4 909.8L48.6 915.8M48.6 915.8L56.9 915.8M50.5 921.4L52.2 923.1M50.5 921.4L49.7 927.2M49.7 927.2L51.8 927.1M49.7 927.2L44.3 936.7M44.3 936.7L53.9 934.6M46.3 940.8L51.4 945.2M46.3 940.8L42.8 948.5M42.8 948.5L50.9 948.7M44.5 954.1L49.5 958.5M44.5 954.1L41.9 960.5M41.9 960.5L46.9 963.2M41.9 960.5L42.5 970.3M42.5 970.3L46.4 969.1M42.5 970.3L41 972.3M41 972.3L44.8 971.6M41 972.3L38.8 979.5M38.8 979.5L44.2 982.4M38.8 979.5L39 985.5M39 985.5L43.4 988.9M39 985.5L37.8 993.2M37.8 993.2L42.7 996.2M59.4 895L68.4 895.2M59.4 895L58.4 896.7M58.4 896.7L64.3 896.5M55.4 901.1L64.5 904.4M57.3 913.8L60.7 913.3M57.3 913.8L56.9 915.8M56.9 915.8L64 921.3M56.9 915.8L52.2 923.1M52.2 923.1L63.8 926M52.2 923.1L51.8 927.1M51.8 927.1L60.2 934.6M53.9 934.6L58.8 939.4M51.4 945.2L57.1 946.9M51.4 945.2L50.9 948.7M50.9 948.7L57.9 953.9M49.5 958.5L58.6 958.1M49.5 958.5L46.9 963.2M46.9 963.2L56.2 961.3M46.9 963.2L46.4 969.1M46.4 969.1L53.6 966.8M46.4 969.1L44.8 971.6M44.8 971.6L44.2 982.4M44.2 982.4L43.4 988.9M43.4 988.9L53.2 986.5M42.7 996.2L49.1 997.6M68.4 895.2L74.1 896.4M68.4 895.2L64.3 896.5M64.3 896.5L71.5 897.7M64.3 896.5L64.5 904.4M64.5 904.4L72.2 907.8M64.5 904.4L60.7 913.3M60.7 913.3L71.3 910.8M60.7 913.3L64 921.3M64 921.3L63.8 926M63.8 926L60.2 934.6M60.2 934.6L65.8 931.6M60.2 934.6L58.8 939.4M58.8 939.4L57.1 946.9M57.1 946.9L68.4 944.5M57.1 946.9L57.9 953.9M57.9 953.9L58.6 958.1M58.6 958.1L61.7 960M58.6 958.1L56.2 961.3M56.2 961.3L61.2 963.3M53.6 966.8L61 967.9M53.6 966.8L54.7 974.5M54.7 974.5L62.3 978.3M54.7 974.5L50.1 982.7M50.1 982.7L60 986.8M50.1 982.7L53.2 986.5M53.2 986.5L56.4 991.7M53.2 986.5L49.1 997.6M49.1 997.6L56.4 998.8M74.1 896.4L82.9 895.5M74.1 896.4L71.5 897.7M71.5 897.7L81.2 901.7M71.5 897.7L72.2 907.8M72.2 907.8L71.3 910.8M71.3 910.8L78 915M71.3 910.8L69.8 922.2M69.8 922.2L68.4 926.4M68.4 926.4L75.8 929M68.4 926.4L65.8 931.6M65.8 931.6L75.3 932.3M65.8 931.6L65.4 936.1M65.4 936.1L74.3 942.3M68.4 944.5L71.7 945.3M68.4 944.5L62.4 952M62.4 952L71 953.5M61.7 960L72.8 961.6M61.7 960L61.2 963.3M61.2 963.3L67.1 964M61.2 963.3L61 967.9M61 967.9L68.6 975.1M61 967.9L62.3 978.3M62.3 978.3L68.1 980.9M62.3 978.3L60 986.8M60 986.8L65.1 983.1M60 986.8L56.4 991.7M56.4 991.7L65 988.7M56.4 998.8L65.8 998.8M82.9 895.5L81.2 901.7M81.2 901.7L87.6 900.4M81.2 901.7L76.2 907.5M76.2 907.5L85.3 909.9M78 915L83 914.1M78 915L76.6 918.6M76.6 918.6L85.5 920M76.6 918.6L75.8 929M75.8 929L75.3 932.3M75.3 932.3L83.5 934.9M75.3 932.3L74.3 942.3M74.3 942.3L71.7 945.3M71.7 945.3L80.1 947.6M71.7 945.3L71 953.5M71 953.5L77.5 954.9M71 953.5L72.8 961.6M72.8 961.6L77.4 959.1M72.8 961.6L67.1 964M67.1 964L68.6 975.1M68.6 975.1L74.4 974.6M65.1 983.1L73.9 983.2M65.1 983.1L65 988.7M65 988.7L72.5 989.8M65 988.7L65.8 998.8M65.8 998.8L72.9 999.7M88 898.3L96.2 896.1M88 898.3L87.6 900.4M87.6 900.4L90.9 904.7M85.3 909.9L83 914.1M83 914.1L88.6 916.7M83 914.1L85.5 920M85.5 920L92.5 925.7M79.2 930.7L86.8 930.7M79.2 930.7L83.5 934.9M83.5 934.9L79.4 943.4M80.1 947.6L77.5 954.9M77.5 954.9L82.3 957.4M77.5 954.9L77.4 959.1M77.4 959.1L83.1 962.1M77.4 959.1L79.1 967.8M79.1 967.8L84.1 969M79.1 967.8L74.4 974.6M74.4 974.6L83.7 972.5M74.4 974.6L73.1 977.8M73.1 977.8L78.8 982.1M73.1 977.8L73.9 983.2M73.9 983.2L78.2 984.6M73.9 983.2L72.5 989.8M72.5 989.8L79.4 995.5M72.5 989.8L72.9 999.7M72.9 999.7L76.5 998.6M96.2 896.1L97.9 900.6M96.2 896.1L90.9 904.7M90.9 904.7L98.1 904.9M90.9 904.7L92.8 909.7M92.8 909.7L98.4 909.1M92.5 925.7L94.2 925.2M92.5 925.7L86.8 930.7M86.8 930.7L93.7 929.4M86.8 930.7L89.8 935.2M89.8 935.2L84.7 944M84.7 944L96 946.8M83.6 949L93.8 950.8M83.6 949L82.3 957.4M82.3 957.4L92.5 959.5M82.3 957.4L83.1 962.1M84.1 969L91.5 969M84.1 969L83.7 972.5M83.7 972.5L78.8 982.1M78.8 982.1L89.1 980M78.2 984.6L86.6 986.4M79.4 995.5L76.5 998.6M76.5 998.6L86 1001.9M97.9 900.6L105.5 899M97.9 900.6L98.1 904.9M98.1 904.9L108.9 908.2M98.1 904.9L98.4 909.1M98.4 909.1L100.7 916.5M100.7 916.5L94.2 925.2M94.2 925.2L102.8 924.9M94.2 925.2L93.7 929.4M93.7 929.4L102.7 931.1M93.7 929.4L94.4 936.4M94.4 936.4L103.6 939.9M93.8 950.8L92.5 959.5M92.5 959.5L98 959.2M90.5 962.3L91.5 969M91.5 969L97.3 971.7M91.5 969L88.3 977M88.3 977L95.3 974.8M88.3 977L89.1 980M89.1 980L93.6 981.3M86.6 986.4L96.6 991.6M86.6 986.4L85.9 997.5M85.9 997.5L86 1001.9M105.5 899L115.3 899M105.5 899L108.9 908.2M108.9 908.2L116.4 905.3M108.9 908.2L108 911.7M108 911.7L115 914M102.8 916.4L112.9 917.8M102.8 916.4L102.8 924.9M102.8 924.9L109.5 929.4M102.8 924.9L102.7 931.1M102.7 931.1L111.8 935.6M102.7 931.1L103.6 939.9M102.2 942.4L105.6 946.4M102.2 942.4L102.7 952M102.7 952L108.2 955.5M98 959.2L103.4 959.7M98 959.2L100.6 963.3M100.6 963.3L102.9 962.7M100.6 963.3L97.3 971.7M97.3 971.7L105.3 970.9M97.3 971.7L95.3 974.8M95.3 974.8L102.4 981.1M95.3 974.8L93.6 981.3M93.6 981.3L96.6 991.6M92 999.2L99.4 997.1M92 999.2L90.9 1004.2M90.9 1004.2L97.4 1006.5M115.3 899L116.4 905.3M116.4 905.3L119.1 910.1M116.4 905.3L115 914M115 914L116.7 917.2M112.9 917.8L115.8 923.1M109.5 929.4L111.8 935.6M111.8 935.6L115 933.8M111.8 935.6L109.4 940.5M105.6 946.4L116.4 947.7M105.6 946.4L108.2 955.5M108.2 955.5L114.3 955.4M108.2 955.5L103.4 959.7M103.4 959.7L113.1 962.3M103.4 959.7L102.9 962.7M102.9 962.7L109.5 963.1M102.9 962.7L105.3 970.9M102.4 981.1L109.4 981.8M102.4 981.1L103.4 987.2M103.4 987.2L111.2 984.4M103.4 987.2L102.2 993.5M102.2 993.5L108.2 991.3M102.2 993.5L99.4 997.1M99.4 997.1L106.4 996.6M99.4 997.1L97.4 1006.5M123.2 899.9L119.1 910.1M119.1 910.1L129.2 908.4M119.1 910.1L116.7 917.2M116.7 917.2L124.6 914.3M116.7 917.2L115.8 923.1M115.8 923.1L116.4 928.5M116.4 928.5L125.4 931.5M116.4 928.5L115 933.8M116.1 940.8L124.2 940.2M116.1 940.8L116.4 947.7M116.4 947.7L114.3 955.4M114.3 955.4L113.1 962.3M113.1 962.3L118.7 961M109.5 963.1L118.9 969.8M112.5 973.8L116.8 977.2M109.4 981.8L118.6 978M109.4 981.8L111.2 984.4M111.2 984.4L108.2 991.3M108.2 991.3L106.4 996.6M106.4 996.6L112.1 997.9M105.8 1005L110.7 1005.5M128.7 904.9L129.2 908.4M129.2 908.4L124.6 914.3M124.6 914.3L127.9 925.2M127.9 925.2L125.4 931.5M121 938.8L124.2 940.2M124.2 940.2L119.1 951.3M121.4 955.3L118.7 961M118.7 961L118.9 969.8M118.9 969.8L116.8 977.2M118.6 978L117.3 987.8M115.1 991.5L112.1 997.9" fill="none" stroke="#c89070" stroke-width="1.6" opacity="0.25"/>
<path d="M18.3 889.1L25.5 892.4M18.3 889.1L14.7 896.7M14.7 896.7L22.8 901M14.7 896.7L13.7 904.7M13.7 904.7L19.9 905.9M13.7 904.7L14.1 909.4M14.1 909.4L22.8 909.5M12.5 914.6L22.1 916M13.3 925.8L21.7 926.4M13.3 925.8L10.4 931.2M10.4 931.2L18.1 931.1M10.4 931.2L9.2 937.3M9.2 937.3L20.1 936.6M9.2 937.3L8.1 942.3M8.1 942.3L14.6 944.3M7.7 950.8L18 948M7.7 950.8L9.4 952.7M9.4 952.7L16.1 955.7M9.4 952.7L4.5 960.7M4.5 960.7L4.4 965.7M6.8 977.3L13.7 978.7M6.8 977.3L1.5 976.9M1.5 976.9L8.2 984.1M1.5 976.9L3 989.8M3 989.8L11.4 986M27.1 887.5L32.7 885.7M27.1 887.5L25.5 892.4M25.5 892.4L29 890.2M25.5 892.4L22.8 901M22.8 901L19.9 905.9M19.9 905.9L26.7 906.4M22.8 909.5L30.4 912.2M22.8 909.5L22.1 916M22.1 916L28.3 919.9M22.1 916L21.7 926.4M21.7 926.4L27.7 925.6M18.1 931.1L28 931.6M20.1 936.6L23.1 935.5M14.6 944.3L22.4 941.9M16.1 955.7L14.6 962.6M14.6 962.6L15 969.8M15 969.8L13.7 978.7M13.7 978.7L17.7 978.2M13.7 978.7L8.2 984.1M8.2 984.1L15.9 979.6M8.2 984.1L11.4 986M32.7 885.7L29 890.2M29 890.2L38.3 895.2M29 890.2L29 902.2M29 902.2L36.1 900.4M26.7 906.4L34.7 907.6M26.7 906.4L30.4 912.2M30.4 912.2L28.3 919.9M28.3 919.9L36.8 919.6M27.7 925.6L34 924.2M27.7 925.6L28 931.6M28 931.6L33.9 933.6M28 931.6L23.1 935.5M22.4 941.9L27.7 947.8M22.4 941.9L25.1 949.1M23 959.4L20.7 960.8M20.7 960.8L28 967.7M20.7 960.8L17.4 972.6M17.4 972.6L25.4 971.5M17.4 972.6L17.7 978.2M17.7 978.2L26.2 976.1M17.7 978.2L15.9 979.6M15.9 979.6L22.3 982.7M15.9 979.6L15.9 988.2M15.9 988.2L21.6 986.9M37.2 889L43.7 891.5M38.3 895.2L45.2 897.6M38.3 895.2L36.1 900.4M36.1 900.4L44.3 902.3M36.1 900.4L34.7 907.6M34.7 907.6L45.2 908.1M34.7 907.6L34.3 914.7M34.3 914.7L40.8 913.5M34.3 914.7L36.8 919.6M36.8 919.6L39.1 918M34 924.2L38.6 928.5M34 924.2L33.9 933.6M33.9 933.6L37.4 933.8M31.6 939.9L27.7 947.8M27.7 947.8L26.8 949.7M26.8 949.7L27.8 961.3M27.8 961.3L37.8 957.1M27.8 961.3L28 967.7M28 967.7L34.3 964.2M28 967.7L25.4 971.5M25.4 971.5L26.2 976.1M26.2 976.1L33.9 979.3M26.2 976.1L22.3 982.7M22.3 982.7L32.5 987.5M21.6 986.9L31.9 994.5M43.7 891.5L52 891.8M43.7 891.5L45.2 897.6M45.2 897.6L44.3 902.3M44.3 902.3L45.2 908.1M45.2 908.1L51.4 909.8M40.8 913.5L39.1 918M39.1 918L50.5 921.4M39.1 918L38.6 928.5M38.6 928.5L37.4 933.8M37.4 933.8L44.3 936.7M37.4 933.8L36.6 942M36.6 942L35.7 946.4M35.7 946.4L42.8 948.5M35.7 946.4L37.3 955M37.3 955L44.5 954.1M37.3 955L37.8 957.1M37.8 957.1L34.3 964.2M34.3 964.2L42.5 970.3M34.3 964.2L35.6 971.3M35.6 971.3L41 972.3M35.6 971.3L33.9 979.3M32.5 987.5L39 985.5M32.5 987.5L31.9 994.5M31.9 994.5L37.8 993.2M52 891.8L59.4 895M52 891.8L53.7 899.5M53.7 899.5L58.4 896.7M53.7 899.5L50.1 905.6M50.1 905.6L55.4 901.1M51.4 909.8L48.6 915.8M48.6 915.8L56.9 915.8M50.5 921.4L52.2 923.1M50.5 921.4L49.7 927.2M49.7 927.2L51.8 927.1M49.7 927.2L44.3 936.7M44.3 936.7L53.9 934.6M46.3 940.8L51.4 945.2M46.3 940.8L42.8 948.5M42.8 948.5L50.9 948.7M44.5 954.1L49.5 958.5M44.5 954.1L41.9 960.5M41.9 960.5L46.9 963.2M41.9 960.5L42.5 970.3M42.5 970.3L46.4 969.1M42.5 970.3L41 972.3M41 972.3L44.8 971.6M41 972.3L38.8 979.5M38.8 979.5L44.2 982.4M38.8 979.5L39 985.5M39 985.5L43.4 988.9M39 985.5L37.8 993.2M37.8 993.2L42.7 996.2M59.4 895L68.4 895.2M59.4 895L58.4 896.7M58.4 896.7L64.3 896.5M55.4 901.1L64.5 904.4M57.3 913.8L60.7 913.3M57.3 913.8L56.9 915.8M56.9 915.8L64 921.3M56.9 915.8L52.2 923.1M52.2 923.1L63.8 926M52.2 923.1L51.8 927.1M51.8 927.1L60.2 934.6M53.9 934.6L58.8 939.4M51.4 945.2L57.1 946.9M51.4 945.2L50.9 948.7M50.9 948.7L57.9 953.9M49.5 958.5L58.6 958.1M49.5 958.5L46.9 963.2M46.9 963.2L56.2 961.3M46.9 963.2L46.4 969.1M46.4 969.1L53.6 966.8M46.4 969.1L44.8 971.6M44.8 971.6L44.2 982.4M44.2 982.4L43.4 988.9M43.4 988.9L53.2 986.5M42.7 996.2L49.1 997.6M68.4 895.2L74.1 896.4M68.4 895.2L64.3 896.5M64.3 896.5L71.5 897.7M64.3 896.5L64.5 904.4M64.5 904.4L72.2 907.8M64.5 904.4L60.7 913.3M60.7 913.3L71.3 910.8M60.7 913.3L64 921.3M64 921.3L63.8 926M63.8 926L60.2 934.6M60.2 934.6L65.8 931.6M60.2 934.6L58.8 939.4M58.8 939.4L57.1 946.9M57.1 946.9L68.4 944.5M57.1 946.9L57.9 953.9M57.9 953.9L58.6 958.1M58.6 958.1L61.7 960M58.6 958.1L56.2 961.3M56.2 961.3L61.2 963.3M53.6 966.8L61 967.9M53.6 966.8L54.7 974.5M54.7 974.5L62.3 978.3M54.7 974.5L50.1 982.7M50.1 982.7L60 986.8M50.1 982.7L53.2 986.5M53.2 986.5L56.4 991.7M53.2 986.5L49.1 997.6M49.1 997.6L56.4 998.8M74.1 896.4L82.9 895.5M74.1 896.4L71.5 897.7M71.5 897.7L81.2 901.7M71.5 897.7L72.2 907.8M72.2 907.8L71.3 910.8M71.3 910.8L78 915M71.3 910.8L69.8 922.2M69.8 922.2L68.4 926.4M68.4 926.4L75.8 929M68.4 926.4L65.8 931.6M65.8 931.6L75.3 932.3M65.8 931.6L65.4 936.1M65.4 936.1L74.3 942.3M68.4 944.5L71.7 945.3M68.4 944.5L62.4 952M62.4 952L71 953.5M61.7 960L72.8 961.6M61.7 960L61.2 963.3M61.2 963.3L67.1 964M61.2 963.3L61 967.9M61 967.9L68.6 975.1M61 967.9L62.3 978.3M62.3 978.3L68.1 980.9M62.3 978.3L60 986.8M60 986.8L65.1 983.1M60 986.8L56.4 991.7M56.4 991.7L65 988.7M56.4 998.8L65.8 998.8M82.9 895.5L81.2 901.7M81.2 901.7L87.6 900.4M81.2 901.7L76.2 907.5M76.2 907.5L85.3 909.9M78 915L83 914.1M78 915L76.6 918.6M76.6 918.6L85.5 920M76.6 918.6L75.8 929M75.8 929L75.3 932.3M75.3 932.3L83.5 934.9M75.3 932.3L74.3 942.3M74.3 942.3L71.7 945.3M71.7 945.3L80.1 947.6M71.7 945.3L71 953.5M71 953.5L77.5 954.9M71 953.5L72.8 961.6M72.8 961.6L77.4 959.1M72.8 961.6L67.1 964M67.1 964L68.6 975.1M68.6 975.1L74.4 974.6M65.1 983.1L73.9 983.2M65.1 983.1L65 988.7M65 988.7L72.5 989.8M65 988.7L65.8 998.8M65.8 998.8L72.9 999.7M88 898.3L96.2 896.1M88 898.3L87.6 900.4M87.6 900.4L90.9 904.7M85.3 909.9L83 914.1M83 914.1L88.6 916.7M83 914.1L85.5 920M85.5 920L92.5 925.7M79.2 930.7L86.8 930.7M79.2 930.7L83.5 934.9M83.5 934.9L79.4 943.4M80.1 947.6L77.5 954.9M77.5 954.9L82.3 957.4M77.5 954.9L77.4 959.1M77.4 959.1L83.1 962.1M77.4 959.1L79.1 967.8M79.1 967.8L84.1 969M79.1 967.8L74.4 974.6M74.4 974.6L83.7 972.5M74.4 974.6L73.1 977.8M73.1 977.8L78.8 982.1M73.1 977.8L73.9 983.2M73.9 983.2L78.2 984.6M73.9 983.2L72.5 989.8M72.5 989.8L79.4 995.5M72.5 989.8L72.9 999.7M72.9 999.7L76.5 998.6M96.2 896.1L97.9 900.6M96.2 896.1L90.9 904.7M90.9 904.7L98.1 904.9M90.9 904.7L92.8 909.7M92.8 909.7L98.4 909.1M92.5 925.7L94.2 925.2M92.5 925.7L86.8 930.7M86.8 930.7L93.7 929.4M86.8 930.7L89.8 935.2M89.8 935.2L84.7 944M84.7 944L96 946.8M83.6 949L93.8 950.8M83.6 949L82.3 957.4M82.3 957.4L92.5 959.5M82.3 957.4L83.1 962.1M84.1 969L91.5 969M84.1 969L83.7 972.5M83.7 972.5L78.8 982.1M78.8 982.1L89.1 980M78.2 984.6L86.6 986.4M79.4 995.5L76.5 998.6M76.5 998.6L86 1001.9M97.9 900.6L105.5 899M97.9 900.6L98.1 904.9M98.1 904.9L108.9 908.2M98.1 904.9L98.4 909.1M98.4 909.1L100.7 916.5M100.7 916.5L94.2 925.2M94.2 925.2L102.8 924.9M94.2 925.2L93.7 929.4M93.7 929.4L102.7 931.1M93.7 929.4L94.4 936.4M94.4 936.4L103.6 939.9M93.8 950.8L92.5 959.5M92.5 959.5L98 959.2M90.5 962.3L91.5 969M91.5 969L97.3 971.7M91.5 969L88.3 977M88.3 977L95.3 974.8M88.3 977L89.1 980M89.1 980L93.6 981.3M86.6 986.4L96.6 991.6M86.6 986.4L85.9 997.5M85.9 997.5L86 1001.9M105.5 899L115.3 899M105.5 899L108.9 908.2M108.9 908.2L116.4 905.3M108.9 908.2L108 911.7M108 911.7L115 914M102.8 916.4L112.9 917.8M102.8 916.4L102.8 924.9M102.8 924.9L109.5 929.4M102.8 924.9L102.7 931.1M102.7 931.1L111.8 935.6M102.7 931.1L103.6 939.9M102.2 942.4L105.6 946.4M102.2 942.4L102.7 952M102.7 952L108.2 955.5M98 959.2L103.4 959.7M98 959.2L100.6 963.3M100.6 963.3L102.9 962.7M100.6 963.3L97.3 971.7M97.3 971.7L105.3 970.9M97.3 971.7L95.3 974.8M95.3 974.8L102.4 981.1M95.3 974.8L93.6 981.3M93.6 981.3L96.6 991.6M92 999.2L99.4 997.1M92 999.2L90.9 1004.2M90.9 1004.2L97.4 1006.5M115.3 899L116.4 905.3M116.4 905.3L119.1 910.1M116.4 905.3L115 914M115 914L116.7 917.2M112.9 917.8L115.8 923.1M109.5 929.4L111.8 935.6M111.8 935.6L115 933.8M111.8 935.6L109.4 940.5M105.6 946.4L116.4 947.7M105.6 946.4L108.2 955.5M108.2 955.5L114.3 955.4M108.2 955.5L103.4 959.7M103.4 959.7L113.1 962.3M103.4 959.7L102.9 962.7M102.9 962.7L109.5 963.1M102.9 962.7L105.3 970.9M102.4 981.1L109.4 981.8M102.4 981.1L103.4 987.2M103.4 987.2L111.2 984.4M103.4 987.2L102.2 993.5M102.2 993.5L108.2 991.3M102.2 993.5L99.4 997.1M99.4 997.1L106.4 996.6M99.4 997.1L97.4 1006.5M123.2 899.9L119.1 910.1M119.1 910.1L129.2 908.4M119.1 910.1L116.7 917.2M116.7 917.2L124.6 914.3M116.7 917.2L115.8 923.1M115.8 923.1L116.4 928.5M116.4 928.5L125.4 931.5M116.4 928.5L115 933.8M116.1 940.8L124.2 940.2M116.1 940.8L116.4 947.7M116.4 947.7L114.3 955.4M114.3 955.4L113.1 962.3M113.1 962.3L118.7 961M109.5 963.1L118.9 969.8M112.5 973.8L116.8 977.2M109.4 981.8L118.6 978M109.4 981.8L111.2 984.4M111.2 984.4L108.2 991.3M108.2 991.3L106.4 996.6M106.4 996.6L112.1 997.9M105.8 1005L110.7 1005.5M128.7 904.9L129.2 908.4M129.2 908.4L124.6 914.3M124.6 914.3L127.9 925.2M127.9 925.2L125.4 931.5M121 938.8L124.2 940.2M124.2 940.2L119.1 951.3M121.4 955.3L118.7 961M118.7 961L118.9 969.8M118.9 969.8L116.8 977.2M118.6 978L117.3 987.8M115.1 991.5L112.1 997.9" fill="none" stroke="#f0e8e0" stroke-width="0.9" opacity="0.80"/>
<path d="M23 912.4L24.5 913.6L26.3 915.7L28.3 918.3L30.5 921L32.9 923.3L35.6 924.8L38.2 925.6L40.8 926.2L43.2 926.7L45.3 927.3L47 927.8L48.3 927.9L48.3 926.6L47 925.6L45.3 924.6L43.5 923.4L41.8 921.7L40.1 920L38.6 918.3L36.3 916.4L33.5 914.7L30.6 913.1L27.9 911.6L26 910.1z" fill="none" stroke="#c08060" stroke-width="1.2" opacity="0.20" stroke-linejoin="round"/>
<path d="M23 912.4L24.5 913.6L26.3 915.7L28.3 918.3L30.5 921L32.9 923.3L35.6 924.8L38.2 925.6L40.8 926.2L43.2 926.7L45.3 927.3L47 927.8L48.3 927.9L48.3 926.6L47 925.6L45.3 924.6L43.5 923.4L41.8 921.7L40.1 920L38.6 918.3L36.3 916.4L33.5 914.7L30.6 913.1L27.9 911.6L26 910.1z" fill="#f8f6f2"/>
<path d="M34 925.3L34.1 927L34.1 929.2L34.2 932L34.4 935.1L34.6 938.5L34.9 942L35.5 945.9L36.3 950.3L37.3 954.8L38.6 959.3L39.8 963.6L40.9 967.4L41.8 971L42.6 974.4L43.3 977.7L43.9 980.9L44.6 984L45.2 987L45.9 990L46.6 993.1L47.3 996.1L47.9 998.8L48.4 1001.1L48.7 1002.7L52.5 1000.8L51.6 998.9L50.7 996.5L49.6 993.8L48.6 990.9L47.8 987.9L47.2 985L46.7 982L46.4 978.9L46.2 975.6L45.9 972.1L45.4 968.4L44.8 964.5L43.8 960.2L42.5 955.7L41.2 951.3L39.7 947L38.4 943.1L37.3 939.7L36.4 936.4L35.7 933.3L35.2 930.4L34.8 928L34.4 926z" fill="none" stroke="#c08060" stroke-width="1.2" opacity="0.20" stroke-linejoin="round"/>
<path d="M34 925.3L34.1 927L34.1 929.2L34.2 932L34.4 935.1L34.6 938.5L34.9 942L35.5 945.9L36.3 950.3L37.3 954.8L38.6 959.3L39.8 963.6L40.9 967.4L41.8 971L42.6 974.4L43.3 977.7L43.9 980.9L44.6 984L45.2 987L45.9 990L46.6 993.1L47.3 996.1L47.9 998.8L48.4 1001.1L48.7 1002.7L52.5 1000.8L51.6 998.9L50.7 996.5L49.6 993.8L48.6 990.9L47.8 987.9L47.2 985L46.7 982L46.4 978.9L46.2 975.6L45.9 972.1L45.4 968.4L44.8 964.5L43.8 960.2L42.5 955.7L41.2 951.3L39.7 947L38.4 943.1L37.3 939.7L36.4 936.4L35.7 933.3L35.2 930.4L34.8 928L34.4 926z" fill="#f8f6f2"/>
<path d="M35.2 934.1L37 934.7L39.4 935.4L42.2 936.5L45.1 937.6L47.9 938.3L50.4 938.8L52.5 939.1L54.6 939.4L56.5 939.8L58.1 940.3L59.5 940.7L60.6 940.8L60.3 940.2L59.2 939.6L57.7 938.9L56 938.2L54.2 937.2L52.2 936.3L50 935.5L47.2 934.8L44.2 934.5L41 934.4L38.3 934.2L36.1 934z" fill="none" stroke="#c08060" stroke-width="1.2" opacity="0.20" stroke-linejoin="round"/>
<path d="M35.2 934.1L37 934.7L39.4 935.4L42.2 936.5L45.1 937.6L47.9 938.3L50.4 938.8L52.5 939.1L54.6 939.4L56.5 939.8L58.1 940.3L59.5 940.7L60.6 940.8L60.3 940.2L59.2 939.6L57.7 938.9L56 938.2L54.2 937.2L52.2 936.3L50 935.5L47.2 934.8L44.2 934.5L41 934.4L38.3 934.2L36.1 934z" fill="#f8f6f2"/>
<path d="M82 895L82.7 896.2L83.7 897.8L84.8 899.7L86 901.9L87.2 904.1L88.4 906.2L89.6 908.1L90.8 909.9L92 911.5L93.1 913.3L94.2 915.5L95.4 918.2L96.5 921.8L97.7 926.2L98.8 931.1L100 936.1L101.3 941L102.5 945.4L103.8 949.3L105.1 953L106.4 956.5L107.7 959.9L108.8 963.1L109.8 966.1L110.8 969L111.7 971.8L112.6 974.5L113.4 976.8L114.1 978.8L114.6 980.2L114.9 979.4L114.5 977.6L114 975.4L113.2 972.8L112.4 970.1L111.5 967.1L110.6 964.2L109.7 961L108.6 957.7L107.6 954.2L106.6 950.5L105.6 946.6L104.7 942.6L103.7 937.9L102.8 932.9L101.8 927.8L100.8 923L99.6 918.7L98.4 915.3L96.9 912.5L95.4 910.3L93.9 908.6L92.5 907.1L91.2 905.6L89.9 903.8L88.5 901.8L87.1 899.8L85.9 897.8L84.8 896L84 894.5z" fill="none" stroke="#c08060" stroke-width="1.2" opacity="0.20" stroke-linejoin="round"/>
<path d="M82 895L82.7 896.2L83.7 897.8L84.8 899.7L86 901.9L87.2 904.1L88.4 906.2L89.6 908.1L90.8 909.9L92 911.5L93.1 913.3L94.2 915.5L95.4 918.2L96.5 921.8L97.7 926.2L98.8 931.1L100 936.1L101.3 941L102.5 945.4L103.8 949.3L105.1 953L106.4 956.5L107.7 959.9L108.8 963.1L109.8 966.1L110.8 969L111.7 971.8L112.6 974.5L113.4 976.8L114.1 978.8L114.6 980.2L114.9 979.4L114.5 977.6L114 975.4L113.2 972.8L112.4 970.1L111.5 967.1L110.6 964.2L109.7 961L108.6 957.7L107.6 954.2L106.6 950.5L105.6 946.6L104.7 942.6L103.7 937.9L102.8 932.9L101.8 927.8L100.8 923L99.6 918.7L98.4 915.3L96.9 912.5L95.4 910.3L93.9 908.6L92.5 907.1L91.2 905.6L89.9 903.8L88.5 901.8L87.1 899.8L85.9 897.8L84.8 896L84 894.5z" fill="#f8f6f2"/>
<path d="M120.6 892.6L121 893.9L121.6 895.7L122.1 897.8L122.5 900.3L122.8 902.9L123 905.6L123.1 908.7L123.1 912.4L123.1 916.3L123.2 920.3L123.4 924.1L123.8 927.5L124.4 930.6L125.2 933.4L125.9 936.1L126.6 938.5L127.4 940.4L127.9 941.8L128.3 941L128 939.2L127.4 937L126.8 934.5L126.2 931.7L125.9 928.8L125.9 925.8L126.1 922.3L126.5 918.4L126.8 914.5L126.9 910.5L126.8 906.9L126.4 903.8L125.7 900.9L124.7 898.4L123.9 896.1L123.1 894.2L122.6 892.6z" fill="none" stroke="#c08060" stroke-width="1.2" opacity="0.20" stroke-linejoin="round"/>
<path d="M120.6 892.6L121 893.9L121.6 895.7L122.1 897.8L122.5 900.3L122.8 902.9L123 905.6L123.1 908.7L123.1 912.4L123.1 916.3L123.2 920.3L123.4 924.1L123.8 927.5L124.4 930.6L125.2 933.4L125.9 936.1L126.6 938.5L127.4 940.4L127.9 941.8L128.3 941L128 939.2L127.4 937L126.8 934.5L126.2 931.7L125.9 928.8L125.9 925.8L126.1 922.3L126.5 918.4L126.8 914.5L126.9 910.5L126.8 906.9L126.4 903.8L125.7 900.9L124.7 898.4L123.9 896.1L123.1 894.2L122.6 892.6z" fill="#f8f6f2"/>
<path d="M76 945L76.4 946.9L76.8 949.4L77.2 952.5L77.6 955.8L77.8 959.3L77.9 962.7L77.9 966.2L78 970.1L78.1 974.1L78.2 978.2L78.3 982.1L78.5 985.6L78.6 988.9L78.6 992.2L78.5 995.3L78.3 998.1L78.1 1000.4L77.9 1002.1L81 1001.3L80.8 999.3L80.6 996.7L80.4 993.8L80.4 990.6L80.4 987.3L80.6 983.9L80.9 980.2L81.2 976.2L81.5 972.1L81.5 968.1L81.4 964.2L80.8 960.7L79.9 957.2L78.9 953.8L78 950.7L77.2 948L76.5 945.8z" fill="none" stroke="#c08060" stroke-width="1.2" opacity="0.20" stroke-linejoin="round"/>
<path d="M76 945L76.4 946.9L76.8 949.4L77.2 952.5L77.6 955.8L77.8 959.3L77.9 962.7L77.9 966.2L78 970.1L78.1 974.1L78.2 978.2L78.3 982.1L78.5 985.6L78.6 988.9L78.6 992.2L78.5 995.3L78.3 998.1L78.1 1000.4L77.9 1002.1L81 1001.3L80.8 999.3L80.6 996.7L80.4 993.8L80.4 990.6L80.4 987.3L80.6 983.9L80.9 980.2L81.2 976.2L81.5 972.1L81.5 968.1L81.4 964.2L80.8 960.7L79.9 957.2L78.9 953.8L78 950.7L77.2 948L76.5 945.8z" fill="#f8f6f2"/>
<path d="M39.3 892.6L40.7 894.4L42.6 897.1L45.1 900L47.9 902.7L50.2 905L51.8 906.7L51.4 905.7L49.6 903.5L47.5 900.5L45.2 897.4L42.7 894.7L40.6 892.8z" fill="none" stroke="#c08060" stroke-width="1.2" opacity="0.20" stroke-linejoin="round"/>
<path d="M39.3 892.6L40.7 894.4L42.6 897.1L45.1 900L47.9 902.7L50.2 905L51.8 906.7L51.4 905.7L49.6 903.5L47.5 900.5L45.2 897.4L42.7 894.7L40.6 892.8z" fill="#f8f6f2"/>
<g fill="#5a7ab8" opacity="0.75"><ellipse cx="25.9" cy="948.2" rx="2.1" ry="0.8" transform="rotate(55 25.9 948.2)"/><ellipse cx="89.2" cy="900.2" rx="1.8" ry="0.9" transform="rotate(76 89.2 900.2)"/><ellipse cx="32.3" cy="927.6" rx="1.9" ry="0.8" transform="rotate(39 32.3 927.6)"/><ellipse cx="44.8" cy="918.7" rx="1.6" ry="0.8" transform="rotate(153 44.8 918.7)"/><ellipse cx="43.5" cy="932.8" rx="2.2" ry="1.1" transform="rotate(99 43.5 932.8)"/><ellipse cx="96.8" cy="994.6" rx="1.6" ry="1.0" transform="rotate(24 96.8 994.6)"/><ellipse cx="93.9" cy="905.1" rx="1.9" ry="1.1" transform="rotate(24 93.9 905.1)"/><ellipse cx="39.7" cy="920.8" rx="1.8" ry="0.8" transform="rotate(77 39.7 920.8)"/><ellipse cx="120.3" cy="961.9" rx="2.2" ry="0.9" transform="rotate(4 120.3 961.9)"/><ellipse cx="48.5" cy="1001.3" rx="2.2" ry="0.9" transform="rotate(169 48.5 1001.3)"/><ellipse cx="99.8" cy="922.6" rx="1.7" ry="1.0" transform="rotate(79 99.8 922.6)"/><ellipse cx="76.1" cy="951.6" rx="2.2" ry="0.9" transform="rotate(140 76.1 951.6)"/><ellipse cx="80.9" cy="915.3" rx="2.1" ry="0.8" transform="rotate(100 80.9 915.3)"/><ellipse cx="31.5" cy="970.2" rx="2.2" ry="1.0" transform="rotate(100 31.5 970.2)"/><ellipse cx="114.0" cy="967.3" rx="2.1" ry="0.9" transform="rotate(130 114.0 967.3)"/><ellipse cx="73.2" cy="959.8" rx="1.4" ry="1.1" transform="rotate(8 73.2 959.8)"/><ellipse cx="89.2" cy="955.1" rx="1.4" ry="0.9" transform="rotate(63 89.2 955.1)"/><ellipse cx="59.5" cy="935.5" rx="1.7" ry="1.0" transform="rotate(63 59.5 935.5)"/><ellipse cx="44.0" cy="982.2" rx="1.4" ry="0.8" transform="rotate(163 44.0 982.2)"/><ellipse cx="90.6" cy="918.8" rx="1.6" ry="1.1" transform="rotate(146 90.6 918.8)"/><ellipse cx="103.8" cy="999.6" rx="1.9" ry="0.9" transform="rotate(168 103.8 999.6)"/><ellipse cx="73.4" cy="999.6" rx="1.8" ry="1.0" transform="rotate(2 73.4 999.6)"/><ellipse cx="45.2" cy="944.5" rx="2.0" ry="0.9" transform="rotate(80 45.2 944.5)"/><ellipse cx="33.1" cy="970.1" rx="1.9" ry="0.9" transform="rotate(78 33.1 970.1)"/><ellipse cx="40.1" cy="950.0" rx="1.6" ry="0.9" transform="rotate(24 40.1 950.0)"/><ellipse cx="119.0" cy="937.7" rx="2.2" ry="0.9" transform="rotate(173 119.0 937.7)"/><ellipse cx="93.3" cy="933.4" rx="1.5" ry="0.8" transform="rotate(95 93.3 933.4)"/><ellipse cx="126.8" cy="990.5" rx="1.8" ry="0.8" transform="rotate(145 126.8 990.5)"/><ellipse cx="56.7" cy="907.4" rx="1.9" ry="1.0" transform="rotate(57 56.7 907.4)"/><ellipse cx="115.6" cy="943.7" rx="1.3" ry="0.8" transform="rotate(119 115.6 943.7)"/><ellipse cx="34.7" cy="970.3" rx="1.6" ry="1.0" transform="rotate(121 34.7 970.3)"/><ellipse cx="111.0" cy="900.0" rx="1.9" ry="0.9" transform="rotate(65 111.0 900.0)"/><ellipse cx="36.2" cy="996.8" rx="1.4" ry="1.0" transform="rotate(15 36.2 996.8)"/><ellipse cx="34.6" cy="945.7" rx="1.7" ry="0.8" transform="rotate(174 34.6 945.7)"/><ellipse cx="84.6" cy="969.3" rx="2.0" ry="0.8" transform="rotate(28 84.6 969.3)"/><ellipse cx="63.3" cy="921.4" rx="2.1" ry="0.9" transform="rotate(105 63.3 921.4)"/><ellipse cx="118.3" cy="1000.7" rx="2.0" ry="0.9" transform="rotate(2 118.3 1000.7)"/><ellipse cx="32.3" cy="944.6" rx="1.3" ry="1.0" transform="rotate(44 32.3 944.6)"/><ellipse cx="82.6" cy="929.4" rx="1.9" ry="0.9" transform="rotate(162 82.6 929.4)"/><ellipse cx="80.9" cy="926.2" rx="2.1" ry="1.0" transform="rotate(84 80.9 926.2)"/><ellipse cx="65.1" cy="944.4" rx="1.5" ry="1.0" transform="rotate(18 65.1 944.4)"/><ellipse cx="37.5" cy="988.9" rx="2.0" ry="0.9" transform="rotate(144 37.5 988.9)"/><ellipse cx="119.8" cy="950.1" rx="1.7" ry="0.9" transform="rotate(94 119.8 950.1)"/><ellipse cx="100.1" cy="972.6" rx="1.8" ry="1.0" transform="rotate(70 100.1 972.6)"/><ellipse cx="41.1" cy="946.9" rx="2.1" ry="0.8" transform="rotate(88 41.1 946.9)"/></g>
<g fill="#9a6a40" opacity="0.9"><ellipse cx="74.2" cy="953.8" rx="1.5" ry="0.9" transform="rotate(143 74.2 953.8)"/><ellipse cx="75.7" cy="948.1" rx="1.3" ry="0.8" transform="rotate(103 75.7 948.1)"/><ellipse cx="44.6" cy="948.5" rx="1.3" ry="0.8" transform="rotate(147 44.6 948.5)"/><ellipse cx="111.9" cy="902.6" rx="1.0" ry="0.6" transform="rotate(139 111.9 902.6)"/><ellipse cx="34.2" cy="981.2" rx="1.4" ry="0.8" transform="rotate(51 34.2 981.2)"/><ellipse cx="28.8" cy="1000.1" rx="1.6" ry="0.9" transform="rotate(147 28.8 1000.1)"/><ellipse cx="96.5" cy="959.9" rx="0.9" ry="0.6" transform="rotate(81 96.5 959.9)"/><ellipse cx="25.9" cy="950.3" rx="0.8" ry="0.5" transform="rotate(171 25.9 950.3)"/><ellipse cx="45.2" cy="918.9" rx="0.8" ry="0.5" transform="rotate(33 45.2 918.9)"/><ellipse cx="75.5" cy="940.7" rx="1.5" ry="0.9" transform="rotate(147 75.5 940.7)"/><ellipse cx="81.6" cy="962.6" rx="1.2" ry="0.7" transform="rotate(80 81.6 962.6)"/><ellipse cx="97.5" cy="942.5" rx="1.0" ry="0.6" transform="rotate(94 97.5 942.5)"/><ellipse cx="134.5" cy="1001.6" rx="1.5" ry="0.9" transform="rotate(142 134.5 1001.6)"/><ellipse cx="102.5" cy="926.9" rx="1.0" ry="0.6" transform="rotate(177 102.5 926.9)"/></g>
</g></g>
<rect x="24.2" y="892.3" width="110.6" height="109.8" fill="none" stroke="#222" stroke-width="2.60"/>
<line x1="98.4" y1="991.5" x2="126.0" y2="991.5" stroke="#000" stroke-width="2.40"/>
<defs><clipPath id="cl6"><rect x="144.5" y="892.0" width="110.0" height="110.0"/></clipPath></defs>
<g clip-path="url(#cl6)"><g filter="url(#mb)">
<rect x="141.5" y="889.0" width="116.0" height="116.0" fill="#b9c5d6"/>
<g filter="url(#pb)">
<ellipse cx="251.2" cy="994.3" rx="5.0" ry="8.0" fill="#9a4a2a" opacity="0.95" transform="rotate(1 251.2 994.3)"/>
<ellipse cx="212.7" cy="986.6" rx="6.0" ry="2.0" fill="#a05a3a" opacity="0.90" transform="rotate(46 212.7 986.6)"/>
<ellipse cx="183.0" cy="906.3" rx="3.0" ry="2.0" fill="#b07050" opacity="0.80" transform="rotate(25 183.0 906.3)"/>
<ellipse cx="155.5" cy="965.7" rx="2.0" ry="2.0" fill="#a05a3a" opacity="0.90" transform="rotate(14 155.5 965.7)"/>
</g>
<path d="M138 887.9L144.4 885.7M138 887.9L138.3 889.6M138.3 889.6L134.6 897.7M134.6 897.7L141.9 899.3M135.2 907.4L146.8 903.1M135.2 907.4L137.2 910.7M137.2 910.7L134.6 915.4M135.8 926.3L142.4 924.6M135.8 926.3L132.9 929.6M133.7 937L144.1 937.5M133.7 937L133 939.9M135.3 947.9L139.5 949.2M135.3 947.9L134.7 958.1M134.7 958.1L141.7 955.9M134 964.5L139.5 959.4M135.3 965.6L131.4 975.6M131.4 975.6L141.9 977.8M131.4 975.6L132.8 977.9M132.8 977.9L134.5 988.5M134.5 988.5L139.3 987.7M144.4 885.7L153.6 888.3M144.4 885.7L142.4 892.2M142.4 892.2L149.8 892.7M142.4 892.2L141.9 899.3M141.9 899.3L153.7 900.4M141.9 899.3L146.8 903.1M146.8 903.1L151.5 902.4M146.8 903.1L142.2 911.6M142.2 911.6L150.4 912.1M142.2 911.6L145.9 915.5M145.9 915.5L153.1 916.2M145.9 915.5L142.4 924.6M142.4 924.6L150 923.4M140.9 927.5L147.8 933.5M140.9 927.5L144.1 937.5M144.1 937.5L149.6 936.6M142.8 943.4L153.1 945.3M139.5 949.2L148.4 952.6M139.5 949.2L141.7 955.9M141.7 955.9L139.5 959.4M139.5 959.4L148.9 964.8M141.3 969.9L151.7 970.2M141.3 969.9L141.9 977.8M141.9 977.8L139.9 980.6M139.9 980.6L149.4 984.5M139.9 980.6L139.3 987.7M153.6 888.3L149.8 892.7M149.8 892.7L160.9 894.3M149.8 892.7L153.7 900.4M151.5 902.4L161.8 905.8M150.4 912.1L159.2 912M150.4 912.1L153.1 916.2M153.1 916.2L150 923.4M150 923.4L157.6 922.9M150 923.4L147.8 933.5M147.8 933.5L159.5 931M149.6 936.6L157.3 934.7M153.1 945.3L157.8 943.2M148.4 952.6L158.1 951.1M148.4 952.6L151.7 956.7M151.7 956.7L156.2 953.7M151.7 956.7L148.9 964.8M148.9 964.8L154.5 963.1M148.9 964.8L151.7 970.2M151.7 970.2L159.7 970.9M151.7 970.2L147.6 977.7M147.6 977.7L159.5 973.6M147.6 977.7L149.4 984.5M149.4 984.5L150.2 989.4M150.2 989.4L155.6 987.9M163.1 886L170.7 884.1M163.1 886L160.9 894.3M160.9 894.3L171.1 891.2M160.9 894.3L159.7 896.7M159.7 896.7L161.8 905.8M161.8 905.8L159.2 912M159.2 912L166.2 910.4M159.2 912L157.8 920.4M157.8 920.4L168 921.5M157.8 920.4L157.6 922.9M157.6 922.9L164.2 922.3M157.6 922.9L159.5 931M159.5 931L169.8 928.6M159.5 931L157.3 934.7M157.3 934.7L163.9 937.6M157.3 934.7L157.8 943.2M157.8 943.2L164.8 945.4M157.8 943.2L158.1 951.1M156.2 953.7L163.1 955M156.2 953.7L154.5 963.1M154.5 963.1L163.1 965.1M154.5 963.1L159.7 970.9M159.7 970.9L168.1 969M159.5 973.6L163 973.2M159.5 973.6L154.5 983.4M154.5 983.4L155.6 987.9M155.6 987.9L166.8 991.6M170.7 884.1L174.5 884.2M171.1 891.2L179.1 894.9M171.1 891.2L168.4 900.4M168.4 900.4L178.1 902.4M168.4 900.4L168 907.1M168 907.1L178 903.1M168 907.1L166.2 910.4M168 921.5L178.1 917.1M164.2 922.3L174.1 922.9M169.8 928.6L176.1 932.3M169.8 928.6L163.9 937.6M163.9 937.6L176.5 938.5M163.9 937.6L164.8 945.4M164.8 945.4L175.8 943.7M164.8 945.4L165.4 952.4M165.4 952.4L171 948M165.4 952.4L163.1 955M163.1 965.1L174.5 965.1M163.1 965.1L168.1 969M168.1 969L175.8 971.9M168.1 969L163 973.2M163 973.2L162.2 985.4M162.2 985.4L171.4 981.7M162.2 985.4L166.8 991.6M166.8 991.6L169.6 990.8M174.5 884.2L185.7 886.9M174.5 884.2L179.1 894.9M179.1 894.9L184.4 894.4M179.1 894.9L178.1 902.4M178.1 902.4L178 903.1M178 903.1L184.1 909.6M177.6 913.1L178.1 917.1M178.1 917.1L174.1 922.9M174.1 922.9L176.1 932.3M176.1 932.3L182.5 934.6M176.5 938.5L175.8 943.7M175.8 943.7L180.1 945.8M175.8 943.7L171 948M171 948L181.1 949M171 948L170.8 954.1M170.8 954.1L178.3 959.5M170.8 954.1L174.5 965.1M174.5 965.1L183.9 965.5M174.5 965.1L175.8 971.9M175.8 971.9L178.5 967.1M175.8 971.9L170.7 974.2M170.7 974.2L181.2 976.1M170.7 974.2L171.4 981.7M169.6 990.8L181.2 986.5M185.7 886.9L189.2 889.2M185.7 886.9L184.4 894.4M184.4 894.4L192.6 896.6M184.4 894.4L184.1 900.8M184.1 900.8L184.1 909.6M184.1 909.6L182 910.1M182 910.1L191.6 915.4M180.6 919.8L188.5 920.5M180.6 919.8L182.4 928.4M182.4 928.4L189.6 927.8M182.4 928.4L182.5 934.6M182.5 934.6L189.8 930.2M182.5 934.6L184.3 937.6M184.3 937.6L186.9 938.6M184.3 937.6L180.1 945.8M180.1 945.8L181.1 949M181.1 949L191.9 950.5M181.1 949L178.3 959.5M178.3 959.5L190.7 959.1M178.3 959.5L183.9 965.5M183.9 965.5L189.3 961.6M178.5 967.1L191.6 969.6M181.2 976.1L182.9 982.9M182.9 982.9L190.8 985.5M182.9 982.9L181.2 986.5M189.2 889.2L192.6 896.6M190.8 900.7L198.7 903.9M191.1 908.5L198.6 908.3M191.1 908.5L191.6 915.4M191.6 915.4L197.2 911.8M191.6 915.4L188.5 920.5M188.5 920.5L198.7 917.7M188.5 920.5L189.6 927.8M189.6 927.8L199.7 924.4M189.6 927.8L189.8 930.2M189.8 930.2L196.9 935.2M189.8 930.2L186.9 938.6M186.9 938.6L200 942M186.9 938.6L187.3 946.7M187.3 946.7L191.9 950.5M191.9 950.5L196.1 953.6M191.9 950.5L190.7 959.1M190.7 959.1L189.3 961.6M189.3 961.6L191.6 969.6M191.6 969.6L194.2 973.4M191.6 969.6L185.5 978.6M185.5 978.6L198.2 977.6M190.8 985.5L196.8 984.9M190.8 985.5L188.9 988.8M188.9 988.8L195.8 988.8M203.1 888L207.2 890.8M203.1 888L201.1 896.3M201.1 896.3L209.9 897.4M201.1 896.3L198.7 903.9M198.7 903.9L210.1 901.2M198.6 908.3L206 909.8M198.6 908.3L197.2 911.8M197.2 911.8L203.6 916.1M197.2 911.8L198.7 917.7M198.7 917.7L199.7 924.4M199.7 924.4L203.6 925.4M199.7 924.4L196.9 935.2M196.9 935.2L203.5 933M196.9 935.2L200 942M200 942L199.4 944.4M199.4 944.4L196.1 953.6M196.1 953.6L207.8 955.2M196.1 953.6L197.3 961M197.3 961L203.8 961.2M197.3 961L199.5 964.4M199.5 964.4L203 964.4M199.5 964.4L194.2 973.4M194.2 973.4L206.9 971.9M196.8 984.9L202.6 986.7M196.8 984.9L195.8 988.8M195.8 988.8L204.6 993.6M209.9 897.4L213.6 894.6M209.9 897.4L210.1 901.2M210.1 901.2L206 909.8M206 909.8L215 910.3M206 909.8L203.6 916.1M203.6 916.1L215.5 915.1M203.6 916.1L203.6 921.3M203.6 921.3L214.9 923.1M203.6 921.3L203.6 925.4M203.6 925.4L216.5 925.9M203.6 925.4L203.5 933M203.5 933L213.9 932.4M203.5 933L205.3 941.8M205.3 941.8L210.8 938.1M205.3 941.8L204.8 947.7M204.8 947.7L211.9 948.6M204.8 947.7L207.8 955.2M207.8 955.2L216.3 950.3M207.8 955.2L203.8 961.2M203.8 961.2L211.8 960M203.8 961.2L203 964.4M203 964.4L210.1 964.8M203 964.4L206.9 971.9M206.9 971.9L211.6 972.6M206.9 971.9L202.3 977.1M216.7 891.9L224.9 890.5M213.6 894.6L225.3 893.8M213.6 894.6L213.2 901.2M213.2 901.2L222 903.4M215 910.3L222.9 910.6M215.5 915.1L223.9 913.9M215.5 915.1L214.9 923.1M214.9 923.1L225.4 921.3M214.9 923.1L216.5 925.9M216.5 925.9L220.3 925.7M216.5 925.9L213.9 932.4M213.9 932.4L224.7 932M213.9 932.4L210.8 938.1M210.8 938.1L220.2 939.2M210.8 938.1L211.9 948.6M211.9 948.6L223.5 947.9M211.9 948.6L216.3 950.3M216.3 950.3L211.8 960M211.8 960L223.1 958.7M210.1 964.8L222.9 962.8M210.1 964.8L211.6 972.6M211.6 972.6L219.8 974.2M211.6 972.6L214.8 980.3M214.8 980.3L218 978.6M214.8 980.3L210.1 982.4M210.1 982.4L219.3 984.2M210.1 982.4L211.2 990.8M211.2 990.8L216.7 992.9M224.9 890.5L225.3 893.8M222 903.4L222.9 910.6M222.9 910.6L228 905.4M222.9 910.6L223.9 913.9M223.9 913.9L230.7 916.7M223.9 913.9L225.4 921.3M225.4 921.3L231.2 918.5M220.3 925.7L230.4 928M220.3 925.7L224.7 932M224.7 932L231.3 931.1M224.7 932L220.2 939.2M220.2 939.2L223.5 947.9M223.5 947.9L229.2 948.6M221.5 954.2L227.8 951.3M221.5 954.2L223.1 958.7M223.1 958.7L226.1 961.2M223.1 958.7L222.9 962.8M222.9 962.8L229.9 964.9M222.9 962.8L219.8 974.2M219.8 974.2L228.5 974.2M219.8 974.2L218 978.6M218 978.6L229.3 977.7M219.3 984.2L227.3 984.5M219.3 984.2L216.7 992.9M234.5 892.6L237.9 890.8M234.5 892.6L233.8 896.2M231.5 905L237.9 904.3M231.5 905L228 905.4M228 905.4L238.8 911.3M230.7 916.7L241.1 916.2M230.7 916.7L231.2 918.5M231.2 918.5L239.8 922.6M231.2 918.5L230.4 928M230.4 928L238.2 927.4M230.4 928L231.3 931.1M231.3 931.1L230.2 940M230.2 940L234.9 942.4M229.2 948.6L239.4 950.5M227.8 951.3L237.6 956.6M226.1 961.2L229.9 964.9M229.9 964.9L228.5 974.2M228.5 974.2L235 972.1M228.5 974.2L229.3 977.7M229.3 977.7L236.3 979.7M229.3 977.7L227.3 984.5M227.3 984.5L236.1 986.3M224.7 992.4L235.3 993.7M237.9 890.8L245.7 886.8M237.9 890.8L239.9 895.2M239.9 895.2L246.5 893.3M239.9 895.2L237.9 904.3M237.9 904.3L245 902.5M237.9 904.3L238.8 911.3M238.8 911.3L241.1 916.2M241.1 916.2L243.2 916.6M239.8 922.6L238.2 927.4M238.2 927.4L248.3 928.2M238.2 927.4L238.5 936M238.5 936L242.7 934.8M238.5 936L234.9 942.4M234.9 942.4L247.8 943.7M234.9 942.4L239.4 950.5M239.4 950.5L243.9 948M239.4 950.5L237.6 956.6M237.6 956.6L237 956.9M237 956.9L243 958.2M237 956.9L236.5 967.6M236.5 967.6L235 972.1M235 972.1L242.4 970M235 972.1L236.3 979.7M236.3 979.7L245 982.4M236.1 986.3L243.5 983.1M236.1 986.3L235.3 993.7M245.7 886.8L246.5 893.3M245 902.5L254.9 903.9M245 902.5L245.6 910.8M245.6 910.8L253.4 911.9M245.6 910.8L243.2 916.6M243.2 916.6L256.2 912.9M249.1 919.8L255 919.8M249.1 919.8L248.3 928.2M248.3 928.2L253.1 928.2M248.3 928.2L242.7 934.8M242.7 934.8L252.4 932.7M242.7 934.8L247.8 943.7M247.8 943.7L252.8 938.3M243.9 948L250.5 947.3M245.8 951.5L252.3 952.2M243 958.2L250.8 958.1M243 958.2L245.1 969.8M245.1 969.8L252.1 966.8M242.4 970L252.3 976.3M242.4 970L245 982.4M245 982.4L253.7 977.1M245 982.4L243.5 983.1M243.5 983.1L248.5 984.1M243.5 983.1L245.4 992.5M253.4 887.9L262.9 891M253.4 887.9L252.5 895.1M252.5 895.1L262.4 897.9M252.5 895.1L254.9 903.9M254.9 903.9L264.5 902.9M253.4 911.9L263.2 909.9M256.2 912.9L265.1 917.5M256.2 912.9L255 919.8M255 919.8L253.1 928.2M253.1 928.2L264 932.3M253.1 928.2L252.4 932.7M252.4 932.7L262.6 938.5M252.4 932.7L252.8 938.3M252.8 938.3L262.5 941.3M252.8 938.3L250.5 947.3M250.5 947.3L259.5 946M250.5 947.3L252.3 952.2M252.3 952.2L261.3 956M252.3 952.2L250.8 958.1M250.8 958.1L252.1 966.8M252.1 966.8L260.6 969M252.3 976.3L262.5 972.2M252.3 976.3L253.7 977.1M253.7 977.1L258 978M248.5 984.1L259.6 988.9M248.5 984.1L247.8 993.8M247.8 993.8L258.4 991.2M262.9 891L262.4 897.9M262.4 897.9L264.5 902.9M264.5 902.9L263.2 909.9M265.1 917.5L261.1 922.7M261.1 922.7L264 932.3M264 932.3L262.6 938.5M262.6 938.5L262.5 941.3M262.5 941.3L259.5 946M259.5 946L261.3 956M261.3 956L257.6 963.7M258 978L259.6 988.9M259.6 988.9L258.4 991.2" fill="none" stroke="#c08060" stroke-width="1.6" opacity="0.30"/>
<path d="M138 887.9L144.4 885.7M138 887.9L138.3 889.6M138.3 889.6L134.6 897.7M134.6 897.7L141.9 899.3M135.2 907.4L146.8 903.1M135.2 907.4L137.2 910.7M137.2 910.7L134.6 915.4M135.8 926.3L142.4 924.6M135.8 926.3L132.9 929.6M133.7 937L144.1 937.5M133.7 937L133 939.9M135.3 947.9L139.5 949.2M135.3 947.9L134.7 958.1M134.7 958.1L141.7 955.9M134 964.5L139.5 959.4M135.3 965.6L131.4 975.6M131.4 975.6L141.9 977.8M131.4 975.6L132.8 977.9M132.8 977.9L134.5 988.5M134.5 988.5L139.3 987.7M144.4 885.7L153.6 888.3M144.4 885.7L142.4 892.2M142.4 892.2L149.8 892.7M142.4 892.2L141.9 899.3M141.9 899.3L153.7 900.4M141.9 899.3L146.8 903.1M146.8 903.1L151.5 902.4M146.8 903.1L142.2 911.6M142.2 911.6L150.4 912.1M142.2 911.6L145.9 915.5M145.9 915.5L153.1 916.2M145.9 915.5L142.4 924.6M142.4 924.6L150 923.4M140.9 927.5L147.8 933.5M140.9 927.5L144.1 937.5M144.1 937.5L149.6 936.6M142.8 943.4L153.1 945.3M139.5 949.2L148.4 952.6M139.5 949.2L141.7 955.9M141.7 955.9L139.5 959.4M139.5 959.4L148.9 964.8M141.3 969.9L151.7 970.2M141.3 969.9L141.9 977.8M141.9 977.8L139.9 980.6M139.9 980.6L149.4 984.5M139.9 980.6L139.3 987.7M153.6 888.3L149.8 892.7M149.8 892.7L160.9 894.3M149.8 892.7L153.7 900.4M151.5 902.4L161.8 905.8M150.4 912.1L159.2 912M150.4 912.1L153.1 916.2M153.1 916.2L150 923.4M150 923.4L157.6 922.9M150 923.4L147.8 933.5M147.8 933.5L159.5 931M149.6 936.6L157.3 934.7M153.1 945.3L157.8 943.2M148.4 952.6L158.1 951.1M148.4 952.6L151.7 956.7M151.7 956.7L156.2 953.7M151.7 956.7L148.9 964.8M148.9 964.8L154.5 963.1M148.9 964.8L151.7 970.2M151.7 970.2L159.7 970.9M151.7 970.2L147.6 977.7M147.6 977.7L159.5 973.6M147.6 977.7L149.4 984.5M149.4 984.5L150.2 989.4M150.2 989.4L155.6 987.9M163.1 886L170.7 884.1M163.1 886L160.9 894.3M160.9 894.3L171.1 891.2M160.9 894.3L159.7 896.7M159.7 896.7L161.8 905.8M161.8 905.8L159.2 912M159.2 912L166.2 910.4M159.2 912L157.8 920.4M157.8 920.4L168 921.5M157.8 920.4L157.6 922.9M157.6 922.9L164.2 922.3M157.6 922.9L159.5 931M159.5 931L169.8 928.6M159.5 931L157.3 934.7M157.3 934.7L163.9 937.6M157.3 934.7L157.8 943.2M157.8 943.2L164.8 945.4M157.8 943.2L158.1 951.1M156.2 953.7L163.1 955M156.2 953.7L154.5 963.1M154.5 963.1L163.1 965.1M154.5 963.1L159.7 970.9M159.7 970.9L168.1 969M159.5 973.6L163 973.2M159.5 973.6L154.5 983.4M154.5 983.4L155.6 987.9M155.6 987.9L166.8 991.6M170.7 884.1L174.5 884.2M171.1 891.2L179.1 894.9M171.1 891.2L168.4 900.4M168.4 900.4L178.1 902.4M168.4 900.4L168 907.1M168 907.1L178 903.1M168 907.1L166.2 910.4M168 921.5L178.1 917.1M164.2 922.3L174.1 922.9M169.8 928.6L176.1 932.3M169.8 928.6L163.9 937.6M163.9 937.6L176.5 938.5M163.9 937.6L164.8 945.4M164.8 945.4L175.8 943.7M164.8 945.4L165.4 952.4M165.4 952.4L171 948M165.4 952.4L163.1 955M163.1 965.1L174.5 965.1M163.1 965.1L168.1 969M168.1 969L175.8 971.9M168.1 969L163 973.2M163 973.2L162.2 985.4M162.2 985.4L171.4 981.7M162.2 985.4L166.8 991.6M166.8 991.6L169.6 990.8M174.5 884.2L185.7 886.9M174.5 884.2L179.1 894.9M179.1 894.9L184.4 894.4M179.1 894.9L178.1 902.4M178.1 902.4L178 903.1M178 903.1L184.1 909.6M177.6 913.1L178.1 917.1M178.1 917.1L174.1 922.9M174.1 922.9L176.1 932.3M176.1 932.3L182.5 934.6M176.5 938.5L175.8 943.7M175.8 943.7L180.1 945.8M175.8 943.7L171 948M171 948L181.1 949M171 948L170.8 954.1M170.8 954.1L178.3 959.5M170.8 954.1L174.5 965.1M174.5 965.1L183.9 965.5M174.5 965.1L175.8 971.9M175.8 971.9L178.5 967.1M175.8 971.9L170.7 974.2M170.7 974.2L181.2 976.1M170.7 974.2L171.4 981.7M169.6 990.8L181.2 986.5M185.7 886.9L189.2 889.2M185.7 886.9L184.4 894.4M184.4 894.4L192.6 896.6M184.4 894.4L184.1 900.8M184.1 900.8L184.1 909.6M184.1 909.6L182 910.1M182 910.1L191.6 915.4M180.6 919.8L188.5 920.5M180.6 919.8L182.4 928.4M182.4 928.4L189.6 927.8M182.4 928.4L182.5 934.6M182.5 934.6L189.8 930.2M182.5 934.6L184.3 937.6M184.3 937.6L186.9 938.6M184.3 937.6L180.1 945.8M180.1 945.8L181.1 949M181.1 949L191.9 950.5M181.1 949L178.3 959.5M178.3 959.5L190.7 959.1M178.3 959.5L183.9 965.5M183.9 965.5L189.3 961.6M178.5 967.1L191.6 969.6M181.2 976.1L182.9 982.9M182.9 982.9L190.8 985.5M182.9 982.9L181.2 986.5M189.2 889.2L192.6 896.6M190.8 900.7L198.7 903.9M191.1 908.5L198.6 908.3M191.1 908.5L191.6 915.4M191.6 915.4L197.2 911.8M191.6 915.4L188.5 920.5M188.5 920.5L198.7 917.7M188.5 920.5L189.6 927.8M189.6 927.8L199.7 924.4M189.6 927.8L189.8 930.2M189.8 930.2L196.9 935.2M189.8 930.2L186.9 938.6M186.9 938.6L200 942M186.9 938.6L187.3 946.7M187.3 946.7L191.9 950.5M191.9 950.5L196.1 953.6M191.9 950.5L190.7 959.1M190.7 959.1L189.3 961.6M189.3 961.6L191.6 969.6M191.6 969.6L194.2 973.4M191.6 969.6L185.5 978.6M185.5 978.6L198.2 977.6M190.8 985.5L196.8 984.9M190.8 985.5L188.9 988.8M188.9 988.8L195.8 988.8M203.1 888L207.2 890.8M203.1 888L201.1 896.3M201.1 896.3L209.9 897.4M201.1 896.3L198.7 903.9M198.7 903.9L210.1 901.2M198.6 908.3L206 909.8M198.6 908.3L197.2 911.8M197.2 911.8L203.6 916.1M197.2 911.8L198.7 917.7M198.7 917.7L199.7 924.4M199.7 924.4L203.6 925.4M199.7 924.4L196.9 935.2M196.9 935.2L203.5 933M196.9 935.2L200 942M200 942L199.4 944.4M199.4 944.4L196.1 953.6M196.1 953.6L207.8 955.2M196.1 953.6L197.3 961M197.3 961L203.8 961.2M197.3 961L199.5 964.4M199.5 964.4L203 964.4M199.5 964.4L194.2 973.4M194.2 973.4L206.9 971.9M196.8 984.9L202.6 986.7M196.8 984.9L195.8 988.8M195.8 988.8L204.6 993.6M209.9 897.4L213.6 894.6M209.9 897.4L210.1 901.2M210.1 901.2L206 909.8M206 909.8L215 910.3M206 909.8L203.6 916.1M203.6 916.1L215.5 915.1M203.6 916.1L203.6 921.3M203.6 921.3L214.9 923.1M203.6 921.3L203.6 925.4M203.6 925.4L216.5 925.9M203.6 925.4L203.5 933M203.5 933L213.9 932.4M203.5 933L205.3 941.8M205.3 941.8L210.8 938.1M205.3 941.8L204.8 947.7M204.8 947.7L211.9 948.6M204.8 947.7L207.8 955.2M207.8 955.2L216.3 950.3M207.8 955.2L203.8 961.2M203.8 961.2L211.8 960M203.8 961.2L203 964.4M203 964.4L210.1 964.8M203 964.4L206.9 971.9M206.9 971.9L211.6 972.6M206.9 971.9L202.3 977.1M216.7 891.9L224.9 890.5M213.6 894.6L225.3 893.8M213.6 894.6L213.2 901.2M213.2 901.2L222 903.4M215 910.3L222.9 910.6M215.5 915.1L223.9 913.9M215.5 915.1L214.9 923.1M214.9 923.1L225.4 921.3M214.9 923.1L216.5 925.9M216.5 925.9L220.3 925.7M216.5 925.9L213.9 932.4M213.9 932.4L224.7 932M213.9 932.4L210.8 938.1M210.8 938.1L220.2 939.2M210.8 938.1L211.9 948.6M211.9 948.6L223.5 947.9M211.9 948.6L216.3 950.3M216.3 950.3L211.8 960M211.8 960L223.1 958.7M210.1 964.8L222.9 962.8M210.1 964.8L211.6 972.6M211.6 972.6L219.8 974.2M211.6 972.6L214.8 980.3M214.8 980.3L218 978.6M214.8 980.3L210.1 982.4M210.1 982.4L219.3 984.2M210.1 982.4L211.2 990.8M211.2 990.8L216.7 992.9M224.9 890.5L225.3 893.8M222 903.4L222.9 910.6M222.9 910.6L228 905.4M222.9 910.6L223.9 913.9M223.9 913.9L230.7 916.7M223.9 913.9L225.4 921.3M225.4 921.3L231.2 918.5M220.3 925.7L230.4 928M220.3 925.7L224.7 932M224.7 932L231.3 931.1M224.7 932L220.2 939.2M220.2 939.2L223.5 947.9M223.5 947.9L229.2 948.6M221.5 954.2L227.8 951.3M221.5 954.2L223.1 958.7M223.1 958.7L226.1 961.2M223.1 958.7L222.9 962.8M222.9 962.8L229.9 964.9M222.9 962.8L219.8 974.2M219.8 974.2L228.5 974.2M219.8 974.2L218 978.6M218 978.6L229.3 977.7M219.3 984.2L227.3 984.5M219.3 984.2L216.7 992.9M234.5 892.6L237.9 890.8M234.5 892.6L233.8 896.2M231.5 905L237.9 904.3M231.5 905L228 905.4M228 905.4L238.8 911.3M230.7 916.7L241.1 916.2M230.7 916.7L231.2 918.5M231.2 918.5L239.8 922.6M231.2 918.5L230.4 928M230.4 928L238.2 927.4M230.4 928L231.3 931.1M231.3 931.1L230.2 940M230.2 940L234.9 942.4M229.2 948.6L239.4 950.5M227.8 951.3L237.6 956.6M226.1 961.2L229.9 964.9M229.9 964.9L228.5 974.2M228.5 974.2L235 972.1M228.5 974.2L229.3 977.7M229.3 977.7L236.3 979.7M229.3 977.7L227.3 984.5M227.3 984.5L236.1 986.3M224.7 992.4L235.3 993.7M237.9 890.8L245.7 886.8M237.9 890.8L239.9 895.2M239.9 895.2L246.5 893.3M239.9 895.2L237.9 904.3M237.9 904.3L245 902.5M237.9 904.3L238.8 911.3M238.8 911.3L241.1 916.2M241.1 916.2L243.2 916.6M239.8 922.6L238.2 927.4M238.2 927.4L248.3 928.2M238.2 927.4L238.5 936M238.5 936L242.7 934.8M238.5 936L234.9 942.4M234.9 942.4L247.8 943.7M234.9 942.4L239.4 950.5M239.4 950.5L243.9 948M239.4 950.5L237.6 956.6M237.6 956.6L237 956.9M237 956.9L243 958.2M237 956.9L236.5 967.6M236.5 967.6L235 972.1M235 972.1L242.4 970M235 972.1L236.3 979.7M236.3 979.7L245 982.4M236.1 986.3L243.5 983.1M236.1 986.3L235.3 993.7M245.7 886.8L246.5 893.3M245 902.5L254.9 903.9M245 902.5L245.6 910.8M245.6 910.8L253.4 911.9M245.6 910.8L243.2 916.6M243.2 916.6L256.2 912.9M249.1 919.8L255 919.8M249.1 919.8L248.3 928.2M248.3 928.2L253.1 928.2M248.3 928.2L242.7 934.8M242.7 934.8L252.4 932.7M242.7 934.8L247.8 943.7M247.8 943.7L252.8 938.3M243.9 948L250.5 947.3M245.8 951.5L252.3 952.2M243 958.2L250.8 958.1M243 958.2L245.1 969.8M245.1 969.8L252.1 966.8M242.4 970L252.3 976.3M242.4 970L245 982.4M245 982.4L253.7 977.1M245 982.4L243.5 983.1M243.5 983.1L248.5 984.1M243.5 983.1L245.4 992.5M253.4 887.9L262.9 891M253.4 887.9L252.5 895.1M252.5 895.1L262.4 897.9M252.5 895.1L254.9 903.9M254.9 903.9L264.5 902.9M253.4 911.9L263.2 909.9M256.2 912.9L265.1 917.5M256.2 912.9L255 919.8M255 919.8L253.1 928.2M253.1 928.2L264 932.3M253.1 928.2L252.4 932.7M252.4 932.7L262.6 938.5M252.4 932.7L252.8 938.3M252.8 938.3L262.5 941.3M252.8 938.3L250.5 947.3M250.5 947.3L259.5 946M250.5 947.3L252.3 952.2M252.3 952.2L261.3 956M252.3 952.2L250.8 958.1M250.8 958.1L252.1 966.8M252.1 966.8L260.6 969M252.3 976.3L262.5 972.2M252.3 976.3L253.7 977.1M253.7 977.1L258 978M248.5 984.1L259.6 988.9M248.5 984.1L247.8 993.8M247.8 993.8L258.4 991.2M262.9 891L262.4 897.9M262.4 897.9L264.5 902.9M264.5 902.9L263.2 909.9M265.1 917.5L261.1 922.7M261.1 922.7L264 932.3M264 932.3L262.6 938.5M262.6 938.5L262.5 941.3M262.5 941.3L259.5 946M259.5 946L261.3 956M261.3 956L257.6 963.7M258 978L259.6 988.9M259.6 988.9L258.4 991.2" fill="none" stroke="#f0e8e0" stroke-width="0.9" opacity="0.80"/>
<path d="M143.9 908.9L146.3 910.2L149.7 912L153.7 914.2L158.3 916.5L163.1 918.6L167.9 920.3L173 921.4L178.4 922L183.8 922.3L189.1 922.6L194.2 923L198.9 923.7L203.3 925L207.4 926.8L211.5 928.9L215.5 931.1L219.7 933.4L224.2 935.5L229.2 937.5L234.9 939.3L240.6 941L246 942.5L250.5 943.7L253.7 944.5L253.8 938.1L249.7 937.3L244.7 936.3L239 935.2L233.2 934L227.8 932.7L223.2 931.3L219 929.5L215 927.4L211 925.1L206.9 922.7L202.5 920.6L197.6 918.9L192.4 917.6L187 916.8L181.6 916.1L176.4 915.5L171.7 914.8L167.3 913.8L162.6 912.4L157.9 910.8L153.4 909.1L149.5 907.6L146.3 906.4z" fill="none" stroke="#b87050" stroke-width="1.4" opacity="0.30" stroke-linejoin="round"/>
<path d="M143.9 908.9L146.3 910.2L149.7 912L153.7 914.2L158.3 916.5L163.1 918.6L167.9 920.3L173 921.4L178.4 922L183.8 922.3L189.1 922.6L194.2 923L198.9 923.7L203.3 925L207.4 926.8L211.5 928.9L215.5 931.1L219.7 933.4L224.2 935.5L229.2 937.5L234.9 939.3L240.6 941L246 942.5L250.5 943.7L253.7 944.5L253.8 938.1L249.7 937.3L244.7 936.3L239 935.2L233.2 934L227.8 932.7L223.2 931.3L219 929.5L215 927.4L211 925.1L206.9 922.7L202.5 920.6L197.6 918.9L192.4 917.6L187 916.8L181.6 916.1L176.4 915.5L171.7 914.8L167.3 913.8L162.6 912.4L157.9 910.8L153.4 909.1L149.5 907.6L146.3 906.4z" fill="#f8f6f2"/>
<path d="M214 893.4L215.2 895.7L216.9 899L219 902.9L221.2 907L223.3 910.9L225.2 914.4L226.9 917.3L228.7 920L230.5 922.5L232.3 924.9L234.2 927.3L236.3 929.9L238.3 932.8L240.3 936L242.2 939.3L243.9 942.7L245.4 945.8L246.6 948.5L247.6 950.8L248.5 952.7L249.3 954.4L250.1 955.6L250.6 956.4L250.9 956.8L257.8 950L256.9 949.3L255.9 948.8L254.8 948.3L253.6 947.5L252.2 946.3L250.6 944.5L249 942L247.3 938.9L245.6 935.5L244 931.9L242.6 928.4L241.3 925.1L240.1 922.1L238.9 919.2L237.6 916.4L236 913.6L234.2 910.7L232.1 907.7L229.4 904.2L226.5 900.6L223.5 897.1L220.9 894L218.8 891.5z" fill="none" stroke="#b87050" stroke-width="1.4" opacity="0.30" stroke-linejoin="round"/>
<path d="M214 893.4L215.2 895.7L216.9 899L219 902.9L221.2 907L223.3 910.9L225.2 914.4L226.9 917.3L228.7 920L230.5 922.5L232.3 924.9L234.2 927.3L236.3 929.9L238.3 932.8L240.3 936L242.2 939.3L243.9 942.7L245.4 945.8L246.6 948.5L247.6 950.8L248.5 952.7L249.3 954.4L250.1 955.6L250.6 956.4L250.9 956.8L257.8 950L256.9 949.3L255.9 948.8L254.8 948.3L253.6 947.5L252.2 946.3L250.6 944.5L249 942L247.3 938.9L245.6 935.5L244 931.9L242.6 928.4L241.3 925.1L240.1 922.1L238.9 919.2L237.6 916.4L236 913.6L234.2 910.7L232.1 907.7L229.4 904.2L226.5 900.6L223.5 897.1L220.9 894L218.8 891.5z" fill="#f8f6f2"/>
<path d="M142.9 896.4L142.9 898.6L144 901.3L146.8 903.3L149.2 905.6L150.8 907.9L152.8 908.8L153.9 907.1L153 904.9L151.4 902.2L150.7 898.7L149.3 896L147 894.6z" fill="none" stroke="#b87050" stroke-width="1.4" opacity="0.30" stroke-linejoin="round"/>
<path d="M142.9 896.4L142.9 898.6L144 901.3L146.8 903.3L149.2 905.6L150.8 907.9L152.8 908.8L153.9 907.1L153 904.9L151.4 902.2L150.7 898.7L149.3 896L147 894.6z" fill="#f8f6f2"/>
<path d="M159.7 922.8L159.3 925.2L158.5 928.7L157.7 932.7L156.9 937.1L156.4 941.4L156.5 945.3L157.3 948.7L158.6 951.9L160.4 954.7L162.5 957.1L164.8 959.4L167.3 961.6L170.1 963.8L173.2 965.5L176.3 967.2L179.3 969.1L181.8 971.4L183.7 974.3L185.2 978.3L186.5 983.5L187.6 989.1L188.5 994.6L189.3 999.3L190 1002.7L195.5 999.9L194.6 995.9L193.3 990.8L191.8 985.1L190 979.5L187.9 974.6L185.4 970.8L182.5 967.9L179.4 965.7L176.3 963.8L173.5 961.9L171.1 959.9L169.2 957.6L167.4 955.1L165.7 952.6L164.3 950.3L162.8 948L161.6 945.6L160.6 942.9L160 939.3L159.8 935.1L159.8 930.8L160 927L160 923.9z" fill="none" stroke="#b87050" stroke-width="1.4" opacity="0.30" stroke-linejoin="round"/>
<path d="M159.7 922.8L159.3 925.2L158.5 928.7L157.7 932.7L156.9 937.1L156.4 941.4L156.5 945.3L157.3 948.7L158.6 951.9L160.4 954.7L162.5 957.1L164.8 959.4L167.3 961.6L170.1 963.8L173.2 965.5L176.3 967.2L179.3 969.1L181.8 971.4L183.7 974.3L185.2 978.3L186.5 983.5L187.6 989.1L188.5 994.6L189.3 999.3L190 1002.7L195.5 999.9L194.6 995.9L193.3 990.8L191.8 985.1L190 979.5L187.9 974.6L185.4 970.8L182.5 967.9L179.4 965.7L176.3 963.8L173.5 961.9L171.1 959.9L169.2 957.6L167.4 955.1L165.7 952.6L164.3 950.3L162.8 948L161.6 945.6L160.6 942.9L160 939.3L159.8 935.1L159.8 930.8L160 927L160 923.9z" fill="#f8f6f2"/>
<path d="M144.2 959.3L146.4 959.8L149.3 960.6L152.7 961.4L156.4 962.4L160.2 963.5L163.6 964.7L166.7 966L169.9 967.6L173.2 969.3L176.8 970.9L180.6 972.4L184.7 973.5L188.9 974.1L193.3 974.3L197.7 974.3L202.1 974.3L206.3 974.4L210.3 974.7L214.2 975.2L217.9 975.9L221.4 976.6L225 977.5L228.5 978.5L232.1 979.6L235.9 980.8L240 982.2L244.2 983.7L248 985L251.3 986.1L253.7 986.9L254.2 981.6L251.3 980.7L247.6 979.7L243.5 978.5L239.1 977.4L234.9 976.4L231.1 975.7L227.4 975L223.8 974.3L220.1 973.7L216.4 973.1L212.6 972.4L208.6 971.8L204.4 971.4L200 971L195.7 970.6L191.5 970.1L187.6 969.4L184 968.4L180.6 967L177.2 965.4L173.9 963.8L170.4 962.1L166.9 960.7L163.2 959.7L159.3 958.8L155.4 958.2L151.6 957.6L148.3 957.2L145.7 956.8z" fill="none" stroke="#b87050" stroke-width="1.4" opacity="0.30" stroke-linejoin="round"/>
<path d="M144.2 959.3L146.4 959.8L149.3 960.6L152.7 961.4L156.4 962.4L160.2 963.5L163.6 964.7L166.7 966L169.9 967.6L173.2 969.3L176.8 970.9L180.6 972.4L184.7 973.5L188.9 974.1L193.3 974.3L197.7 974.3L202.1 974.3L206.3 974.4L210.3 974.7L214.2 975.2L217.9 975.9L221.4 976.6L225 977.5L228.5 978.5L232.1 979.6L235.9 980.8L240 982.2L244.2 983.7L248 985L251.3 986.1L253.7 986.9L254.2 981.6L251.3 980.7L247.6 979.7L243.5 978.5L239.1 977.4L234.9 976.4L231.1 975.7L227.4 975L223.8 974.3L220.1 973.7L216.4 973.1L212.6 972.4L208.6 971.8L204.4 971.4L200 971L195.7 970.6L191.5 970.1L187.6 969.4L184 968.4L180.6 967L177.2 965.4L173.9 963.8L170.4 962.1L166.9 960.7L163.2 959.7L159.3 958.8L155.4 958.2L151.6 957.6L148.3 957.2L145.7 956.8z" fill="#f8f6f2"/>
<path d="M142.7 969.6L142.8 971.5L142.8 974.2L143.3 977.3L144.3 980.6L145.9 983.6L147.7 986.4L149.5 989.2L151.1 992.4L152.2 995.7L153 999L153.7 1001.7L154.3 1003.6L160.6 999.6L159.2 997.6L157.2 995.2L155.2 992.4L153.6 989.3L152.6 986.1L152.1 983.1L151.7 979.8L150.8 976.6L149.6 973.7L148.1 971.1L146.8 969.2z" fill="none" stroke="#b87050" stroke-width="1.4" opacity="0.30" stroke-linejoin="round"/>
<path d="M142.7 969.6L142.8 971.5L142.8 974.2L143.3 977.3L144.3 980.6L145.9 983.6L147.7 986.4L149.5 989.2L151.1 992.4L152.2 995.7L153 999L153.7 1001.7L154.3 1003.6L160.6 999.6L159.2 997.6L157.2 995.2L155.2 992.4L153.6 989.3L152.6 986.1L152.1 983.1L151.7 979.8L150.8 976.6L149.6 973.7L148.1 971.1L146.8 969.2z" fill="#f8f6f2"/>
<path d="M182.1 892.1L182.1 894.5L182.2 897.7L182.3 901.6L182.5 905.9L182.9 910.2L183.4 914.2L183.9 918.2L184.6 922.3L185.3 926.5L186 930.7L186.8 934.7L187.7 938.4L188.8 942L190.2 945.6L191.8 948.9L193.4 951.8L194.9 954.2L195.9 955.9L196.1 954.8L195.3 952.5L194 949.7L192.6 946.5L191.1 943.2L189.8 939.7L188.9 936.2L188.3 932.4L187.9 928.3L187.6 924.1L187.4 919.9L187.2 915.8L186.8 911.8L186.3 907.6L185.8 903.4L185.2 899.4L184.6 895.8L184.1 893z" fill="none" stroke="#b87050" stroke-width="1.4" opacity="0.30" stroke-linejoin="round"/>
<path d="M182.1 892.1L182.1 894.5L182.2 897.7L182.3 901.6L182.5 905.9L182.9 910.2L183.4 914.2L183.9 918.2L184.6 922.3L185.3 926.5L186 930.7L186.8 934.7L187.7 938.4L188.8 942L190.2 945.6L191.8 948.9L193.4 951.8L194.9 954.2L195.9 955.9L196.1 954.8L195.3 952.5L194 949.7L192.6 946.5L191.1 943.2L189.8 939.7L188.9 936.2L188.3 932.4L187.9 928.3L187.6 924.1L187.4 919.9L187.2 915.8L186.8 911.8L186.3 907.6L185.8 903.4L185.2 899.4L184.6 895.8L184.1 893z" fill="#f8f6f2"/>
<path d="M201.6 938.3L202.6 940.1L204 942.6L205.7 945.6L207.6 948.7L209.8 951.6L211.9 954.1L213.7 956.7L215.5 959.7L217.2 962.6L218.7 965.3L220.1 967.6L221.3 969.1L221.4 968.1L220.5 965.9L219.2 963.3L217.6 960.5L215.9 957.4L214.3 954.5L212.8 951.6L211 948.6L208.8 945.6L206.4 943L204.2 940.6L202.4 938.8z" fill="none" stroke="#b87050" stroke-width="1.4" opacity="0.30" stroke-linejoin="round"/>
<path d="M201.6 938.3L202.6 940.1L204 942.6L205.7 945.6L207.6 948.7L209.8 951.6L211.9 954.1L213.7 956.7L215.5 959.7L217.2 962.6L218.7 965.3L220.1 967.6L221.3 969.1L221.4 968.1L220.5 965.9L219.2 963.3L217.6 960.5L215.9 957.4L214.3 954.5L212.8 951.6L211 948.6L208.8 945.6L206.4 943L204.2 940.6L202.4 938.8z" fill="#f8f6f2"/>
<g fill="#5a7ab8" opacity="0.75"><ellipse cx="181.9" cy="980.6" rx="2.0" ry="1.1" transform="rotate(80 181.9 980.6)"/><ellipse cx="210.9" cy="914.7" rx="2.3" ry="1.0" transform="rotate(125 210.9 914.7)"/><ellipse cx="174.6" cy="966.7" rx="1.5" ry="1.0" transform="rotate(104 174.6 966.7)"/><ellipse cx="229.7" cy="968.9" rx="2.1" ry="0.8" transform="rotate(137 229.7 968.9)"/><ellipse cx="246.0" cy="984.4" rx="2.0" ry="1.0" transform="rotate(44 246.0 984.4)"/><ellipse cx="184.0" cy="995.2" rx="2.0" ry="0.8" transform="rotate(40 184.0 995.2)"/><ellipse cx="235.0" cy="929.8" rx="2.1" ry="1.0" transform="rotate(145 235.0 929.8)"/><ellipse cx="192.8" cy="991.6" rx="1.7" ry="1.0" transform="rotate(76 192.8 991.6)"/><ellipse cx="217.6" cy="903.1" rx="2.3" ry="1.1" transform="rotate(6 217.6 903.1)"/><ellipse cx="204.8" cy="952.3" rx="1.9" ry="0.9" transform="rotate(79 204.8 952.3)"/><ellipse cx="213.8" cy="997.5" rx="2.0" ry="1.0" transform="rotate(58 213.8 997.5)"/><ellipse cx="227.3" cy="954.6" rx="1.6" ry="0.8" transform="rotate(5 227.3 954.6)"/><ellipse cx="208.8" cy="915.1" rx="1.8" ry="0.8" transform="rotate(132 208.8 915.1)"/><ellipse cx="198.5" cy="957.4" rx="2.1" ry="0.9" transform="rotate(157 198.5 957.4)"/><ellipse cx="200.9" cy="939.6" rx="2.2" ry="1.0" transform="rotate(12 200.9 939.6)"/><ellipse cx="169.3" cy="954.9" rx="1.7" ry="0.8" transform="rotate(98 169.3 954.9)"/><ellipse cx="224.6" cy="998.1" rx="1.4" ry="0.9" transform="rotate(174 224.6 998.1)"/><ellipse cx="215.7" cy="919.1" rx="2.1" ry="0.8" transform="rotate(161 215.7 919.1)"/><ellipse cx="254.4" cy="913.0" rx="1.6" ry="0.8" transform="rotate(145 254.4 913.0)"/><ellipse cx="169.8" cy="916.0" rx="1.6" ry="0.8" transform="rotate(68 169.8 916.0)"/><ellipse cx="176.7" cy="926.7" rx="1.7" ry="1.0" transform="rotate(80 176.7 926.7)"/><ellipse cx="165.0" cy="934.8" rx="2.2" ry="1.0" transform="rotate(170 165.0 934.8)"/><ellipse cx="147.9" cy="921.2" rx="1.6" ry="0.8" transform="rotate(78 147.9 921.2)"/><ellipse cx="229.9" cy="893.3" rx="2.3" ry="0.9" transform="rotate(104 229.9 893.3)"/><ellipse cx="213.8" cy="924.2" rx="1.5" ry="0.8" transform="rotate(78 213.8 924.2)"/><ellipse cx="201.0" cy="993.2" rx="2.2" ry="1.0" transform="rotate(81 201.0 993.2)"/><ellipse cx="227.1" cy="906.2" rx="1.8" ry="0.9" transform="rotate(54 227.1 906.2)"/><ellipse cx="160.1" cy="994.4" rx="1.4" ry="0.9" transform="rotate(121 160.1 994.4)"/><ellipse cx="229.8" cy="899.9" rx="1.6" ry="0.9" transform="rotate(134 229.8 899.9)"/><ellipse cx="162.4" cy="1000.5" rx="2.0" ry="0.9" transform="rotate(49 162.4 1000.5)"/><ellipse cx="216.7" cy="970.5" rx="1.4" ry="1.1" transform="rotate(171 216.7 970.5)"/><ellipse cx="167.6" cy="937.9" rx="1.6" ry="0.9" transform="rotate(110 167.6 937.9)"/><ellipse cx="172.9" cy="954.5" rx="1.5" ry="1.1" transform="rotate(51 172.9 954.5)"/><ellipse cx="204.5" cy="995.5" rx="2.2" ry="0.8" transform="rotate(56 204.5 995.5)"/><ellipse cx="212.9" cy="913.3" rx="1.4" ry="0.9" transform="rotate(117 212.9 913.3)"/><ellipse cx="153.1" cy="915.3" rx="1.7" ry="0.8" transform="rotate(57 153.1 915.3)"/><ellipse cx="238.7" cy="895.9" rx="1.3" ry="1.1" transform="rotate(157 238.7 895.9)"/><ellipse cx="173.0" cy="976.1" rx="1.5" ry="0.9" transform="rotate(9 173.0 976.1)"/><ellipse cx="215.2" cy="963.2" rx="1.4" ry="1.0" transform="rotate(77 215.2 963.2)"/><ellipse cx="153.5" cy="923.1" rx="1.3" ry="0.8" transform="rotate(173 153.5 923.1)"/></g>
<g fill="#9a6a40" opacity="0.9"><ellipse cx="196.7" cy="964.3" rx="1.5" ry="0.9" transform="rotate(17 196.7 964.3)"/><ellipse cx="160.2" cy="893.2" rx="1.2" ry="0.7" transform="rotate(9 160.2 893.2)"/><ellipse cx="174.6" cy="981.1" rx="1.5" ry="0.9" transform="rotate(21 174.6 981.1)"/><ellipse cx="210.7" cy="953.4" rx="1.5" ry="0.9" transform="rotate(128 210.7 953.4)"/><ellipse cx="160.5" cy="940.4" rx="1.0" ry="0.6" transform="rotate(45 160.5 940.4)"/><ellipse cx="244.2" cy="898.5" rx="1.6" ry="1.0" transform="rotate(172 244.2 898.5)"/><ellipse cx="152.7" cy="967.6" rx="1.1" ry="0.7" transform="rotate(110 152.7 967.6)"/><ellipse cx="189.0" cy="984.7" rx="0.8" ry="0.5" transform="rotate(128 189.0 984.7)"/><ellipse cx="151.2" cy="992.7" rx="1.3" ry="0.8" transform="rotate(145 151.2 992.7)"/><ellipse cx="154.5" cy="1000.6" rx="1.7" ry="1.0" transform="rotate(34 154.5 1000.6)"/><ellipse cx="156.9" cy="938.6" rx="0.9" ry="0.6" transform="rotate(7 156.9 938.6)"/><ellipse cx="178.9" cy="960.4" rx="1.0" ry="0.6" transform="rotate(45 178.9 960.4)"/><ellipse cx="221.2" cy="897.6" rx="1.0" ry="0.6" transform="rotate(161 221.2 897.6)"/><ellipse cx="234.2" cy="936.1" rx="1.2" ry="0.7" transform="rotate(166 234.2 936.1)"/><ellipse cx="210.1" cy="944.4" rx="1.2" ry="0.7" transform="rotate(96 210.1 944.4)"/><ellipse cx="147.9" cy="971.9" rx="1.8" ry="1.1" transform="rotate(85 147.9 971.9)"/><ellipse cx="251.9" cy="965.0" rx="1.2" ry="0.7" transform="rotate(168 251.9 965.0)"/><ellipse cx="184.4" cy="967.9" rx="1.5" ry="0.9" transform="rotate(150 184.4 967.9)"/></g>
</g></g>
<rect x="144.5" y="892.0" width="110.0" height="110.0" fill="none" stroke="#222" stroke-width="2.60"/>
<line x1="218.9" y1="991.8" x2="246.9" y2="991.8" stroke="#000" stroke-width="2.40"/>
<defs><clipPath id="cl7"><rect x="267.8" y="892.2" width="108.8" height="110.1"/></clipPath></defs>
<g clip-path="url(#cl7)"><g filter="url(#mb)">
<rect x="264.8" y="889.2" width="114.8" height="116.1" fill="#b3bfd0"/>
<rect x="267.8" y="892.2" width="108.8" height="110.1" filter="url(#tb1)" opacity="0.90"/>
<g filter="url(#pb)">
<ellipse cx="367.2" cy="907.3" rx="7.3" ry="4.4" fill="#b88468" opacity="0.59" transform="rotate(-57 367.2 907.3)"/>
<ellipse cx="309.2" cy="941.4" rx="7.5" ry="4.1" fill="#b88468" opacity="0.58" transform="rotate(23 309.2 941.4)"/>
<ellipse cx="363.4" cy="971.9" rx="4.3" ry="6.0" fill="#b88468" opacity="0.49" transform="rotate(51 363.4 971.9)"/>
<ellipse cx="332.8" cy="951.9" rx="7.1" ry="5.8" fill="#b88468" opacity="0.42" transform="rotate(43 332.8 951.9)"/>
<ellipse cx="283.3" cy="1002.3" rx="5.6" ry="3.8" fill="#b88468" opacity="0.46" transform="rotate(32 283.3 1002.3)"/>
<ellipse cx="365.5" cy="933.6" rx="4.1" ry="3.8" fill="#b88468" opacity="0.41" transform="rotate(-25 365.5 933.6)"/>
<ellipse cx="270.0" cy="990.5" rx="8.4" ry="3.4" fill="#b88468" opacity="0.41" transform="rotate(-58 270.0 990.5)"/>
<ellipse cx="374.5" cy="969.3" rx="6.7" ry="4.7" fill="#b88468" opacity="0.60" transform="rotate(1 374.5 969.3)"/>
<ellipse cx="293.8" cy="961.8" rx="4.1" ry="4.5" fill="#b88468" opacity="0.41" transform="rotate(10 293.8 961.8)"/>
<ellipse cx="304.8" cy="935.5" rx="6.6" ry="5.7" fill="#b88468" opacity="0.44" transform="rotate(-16 304.8 935.5)"/>
<ellipse cx="269.9" cy="984.4" rx="9.5" ry="5.5" fill="#b88468" opacity="0.42" transform="rotate(-30 269.9 984.4)"/>
<ellipse cx="306.4" cy="976.5" rx="4.5" ry="3.2" fill="#b88468" opacity="0.48" transform="rotate(-5 306.4 976.5)"/>
<ellipse cx="292.8" cy="943.2" rx="5.0" ry="5.9" fill="#b88468" opacity="0.47" transform="rotate(52 292.8 943.2)"/>
<ellipse cx="305.5" cy="925.8" rx="5.6" ry="5.3" fill="#b88468" opacity="0.55" transform="rotate(-57 305.5 925.8)"/>
<ellipse cx="353.8" cy="994.7" rx="7.6" ry="4.2" fill="#b88468" opacity="0.46" transform="rotate(49 353.8 994.7)"/>
<ellipse cx="282.3" cy="932.5" rx="6.9" ry="5.6" fill="#b88468" opacity="0.49" transform="rotate(-52 282.3 932.5)"/>
<ellipse cx="278.4" cy="951.3" rx="6.0" ry="5.4" fill="#b88468" opacity="0.56" transform="rotate(-22 278.4 951.3)"/>
<ellipse cx="332.6" cy="964.7" rx="6.5" ry="3.8" fill="#b88468" opacity="0.55" transform="rotate(-44 332.6 964.7)"/>
<ellipse cx="351.9" cy="953.5" rx="9.6" ry="5.5" fill="#b88468" opacity="0.52" transform="rotate(16 351.9 953.5)"/>
<ellipse cx="279.3" cy="998.0" rx="4.6" ry="3.6" fill="#b88468" opacity="0.38" transform="rotate(-22 279.3 998.0)"/>
<ellipse cx="287.2" cy="969.2" rx="7.4" ry="3.4" fill="#b88468" opacity="0.40" transform="rotate(3 287.2 969.2)"/>
<ellipse cx="348.7" cy="927.1" rx="5.3" ry="5.4" fill="#b88468" opacity="0.41" transform="rotate(-24 348.7 927.1)"/>
<ellipse cx="277.2" cy="949.4" rx="8.4" ry="3.0" fill="#b88468" opacity="0.51" transform="rotate(-22 277.2 949.4)"/>
<ellipse cx="287.9" cy="988.0" rx="6.8" ry="4.0" fill="#b88468" opacity="0.43" transform="rotate(-5 287.9 988.0)"/>
<ellipse cx="276.2" cy="896.2" rx="7.0" ry="4.5" fill="#b88468" opacity="0.39" transform="rotate(-17 276.2 896.2)"/>
<ellipse cx="280.3" cy="941.4" rx="9.5" ry="3.2" fill="#b88468" opacity="0.52" transform="rotate(-10 280.3 941.4)"/>
<ellipse cx="369.2" cy="925.2" rx="6.2" ry="4.7" fill="#b88468" opacity="0.41" transform="rotate(-36 369.2 925.2)"/>
<ellipse cx="271.0" cy="908.6" rx="9.4" ry="4.3" fill="#b88468" opacity="0.57" transform="rotate(-1 271.0 908.6)"/>
<ellipse cx="286.4" cy="975.0" rx="5.4" ry="4.1" fill="#b88468" opacity="0.54" transform="rotate(-11 286.4 975.0)"/>
<ellipse cx="376.5" cy="1000.6" rx="8.8" ry="3.3" fill="#b88468" opacity="0.51" transform="rotate(-21 376.5 1000.6)"/>
<ellipse cx="274.3" cy="925.2" rx="4.0" ry="6.0" fill="#8a4a2a" opacity="0.90" transform="rotate(33 274.3 925.2)"/>
</g>
<path d="M261.3 882.2L261.1 889.4M261.1 889.4L266.1 892.8M261.1 889.4L257.9 897.7M257.9 897.7L267.1 896.3M258.4 903.1L267.8 907.6M258.5 912.8L263.4 910.7M258.5 912.8L255.3 914.6M255.3 914.6L263.5 917.3M256 921.7L261.3 923.1M256 921.7L255.3 933.4M255.3 933.4L261 930.7M255.3 933.4L254.4 939.2M254.4 939.2L251.6 941.7M251.6 941.7L260.1 945.1M251.6 941.7L254.5 953.9M254.5 953.9L259.2 949.5M253.6 959L258.9 960.2M253.6 959L251 966.1M251 966.1L258.4 964.2M251 966.1L252.1 970.5M252.1 970.5L256.4 969.8M249.3 981.4L259.2 979.9M249.3 981.4L247.7 982.5M247.7 982.5L247.3 993.7M247.3 993.7L255.8 993.1M271.2 886.4L274.8 886M271.2 886.4L266.1 892.8M266.1 892.8L277.5 891.2M266.1 892.8L267.1 896.3M267.1 896.3L272.8 899.6M267.1 896.3L267.8 907.6M267.8 907.6L272.3 904.3M263.4 910.7L272.8 914.5M263.4 910.7L263.5 917.3M263.5 917.3L272.3 921.2M261.3 923.1L269.6 929.8M261.3 923.1L261 930.7M261 930.7L270.2 930.6M261 930.7L259.8 939.8M260.1 945.1L270.6 948.3M260.1 945.1L259.2 949.5M259.2 949.5L270.1 956.5M258.9 960.2L268.3 964M258.4 964.2L269 966.2M258.4 964.2L256.4 969.8M256.4 969.8L262.5 976.4M256.4 969.8L259.2 979.9M259.2 979.9L261.8 984M256.4 989.5L266.7 985.7M256.4 989.5L255.8 993.1M255.8 993.1L261.2 994.4M274.8 886L281.7 888.3M277.5 891.2L283.1 895.7M277.5 891.2L272.8 899.6M272.8 899.6L272.3 904.3M272.3 904.3L283.3 910.7M272.3 904.3L272.8 914.5M272.8 914.5L272.3 921.2M272.3 921.2L269.6 929.8M269.6 929.8L277.6 929.7M269.6 929.8L270.2 930.6M270.2 930.6L278.9 933M270.2 930.6L272.3 941.6M272.3 941.6L275.6 940.7M272.3 941.6L270.6 948.3M270.6 948.3L278.7 946.8M270.1 956.5L275.7 958.4M268.3 964L277 960M269 966.2L273.5 968.4M269 966.2L262.5 976.4M262.5 976.4L273.1 974.1M262.5 976.4L261.8 984M261.8 984L266.7 985.7M266.7 985.7L268.9 989.5M266.7 985.7L261.2 994.4M261.2 994.4L273.9 995.1M281.7 888.3L291.7 886.8M283.1 895.7L288 894M284.8 900.3L291.9 904.8M283.3 910.7L289.5 906.6M283.3 910.7L278.9 917.6M278.9 917.6L288.2 917.5M278.2 922L286.3 922.6M277.6 929.7L286.1 929.3M277.6 929.7L278.9 933M278.9 933L287.1 935.1M275.6 940.7L286.1 939.4M278.7 946.8L284.2 946.9M278.7 946.8L275.7 958.4M275.7 958.4L281.5 952.6M277 960L284.3 964.2M277 960L273.5 968.4M273.5 968.4L273.1 974.1M273.1 974.1L282.2 974.4M273.1 974.1L269.7 979.6M268.9 989.5L277.4 989.1M268.9 989.5L273.9 995.1M291.7 886.8L288 894M288 894L296 894.3M288 894L291.9 904.8M291.9 904.8L297.5 900.1M289.5 906.6L298.5 908.3M288.2 917.5L296.4 918.5M286.3 922.6L293.5 925.9M286.1 929.3L295.9 932.1M286.1 929.3L287.1 935.1M287.1 935.1L296 937.7M287.1 935.1L286.1 939.4M286.1 939.4L289.4 946.3M286.1 939.4L284.2 946.9M284.2 946.9L289.8 953.4M284.2 946.9L281.5 952.6M281.5 952.6L284.3 964.2M284.3 964.2L292.2 961.5M284.6 968.6L282.2 974.4M282.2 974.4L290.4 974.9M282.2 974.4L281 985.1M281 985.1L287.7 981.7M281 985.1L277.4 989.1M277.4 989.1L286.5 987.5M278.8 995.1L283.6 999.1M301.4 891.1L305.5 889.2M301.4 891.1L296 894.3M296 894.3L304.4 898.7M296 894.3L297.5 900.1M297.5 900.1L303.8 905.8M297.5 900.1L298.5 908.3M298.5 908.3L305.8 912.6M298.5 908.3L296.4 918.5M296.4 918.5L303.9 916.3M293.5 925.9L302.4 921.6M293.5 925.9L295.9 932.1M296 937.7L302.4 940.7M296 937.7L289.4 946.3M289.4 946.3L298.1 946.2M289.4 946.3L289.8 953.4M289.8 953.4L299.6 951M289.8 953.4L290.7 957.9M290.7 957.9L298 958.1M290.7 957.9L292.2 961.5M292.2 961.5L289 967.7M289 967.7L290.4 974.9M290.4 974.9L287.7 981.7M287.7 981.7L295.2 985.6M287.7 981.7L286.5 987.5M286.5 987.5L283.6 999.1M283.6 999.1L295.5 1001M305.5 889.2L316.7 889.2M305.5 889.2L304.4 898.7M304.4 898.7L311.9 898.3M304.4 898.7L303.8 905.8M303.8 905.8L305.8 912.6M305.8 912.6L313.4 914.7M303.9 916.3L308.9 915.5M303.9 916.3L302.4 921.6M302.4 921.6L300.6 929.4M300.6 929.4L307.4 931.1M300.6 929.4L302.4 940.7M302.4 940.7L307.1 940.9M302.4 940.7L298.1 946.2M298.1 946.2L309.9 943.2M298.1 946.2L299.6 951M298 958.1L295.9 961.5M295.9 961.5L299.9 971.6M299.9 971.6L303.3 970.9M299.9 971.6L295 980.5M295 980.5L306.8 981.6M295 980.5L295.2 985.6M295.2 985.6L300 987.9M295.2 985.6L291.8 993.9M291.8 993.9L295.5 1001M295.5 1001L302.8 997.6M316.7 889.2L325.4 891.8M311.9 898.3L310.8 901.9M310.8 901.9L322.5 903.6M308.9 915.5L310.8 923.5M310.8 923.5L320.5 927M307.4 931.1L315.8 932M307.4 931.1L307.1 940.9M307.1 940.9L309.9 943.2M309.9 943.2L318.5 949.1M309.9 943.2L309.6 952.2M309.6 952.2L317.5 956.4M309.6 952.2L305.5 961.6M305.5 961.6L315.7 961.8M305.5 961.6L308.9 963.7M308.9 963.7L312.8 967.4M308.9 963.7L303.3 970.9M303.3 970.9L313.4 973.1M303.3 970.9L306.8 981.6M306.8 981.6L311.8 978.9M306.8 981.6L300 987.9M300 987.9L314 984.9M300 987.9L301.1 992.3M301.1 992.3L308.7 992.8M301.1 992.3L302.8 997.6M302.8 997.6L309.8 1001.5M325.4 891.8L329 890.8M325.4 891.8L323.4 901.6M323.4 901.6L330.2 903.6M322.5 903.6L327.1 904.1M322.5 903.6L319.2 913.3M319.2 913.3L330.8 912.5M319.2 913.3L316.4 922M316.4 922L326.1 920.3M316.4 922L320.5 927M320.5 927L322.7 929.5M315.8 932L326.3 935.6M315.8 932L315 941.6M315 941.6L326 943.5M315 941.6L318.5 949.1M318.5 949.1L323.6 944.7M318.5 949.1L317.5 956.4M317.5 956.4L324.2 956.5M317.5 956.4L315.7 961.8M315.7 961.8L321.6 963.6M312.8 967.4L313.4 973.1M313.4 973.1L311.8 978.9M311.8 978.9L322.1 981.1M311.8 978.9L314 984.9M314 984.9L319.6 988.8M314 984.9L308.7 992.8M308.7 992.8L317.8 992.5M308.7 992.8L309.8 1001.5M309.8 1001.5L315.3 1002.6M329 890.8L336.9 892.7M329 890.8L330.2 903.6M330.2 903.6L327.1 904.1M327.1 904.1L335.2 906.7M327.1 904.1L330.8 912.5M330.8 912.5L336.2 914.1M326.1 920.3L336.2 923.3M326.1 920.3L322.7 929.5M322.7 929.5L336.4 927.1M326.3 935.6L326 943.5M326 943.5L323.6 944.7M323.6 944.7L329.8 950M323.6 944.7L324.2 956.5M324.2 956.5L332.5 958.6M321.6 963.6L329.5 961.5M321.1 965.2L318 975.1M318 975.1L326.4 972.5M318 975.1L322.1 981.1M322.1 981.1L328.3 984.9M322.1 981.1L319.6 988.8M319.6 988.8L317.8 992.5M317.8 992.5L315.3 1002.6M336.9 892.7L344.2 892.6M336.9 892.7L340 901.8M340 901.8L346.8 902.6M340 901.8L335.2 906.7M335.2 906.7L342.1 911.4M335.2 906.7L336.2 914.1M336.2 914.1L345.4 915.7M336.2 914.1L336.2 923.3M336.2 923.3L344.4 920.6M336.4 927.1L342.4 927.3M336.4 927.1L333.8 935.4M333.8 935.4L340 937.8M333.8 935.4L331.2 941.3M331.2 941.3L329.8 950M329.8 950L332.5 958.6M332.5 958.6L329.5 961.5M329.5 961.5L335.1 963.9M329.5 961.5L331.1 968.9M326.4 972.5L338.8 975.5M326.4 972.5L328.3 984.9M328.3 984.9L335.6 980.7M328.3 984.9L325.4 986.9M325.4 986.9L334.6 989.1M325.4 986.9L324.2 998.6M324.2 998.6L335.4 994.3M324.2 998.6L324.8 1000.6M324.8 1000.6L331.8 1003.6M344.2 892.6L355.7 896.1M344.2 892.6L346.8 902.6M346.8 902.6L354.1 903.5M346.8 902.6L342.1 911.4M342.1 911.4L349 906.7M342.1 911.4L345.4 915.7M345.4 915.7L353.8 915.8M345.4 915.7L344.4 920.6M344.4 920.6L350.3 925.4M344.4 920.6L342.4 927.3M342.4 927.3L347.8 931.5M340 937.8L350.2 937.6M338.1 942.6L349.2 944.3M340.2 953.2L348.9 953.2M340.2 953.2L337.6 958.8M337.6 958.8L348.5 958M337.6 958.8L335.1 963.9M335.1 963.9L338.7 969.7M338.7 969.7L344.8 970.3M338.7 969.7L338.8 975.5M338.8 975.5L345.7 977.2M338.8 975.5L335.6 980.7M335.6 980.7L342.2 983.8M335.6 980.7L334.6 989.1M334.6 989.1L338.4 994.2M335.4 994.3L331.8 1003.6M331.8 1003.6L338.2 1006.7M355.7 896.1L359.1 894.4M355.7 896.1L354.1 903.5M354.1 903.5L358.1 902.3M354.1 903.5L349 906.7M349 906.7L353.8 915.8M353.8 915.8L358.7 920.4M350.3 925.4L358 928M347.8 931.5L356.7 929.9M347.8 931.5L350.2 937.6M350.2 937.6L359.1 937.3M349.2 944.3L358.1 942.7M349.2 944.3L348.9 953.2M348.9 953.2L352.8 952M348.9 953.2L348.5 958M348.5 958L350.8 958.8M348.5 958L346.6 965.3M346.6 965.3L351.7 968.5M346.6 965.3L344.8 970.3M344.8 970.3L349.3 971.9M344.8 970.3L345.7 977.2M345.7 977.2L349.8 979.8M345.7 977.2L342.2 983.8M342.2 983.8L338.4 994.2M338.4 994.2L352.5 990.1M338 999.7L338.2 1006.7M338.2 1006.7L346.8 1004.9M359.1 894.4L368.8 901.9M359.1 894.4L358.1 902.3M358.1 902.3L361.4 912.6M361.4 912.6L367.3 912.1M361.4 912.6L358.7 920.4M358.7 920.4L368.7 918.7M358 928L365.3 927.1M356.7 929.9L363.1 929.3M356.7 929.9L359.1 937.3M359.1 937.3L364.9 938.5M359.1 937.3L358.1 942.7M358.1 942.7L364 946.9M358.1 942.7L352.8 952M352.8 952L360.6 952.9M352.8 952L350.8 958.8M350.8 958.8L359.9 962.3M351.7 968.5L349.3 971.9M349.8 979.8L360.1 981.1M349.8 979.8L350.1 985.9M352.5 990.1L357.7 995M352.5 990.1L345.7 1000.5M345.7 1000.5L356 999.1M345.7 1000.5L346.8 1004.9M346.8 1004.9L356.3 1005.2M368.8 901.9L376.7 900.4M368.8 901.9L371.1 904.6M367.3 912.1L377.8 912.4M368.7 918.7L373.4 920.9M368.7 918.7L365.3 927.1M365.3 927.1L363.1 929.3M363.1 929.3L372.7 933.4M363.1 929.3L364.9 938.5M364 946.9L371.2 944.3M364 946.9L360.6 952.9M360.6 952.9L359.9 962.3M359.9 962.3L371.1 962.3M359.9 962.3L362.5 968.1M362.5 968.1L368.3 967.1M362.5 968.1L357.1 971.3M357.1 971.3L370.1 975.5M357.1 971.3L360.1 981.1M360.1 981.1L363.1 982.8M360.1 981.1L355.2 986.2M355.2 986.2L367.5 985.7M355.2 986.2L357.7 995M357.7 995L356 999.1M356.3 1005.2L364 1005.2M376.7 900.4L375.2 907M377.8 912.4L373.4 920.9M373.4 920.9L374.7 924.8M370.2 936.9L371.2 944.3M371.2 944.3L371.9 951.3M371.9 951.3L371.1 962.3M371.1 962.3L368.3 967.1M368.3 967.1L370.1 975.5M370.1 975.5L363.1 982.8M363.1 982.8L367.5 985.7M367.5 985.7L364.1 992.1M362.4 1004.4L364 1005.2" fill="none" stroke="#b47858" stroke-width="2.0" opacity="0.35"/>
<path d="M261.3 882.2L261.1 889.4M261.1 889.4L266.1 892.8M261.1 889.4L257.9 897.7M257.9 897.7L267.1 896.3M258.4 903.1L267.8 907.6M258.5 912.8L263.4 910.7M258.5 912.8L255.3 914.6M255.3 914.6L263.5 917.3M256 921.7L261.3 923.1M256 921.7L255.3 933.4M255.3 933.4L261 930.7M255.3 933.4L254.4 939.2M254.4 939.2L251.6 941.7M251.6 941.7L260.1 945.1M251.6 941.7L254.5 953.9M254.5 953.9L259.2 949.5M253.6 959L258.9 960.2M253.6 959L251 966.1M251 966.1L258.4 964.2M251 966.1L252.1 970.5M252.1 970.5L256.4 969.8M249.3 981.4L259.2 979.9M249.3 981.4L247.7 982.5M247.7 982.5L247.3 993.7M247.3 993.7L255.8 993.1M271.2 886.4L274.8 886M271.2 886.4L266.1 892.8M266.1 892.8L277.5 891.2M266.1 892.8L267.1 896.3M267.1 896.3L272.8 899.6M267.1 896.3L267.8 907.6M267.8 907.6L272.3 904.3M263.4 910.7L272.8 914.5M263.4 910.7L263.5 917.3M263.5 917.3L272.3 921.2M261.3 923.1L269.6 929.8M261.3 923.1L261 930.7M261 930.7L270.2 930.6M261 930.7L259.8 939.8M260.1 945.1L270.6 948.3M260.1 945.1L259.2 949.5M259.2 949.5L270.1 956.5M258.9 960.2L268.3 964M258.4 964.2L269 966.2M258.4 964.2L256.4 969.8M256.4 969.8L262.5 976.4M256.4 969.8L259.2 979.9M259.2 979.9L261.8 984M256.4 989.5L266.7 985.7M256.4 989.5L255.8 993.1M255.8 993.1L261.2 994.4M274.8 886L281.7 888.3M277.5 891.2L283.1 895.7M277.5 891.2L272.8 899.6M272.8 899.6L272.3 904.3M272.3 904.3L283.3 910.7M272.3 904.3L272.8 914.5M272.8 914.5L272.3 921.2M272.3 921.2L269.6 929.8M269.6 929.8L277.6 929.7M269.6 929.8L270.2 930.6M270.2 930.6L278.9 933M270.2 930.6L272.3 941.6M272.3 941.6L275.6 940.7M272.3 941.6L270.6 948.3M270.6 948.3L278.7 946.8M270.1 956.5L275.7 958.4M268.3 964L277 960M269 966.2L273.5 968.4M269 966.2L262.5 976.4M262.5 976.4L273.1 974.1M262.5 976.4L261.8 984M261.8 984L266.7 985.7M266.7 985.7L268.9 989.5M266.7 985.7L261.2 994.4M261.2 994.4L273.9 995.1M281.7 888.3L291.7 886.8M283.1 895.7L288 894M284.8 900.3L291.9 904.8M283.3 910.7L289.5 906.6M283.3 910.7L278.9 917.6M278.9 917.6L288.2 917.5M278.2 922L286.3 922.6M277.6 929.7L286.1 929.3M277.6 929.7L278.9 933M278.9 933L287.1 935.1M275.6 940.7L286.1 939.4M278.7 946.8L284.2 946.9M278.7 946.8L275.7 958.4M275.7 958.4L281.5 952.6M277 960L284.3 964.2M277 960L273.5 968.4M273.5 968.4L273.1 974.1M273.1 974.1L282.2 974.4M273.1 974.1L269.7 979.6M268.9 989.5L277.4 989.1M268.9 989.5L273.9 995.1M291.7 886.8L288 894M288 894L296 894.3M288 894L291.9 904.8M291.9 904.8L297.5 900.1M289.5 906.6L298.5 908.3M288.2 917.5L296.4 918.5M286.3 922.6L293.5 925.9M286.1 929.3L295.9 932.1M286.1 929.3L287.1 935.1M287.1 935.1L296 937.7M287.1 935.1L286.1 939.4M286.1 939.4L289.4 946.3M286.1 939.4L284.2 946.9M284.2 946.9L289.8 953.4M284.2 946.9L281.5 952.6M281.5 952.6L284.3 964.2M284.3 964.2L292.2 961.5M284.6 968.6L282.2 974.4M282.2 974.4L290.4 974.9M282.2 974.4L281 985.1M281 985.1L287.7 981.7M281 985.1L277.4 989.1M277.4 989.1L286.5 987.5M278.8 995.1L283.6 999.1M301.4 891.1L305.5 889.2M301.4 891.1L296 894.3M296 894.3L304.4 898.7M296 894.3L297.5 900.1M297.5 900.1L303.8 905.8M297.5 900.1L298.5 908.3M298.5 908.3L305.8 912.6M298.5 908.3L296.4 918.5M296.4 918.5L303.9 916.3M293.5 925.9L302.4 921.6M293.5 925.9L295.9 932.1M296 937.7L302.4 940.7M296 937.7L289.4 946.3M289.4 946.3L298.1 946.2M289.4 946.3L289.8 953.4M289.8 953.4L299.6 951M289.8 953.4L290.7 957.9M290.7 957.9L298 958.1M290.7 957.9L292.2 961.5M292.2 961.5L289 967.7M289 967.7L290.4 974.9M290.4 974.9L287.7 981.7M287.7 981.7L295.2 985.6M287.7 981.7L286.5 987.5M286.5 987.5L283.6 999.1M283.6 999.1L295.5 1001M305.5 889.2L316.7 889.2M305.5 889.2L304.4 898.7M304.4 898.7L311.9 898.3M304.4 898.7L303.8 905.8M303.8 905.8L305.8 912.6M305.8 912.6L313.4 914.7M303.9 916.3L308.9 915.5M303.9 916.3L302.4 921.6M302.4 921.6L300.6 929.4M300.6 929.4L307.4 931.1M300.6 929.4L302.4 940.7M302.4 940.7L307.1 940.9M302.4 940.7L298.1 946.2M298.1 946.2L309.9 943.2M298.1 946.2L299.6 951M298 958.1L295.9 961.5M295.9 961.5L299.9 971.6M299.9 971.6L303.3 970.9M299.9 971.6L295 980.5M295 980.5L306.8 981.6M295 980.5L295.2 985.6M295.2 985.6L300 987.9M295.2 985.6L291.8 993.9M291.8 993.9L295.5 1001M295.5 1001L302.8 997.6M316.7 889.2L325.4 891.8M311.9 898.3L310.8 901.9M310.8 901.9L322.5 903.6M308.9 915.5L310.8 923.5M310.8 923.5L320.5 927M307.4 931.1L315.8 932M307.4 931.1L307.1 940.9M307.1 940.9L309.9 943.2M309.9 943.2L318.5 949.1M309.9 943.2L309.6 952.2M309.6 952.2L317.5 956.4M309.6 952.2L305.5 961.6M305.5 961.6L315.7 961.8M305.5 961.6L308.9 963.7M308.9 963.7L312.8 967.4M308.9 963.7L303.3 970.9M303.3 970.9L313.4 973.1M303.3 970.9L306.8 981.6M306.8 981.6L311.8 978.9M306.8 981.6L300 987.9M300 987.9L314 984.9M300 987.9L301.1 992.3M301.1 992.3L308.7 992.8M301.1 992.3L302.8 997.6M302.8 997.6L309.8 1001.5M325.4 891.8L329 890.8M325.4 891.8L323.4 901.6M323.4 901.6L330.2 903.6M322.5 903.6L327.1 904.1M322.5 903.6L319.2 913.3M319.2 913.3L330.8 912.5M319.2 913.3L316.4 922M316.4 922L326.1 920.3M316.4 922L320.5 927M320.5 927L322.7 929.5M315.8 932L326.3 935.6M315.8 932L315 941.6M315 941.6L326 943.5M315 941.6L318.5 949.1M318.5 949.1L323.6 944.7M318.5 949.1L317.5 956.4M317.5 956.4L324.2 956.5M317.5 956.4L315.7 961.8M315.7 961.8L321.6 963.6M312.8 967.4L313.4 973.1M313.4 973.1L311.8 978.9M311.8 978.9L322.1 981.1M311.8 978.9L314 984.9M314 984.9L319.6 988.8M314 984.9L308.7 992.8M308.7 992.8L317.8 992.5M308.7 992.8L309.8 1001.5M309.8 1001.5L315.3 1002.6M329 890.8L336.9 892.7M329 890.8L330.2 903.6M330.2 903.6L327.1 904.1M327.1 904.1L335.2 906.7M327.1 904.1L330.8 912.5M330.8 912.5L336.2 914.1M326.1 920.3L336.2 923.3M326.1 920.3L322.7 929.5M322.7 929.5L336.4 927.1M326.3 935.6L326 943.5M326 943.5L323.6 944.7M323.6 944.7L329.8 950M323.6 944.7L324.2 956.5M324.2 956.5L332.5 958.6M321.6 963.6L329.5 961.5M321.1 965.2L318 975.1M318 975.1L326.4 972.5M318 975.1L322.1 981.1M322.1 981.1L328.3 984.9M322.1 981.1L319.6 988.8M319.6 988.8L317.8 992.5M317.8 992.5L315.3 1002.6M336.9 892.7L344.2 892.6M336.9 892.7L340 901.8M340 901.8L346.8 902.6M340 901.8L335.2 906.7M335.2 906.7L342.1 911.4M335.2 906.7L336.2 914.1M336.2 914.1L345.4 915.7M336.2 914.1L336.2 923.3M336.2 923.3L344.4 920.6M336.4 927.1L342.4 927.3M336.4 927.1L333.8 935.4M333.8 935.4L340 937.8M333.8 935.4L331.2 941.3M331.2 941.3L329.8 950M329.8 950L332.5 958.6M332.5 958.6L329.5 961.5M329.5 961.5L335.1 963.9M329.5 961.5L331.1 968.9M326.4 972.5L338.8 975.5M326.4 972.5L328.3 984.9M328.3 984.9L335.6 980.7M328.3 984.9L325.4 986.9M325.4 986.9L334.6 989.1M325.4 986.9L324.2 998.6M324.2 998.6L335.4 994.3M324.2 998.6L324.8 1000.6M324.8 1000.6L331.8 1003.6M344.2 892.6L355.7 896.1M344.2 892.6L346.8 902.6M346.8 902.6L354.1 903.5M346.8 902.6L342.1 911.4M342.1 911.4L349 906.7M342.1 911.4L345.4 915.7M345.4 915.7L353.8 915.8M345.4 915.7L344.4 920.6M344.4 920.6L350.3 925.4M344.4 920.6L342.4 927.3M342.4 927.3L347.8 931.5M340 937.8L350.2 937.6M338.1 942.6L349.2 944.3M340.2 953.2L348.9 953.2M340.2 953.2L337.6 958.8M337.6 958.8L348.5 958M337.6 958.8L335.1 963.9M335.1 963.9L338.7 969.7M338.7 969.7L344.8 970.3M338.7 969.7L338.8 975.5M338.8 975.5L345.7 977.2M338.8 975.5L335.6 980.7M335.6 980.7L342.2 983.8M335.6 980.7L334.6 989.1M334.6 989.1L338.4 994.2M335.4 994.3L331.8 1003.6M331.8 1003.6L338.2 1006.7M355.7 896.1L359.1 894.4M355.7 896.1L354.1 903.5M354.1 903.5L358.1 902.3M354.1 903.5L349 906.7M349 906.7L353.8 915.8M353.8 915.8L358.7 920.4M350.3 925.4L358 928M347.8 931.5L356.7 929.9M347.8 931.5L350.2 937.6M350.2 937.6L359.1 937.3M349.2 944.3L358.1 942.7M349.2 944.3L348.9 953.2M348.9 953.2L352.8 952M348.9 953.2L348.5 958M348.5 958L350.8 958.8M348.5 958L346.6 965.3M346.6 965.3L351.7 968.5M346.6 965.3L344.8 970.3M344.8 970.3L349.3 971.9M344.8 970.3L345.7 977.2M345.7 977.2L349.8 979.8M345.7 977.2L342.2 983.8M342.2 983.8L338.4 994.2M338.4 994.2L352.5 990.1M338 999.7L338.2 1006.7M338.2 1006.7L346.8 1004.9M359.1 894.4L368.8 901.9M359.1 894.4L358.1 902.3M358.1 902.3L361.4 912.6M361.4 912.6L367.3 912.1M361.4 912.6L358.7 920.4M358.7 920.4L368.7 918.7M358 928L365.3 927.1M356.7 929.9L363.1 929.3M356.7 929.9L359.1 937.3M359.1 937.3L364.9 938.5M359.1 937.3L358.1 942.7M358.1 942.7L364 946.9M358.1 942.7L352.8 952M352.8 952L360.6 952.9M352.8 952L350.8 958.8M350.8 958.8L359.9 962.3M351.7 968.5L349.3 971.9M349.8 979.8L360.1 981.1M349.8 979.8L350.1 985.9M352.5 990.1L357.7 995M352.5 990.1L345.7 1000.5M345.7 1000.5L356 999.1M345.7 1000.5L346.8 1004.9M346.8 1004.9L356.3 1005.2M368.8 901.9L376.7 900.4M368.8 901.9L371.1 904.6M367.3 912.1L377.8 912.4M368.7 918.7L373.4 920.9M368.7 918.7L365.3 927.1M365.3 927.1L363.1 929.3M363.1 929.3L372.7 933.4M363.1 929.3L364.9 938.5M364 946.9L371.2 944.3M364 946.9L360.6 952.9M360.6 952.9L359.9 962.3M359.9 962.3L371.1 962.3M359.9 962.3L362.5 968.1M362.5 968.1L368.3 967.1M362.5 968.1L357.1 971.3M357.1 971.3L370.1 975.5M357.1 971.3L360.1 981.1M360.1 981.1L363.1 982.8M360.1 981.1L355.2 986.2M355.2 986.2L367.5 985.7M355.2 986.2L357.7 995M357.7 995L356 999.1M356.3 1005.2L364 1005.2M376.7 900.4L375.2 907M377.8 912.4L373.4 920.9M373.4 920.9L374.7 924.8M370.2 936.9L371.2 944.3M371.2 944.3L371.9 951.3M371.9 951.3L371.1 962.3M371.1 962.3L368.3 967.1M368.3 967.1L370.1 975.5M370.1 975.5L363.1 982.8M363.1 982.8L367.5 985.7M367.5 985.7L364.1 992.1M362.4 1004.4L364 1005.2" fill="none" stroke="#f0e6dc" stroke-width="0.9" opacity="0.75"/>
<path d="M268.3 904.9L270 904.5L272.2 904L274.9 903.3L277.9 902.6L281.1 901.8L284.5 901.2L288.5 900.5L292.9 899.8L297.7 899.1L302.5 898.4L307.1 897.9L311.4 897.4L315.3 897.1L318.9 897L322.3 896.9L325.7 897L329.2 897.3L332.9 897.8L336.8 898.5L341 899.4L345.2 900.5L349.3 901.7L353.1 903.1L356.4 904.6L359.1 906.3L361.7 908.2L363.9 910.2L366 912.3L367.9 914.2L369.6 915.9L370.9 917.3L372 918.5L372.8 919.6L373.6 920.6L374.3 921.4L374.9 922.1L378.1 919.2L377.7 918.5L377.1 917.4L376.2 916.1L375.1 914.7L373.6 913.2L371.9 911.8L370 910.1L367.8 908.2L365.3 906.2L362.5 904.3L359.3 902.6L355.9 901.1L352.1 899.8L348 898.7L343.7 897.6L339.4 896.6L335.2 895.8L331.4 895.1L327.8 894.5L324.2 894.1L320.7 893.8L317.1 893.6L313.3 893.6L309.1 893.6L304.4 893.9L299.6 894.3L294.6 894.8L289.9 895.4L285.6 896.1L281.9 896.8L278.3 897.7L275.1 898.6L272.3 899.6L269.9 900.5L268 901.3z" fill="none" stroke="#b07050" stroke-width="2.0" opacity="0.45" stroke-linejoin="round"/>
<path d="M268.3 904.9L270 904.5L272.2 904L274.9 903.3L277.9 902.6L281.1 901.8L284.5 901.2L288.5 900.5L292.9 899.8L297.7 899.1L302.5 898.4L307.1 897.9L311.4 897.4L315.3 897.1L318.9 897L322.3 896.9L325.7 897L329.2 897.3L332.9 897.8L336.8 898.5L341 899.4L345.2 900.5L349.3 901.7L353.1 903.1L356.4 904.6L359.1 906.3L361.7 908.2L363.9 910.2L366 912.3L367.9 914.2L369.6 915.9L370.9 917.3L372 918.5L372.8 919.6L373.6 920.6L374.3 921.4L374.9 922.1L378.1 919.2L377.7 918.5L377.1 917.4L376.2 916.1L375.1 914.7L373.6 913.2L371.9 911.8L370 910.1L367.8 908.2L365.3 906.2L362.5 904.3L359.3 902.6L355.9 901.1L352.1 899.8L348 898.7L343.7 897.6L339.4 896.6L335.2 895.8L331.4 895.1L327.8 894.5L324.2 894.1L320.7 893.8L317.1 893.6L313.3 893.6L309.1 893.6L304.4 893.9L299.6 894.3L294.6 894.8L289.9 895.4L285.6 896.1L281.9 896.8L278.3 897.7L275.1 898.6L272.3 899.6L269.9 900.5L268 901.3z" fill="#f8f6f2"/>
<path d="M285.2 905.6L286.9 905.7L289.3 905.8L292 906L295 906.1L297.8 906.4L300.3 906.7L302.5 907.1L304.6 907.6L306.7 908.1L308.7 908.6L310.8 909.2L313 909.9L315.3 910.8L317.6 911.9L319.9 913.2L322.3 914.6L324.8 916L327.2 917.3L329.7 918.5L332.3 919.6L334.8 920.6L337.4 921.5L340 922.3L342.5 923.1L345.1 923.8L347.9 924.6L350.7 925.2L353.2 925.8L355.4 926.2L356.9 926.6L356.4 925.9L354.6 925.1L352.4 924.2L349.8 923.2L347.1 922.2L344.5 921.2L342 920.3L339.5 919.5L337 918.6L334.4 917.8L331.8 916.9L329.3 916L326.9 915L324.5 913.7L322.1 912.3L319.8 910.9L317.4 909.5L315.1 908.1L312.8 907L310.7 906.1L308.5 905.4L306.3 904.9L304.1 904.5L301.8 904.2L299.3 904.1L296.4 904.1L293.5 904.3L290.6 904.6L288 904.9L285.9 905.2z" fill="none" stroke="#b07050" stroke-width="2.0" opacity="0.45" stroke-linejoin="round"/>
<path d="M285.2 905.6L286.9 905.7L289.3 905.8L292 906L295 906.1L297.8 906.4L300.3 906.7L302.5 907.1L304.6 907.6L306.7 908.1L308.7 908.6L310.8 909.2L313 909.9L315.3 910.8L317.6 911.9L319.9 913.2L322.3 914.6L324.8 916L327.2 917.3L329.7 918.5L332.3 919.6L334.8 920.6L337.4 921.5L340 922.3L342.5 923.1L345.1 923.8L347.9 924.6L350.7 925.2L353.2 925.8L355.4 926.2L356.9 926.6L356.4 925.9L354.6 925.1L352.4 924.2L349.8 923.2L347.1 922.2L344.5 921.2L342 920.3L339.5 919.5L337 918.6L334.4 917.8L331.8 916.9L329.3 916L326.9 915L324.5 913.7L322.1 912.3L319.8 910.9L317.4 909.5L315.1 908.1L312.8 907L310.7 906.1L308.5 905.4L306.3 904.9L304.1 904.5L301.8 904.2L299.3 904.1L296.4 904.1L293.5 904.3L290.6 904.6L288 904.9L285.9 905.2z" fill="#f8f6f2"/>
<path d="M267 939.4L268.4 940.1L270.2 941L272.3 941.9L274.6 943L277 944.2L279.3 945.5L281.6 947L284.2 948.9L287 950.8L289.9 952.9L292.8 955L295.7 956.9L298.5 958.8L301.4 960.8L304.3 962.7L307.2 964.7L310 966.5L312.6 968.3L315.1 969.9L317.4 971.4L319.6 972.8L321.8 974.3L324.1 975.8L326.6 977.6L329.3 979.5L332.2 981.6L335.1 983.8L338.2 986L341.3 988.2L344.4 990.5L347.8 992.9L351.5 995.6L355.3 998.4L358.8 1000.9L361.9 1003L364.1 1004.5L366.4 999.4L363.9 997.3L360.7 994.8L357 992L353.2 989.2L349.6 986.6L346.2 984.4L342.9 982.4L339.6 980.4L336.3 978.5L333.2 976.7L330.2 975L327.3 973.4L324.8 972L322.4 970.8L320.1 969.5L317.9 968.2L315.6 966.7L313.1 964.9L310.6 962.9L307.9 960.8L305.3 958.6L302.6 956.3L300 954.1L297.4 951.9L294.7 949.6L292 947.3L289.3 945L286.5 942.9L283.8 941L281.1 939.4L278.3 938.2L275.6 937.1L273.1 936.4L270.9 935.8L269.2 935.4z" fill="none" stroke="#b07050" stroke-width="2.0" opacity="0.45" stroke-linejoin="round"/>
<path d="M267 939.4L268.4 940.1L270.2 941L272.3 941.9L274.6 943L277 944.2L279.3 945.5L281.6 947L284.2 948.9L287 950.8L289.9 952.9L292.8 955L295.7 956.9L298.5 958.8L301.4 960.8L304.3 962.7L307.2 964.7L310 966.5L312.6 968.3L315.1 969.9L317.4 971.4L319.6 972.8L321.8 974.3L324.1 975.8L326.6 977.6L329.3 979.5L332.2 981.6L335.1 983.8L338.2 986L341.3 988.2L344.4 990.5L347.8 992.9L351.5 995.6L355.3 998.4L358.8 1000.9L361.9 1003L364.1 1004.5L366.4 999.4L363.9 997.3L360.7 994.8L357 992L353.2 989.2L349.6 986.6L346.2 984.4L342.9 982.4L339.6 980.4L336.3 978.5L333.2 976.7L330.2 975L327.3 973.4L324.8 972L322.4 970.8L320.1 969.5L317.9 968.2L315.6 966.7L313.1 964.9L310.6 962.9L307.9 960.8L305.3 958.6L302.6 956.3L300 954.1L297.4 951.9L294.7 949.6L292 947.3L289.3 945L286.5 942.9L283.8 941L281.1 939.4L278.3 938.2L275.6 937.1L273.1 936.4L270.9 935.8L269.2 935.4z" fill="#f8f6f2"/>
<path d="M273.2 945.3L276 945.6L279.8 946.2L284.3 946.8L289.1 947.5L293.9 948.1L298.1 948.7L301.8 949.2L305.5 949.7L309 950.2L312.5 950.6L316.1 951L319.9 951.5L323.7 952L327.4 952.6L331.2 953.3L335.1 954L339.3 954.7L343.8 955.5L349.1 956.2L355.2 957L361.6 957.6L367.6 958.2L372.8 958.6L376.4 958.8L375.2 955.3L370.7 954.7L365.1 954.1L358.8 953.5L352.5 952.9L346.7 952.5L341.8 952.1L337.5 951.7L333.4 951.3L329.5 950.9L325.8 950.4L322 949.9L318.3 949.3L314.7 948.6L311.2 947.9L307.7 947.1L304.1 946.5L300.4 946L296.4 945.6L291.8 945.3L286.9 945.1L282.1 945L277.9 944.9L274.5 944.9z" fill="none" stroke="#b07050" stroke-width="2.0" opacity="0.45" stroke-linejoin="round"/>
<path d="M273.2 945.3L276 945.6L279.8 946.2L284.3 946.8L289.1 947.5L293.9 948.1L298.1 948.7L301.8 949.2L305.5 949.7L309 950.2L312.5 950.6L316.1 951L319.9 951.5L323.7 952L327.4 952.6L331.2 953.3L335.1 954L339.3 954.7L343.8 955.5L349.1 956.2L355.2 957L361.6 957.6L367.6 958.2L372.8 958.6L376.4 958.8L375.2 955.3L370.7 954.7L365.1 954.1L358.8 953.5L352.5 952.9L346.7 952.5L341.8 952.1L337.5 951.7L333.4 951.3L329.5 950.9L325.8 950.4L322 949.9L318.3 949.3L314.7 948.6L311.2 947.9L307.7 947.1L304.1 946.5L300.4 946L296.4 945.6L291.8 945.3L286.9 945.1L282.1 945L277.9 944.9L274.5 944.9z" fill="#f8f6f2"/>
<path d="M267.5 978.3L268.9 978.8L270.8 979.4L273.1 980L275.6 980.6L278.4 981.3L281.4 982.1L284.7 982.9L288.4 984L292.4 985.1L296.5 986.3L300.5 987.6L304.5 988.9L308.4 990.3L312.4 991.9L316.4 993.5L320.2 995.2L323.8 996.8L327.1 998.3L330 999.6L332.8 1000.8L335.4 1001.9L337.7 1002.8L339.7 1003.4L341.2 1003.9L341.8 1000.4L340.1 999.6L338 998.8L335.6 997.8L332.8 996.8L329.8 995.8L326.6 994.8L323 993.6L319.2 992.2L315.1 990.8L311 989.3L307 987.8L303.2 986.4L299.2 984.8L295.2 983.3L291.3 981.7L287.5 980.3L284.1 979.1L280.9 978L277.9 977.2L275.1 976.6L272.6 976.1L270.5 975.8L268.8 975.7z" fill="none" stroke="#b07050" stroke-width="2.0" opacity="0.45" stroke-linejoin="round"/>
<path d="M267.5 978.3L268.9 978.8L270.8 979.4L273.1 980L275.6 980.6L278.4 981.3L281.4 982.1L284.7 982.9L288.4 984L292.4 985.1L296.5 986.3L300.5 987.6L304.5 988.9L308.4 990.3L312.4 991.9L316.4 993.5L320.2 995.2L323.8 996.8L327.1 998.3L330 999.6L332.8 1000.8L335.4 1001.9L337.7 1002.8L339.7 1003.4L341.2 1003.9L341.8 1000.4L340.1 999.6L338 998.8L335.6 997.8L332.8 996.8L329.8 995.8L326.6 994.8L323 993.6L319.2 992.2L315.1 990.8L311 989.3L307 987.8L303.2 986.4L299.2 984.8L295.2 983.3L291.3 981.7L287.5 980.3L284.1 979.1L280.9 978L277.9 977.2L275.1 976.6L272.6 976.1L270.5 975.8L268.8 975.7z" fill="#f8f6f2"/>
<path d="M287.3 901L286.6 902.3L285.7 904.2L284.9 906.5L284 909L283.3 911.6L282.6 914L281.5 916.5L280.2 919.2L278.9 921.9L277.7 924.5L276.9 926.8L276.4 928.5L277 927.9L278.2 926.2L279.5 923.8L280.7 921.1L281.9 918.3L283 915.6L284 913.2L285.1 910.8L286 908.2L286.7 905.7L287.1 903.5L287.4 901.7z" fill="none" stroke="#b07050" stroke-width="2.0" opacity="0.45" stroke-linejoin="round"/>
<path d="M287.3 901L286.6 902.3L285.7 904.2L284.9 906.5L284 909L283.3 911.6L282.6 914L281.5 916.5L280.2 919.2L278.9 921.9L277.7 924.5L276.9 926.8L276.4 928.5L277 927.9L278.2 926.2L279.5 923.8L280.7 921.1L281.9 918.3L283 915.6L284 913.2L285.1 910.8L286 908.2L286.7 905.7L287.1 903.5L287.4 901.7z" fill="#f8f6f2"/>
<path d="M338.5 965L340.3 966.3L342.9 968.4L346.1 970.6L349.7 972.5L353.5 973.8L357 974.2L360.6 973.5L364.5 972L368.4 970L372 967.9L375 965.9L377 964.5L375.1 963.5L372.5 965.1L369.3 967.3L365.7 969.7L362.1 971.7L358.6 973L355.5 973L352.1 971.9L348.7 970.2L345.2 968.3L342.1 966.5L339.5 965.2z" fill="none" stroke="#b07050" stroke-width="2.0" opacity="0.45" stroke-linejoin="round"/>
<path d="M338.5 965L340.3 966.3L342.9 968.4L346.1 970.6L349.7 972.5L353.5 973.8L357 974.2L360.6 973.5L364.5 972L368.4 970L372 967.9L375 965.9L377 964.5L375.1 963.5L372.5 965.1L369.3 967.3L365.7 969.7L362.1 971.7L358.6 973L355.5 973L352.1 971.9L348.7 970.2L345.2 968.3L342.1 966.5L339.5 965.2z" fill="#f8f6f2"/>
<g fill="#5a7ab8" opacity="0.75"><ellipse cx="360.5" cy="979.5" rx="2.3" ry="0.9" transform="rotate(80 360.5 979.5)"/><ellipse cx="315.9" cy="908.9" rx="1.8" ry="0.9" transform="rotate(173 315.9 908.9)"/><ellipse cx="344.8" cy="926.3" rx="1.8" ry="1.1" transform="rotate(141 344.8 926.3)"/><ellipse cx="341.0" cy="1002.1" rx="2.3" ry="1.0" transform="rotate(177 341.0 1002.1)"/><ellipse cx="338.4" cy="914.7" rx="2.2" ry="0.8" transform="rotate(32 338.4 914.7)"/><ellipse cx="307.0" cy="984.7" rx="1.7" ry="0.9" transform="rotate(83 307.0 984.7)"/><ellipse cx="339.6" cy="923.6" rx="2.2" ry="0.9" transform="rotate(97 339.6 923.6)"/><ellipse cx="372.6" cy="899.2" rx="1.7" ry="1.1" transform="rotate(72 372.6 899.2)"/><ellipse cx="271.4" cy="941.9" rx="1.5" ry="0.8" transform="rotate(127 271.4 941.9)"/><ellipse cx="271.6" cy="914.0" rx="1.9" ry="0.9" transform="rotate(167 271.6 914.0)"/><ellipse cx="272.2" cy="933.3" rx="2.1" ry="1.1" transform="rotate(167 272.2 933.3)"/><ellipse cx="374.4" cy="900.0" rx="2.2" ry="1.0" transform="rotate(72 374.4 900.0)"/><ellipse cx="273.0" cy="970.9" rx="1.8" ry="1.1" transform="rotate(84 273.0 970.9)"/><ellipse cx="362.6" cy="994.2" rx="2.2" ry="1.0" transform="rotate(61 362.6 994.2)"/><ellipse cx="323.8" cy="927.7" rx="2.1" ry="1.0" transform="rotate(154 323.8 927.7)"/><ellipse cx="304.2" cy="950.4" rx="1.6" ry="0.8" transform="rotate(118 304.2 950.4)"/><ellipse cx="360.9" cy="965.1" rx="1.4" ry="0.9" transform="rotate(141 360.9 965.1)"/><ellipse cx="315.7" cy="952.7" rx="1.9" ry="0.8" transform="rotate(155 315.7 952.7)"/><ellipse cx="332.4" cy="936.5" rx="1.8" ry="0.9" transform="rotate(86 332.4 936.5)"/><ellipse cx="324.0" cy="928.8" rx="1.9" ry="0.8" transform="rotate(86 324.0 928.8)"/><ellipse cx="276.6" cy="952.9" rx="1.3" ry="0.8" transform="rotate(27 276.6 952.9)"/><ellipse cx="330.2" cy="913.6" rx="1.6" ry="1.0" transform="rotate(162 330.2 913.6)"/><ellipse cx="310.4" cy="990.7" rx="1.9" ry="0.9" transform="rotate(30 310.4 990.7)"/><ellipse cx="373.8" cy="967.3" rx="1.3" ry="0.8" transform="rotate(59 373.8 967.3)"/><ellipse cx="360.3" cy="975.2" rx="2.0" ry="1.1" transform="rotate(7 360.3 975.2)"/><ellipse cx="278.5" cy="991.8" rx="1.9" ry="1.1" transform="rotate(95 278.5 991.8)"/><ellipse cx="338.0" cy="935.1" rx="1.4" ry="0.8" transform="rotate(172 338.0 935.1)"/><ellipse cx="273.1" cy="934.7" rx="1.5" ry="0.9" transform="rotate(107 273.1 934.7)"/><ellipse cx="302.8" cy="895.5" rx="1.9" ry="0.8" transform="rotate(65 302.8 895.5)"/><ellipse cx="286.8" cy="902.2" rx="1.9" ry="1.1" transform="rotate(156 286.8 902.2)"/><ellipse cx="349.7" cy="895.6" rx="1.7" ry="0.8" transform="rotate(9 349.7 895.6)"/><ellipse cx="322.8" cy="907.0" rx="1.7" ry="1.0" transform="rotate(37 322.8 907.0)"/><ellipse cx="292.5" cy="934.4" rx="2.1" ry="0.8" transform="rotate(32 292.5 934.4)"/><ellipse cx="325.8" cy="941.1" rx="2.0" ry="0.9" transform="rotate(22 325.8 941.1)"/><ellipse cx="366.8" cy="969.3" rx="2.2" ry="1.0" transform="rotate(12 366.8 969.3)"/></g>
<g fill="#9a6a40" opacity="0.9"><ellipse cx="296.0" cy="967.6" rx="1.3" ry="0.8" transform="rotate(90 296.0 967.6)"/><ellipse cx="360.2" cy="912.6" rx="1.0" ry="0.6" transform="rotate(127 360.2 912.6)"/><ellipse cx="283.8" cy="917.0" rx="1.4" ry="0.8" transform="rotate(152 283.8 917.0)"/><ellipse cx="282.0" cy="950.7" rx="1.0" ry="0.6" transform="rotate(5 282.0 950.7)"/><ellipse cx="299.9" cy="939.7" rx="1.5" ry="0.9" transform="rotate(109 299.9 939.7)"/><ellipse cx="334.0" cy="893.8" rx="1.0" ry="0.6" transform="rotate(123 334.0 893.8)"/><ellipse cx="283.8" cy="988.1" rx="1.4" ry="0.9" transform="rotate(135 283.8 988.1)"/><ellipse cx="355.5" cy="983.2" rx="1.4" ry="0.8" transform="rotate(97 355.5 983.2)"/><ellipse cx="371.1" cy="979.6" rx="1.0" ry="0.6" transform="rotate(19 371.1 979.6)"/><ellipse cx="360.3" cy="945.8" rx="1.4" ry="0.8" transform="rotate(61 360.3 945.8)"/></g>
</g></g>
<rect x="267.8" y="892.2" width="108.8" height="110.1" fill="none" stroke="#222" stroke-width="2.60"/>
<line x1="340.6" y1="991.7" x2="368.5" y2="991.7" stroke="#000" stroke-width="2.40"/>
<defs><clipPath id="cl8"><rect x="388.0" y="893.0" width="109.6" height="108.8"/></clipPath></defs>
<g clip-path="url(#cl8)"><g filter="url(#mb)">
<rect x="385.0" y="890.0" width="115.6" height="114.8" fill="#b8c0cc"/>
<rect x="388.0" y="893.0" width="109.6" height="108.8" filter="url(#tb2)" opacity="1.00"/>
<g filter="url(#pb)">
<ellipse cx="397.9" cy="996.4" rx="4.9" ry="5.2" fill="#b88468" opacity="0.61" transform="rotate(-30 397.9 996.4)"/>
<ellipse cx="469.9" cy="925.9" rx="6.1" ry="5.2" fill="#b88468" opacity="0.64" transform="rotate(12 469.9 925.9)"/>
<ellipse cx="460.6" cy="951.8" rx="6.3" ry="4.2" fill="#b88468" opacity="0.58" transform="rotate(-48 460.6 951.8)"/>
<ellipse cx="435.0" cy="951.1" rx="7.8" ry="4.9" fill="#b88468" opacity="0.41" transform="rotate(-17 435.0 951.1)"/>
<ellipse cx="413.3" cy="969.8" rx="7.4" ry="5.5" fill="#b88468" opacity="0.41" transform="rotate(25 413.3 969.8)"/>
<ellipse cx="413.4" cy="947.6" rx="8.5" ry="3.6" fill="#b88468" opacity="0.59" transform="rotate(-29 413.4 947.6)"/>
<ellipse cx="433.0" cy="926.3" rx="9.0" ry="3.3" fill="#b88468" opacity="0.63" transform="rotate(20 433.0 926.3)"/>
<ellipse cx="422.0" cy="932.4" rx="5.2" ry="4.4" fill="#b88468" opacity="0.61" transform="rotate(19 422.0 932.4)"/>
<ellipse cx="412.2" cy="953.3" rx="6.6" ry="3.9" fill="#b88468" opacity="0.43" transform="rotate(-54 412.2 953.3)"/>
<ellipse cx="464.5" cy="938.2" rx="6.8" ry="4.8" fill="#b88468" opacity="0.43" transform="rotate(-41 464.5 938.2)"/>
<ellipse cx="477.6" cy="989.9" rx="5.5" ry="5.4" fill="#b88468" opacity="0.57" transform="rotate(6 477.6 989.9)"/>
<ellipse cx="420.7" cy="922.4" rx="4.5" ry="4.2" fill="#b88468" opacity="0.51" transform="rotate(7 420.7 922.4)"/>
<ellipse cx="441.4" cy="945.4" rx="7.3" ry="3.4" fill="#b88468" opacity="0.46" transform="rotate(26 441.4 945.4)"/>
<ellipse cx="449.3" cy="944.4" rx="5.0" ry="3.8" fill="#b88468" opacity="0.64" transform="rotate(6 449.3 944.4)"/>
<ellipse cx="475.6" cy="972.1" rx="6.1" ry="4.3" fill="#b88468" opacity="0.58" transform="rotate(-23 475.6 972.1)"/>
<ellipse cx="449.6" cy="962.7" rx="4.2" ry="5.1" fill="#b88468" opacity="0.45" transform="rotate(14 449.6 962.7)"/>
<ellipse cx="423.9" cy="950.8" rx="9.7" ry="4.2" fill="#b88468" opacity="0.56" transform="rotate(-52 423.9 950.8)"/>
<ellipse cx="410.9" cy="995.2" rx="5.5" ry="4.6" fill="#b88468" opacity="0.57" transform="rotate(8 410.9 995.2)"/>
<ellipse cx="464.6" cy="941.5" rx="7.9" ry="3.0" fill="#b88468" opacity="0.65" transform="rotate(47 464.6 941.5)"/>
<ellipse cx="449.2" cy="957.7" rx="5.5" ry="4.4" fill="#b88468" opacity="0.56" transform="rotate(40 449.2 957.7)"/>
<ellipse cx="433.2" cy="906.2" rx="5.2" ry="5.6" fill="#b88468" opacity="0.45" transform="rotate(54 433.2 906.2)"/>
<ellipse cx="444.4" cy="970.4" rx="5.3" ry="5.4" fill="#b88468" opacity="0.52" transform="rotate(-13 444.4 970.4)"/>
<ellipse cx="491.8" cy="915.3" rx="6.6" ry="4.1" fill="#b88468" opacity="0.47" transform="rotate(-17 491.8 915.3)"/>
<ellipse cx="434.7" cy="939.5" rx="6.4" ry="5.6" fill="#b88468" opacity="0.48" transform="rotate(30 434.7 939.5)"/>
<ellipse cx="394.2" cy="974.6" rx="6.6" ry="3.1" fill="#b88468" opacity="0.59" transform="rotate(-47 394.2 974.6)"/>
<ellipse cx="467.6" cy="964.3" rx="8.9" ry="3.8" fill="#b88468" opacity="0.61" transform="rotate(46 467.6 964.3)"/>
<ellipse cx="427.9" cy="986.5" rx="10.0" ry="4.7" fill="#b88468" opacity="0.51" transform="rotate(-49 427.9 986.5)"/>
<ellipse cx="468.5" cy="971.3" rx="7.0" ry="3.2" fill="#b88468" opacity="0.49" transform="rotate(54 468.5 971.3)"/>
<ellipse cx="462.6" cy="894.5" rx="6.5" ry="5.7" fill="#b88468" opacity="0.58" transform="rotate(41 462.6 894.5)"/>
<ellipse cx="416.5" cy="907.8" rx="7.4" ry="4.8" fill="#b88468" opacity="0.47" transform="rotate(-1 416.5 907.8)"/>
<ellipse cx="444.5" cy="1000.9" rx="7.9" ry="4.6" fill="#b88468" opacity="0.42" transform="rotate(-10 444.5 1000.9)"/>
<ellipse cx="440.0" cy="895.4" rx="9.8" ry="4.6" fill="#b88468" opacity="0.55" transform="rotate(-46 440.0 895.4)"/>
<ellipse cx="462.6" cy="897.4" rx="8.9" ry="5.1" fill="#b88468" opacity="0.42" transform="rotate(16 462.6 897.4)"/>
<ellipse cx="488.2" cy="987.2" rx="9.9" ry="3.3" fill="#b88468" opacity="0.63" transform="rotate(36 488.2 987.2)"/>
<ellipse cx="473.4" cy="920.7" rx="4.5" ry="5.0" fill="#b88468" opacity="0.42" transform="rotate(58 473.4 920.7)"/>
<ellipse cx="448.0" cy="980.7" rx="6.4" ry="4.0" fill="#b88468" opacity="0.50" transform="rotate(7 448.0 980.7)"/>
<ellipse cx="400.5" cy="899.8" rx="7.4" ry="5.5" fill="#b88468" opacity="0.65" transform="rotate(-22 400.5 899.8)"/>
<ellipse cx="399.4" cy="926.0" rx="8.9" ry="3.9" fill="#b88468" opacity="0.59" transform="rotate(53 399.4 926.0)"/>
<ellipse cx="491.1" cy="986.5" rx="7.7" ry="5.2" fill="#b88468" opacity="0.61" transform="rotate(-13 491.1 986.5)"/>
<ellipse cx="403.4" cy="929.6" rx="8.4" ry="4.4" fill="#b88468" opacity="0.59" transform="rotate(7 403.4 929.6)"/>
<ellipse cx="405.5" cy="919.1" rx="5.0" ry="3.0" fill="#8a4a2a" opacity="0.90" transform="rotate(51 405.5 919.1)"/>
<ellipse cx="477.9" cy="924.6" rx="4.0" ry="3.0" fill="#8a4a2a" opacity="0.90" transform="rotate(35 477.9 924.6)"/>
<ellipse cx="447.2" cy="971.3" rx="4.0" ry="2.0" fill="#8a4a2a" opacity="0.85" transform="rotate(26 447.2 971.3)"/>
<ellipse cx="481.2" cy="977.9" rx="5.0" ry="2.0" fill="#8a4a2a" opacity="0.85" transform="rotate(57 481.2 977.9)"/>
</g>
<path d="M379.2 886.3L380.4 891.3M380.4 891.3L384.6 893.1M381.9 900.3L388.5 900.6M381.9 900.3L382.9 907.9M382.8 916.6L382.7 920.6M382.7 920.6L385.5 917.6M382.7 920.6L381.3 925.9M381.3 925.9L391.1 926.8M381.3 925.9L382.3 935.6M382.3 935.6L378.6 939.4M378.6 939.4L388 937.7M378.6 939.4L381 944.5M381 944.5L391.1 950.3M381 944.5L383.2 950.9M383.2 950.9L387 952.3M383.2 950.9L380.7 959.2M380.7 959.2L392.6 962.7M380.7 959.2L378.5 965.7M378.5 965.7L381 971.8M381 971.8L393.2 973.6M381.4 980.4L391.8 980.2M380.8 986.7L389.6 987.2M388.4 888L384.6 893.1M384.6 893.1L388.5 900.6M388.5 900.6L394.4 901.4M388.5 900.6L385.2 905.4M385.2 905.4L396.1 907.9M385.2 905.4L386.9 914.7M386.9 914.7L399.3 910M386.9 914.7L385.5 917.6M385.5 917.6L396 920.6M385.5 917.6L391.1 926.8M391.1 926.8L398.3 926.1M388.7 936.1L388 937.7M388 937.7L391.1 950.3M391.1 950.3L387 952.3M387 952.3L394.6 952.8M387 952.3L392.6 962.7M392.6 962.7L397.1 963.5M392.6 962.7L390.7 967.3M390.7 967.3L393.2 973.6M393.2 973.6L401.1 975.1M393.2 973.6L391.8 980.2M391.8 980.2L400.3 980.3M391.8 980.2L389.6 987.2M389.6 987.2L397.4 986.3M397 889.3L398 894.7M398 894.7L406.7 893.4M398 894.7L394.4 901.4M394.4 901.4L396.1 907.9M396.1 907.9L399.3 910M399.3 910L404.9 910.1M399.3 910L396 920.6M396 920.6L405.7 921.6M396 920.6L398.3 926.1M398.3 926.1L406.8 926M398.3 926.1L400 934.2M400 934.2L396.3 939.1M396.3 939.1L406.5 938.7M396.3 939.1L395 944.1M395 944.1L394.6 952.8M394.6 952.8L405.8 954.1M394.6 952.8L397.1 963.5M397.1 963.5L395.7 965.8M395.7 965.8L409.2 969.5M395.7 965.8L401.1 975.1M401.1 975.1L400.3 980.3M400.3 980.3L405.3 983M400.3 980.3L397.4 986.3M401.7 883.5L414.6 886.8M401.7 883.5L406.7 893.4M406.7 893.4L413.8 895.7M406.7 893.4L405 900.1M405 900.1L410.6 898.8M408.3 903.5L413.4 906.9M405.7 921.6L413.5 918.6M405.7 921.6L406.8 926M406.8 926L411 925.7M406.8 926L404.4 932.5M404.4 932.5L415.7 930.2M404.4 932.5L406.5 938.7M406.5 938.7L407.2 949.2M407.2 949.2L416.7 946.3M407.2 949.2L405.8 954.1M405.8 954.1L403.2 963.5M403.2 963.5L416 961.1M403.2 963.5L409.2 969.5M409.2 969.5L411.6 964.1M409.2 969.5L404.5 971.7M405.3 983L415.7 981.4M405.3 983L410.3 988.7M410.3 988.7L415.1 987.4M414.6 886.8L424.7 883.2M414.6 886.8L413.8 895.7M413.8 895.7L421.1 895.3M413.8 895.7L410.6 898.8M410.6 898.8L424.3 900.9M413.4 906.9L412.9 914.7M412.9 914.7L419.9 909.7M413.5 918.6L411 925.7M411 925.7L420.1 928.5M411 925.7L415.7 930.2M415.7 930.2L421.7 931.2M415.7 930.2L416.8 939.1M416.8 939.1L423.4 940.7M416.8 939.1L416.7 946.3M416.7 946.3L426.1 948.9M416.7 946.3L417.8 956.3M417.8 956.3L421 952.2M417.8 956.3L416 961.1M416 961.1L420.5 956.9M416 961.1L411.6 964.1M411.6 964.1L422 967.3M418.1 971.9L424.1 973.6M418.1 971.9L415.7 981.4M415.7 981.4L426.5 981.8M424.7 883.2L428.8 887.1M424.7 883.2L421.1 895.3M421.1 895.3L431.6 891.5M421.1 895.3L424.3 900.9M424.3 900.9L431.1 902M424.3 900.9L420.8 904.4M420.8 904.4L419.9 909.7M419.9 909.7L430.1 910.8M419.9 909.7L424.2 918.4M424.2 918.4L428.6 917.8M424.2 918.4L420.1 928.5M420.1 928.5L433.5 928.5M420.1 928.5L421.7 931.2M421.7 931.2L430.7 933M423.4 940.7L426.1 948.9M426.1 948.9L421 952.2M421 952.2L428.4 954.4M421 952.2L420.5 956.9M422 967.3L432.7 969M422 967.3L424.1 973.6M424.1 973.6L429.4 976.3M423.6 988.5L433.6 984.9M428.8 887.1L438.6 885.4M428.8 887.1L431.6 891.5M431.6 891.5L438.3 894M431.6 891.5L431.1 902M431.1 902L440.5 898.5M431.1 902L427.7 906M427.7 906L440.5 904.1M427.7 906L430.1 910.8M430.1 910.8L438.2 909M430.1 910.8L428.6 917.8M428.6 917.8L440.2 916.1M428.6 917.8L433.5 928.5M433.5 928.5L430.7 933M430.7 933L430.7 939.5M430.7 939.5L440.8 940M430.7 939.5L432.2 942.8M432.2 942.8L440.2 947.4M432.2 942.8L428.4 954.4M431.6 959.3L438.2 959.9M431.6 959.3L432.7 969M432.7 969L442.7 968.6M432.7 969L429.4 976.3M429.4 976.3L439.5 969.7M429.4 976.3L435.4 982.2M435.4 982.2L440.6 981.5M435.4 982.2L433.6 984.9M433.6 984.9L443.6 985.3M438.6 885.4L445.3 884.6M438.3 894L444.7 891M440.5 898.5L446.1 900.3M440.5 904.1L447.5 904.3M440.5 904.1L438.2 909M438.2 909L444.3 910.9M438.2 909L440.2 916.1M440.2 916.1L449.7 918.7M440.2 916.1L441.8 923.3M441.8 923.3L449.6 922.9M441.8 923.3L442.2 933.5M442.2 933.5L446.5 934.3M442.2 933.5L440.8 940M440.8 940L450.6 941.6M440.8 940L440.2 947.4M440.2 947.4L443.1 953.5M443.1 953.5L447.6 951.3M438.2 959.9L447.8 961.5M438.2 959.9L442.7 968.6M442.7 968.6L447.8 965M442.7 968.6L439.5 969.7M439.5 969.7L448.9 971.6M440.6 981.5L443.6 985.3M443.6 985.3L452.4 989.3M444.7 891L456.2 891.6M446.1 900.3L452.5 901M446.1 900.3L447.5 904.3M447.5 904.3L458.4 906.5M447.5 904.3L444.3 910.9M444.3 910.9L459 914.3M449.7 918.7L457.7 916.8M449.6 922.9L446.5 934.3M446.5 934.3L454.3 931.1M446.5 934.3L450.6 941.6M450.6 941.6L453.2 938.7M450.6 941.6L447.1 945.5M447.1 945.5L459.2 945.7M447.1 945.5L447.6 951.3M447.6 951.3L458.2 951.1M447.8 961.5L455.7 956.9M447.8 961.5L447.8 965M447.8 965L459.8 964M447.8 965L448.9 971.6M448.9 971.6L455.4 970.3M450.4 977.2L458.9 980.9M452.4 989.3L454.2 985.2M455.1 884.5L456.2 891.6M456.2 891.6L465.5 892.4M456.2 891.6L452.5 901M452.5 901L463.7 895.4M452.5 901L458.4 906.5M458.4 906.5L466.1 903.1M459 914.3L462.3 908.5M459 914.3L457.7 916.8M453.8 923L466.5 922.4M454.3 931.1L453.2 938.7M453.2 938.7L466.2 936.8M453.2 938.7L459.2 945.7M459.2 945.7L458.2 951.1M455.7 956.9L462 959.9M455.7 956.9L459.8 964M459.8 964L465.3 965.3M455.4 970.3L463.7 973.4M455.4 970.3L458.9 980.9M458.9 980.9L463.2 975.7M458.9 980.9L454.2 985.2M461.9 886.4L465.5 892.4M465.5 892.4L471.7 891.7M465.5 892.4L463.7 895.4M466.1 903.1L474.2 903.6M466.1 903.1L462.3 908.5M462.3 908.5L474.7 908.7M462.3 908.5L465.2 915.2M465.2 915.2L471.9 915.2M465.2 915.2L466.5 922.4M466.5 922.4L470.5 923.9M466.5 922.4L467.1 928.8M467.1 928.8L470.4 934.9M467.1 928.8L466.2 936.8M466.2 936.8L473.7 937.7M466.2 936.8L467.2 943.9M467.2 943.9L476.3 944.9M467.2 943.9L468.1 954.2M468.1 954.2L470.8 951.9M468.1 954.2L462 959.9M462 959.9L465.3 965.3M465.3 965.3L463.7 973.4M463.7 973.4L473.7 969.7M463.7 973.4L463.2 975.7M463.2 975.7L475.1 980.3M463.2 975.7L465.5 987.9M465.5 987.9L476.3 983.8M470 883.9L477.1 883.1M471.7 891.7L480.7 889.5M471.7 891.7L470.5 894.6M470.5 894.6L479.2 898.1M470.5 894.6L474.2 903.6M474.2 903.6L478.5 901.7M474.2 903.6L474.7 908.7M474.7 908.7L471.9 915.2M471.9 915.2L483.5 918.7M470.5 923.9L484 926M470.4 934.9L473.7 937.7M473.7 937.7L483 939.8M473.7 937.7L476.3 944.9M476.3 944.9L484.5 948M476.3 944.9L470.8 951.9M470.8 951.9L471.5 961.8M471.5 961.8L480.3 955.9M471.5 961.8L471.7 964.3M471.7 964.3L485 962.1M473.7 969.7L482.1 972M473.7 969.7L475.1 980.3M475.1 980.3L480.5 980.4M476.3 983.8L480.3 987.7M477.1 883.1L480.7 889.5M480.7 889.5L487.1 893M480.7 889.5L479.2 898.1M479.2 898.1L489 896.8M479.2 898.1L478.5 901.7M480.1 910.1L483.5 918.7M483.5 918.7L484 926M484 926L489.3 927.7M484 926L480.4 934.3M480.4 934.3L492.6 930.2M483 939.8L484.5 948M484.5 948L488.1 942.1M484.5 948L480.6 954M480.6 954L491.3 951.1M480.6 954L480.3 955.9M480.3 955.9L493.4 956.6M480.3 955.9L485 962.1M485 962.1L493.7 963.3M485 962.1L482.1 972M482.1 972L489.5 969.5M482.1 972L480.5 980.4M480.5 980.4L494.2 976.1M480.5 980.4L480.3 987.7M480.3 987.7L494 982.9M490.5 885.3L487.1 893M487.1 893L489 896.8M489 896.8L499.1 893.9M489 896.8L489.5 905.3M489.5 905.3L498 902.7M489.5 905.3L486.1 913.1M486.1 913.1L500 913.7M486.1 913.1L491.7 919.3M491.7 919.3L498.9 915.2M491.7 919.3L489.3 927.7M489.3 927.7L499.3 921.5M489.3 927.7L492.6 930.2M492.6 930.2L497.6 931.1M492.6 930.2L487.7 936.6M487.7 936.6L497.4 934.6M487.7 936.6L488.1 942.1M488.1 942.1L500.5 946.3M488.1 942.1L491.3 951.1M491.3 951.1L493.4 956.6M493.4 956.6L493.7 963.3M493.7 963.3L497.7 962.3M493.7 963.3L489.5 969.5M489.5 969.5L494.2 976.1M494.2 976.1L499.1 979.6M494.2 976.1L494 982.9M499.3 882.7L508.6 880.4M499.3 882.7L495.5 890.4M495.5 890.4L505.7 888.9M495.5 890.4L499.1 893.9M499.1 893.9L502.8 898.6M498 902.7L500 913.7M500 913.7L498.9 915.2M498.9 915.2L506.1 917.8M499.3 921.5L503.5 922M497.6 931.1L497.4 934.6M497.4 934.6L507.9 938.3M497.4 934.6L500.5 946.3M500.5 946.3L506.5 944.3M500.5 946.3L497.5 949.3M497.5 949.3L504.5 951.1M499.8 955.3L509.5 961M499.8 955.3L497.7 962.3M497.7 962.3L507 967.3M500.3 972.4L506.2 970.1M500.3 972.4L499.1 979.6M499.1 979.6L508 977.7M499.1 979.6L497.9 985.4M497.9 985.4L506.2 982.3M505.7 888.9L502.8 898.6M502.8 898.6L505.6 907.1M506.1 917.8L503.5 922M503.5 922L509.7 928M507.9 938.3L506.5 944.3M504.5 951.1L509.5 961M508 977.7L506.2 982.3" fill="none" stroke="#b47858" stroke-width="2.2" opacity="0.40"/>
<path d="M379.2 886.3L380.4 891.3M380.4 891.3L384.6 893.1M381.9 900.3L388.5 900.6M381.9 900.3L382.9 907.9M382.8 916.6L382.7 920.6M382.7 920.6L385.5 917.6M382.7 920.6L381.3 925.9M381.3 925.9L391.1 926.8M381.3 925.9L382.3 935.6M382.3 935.6L378.6 939.4M378.6 939.4L388 937.7M378.6 939.4L381 944.5M381 944.5L391.1 950.3M381 944.5L383.2 950.9M383.2 950.9L387 952.3M383.2 950.9L380.7 959.2M380.7 959.2L392.6 962.7M380.7 959.2L378.5 965.7M378.5 965.7L381 971.8M381 971.8L393.2 973.6M381.4 980.4L391.8 980.2M380.8 986.7L389.6 987.2M388.4 888L384.6 893.1M384.6 893.1L388.5 900.6M388.5 900.6L394.4 901.4M388.5 900.6L385.2 905.4M385.2 905.4L396.1 907.9M385.2 905.4L386.9 914.7M386.9 914.7L399.3 910M386.9 914.7L385.5 917.6M385.5 917.6L396 920.6M385.5 917.6L391.1 926.8M391.1 926.8L398.3 926.1M388.7 936.1L388 937.7M388 937.7L391.1 950.3M391.1 950.3L387 952.3M387 952.3L394.6 952.8M387 952.3L392.6 962.7M392.6 962.7L397.1 963.5M392.6 962.7L390.7 967.3M390.7 967.3L393.2 973.6M393.2 973.6L401.1 975.1M393.2 973.6L391.8 980.2M391.8 980.2L400.3 980.3M391.8 980.2L389.6 987.2M389.6 987.2L397.4 986.3M397 889.3L398 894.7M398 894.7L406.7 893.4M398 894.7L394.4 901.4M394.4 901.4L396.1 907.9M396.1 907.9L399.3 910M399.3 910L404.9 910.1M399.3 910L396 920.6M396 920.6L405.7 921.6M396 920.6L398.3 926.1M398.3 926.1L406.8 926M398.3 926.1L400 934.2M400 934.2L396.3 939.1M396.3 939.1L406.5 938.7M396.3 939.1L395 944.1M395 944.1L394.6 952.8M394.6 952.8L405.8 954.1M394.6 952.8L397.1 963.5M397.1 963.5L395.7 965.8M395.7 965.8L409.2 969.5M395.7 965.8L401.1 975.1M401.1 975.1L400.3 980.3M400.3 980.3L405.3 983M400.3 980.3L397.4 986.3M401.7 883.5L414.6 886.8M401.7 883.5L406.7 893.4M406.7 893.4L413.8 895.7M406.7 893.4L405 900.1M405 900.1L410.6 898.8M408.3 903.5L413.4 906.9M405.7 921.6L413.5 918.6M405.7 921.6L406.8 926M406.8 926L411 925.7M406.8 926L404.4 932.5M404.4 932.5L415.7 930.2M404.4 932.5L406.5 938.7M406.5 938.7L407.2 949.2M407.2 949.2L416.7 946.3M407.2 949.2L405.8 954.1M405.8 954.1L403.2 963.5M403.2 963.5L416 961.1M403.2 963.5L409.2 969.5M409.2 969.5L411.6 964.1M409.2 969.5L404.5 971.7M405.3 983L415.7 981.4M405.3 983L410.3 988.7M410.3 988.7L415.1 987.4M414.6 886.8L424.7 883.2M414.6 886.8L413.8 895.7M413.8 895.7L421.1 895.3M413.8 895.7L410.6 898.8M410.6 898.8L424.3 900.9M413.4 906.9L412.9 914.7M412.9 914.7L419.9 909.7M413.5 918.6L411 925.7M411 925.7L420.1 928.5M411 925.7L415.7 930.2M415.7 930.2L421.7 931.2M415.7 930.2L416.8 939.1M416.8 939.1L423.4 940.7M416.8 939.1L416.7 946.3M416.7 946.3L426.1 948.9M416.7 946.3L417.8 956.3M417.8 956.3L421 952.2M417.8 956.3L416 961.1M416 961.1L420.5 956.9M416 961.1L411.6 964.1M411.6 964.1L422 967.3M418.1 971.9L424.1 973.6M418.1 971.9L415.7 981.4M415.7 981.4L426.5 981.8M424.7 883.2L428.8 887.1M424.7 883.2L421.1 895.3M421.1 895.3L431.6 891.5M421.1 895.3L424.3 900.9M424.3 900.9L431.1 902M424.3 900.9L420.8 904.4M420.8 904.4L419.9 909.7M419.9 909.7L430.1 910.8M419.9 909.7L424.2 918.4M424.2 918.4L428.6 917.8M424.2 918.4L420.1 928.5M420.1 928.5L433.5 928.5M420.1 928.5L421.7 931.2M421.7 931.2L430.7 933M423.4 940.7L426.1 948.9M426.1 948.9L421 952.2M421 952.2L428.4 954.4M421 952.2L420.5 956.9M422 967.3L432.7 969M422 967.3L424.1 973.6M424.1 973.6L429.4 976.3M423.6 988.5L433.6 984.9M428.8 887.1L438.6 885.4M428.8 887.1L431.6 891.5M431.6 891.5L438.3 894M431.6 891.5L431.1 902M431.1 902L440.5 898.5M431.1 902L427.7 906M427.7 906L440.5 904.1M427.7 906L430.1 910.8M430.1 910.8L438.2 909M430.1 910.8L428.6 917.8M428.6 917.8L440.2 916.1M428.6 917.8L433.5 928.5M433.5 928.5L430.7 933M430.7 933L430.7 939.5M430.7 939.5L440.8 940M430.7 939.5L432.2 942.8M432.2 942.8L440.2 947.4M432.2 942.8L428.4 954.4M431.6 959.3L438.2 959.9M431.6 959.3L432.7 969M432.7 969L442.7 968.6M432.7 969L429.4 976.3M429.4 976.3L439.5 969.7M429.4 976.3L435.4 982.2M435.4 982.2L440.6 981.5M435.4 982.2L433.6 984.9M433.6 984.9L443.6 985.3M438.6 885.4L445.3 884.6M438.3 894L444.7 891M440.5 898.5L446.1 900.3M440.5 904.1L447.5 904.3M440.5 904.1L438.2 909M438.2 909L444.3 910.9M438.2 909L440.2 916.1M440.2 916.1L449.7 918.7M440.2 916.1L441.8 923.3M441.8 923.3L449.6 922.9M441.8 923.3L442.2 933.5M442.2 933.5L446.5 934.3M442.2 933.5L440.8 940M440.8 940L450.6 941.6M440.8 940L440.2 947.4M440.2 947.4L443.1 953.5M443.1 953.5L447.6 951.3M438.2 959.9L447.8 961.5M438.2 959.9L442.7 968.6M442.7 968.6L447.8 965M442.7 968.6L439.5 969.7M439.5 969.7L448.9 971.6M440.6 981.5L443.6 985.3M443.6 985.3L452.4 989.3M444.7 891L456.2 891.6M446.1 900.3L452.5 901M446.1 900.3L447.5 904.3M447.5 904.3L458.4 906.5M447.5 904.3L444.3 910.9M444.3 910.9L459 914.3M449.7 918.7L457.7 916.8M449.6 922.9L446.5 934.3M446.5 934.3L454.3 931.1M446.5 934.3L450.6 941.6M450.6 941.6L453.2 938.7M450.6 941.6L447.1 945.5M447.1 945.5L459.2 945.7M447.1 945.5L447.6 951.3M447.6 951.3L458.2 951.1M447.8 961.5L455.7 956.9M447.8 961.5L447.8 965M447.8 965L459.8 964M447.8 965L448.9 971.6M448.9 971.6L455.4 970.3M450.4 977.2L458.9 980.9M452.4 989.3L454.2 985.2M455.1 884.5L456.2 891.6M456.2 891.6L465.5 892.4M456.2 891.6L452.5 901M452.5 901L463.7 895.4M452.5 901L458.4 906.5M458.4 906.5L466.1 903.1M459 914.3L462.3 908.5M459 914.3L457.7 916.8M453.8 923L466.5 922.4M454.3 931.1L453.2 938.7M453.2 938.7L466.2 936.8M453.2 938.7L459.2 945.7M459.2 945.7L458.2 951.1M455.7 956.9L462 959.9M455.7 956.9L459.8 964M459.8 964L465.3 965.3M455.4 970.3L463.7 973.4M455.4 970.3L458.9 980.9M458.9 980.9L463.2 975.7M458.9 980.9L454.2 985.2M461.9 886.4L465.5 892.4M465.5 892.4L471.7 891.7M465.5 892.4L463.7 895.4M466.1 903.1L474.2 903.6M466.1 903.1L462.3 908.5M462.3 908.5L474.7 908.7M462.3 908.5L465.2 915.2M465.2 915.2L471.9 915.2M465.2 915.2L466.5 922.4M466.5 922.4L470.5 923.9M466.5 922.4L467.1 928.8M467.1 928.8L470.4 934.9M467.1 928.8L466.2 936.8M466.2 936.8L473.7 937.7M466.2 936.8L467.2 943.9M467.2 943.9L476.3 944.9M467.2 943.9L468.1 954.2M468.1 954.2L470.8 951.9M468.1 954.2L462 959.9M462 959.9L465.3 965.3M465.3 965.3L463.7 973.4M463.7 973.4L473.7 969.7M463.7 973.4L463.2 975.7M463.2 975.7L475.1 980.3M463.2 975.7L465.5 987.9M465.5 987.9L476.3 983.8M470 883.9L477.1 883.1M471.7 891.7L480.7 889.5M471.7 891.7L470.5 894.6M470.5 894.6L479.2 898.1M470.5 894.6L474.2 903.6M474.2 903.6L478.5 901.7M474.2 903.6L474.7 908.7M474.7 908.7L471.9 915.2M471.9 915.2L483.5 918.7M470.5 923.9L484 926M470.4 934.9L473.7 937.7M473.7 937.7L483 939.8M473.7 937.7L476.3 944.9M476.3 944.9L484.5 948M476.3 944.9L470.8 951.9M470.8 951.9L471.5 961.8M471.5 961.8L480.3 955.9M471.5 961.8L471.7 964.3M471.7 964.3L485 962.1M473.7 969.7L482.1 972M473.7 969.7L475.1 980.3M475.1 980.3L480.5 980.4M476.3 983.8L480.3 987.7M477.1 883.1L480.7 889.5M480.7 889.5L487.1 893M480.7 889.5L479.2 898.1M479.2 898.1L489 896.8M479.2 898.1L478.5 901.7M480.1 910.1L483.5 918.7M483.5 918.7L484 926M484 926L489.3 927.7M484 926L480.4 934.3M480.4 934.3L492.6 930.2M483 939.8L484.5 948M484.5 948L488.1 942.1M484.5 948L480.6 954M480.6 954L491.3 951.1M480.6 954L480.3 955.9M480.3 955.9L493.4 956.6M480.3 955.9L485 962.1M485 962.1L493.7 963.3M485 962.1L482.1 972M482.1 972L489.5 969.5M482.1 972L480.5 980.4M480.5 980.4L494.2 976.1M480.5 980.4L480.3 987.7M480.3 987.7L494 982.9M490.5 885.3L487.1 893M487.1 893L489 896.8M489 896.8L499.1 893.9M489 896.8L489.5 905.3M489.5 905.3L498 902.7M489.5 905.3L486.1 913.1M486.1 913.1L500 913.7M486.1 913.1L491.7 919.3M491.7 919.3L498.9 915.2M491.7 919.3L489.3 927.7M489.3 927.7L499.3 921.5M489.3 927.7L492.6 930.2M492.6 930.2L497.6 931.1M492.6 930.2L487.7 936.6M487.7 936.6L497.4 934.6M487.7 936.6L488.1 942.1M488.1 942.1L500.5 946.3M488.1 942.1L491.3 951.1M491.3 951.1L493.4 956.6M493.4 956.6L493.7 963.3M493.7 963.3L497.7 962.3M493.7 963.3L489.5 969.5M489.5 969.5L494.2 976.1M494.2 976.1L499.1 979.6M494.2 976.1L494 982.9M499.3 882.7L508.6 880.4M499.3 882.7L495.5 890.4M495.5 890.4L505.7 888.9M495.5 890.4L499.1 893.9M499.1 893.9L502.8 898.6M498 902.7L500 913.7M500 913.7L498.9 915.2M498.9 915.2L506.1 917.8M499.3 921.5L503.5 922M497.6 931.1L497.4 934.6M497.4 934.6L507.9 938.3M497.4 934.6L500.5 946.3M500.5 946.3L506.5 944.3M500.5 946.3L497.5 949.3M497.5 949.3L504.5 951.1M499.8 955.3L509.5 961M499.8 955.3L497.7 962.3M497.7 962.3L507 967.3M500.3 972.4L506.2 970.1M500.3 972.4L499.1 979.6M499.1 979.6L508 977.7M499.1 979.6L497.9 985.4M497.9 985.4L506.2 982.3M505.7 888.9L502.8 898.6M502.8 898.6L505.6 907.1M506.1 917.8L503.5 922M503.5 922L509.7 928M507.9 938.3L506.5 944.3M504.5 951.1L509.5 961M508 977.7L506.2 982.3" fill="none" stroke="#f0e6dc" stroke-width="0.9" opacity="0.75"/>
<path d="M390.8 917.5L392.2 916.5L393.6 914.5L395.1 911.9L396.7 909.3L398.5 907.1L400.5 905.5L402.6 904.5L404.7 903.5L406.1 901.9L407.1 899.9L407.6 898L408 896.6L406.9 896.1L405 896.2L403 896.5L400.9 897.4L399.3 899.1L398.1 901.2L396.7 903.2L394.7 905.1L392.1 906.9L389.5 908.4L387.2 909.9L385.6 911.3z" fill="none" stroke="#a86848" stroke-width="2.4" opacity="0.50" stroke-linejoin="round"/>
<path d="M390.8 917.5L392.2 916.5L393.6 914.5L395.1 911.9L396.7 909.3L398.5 907.1L400.5 905.5L402.6 904.5L404.7 903.5L406.1 901.9L407.1 899.9L407.6 898L408 896.6L406.9 896.1L405 896.2L403 896.5L400.9 897.4L399.3 899.1L398.1 901.2L396.7 903.2L394.7 905.1L392.1 906.9L389.5 908.4L387.2 909.9L385.6 911.3z" fill="#f8f6f2"/>
<path d="M407.9 921.7L410.4 920.7L413.9 919.4L417.9 917.6L422.1 915.7L426.4 913.8L430.3 912.1L434.2 910.6L438.1 909.1L442.2 907.7L446.2 906.4L450.2 905.3L454.2 904.4L458 903.7L461.7 903.2L465.3 902.7L468.9 902.3L472.5 901.9L476.1 901.5L479.9 901L484.1 900.4L488.3 899.9L492.1 899.3L495.4 898.7L497.8 898.2L496.4 894.3L493.5 894.2L489.8 894.3L485.7 894.4L481.3 894.7L477.2 895.1L473.4 895.7L469.8 896.5L466.2 897.3L462.6 898.3L458.9 899.4L455.2 900.6L451.4 901.8L447.4 903L443.3 904.1L439.2 905.3L435 906.6L431 908L427 909.6L422.7 911.6L418.5 913.8L414.6 916.2L411.2 918.4L408.6 920.4z" fill="none" stroke="#a86848" stroke-width="2.4" opacity="0.50" stroke-linejoin="round"/>
<path d="M407.9 921.7L410.4 920.7L413.9 919.4L417.9 917.6L422.1 915.7L426.4 913.8L430.3 912.1L434.2 910.6L438.1 909.1L442.2 907.7L446.2 906.4L450.2 905.3L454.2 904.4L458 903.7L461.7 903.2L465.3 902.7L468.9 902.3L472.5 901.9L476.1 901.5L479.9 901L484.1 900.4L488.3 899.9L492.1 899.3L495.4 898.7L497.8 898.2L496.4 894.3L493.5 894.2L489.8 894.3L485.7 894.4L481.3 894.7L477.2 895.1L473.4 895.7L469.8 896.5L466.2 897.3L462.6 898.3L458.9 899.4L455.2 900.6L451.4 901.8L447.4 903L443.3 904.1L439.2 905.3L435 906.6L431 908L427 909.6L422.7 911.6L418.5 913.8L414.6 916.2L411.2 918.4L408.6 920.4z" fill="#f8f6f2"/>
<path d="M451.7 915.1L453.6 914.6L456.3 914L459.3 913L462.5 911.8L465.6 910.6L468.4 909.5L471 908.5L473.6 907.7L476.2 907.1L478.8 906.7L481.3 906.3L483.9 906L486.5 905.5L489.2 904.9L491.9 904.2L494.4 903.5L496.4 902.7L497.9 902.1L496.6 899.2L494.6 899.3L492.2 899.5L489.6 899.9L486.8 900.6L484.1 901.4L481.6 902.2L479.2 903.2L476.7 904.1L474.2 905L471.6 905.9L468.9 906.6L466.2 907.5L463.1 908.6L459.9 909.8L456.8 911.3L454.2 912.7L452.2 914.1z" fill="none" stroke="#a86848" stroke-width="2.4" opacity="0.50" stroke-linejoin="round"/>
<path d="M451.7 915.1L453.6 914.6L456.3 914L459.3 913L462.5 911.8L465.6 910.6L468.4 909.5L471 908.5L473.6 907.7L476.2 907.1L478.8 906.7L481.3 906.3L483.9 906L486.5 905.5L489.2 904.9L491.9 904.2L494.4 903.5L496.4 902.7L497.9 902.1L496.6 899.2L494.6 899.3L492.2 899.5L489.6 899.9L486.8 900.6L484.1 901.4L481.6 902.2L479.2 903.2L476.7 904.1L474.2 905L471.6 905.9L468.9 906.6L466.2 907.5L463.1 908.6L459.9 909.8L456.8 911.3L454.2 912.7L452.2 914.1z" fill="#f8f6f2"/>
<path d="M395.3 930.4L396.4 931.7L397.7 933.8L399.3 936.2L401.2 938.7L403.2 941.1L405.2 943.4L407.1 945.5L409.2 947.7L411.4 949.8L413.7 951.9L416.1 953.8L418.6 955.6L421.1 957.2L423.7 958.5L426.2 959.8L428.9 961L431.6 962.2L434.4 963.5L437.5 964.7L440.6 965.8L443.9 966.9L447.2 967.9L450.5 969L453.9 970.2L457.4 971.5L461.2 972.9L465.1 974.4L469.1 975.7L473 977L476.8 978.1L480.6 979.1L484.5 980L488.4 980.8L491.9 981.4L494.8 982L497 982.3L497.3 977.4L494.8 976.5L491.7 975.4L488.2 974.2L484.4 973L480.7 971.7L477.2 970.5L473.5 969.2L469.6 967.9L465.6 966.6L461.6 965.3L457.7 964.2L454 963.3L450.3 962.6L446.8 962L443.5 961.4L440.3 960.8L437.3 960.1L434.4 959.2L431.7 958.2L429.1 957.1L426.6 955.9L424.3 954.5L422.1 953L419.8 951.4L417.7 949.6L415.5 947.6L413.4 945.6L411.3 943.5L409.1 941.5L407 939.5L404.8 937.5L402.5 935.3L400.3 933.3L398.2 931.6L396.6 930.2z" fill="none" stroke="#a86848" stroke-width="2.4" opacity="0.50" stroke-linejoin="round"/>
<path d="M395.3 930.4L396.4 931.7L397.7 933.8L399.3 936.2L401.2 938.7L403.2 941.1L405.2 943.4L407.1 945.5L409.2 947.7L411.4 949.8L413.7 951.9L416.1 953.8L418.6 955.6L421.1 957.2L423.7 958.5L426.2 959.8L428.9 961L431.6 962.2L434.4 963.5L437.5 964.7L440.6 965.8L443.9 966.9L447.2 967.9L450.5 969L453.9 970.2L457.4 971.5L461.2 972.9L465.1 974.4L469.1 975.7L473 977L476.8 978.1L480.6 979.1L484.5 980L488.4 980.8L491.9 981.4L494.8 982L497 982.3L497.3 977.4L494.8 976.5L491.7 975.4L488.2 974.2L484.4 973L480.7 971.7L477.2 970.5L473.5 969.2L469.6 967.9L465.6 966.6L461.6 965.3L457.7 964.2L454 963.3L450.3 962.6L446.8 962L443.5 961.4L440.3 960.8L437.3 960.1L434.4 959.2L431.7 958.2L429.1 957.1L426.6 955.9L424.3 954.5L422.1 953L419.8 951.4L417.7 949.6L415.5 947.6L413.4 945.6L411.3 943.5L409.1 941.5L407 939.5L404.8 937.5L402.5 935.3L400.3 933.3L398.2 931.6L396.6 930.2z" fill="#f8f6f2"/>
<path d="M388.1 963.4L391.1 963.3L395.2 963.2L400 962.9L405.1 962.5L410 962.2L414.2 962L417.9 962L421.4 962.2L424.9 962.5L428.3 962.8L431.7 963L435.2 963L438.4 962.9L441.5 962.6L444.5 962.2L447.6 961.8L450.9 961.2L454.4 960.5L458.3 959.5L462.5 958.3L466.8 956.9L471.1 955.4L475.1 953.9L478.9 952.5L482.6 951.1L486.4 949.7L490.1 948.3L493.4 946.9L496.2 945.8L498.2 944.9L496 941.4L493.5 942L490.2 942.8L486.5 943.8L482.7 944.9L478.7 946.1L474.9 947.3L470.9 948.8L466.8 950.5L462.6 952.3L458.6 953.9L454.9 955.4L451.4 956.6L448.3 957.7L445.4 958.6L442.5 959.3L439.7 959.7L436.7 960L433.5 960L430.4 959.7L427.2 959L423.8 958.3L420.2 957.5L416.4 956.9L412.2 956.6L407.4 956.5L402.3 956.6L397.2 956.8L392.7 957.1L389.1 957.4z" fill="none" stroke="#a86848" stroke-width="2.4" opacity="0.50" stroke-linejoin="round"/>
<path d="M388.1 963.4L391.1 963.3L395.2 963.2L400 962.9L405.1 962.5L410 962.2L414.2 962L417.9 962L421.4 962.2L424.9 962.5L428.3 962.8L431.7 963L435.2 963L438.4 962.9L441.5 962.6L444.5 962.2L447.6 961.8L450.9 961.2L454.4 960.5L458.3 959.5L462.5 958.3L466.8 956.9L471.1 955.4L475.1 953.9L478.9 952.5L482.6 951.1L486.4 949.7L490.1 948.3L493.4 946.9L496.2 945.8L498.2 944.9L496 941.4L493.5 942L490.2 942.8L486.5 943.8L482.7 944.9L478.7 946.1L474.9 947.3L470.9 948.8L466.8 950.5L462.6 952.3L458.6 953.9L454.9 955.4L451.4 956.6L448.3 957.7L445.4 958.6L442.5 959.3L439.7 959.7L436.7 960L433.5 960L430.4 959.7L427.2 959L423.8 958.3L420.2 957.5L416.4 956.9L412.2 956.6L407.4 956.5L402.3 956.6L397.2 956.8L392.7 957.1L389.1 957.4z" fill="#f8f6f2"/>
<path d="M417.1 1002.7L418 1000.2L419.1 996.7L420.1 992.6L421.2 988.3L422.3 984.2L423.5 980.9L425 978.1L426.7 975.7L428.7 973.6L430.9 971.8L433.2 970.5L435.4 969.3L437.5 968.1L440.1 966.9L442.8 965.7L445.5 964.6L447.8 963.6L449.4 962.9L448.5 962.5L446.4 962.3L443.6 962.2L440.5 962.4L437.2 962.9L434.1 963.9L431.4 965.6L429.3 967.8L427.3 970.1L425.3 972.5L423.4 975.1L421.4 977.8L419.4 980.8L417.4 984.6L415.5 988.7L413.9 993L412.6 996.8L411.8 999.8z" fill="none" stroke="#a86848" stroke-width="2.4" opacity="0.50" stroke-linejoin="round"/>
<path d="M417.1 1002.7L418 1000.2L419.1 996.7L420.1 992.6L421.2 988.3L422.3 984.2L423.5 980.9L425 978.1L426.7 975.7L428.7 973.6L430.9 971.8L433.2 970.5L435.4 969.3L437.5 968.1L440.1 966.9L442.8 965.7L445.5 964.6L447.8 963.6L449.4 962.9L448.5 962.5L446.4 962.3L443.6 962.2L440.5 962.4L437.2 962.9L434.1 963.9L431.4 965.6L429.3 967.8L427.3 970.1L425.3 972.5L423.4 975.1L421.4 977.8L419.4 980.8L417.4 984.6L415.5 988.7L413.9 993L412.6 996.8L411.8 999.8z" fill="#f8f6f2"/>
<path d="M385.7 989.3L386.6 990.4L388.4 991.5L390.7 992.6L393.3 993.9L395.7 995.3L397.9 997L400.3 999L403 1001L405.9 1002.6L408.9 1003.6L411.5 1004L413.4 1004L414.5 999L412.7 997.5L410.1 996.1L407.2 995.1L404.1 994.4L401.2 993.8L398.9 993L396.8 991.5L395.1 989.5L393.6 987.3L392.3 985.4L390.9 984.1z" fill="none" stroke="#a86848" stroke-width="2.4" opacity="0.50" stroke-linejoin="round"/>
<path d="M385.7 989.3L386.6 990.4L388.4 991.5L390.7 992.6L393.3 993.9L395.7 995.3L397.9 997L400.3 999L403 1001L405.9 1002.6L408.9 1003.6L411.5 1004L413.4 1004L414.5 999L412.7 997.5L410.1 996.1L407.2 995.1L404.1 994.4L401.2 993.8L398.9 993L396.8 991.5L395.1 989.5L393.6 987.3L392.3 985.4L390.9 984.1z" fill="#f8f6f2"/>
<path d="M484.2 904L485 906.1L486.3 909L488.2 912.1L490.2 915.2L492.1 918.2L493.3 920.7L493.9 922.9L494.3 924.9L494.6 926.7L495.1 928.2L495.7 929.4L496.4 930.4L498.9 929.1L499 927.9L498.8 926.4L498.2 924.7L497.2 922.8L496 920.8L494.6 918.5L493 915.7L491.2 912.4L489.2 909.2L487.2 906.4L485.3 904.4z" fill="none" stroke="#a86848" stroke-width="2.4" opacity="0.50" stroke-linejoin="round"/>
<path d="M484.2 904L485 906.1L486.3 909L488.2 912.1L490.2 915.2L492.1 918.2L493.3 920.7L493.9 922.9L494.3 924.9L494.6 926.7L495.1 928.2L495.7 929.4L496.4 930.4L498.9 929.1L499 927.9L498.8 926.4L498.2 924.7L497.2 922.8L496 920.8L494.6 918.5L493 915.7L491.2 912.4L489.2 909.2L487.2 906.4L485.3 904.4z" fill="#f8f6f2"/>
<path d="M442.9 983.5L445.2 983L448.1 982L451.5 980.6L455.2 979.1L458.9 978L462.5 977.7L466.4 978.4L470.7 979.7L475.4 980.9L479.9 982.1L483.8 982.9L486.6 983.5L485.5 982.7L482.5 981.1L478.5 979.3L473.9 977.5L469.1 976.3L464.6 975.8L460.6 976L456.6 976.8L452.7 978L449 979.5L445.9 981.1L443.6 982.6z" fill="none" stroke="#a86848" stroke-width="2.4" opacity="0.50" stroke-linejoin="round"/>
<path d="M442.9 983.5L445.2 983L448.1 982L451.5 980.6L455.2 979.1L458.9 978L462.5 977.7L466.4 978.4L470.7 979.7L475.4 980.9L479.9 982.1L483.8 982.9L486.6 983.5L485.5 982.7L482.5 981.1L478.5 979.3L473.9 977.5L469.1 976.3L464.6 975.8L460.6 976L456.6 976.8L452.7 978L449 979.5L445.9 981.1L443.6 982.6z" fill="#f8f6f2"/>
<path d="M448.1 925.5L446.9 926.5L445.2 927.9L443.4 929.9L441.7 932.1L440.5 934.3L439.9 936.5L440.2 938.9L441.3 941.2L443.1 943.3L445.1 945.1L447 946.5L448.2 947.5L448 946.7L447 945L445.6 943L444 940.9L442.6 938.9L441.6 937.3L441.4 935.7L442.2 933.9L443.7 931.9L445.4 929.9L447 928L448.1 926.4z" fill="none" stroke="#a86848" stroke-width="2.4" opacity="0.50" stroke-linejoin="round"/>
<path d="M448.1 925.5L446.9 926.5L445.2 927.9L443.4 929.9L441.7 932.1L440.5 934.3L439.9 936.5L440.2 938.9L441.3 941.2L443.1 943.3L445.1 945.1L447 946.5L448.2 947.5L448 946.7L447 945L445.6 943L444 940.9L442.6 938.9L441.6 937.3L441.4 935.7L442.2 933.9L443.7 931.9L445.4 929.9L447 928L448.1 926.4z" fill="#f8f6f2"/>
<g fill="#5a7ab8" opacity="0.75"><ellipse cx="485.5" cy="976.9" rx="1.6" ry="0.9" transform="rotate(57 485.5 976.9)"/><ellipse cx="411.4" cy="908.4" rx="1.5" ry="0.8" transform="rotate(98 411.4 908.4)"/><ellipse cx="435.5" cy="899.4" rx="2.0" ry="0.8" transform="rotate(123 435.5 899.4)"/><ellipse cx="497.2" cy="926.4" rx="2.3" ry="1.0" transform="rotate(103 497.2 926.4)"/><ellipse cx="393.2" cy="948.5" rx="1.6" ry="1.0" transform="rotate(4 393.2 948.5)"/><ellipse cx="429.0" cy="900.7" rx="1.5" ry="0.8" transform="rotate(42 429.0 900.7)"/><ellipse cx="395.1" cy="936.1" rx="2.2" ry="1.0" transform="rotate(47 395.1 936.1)"/><ellipse cx="406.6" cy="911.5" rx="1.9" ry="0.8" transform="rotate(44 406.6 911.5)"/><ellipse cx="392.6" cy="969.6" rx="1.4" ry="0.9" transform="rotate(75 392.6 969.6)"/><ellipse cx="461.4" cy="984.4" rx="1.5" ry="0.9" transform="rotate(102 461.4 984.4)"/><ellipse cx="423.6" cy="945.2" rx="1.4" ry="0.9" transform="rotate(57 423.6 945.2)"/><ellipse cx="461.8" cy="952.8" rx="2.0" ry="0.8" transform="rotate(175 461.8 952.8)"/><ellipse cx="470.1" cy="958.0" rx="2.2" ry="0.9" transform="rotate(56 470.1 958.0)"/><ellipse cx="430.1" cy="980.0" rx="2.2" ry="0.8" transform="rotate(60 430.1 980.0)"/><ellipse cx="496.6" cy="981.5" rx="1.6" ry="1.1" transform="rotate(89 496.6 981.5)"/><ellipse cx="475.7" cy="935.4" rx="2.2" ry="0.8" transform="rotate(42 475.7 935.4)"/><ellipse cx="476.9" cy="957.5" rx="2.3" ry="0.8" transform="rotate(124 476.9 957.5)"/><ellipse cx="460.8" cy="974.0" rx="1.9" ry="1.0" transform="rotate(169 460.8 974.0)"/><ellipse cx="485.3" cy="980.6" rx="2.1" ry="0.8" transform="rotate(169 485.3 980.6)"/><ellipse cx="409.4" cy="923.4" rx="1.7" ry="0.8" transform="rotate(20 409.4 923.4)"/><ellipse cx="447.8" cy="943.4" rx="1.6" ry="0.8" transform="rotate(171 447.8 943.4)"/><ellipse cx="444.9" cy="959.4" rx="1.5" ry="0.8" transform="rotate(116 444.9 959.4)"/><ellipse cx="494.0" cy="898.4" rx="2.1" ry="1.1" transform="rotate(53 494.0 898.4)"/><ellipse cx="475.2" cy="968.8" rx="1.9" ry="0.8" transform="rotate(36 475.2 968.8)"/><ellipse cx="448.6" cy="990.4" rx="1.4" ry="0.9" transform="rotate(89 448.6 990.4)"/><ellipse cx="469.2" cy="946.7" rx="1.7" ry="0.8" transform="rotate(133 469.2 946.7)"/><ellipse cx="495.0" cy="946.5" rx="2.2" ry="0.9" transform="rotate(67 495.0 946.5)"/><ellipse cx="454.7" cy="934.0" rx="1.4" ry="0.8" transform="rotate(157 454.7 934.0)"/><ellipse cx="479.2" cy="902.1" rx="1.7" ry="0.8" transform="rotate(137 479.2 902.1)"/><ellipse cx="469.1" cy="924.6" rx="2.2" ry="0.8" transform="rotate(4 469.1 924.6)"/></g>
<g fill="#9a6a40" opacity="0.9"><ellipse cx="399.7" cy="969.4" rx="1.3" ry="0.8" transform="rotate(9 399.7 969.4)"/><ellipse cx="491.1" cy="922.5" rx="1.0" ry="0.6" transform="rotate(135 491.1 922.5)"/><ellipse cx="468.5" cy="964.6" rx="1.0" ry="0.6" transform="rotate(38 468.5 964.6)"/><ellipse cx="463.0" cy="936.2" rx="1.4" ry="0.9" transform="rotate(168 463.0 936.2)"/><ellipse cx="401.0" cy="917.3" rx="1.5" ry="0.9" transform="rotate(51 401.0 917.3)"/><ellipse cx="427.2" cy="921.3" rx="1.4" ry="0.9" transform="rotate(137 427.2 921.3)"/><ellipse cx="457.2" cy="909.3" rx="1.2" ry="0.7" transform="rotate(42 457.2 909.3)"/><ellipse cx="460.8" cy="910.9" rx="1.3" ry="0.8" transform="rotate(151 460.8 910.9)"/><ellipse cx="401.5" cy="929.7" rx="0.9" ry="0.5" transform="rotate(69 401.5 929.7)"/><ellipse cx="410.4" cy="999.4" rx="1.1" ry="0.7" transform="rotate(48 410.4 999.4)"/></g>
</g></g>
<rect x="388.0" y="893.0" width="109.6" height="108.8" fill="none" stroke="#222" stroke-width="2.60"/>
<line x1="461.5" y1="991.6" x2="489.1" y2="991.6" stroke="#000" stroke-width="2.40"/>
<line x1="538.3" y1="1015.0" x2="669.8" y2="1015.0" stroke="#000" stroke-width="1.20"/>
<line x1="541.8" y1="883.0" x2="541.8" y2="1015.0" stroke="#000" stroke-width="1.20"/>
<line x1="538.3" y1="1015.0" x2="541.8" y2="1015.0" stroke="#000" stroke-width="1.10"/>
<text x="536.8" y="1018.3" font-size="9.50" text-anchor="end" fill="#111">0</text>
<line x1="538.3" y1="971.0" x2="541.8" y2="971.0" stroke="#000" stroke-width="1.10"/>
<text x="536.8" y="974.3" font-size="9.50" text-anchor="end" fill="#111">20</text>
<line x1="538.3" y1="927.0" x2="541.8" y2="927.0" stroke="#000" stroke-width="1.10"/>
<text x="536.8" y="930.3" font-size="9.50" text-anchor="end" fill="#111">40</text>
<line x1="538.3" y1="883.0" x2="541.8" y2="883.0" stroke="#000" stroke-width="1.10"/>
<text x="536.8" y="886.3" font-size="9.50" text-anchor="end" fill="#111">60</text>
<rect x="551.4" y="1008.4" width="19.9" height="6.6" fill="#c8c8c8" stroke="#111" stroke-width="1.20"/>
<circle cx="556.3" cy="1006.2" r="2.40" fill="#999" stroke="#333" stroke-width="0.50"/>
<circle cx="561.3" cy="1009.3" r="2.40" fill="#999" stroke="#333" stroke-width="0.50"/>
<circle cx="566.3" cy="1008.4" r="2.40" fill="#999" stroke="#333" stroke-width="0.50"/>
<line x1="561.3" y1="1010.2" x2="561.3" y2="1007.1" stroke="#111" stroke-width="1.10"/>
<line x1="556.8" y1="1010.2" x2="565.8" y2="1010.2" stroke="#111" stroke-width="1.10"/>
<line x1="556.8" y1="1007.1" x2="565.8" y2="1007.1" stroke="#111" stroke-width="1.10"/>
<rect x="582.3" y="999.6" width="19.9" height="15.4" fill="#ccd8fa" stroke="#1f45ff" stroke-width="1.20"/>
<circle cx="587.2" cy="993.9" r="2.40" fill="#1030c0" stroke="#333" stroke-width="0.50"/>
<circle cx="597.2" cy="993.9" r="2.40" fill="#1030c0" stroke="#333" stroke-width="0.50"/>
<circle cx="592.2" cy="1006.9" r="2.40" fill="#1030c0" stroke="#333" stroke-width="0.50"/>
<line x1="592.2" y1="1004.9" x2="592.2" y2="995.2" stroke="#111" stroke-width="1.10"/>
<line x1="587.8" y1="1004.9" x2="596.8" y2="1004.9" stroke="#111" stroke-width="1.10"/>
<line x1="587.8" y1="995.2" x2="596.8" y2="995.2" stroke="#111" stroke-width="1.10"/>
<rect x="613.2" y="920.4" width="19.8" height="94.6" fill="#ffd6ea" stroke="#ff3d9a" stroke-width="1.20"/>
<circle cx="623.1" cy="911.4" r="2.40" fill="#ff3390" stroke="#333" stroke-width="0.50"/>
<circle cx="623.1" cy="923.3" r="2.40" fill="#ff3390" stroke="#333" stroke-width="0.50"/>
<circle cx="623.1" cy="928.5" r="2.40" fill="#ff3390" stroke="#333" stroke-width="0.50"/>
<line x1="623.1" y1="925.7" x2="623.1" y2="915.6" stroke="#111" stroke-width="1.10"/>
<line x1="618.6" y1="925.7" x2="627.6" y2="925.7" stroke="#111" stroke-width="1.10"/>
<line x1="618.6" y1="915.6" x2="627.6" y2="915.6" stroke="#111" stroke-width="1.10"/>
<text x="623.1" y="907.9" font-size="9.60" text-anchor="middle">*</text>
<rect x="643.3" y="921.1" width="19.6" height="93.9" fill="#e6daff" stroke="#a050ff" stroke-width="1.20"/>
<circle cx="653.1" cy="884.1" r="2.40" fill="#a040ff" stroke="#333" stroke-width="0.50"/>
<circle cx="653.1" cy="921.7" r="2.40" fill="#a040ff" stroke="#333" stroke-width="0.50"/>
<circle cx="653.1" cy="953.4" r="2.40" fill="#a040ff" stroke="#333" stroke-width="0.50"/>
<line x1="653.1" y1="940.2" x2="653.1" y2="901.0" stroke="#111" stroke-width="1.10"/>
<line x1="648.6" y1="940.2" x2="657.6" y2="940.2" stroke="#111" stroke-width="1.10"/>
<line x1="648.6" y1="901.0" x2="657.6" y2="901.0" stroke="#111" stroke-width="1.10"/>
<text x="653.1" y="883.9" font-size="9.60" text-anchor="middle">*</text>
<rect x="674.2" y="945.8" width="7.2" height="6.8" fill="#000000"/>
<text x="685.3" y="953.0" font-size="10.80">WT</text>
<rect x="674.2" y="957.8" width="7.2" height="6.8" fill="#1030ff"/>
<text x="685.3" y="965.0" font-size="10.80">ErbB2 KI</text>
<rect x="674.2" y="969.1" width="7.2" height="6.8" fill="#ff10aa"/>
<text x="685.3" y="976.3" font-size="10.80">ERR&#945; KO</text>
<rect x="674.2" y="980.7" width="7.2" height="6.8" fill="#9a10ff"/>
<text x="685.3" y="987.9" font-size="10.80">KI:KO</text>
<text x="521.0" y="946.6" font-size="11.20" text-anchor="middle" transform="rotate(-90 521.0 946.6)" textLength="135.4" lengthAdjust="spacingAndGlyphs">&#945;-SMA positive area (%)</text>
<polyline points="591.6,970.4 591.6,868.6 653.3,868.6 653.3,873.0" fill="none" stroke="#111" stroke-width="1.10"/>
<text x="622.8" y="869.1" font-size="9.60" text-anchor="middle">*</text>
</svg></body></html>
